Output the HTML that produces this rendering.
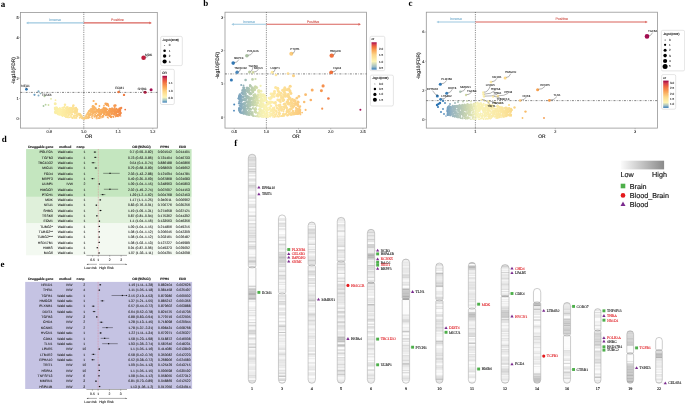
<!DOCTYPE html>
<html><head><meta charset="utf-8"><style>
html,body{margin:0;padding:0;background:#fff;width:685px;height:404px;overflow:hidden}
svg{display:block;font-family:"Liberation Sans",Arial,sans-serif;text-rendering:geometricPrecision}
</style></head><body>
<svg width="685" height="404" viewBox="0 0 685 404">
<rect width="685" height="404" fill="#fff"/>
<text x="0.8" y="7.2" font-size="9" font-weight="bold" font-family="Liberation Serif, serif">a</text>
<text x="203.3" y="5.9" font-size="9" font-weight="bold" font-family="Liberation Serif, serif">b</text>
<text x="408.4" y="6.1" font-size="9" font-weight="bold" font-family="Liberation Serif, serif">c</text>
<text x="1.7" y="141.9" font-size="9" font-weight="bold" font-family="Liberation Serif, serif">d</text>
<text x="0.5" y="267.1" font-size="9" font-weight="bold" font-family="Liberation Serif, serif">e</text>
<text x="234.3" y="146.1" font-size="9" font-weight="bold" font-family="Liberation Serif, serif">f</text>
<rect x="20.4" y="12.4" width="136.9" height="115.7" fill="#fff" stroke="#969696" stroke-width="0.8"/>
<line x1="19.1" y1="118.8" x2="20.4" y2="118.8" stroke="#969696" stroke-width="0.6"/>
<text x="18.6" y="120.2" font-size="3.9" stroke="#2a2a2a" stroke-width="0.1" text-anchor="end" fill="#2a2a2a">0</text>
<line x1="19.1" y1="98.5" x2="20.4" y2="98.5" stroke="#969696" stroke-width="0.6"/>
<text x="18.6" y="99.9" font-size="3.9" stroke="#2a2a2a" stroke-width="0.1" text-anchor="end" fill="#2a2a2a">1</text>
<line x1="19.1" y1="78.2" x2="20.4" y2="78.2" stroke="#969696" stroke-width="0.6"/>
<text x="18.6" y="79.6" font-size="3.9" stroke="#2a2a2a" stroke-width="0.1" text-anchor="end" fill="#2a2a2a">2</text>
<line x1="19.1" y1="57.9" x2="20.4" y2="57.9" stroke="#969696" stroke-width="0.6"/>
<text x="18.6" y="59.3" font-size="3.9" stroke="#2a2a2a" stroke-width="0.1" text-anchor="end" fill="#2a2a2a">3</text>
<line x1="19.1" y1="37.6" x2="20.4" y2="37.6" stroke="#969696" stroke-width="0.6"/>
<text x="18.6" y="39" font-size="3.9" stroke="#2a2a2a" stroke-width="0.1" text-anchor="end" fill="#2a2a2a">4</text>
<line x1="19.1" y1="17.3" x2="20.4" y2="17.3" stroke="#969696" stroke-width="0.6"/>
<text x="18.6" y="18.7" font-size="3.9" stroke="#2a2a2a" stroke-width="0.1" text-anchor="end" fill="#2a2a2a">5</text>
<line x1="49.3" y1="128.1" x2="49.3" y2="129.4" stroke="#969696" stroke-width="0.6"/>
<text x="49.3" y="132.6" font-size="3.9" stroke="#2a2a2a" stroke-width="0.1" text-anchor="middle" fill="#2a2a2a">0.9</text>
<line x1="83.8" y1="128.1" x2="83.8" y2="129.4" stroke="#969696" stroke-width="0.6"/>
<text x="83.8" y="132.6" font-size="3.9" stroke="#2a2a2a" stroke-width="0.1" text-anchor="middle" fill="#2a2a2a">1.0</text>
<line x1="118.3" y1="128.1" x2="118.3" y2="129.4" stroke="#969696" stroke-width="0.6"/>
<text x="118.3" y="132.6" font-size="3.9" stroke="#2a2a2a" stroke-width="0.1" text-anchor="middle" fill="#2a2a2a">1.1</text>
<line x1="152.8" y1="128.1" x2="152.8" y2="129.4" stroke="#969696" stroke-width="0.6"/>
<text x="152.8" y="132.6" font-size="3.9" stroke="#2a2a2a" stroke-width="0.1" text-anchor="middle" fill="#2a2a2a">1.2</text>
<text x="88.7" y="137.76" font-size="4.9" stroke="#2a2a2a" stroke-width="0.15" text-anchor="middle" fill="#2a2a2a">OR</text>
<text x="13.6" y="72.36" font-size="4.9" stroke="#2a2a2a" stroke-width="0.15" text-anchor="middle" fill="#2a2a2a" transform="rotate(-90 13.6 70.6)">-log10(FDR)</text>
<line x1="83.8" y1="12.4" x2="83.8" y2="128.1" stroke="#333" stroke-width="0.65" stroke-dasharray="0.8 1.0"/>
<circle cx="82.98" cy="118.81" r="0.55" fill="#fbd182"/>
<circle cx="82.27" cy="118.8" r="0.56" fill="#fbd384"/>
<circle cx="82.39" cy="118.75" r="0.56" fill="#fbd384"/>
<circle cx="76.72" cy="118.52" r="0.57" fill="#fbde91"/>
<circle cx="83.69" cy="118.52" r="0.57" fill="#fbcf80"/>
<circle cx="83.18" cy="118.47" r="0.57" fill="#fbd182"/>
<circle cx="79.81" cy="118.42" r="0.57" fill="#fbd98b"/>
<circle cx="72.46" cy="118.39" r="0.58" fill="#fce396"/>
<circle cx="81.72" cy="118.38" r="0.58" fill="#fbd486"/>
<circle cx="82.82" cy="118.33" r="0.58" fill="#fbd183"/>
<circle cx="75.26" cy="118.31" r="0.58" fill="#fbe093"/>
<circle cx="81.97" cy="118.22" r="0.58" fill="#fbd485"/>
<circle cx="82.91" cy="118.21" r="0.58" fill="#fbd182"/>
<circle cx="74.67" cy="118.21" r="0.58" fill="#fbe093"/>
<circle cx="82.28" cy="118.15" r="0.59" fill="#fbd384"/>
<circle cx="81.94" cy="118.11" r="0.59" fill="#fbd485"/>
<circle cx="73.4" cy="118.02" r="0.59" fill="#fce295"/>
<circle cx="71.73" cy="117.99" r="0.6" fill="#fce397"/>
<circle cx="81.71" cy="117.98" r="0.6" fill="#fbd486"/>
<circle cx="73.04" cy="117.86" r="0.6" fill="#fce296"/>
<circle cx="72.53" cy="117.85" r="0.6" fill="#fce296"/>
<circle cx="76.56" cy="117.82" r="0.6" fill="#fbde91"/>
<circle cx="82.86" cy="117.79" r="0.61" fill="#fbd183"/>
<circle cx="83.07" cy="117.78" r="0.61" fill="#fbd182"/>
<circle cx="74.85" cy="117.74" r="0.61" fill="#fbe093"/>
<circle cx="72.82" cy="117.7" r="0.61" fill="#fce296"/>
<circle cx="68.93" cy="117.63" r="0.61" fill="#fce69b"/>
<circle cx="75.59" cy="117.61" r="0.61" fill="#fbdf92"/>
<circle cx="67.62" cy="117.59" r="0.62" fill="#fce89d"/>
<circle cx="80.05" cy="117.54" r="0.62" fill="#fbd88a"/>
<circle cx="68.19" cy="117.53" r="0.62" fill="#fce79c"/>
<circle cx="72.45" cy="117.51" r="0.62" fill="#fce396"/>
<circle cx="76.71" cy="117.48" r="0.62" fill="#fbde91"/>
<circle cx="79.4" cy="117.48" r="0.62" fill="#fbda8c"/>
<circle cx="82.63" cy="117.47" r="0.62" fill="#fbd283"/>
<circle cx="65.97" cy="117.41" r="0.62" fill="#fce99f"/>
<circle cx="81.13" cy="117.41" r="0.62" fill="#fbd687"/>
<circle cx="74.29" cy="117.39" r="0.63" fill="#fbe194"/>
<circle cx="67.64" cy="117.39" r="0.63" fill="#fce89d"/>
<circle cx="71.76" cy="117.38" r="0.63" fill="#fce397"/>
<circle cx="80.45" cy="117.36" r="0.63" fill="#fbd789"/>
<circle cx="66.41" cy="117.35" r="0.63" fill="#fce99f"/>
<circle cx="71.64" cy="117.33" r="0.63" fill="#fce398"/>
<circle cx="69.35" cy="117.26" r="0.63" fill="#fce69b"/>
<circle cx="70.01" cy="117.25" r="0.63" fill="#fce59a"/>
<circle cx="69.78" cy="117.18" r="0.64" fill="#fce59a"/>
<circle cx="65.44" cy="117.01" r="0.64" fill="#fceaa0"/>
<circle cx="81.07" cy="116.99" r="0.65" fill="#fbd687"/>
<circle cx="66.58" cy="116.96" r="0.65" fill="#fce99f"/>
<circle cx="80.78" cy="116.87" r="0.65" fill="#fbd788"/>
<circle cx="80.65" cy="116.87" r="0.65" fill="#fbd789"/>
<circle cx="70.34" cy="116.82" r="0.65" fill="#fce599"/>
<circle cx="76.35" cy="116.76" r="0.66" fill="#fbde91"/>
<circle cx="74" cy="116.73" r="0.66" fill="#fbe194"/>
<circle cx="81.81" cy="116.57" r="0.67" fill="#fbd485"/>
<circle cx="82.12" cy="116.48" r="0.67" fill="#fbd385"/>
<circle cx="73.5" cy="116.48" r="0.67" fill="#fce195"/>
<circle cx="65.9" cy="116.47" r="0.67" fill="#fce99f"/>
<circle cx="64.3" cy="116.43" r="0.67" fill="#fdeba2"/>
<circle cx="67.31" cy="116.39" r="0.68" fill="#fce89e"/>
<circle cx="80.3" cy="116.38" r="0.68" fill="#fbd889"/>
<circle cx="64.92" cy="116.35" r="0.68" fill="#fceaa1"/>
<circle cx="71.25" cy="116.32" r="0.68" fill="#fce498"/>
<circle cx="73.97" cy="116.32" r="0.68" fill="#fbe194"/>
<circle cx="77.4" cy="116.3" r="0.68" fill="#fbdd90"/>
<circle cx="62.36" cy="116.27" r="0.68" fill="#fdeda4"/>
<circle cx="73.19" cy="116.27" r="0.68" fill="#fce295"/>
<circle cx="68.36" cy="116.26" r="0.68" fill="#fce79c"/>
<circle cx="65.46" cy="116.24" r="0.68" fill="#fceaa0"/>
<circle cx="75.67" cy="116.12" r="0.69" fill="#fbdf92"/>
<circle cx="62.76" cy="116.09" r="0.69" fill="#fdeda4"/>
<circle cx="77.78" cy="116.05" r="0.69" fill="#fbdd8f"/>
<circle cx="74.7" cy="116.05" r="0.69" fill="#fbe093"/>
<circle cx="66.91" cy="116.02" r="0.69" fill="#fce89e"/>
<circle cx="81.85" cy="115.97" r="0.7" fill="#fbd485"/>
<circle cx="73.82" cy="115.94" r="0.7" fill="#fce195"/>
<circle cx="77.29" cy="115.92" r="0.7" fill="#fbdd90"/>
<circle cx="73.72" cy="115.89" r="0.7" fill="#fce195"/>
<circle cx="71.14" cy="115.88" r="0.7" fill="#fce498"/>
<circle cx="64.54" cy="115.85" r="0.7" fill="#fceba1"/>
<circle cx="65.11" cy="115.84" r="0.7" fill="#fceaa1"/>
<circle cx="76.28" cy="115.83" r="0.7" fill="#fbde91"/>
<circle cx="80.55" cy="115.69" r="0.71" fill="#fbd789"/>
<circle cx="70.71" cy="115.67" r="0.71" fill="#fce499"/>
<circle cx="81.52" cy="115.6" r="0.71" fill="#fbd586"/>
<circle cx="65.72" cy="115.58" r="0.72" fill="#fceaa0"/>
<circle cx="80.99" cy="115.57" r="0.72" fill="#fbd688"/>
<circle cx="61.7" cy="115.55" r="0.72" fill="#fdeea5"/>
<circle cx="63.59" cy="115.48" r="0.72" fill="#fdeca3"/>
<circle cx="62.54" cy="115.47" r="0.72" fill="#fdeda4"/>
<circle cx="68.46" cy="115.43" r="0.72" fill="#fce79c"/>
<circle cx="62.95" cy="115.42" r="0.72" fill="#fdeda3"/>
<circle cx="79.49" cy="115.4" r="0.73" fill="#fbda8c"/>
<circle cx="62.61" cy="115.38" r="0.73" fill="#fdeda4"/>
<circle cx="61.5" cy="115.38" r="0.73" fill="#fdeea5"/>
<circle cx="76.42" cy="115.33" r="0.73" fill="#fbde91"/>
<circle cx="68.33" cy="115.31" r="0.73" fill="#fce79c"/>
<circle cx="75.57" cy="115.24" r="0.73" fill="#fbdf92"/>
<circle cx="80.55" cy="115.21" r="0.73" fill="#fbd789"/>
<circle cx="74.46" cy="115.21" r="0.73" fill="#fbe094"/>
<circle cx="80.35" cy="115.18" r="0.74" fill="#fbd889"/>
<circle cx="66.96" cy="115.15" r="0.74" fill="#fce89e"/>
<circle cx="68.57" cy="115.13" r="0.74" fill="#fce79c"/>
<circle cx="62.11" cy="115.11" r="0.74" fill="#fdeda5"/>
<circle cx="59.05" cy="115.08" r="0.74" fill="#fcf0a8"/>
<circle cx="64.38" cy="115.07" r="0.74" fill="#fdeba2"/>
<circle cx="66.06" cy="115.07" r="0.74" fill="#fce99f"/>
<circle cx="80.62" cy="115.05" r="0.74" fill="#fbd789"/>
<circle cx="80.27" cy="115.03" r="0.74" fill="#fbd88a"/>
<circle cx="80.03" cy="115.03" r="0.74" fill="#fbd88a"/>
<circle cx="79.11" cy="114.98" r="0.75" fill="#fbdb8d"/>
<circle cx="69.42" cy="114.91" r="0.75" fill="#fce69b"/>
<circle cx="63.99" cy="114.91" r="0.75" fill="#fdeba2"/>
<circle cx="65.28" cy="114.89" r="0.75" fill="#fceaa0"/>
<circle cx="60.02" cy="114.86" r="0.75" fill="#fdf0a7"/>
<circle cx="60.03" cy="114.81" r="0.75" fill="#fdf0a7"/>
<circle cx="61.86" cy="114.79" r="0.76" fill="#fdeea5"/>
<circle cx="66.63" cy="114.74" r="0.76" fill="#fce99e"/>
<circle cx="68.59" cy="114.73" r="0.76" fill="#fce79c"/>
<circle cx="60.12" cy="114.72" r="0.76" fill="#fdf0a7"/>
<circle cx="62.18" cy="114.7" r="0.76" fill="#fdeda5"/>
<circle cx="78.49" cy="114.68" r="0.76" fill="#fbdc8e"/>
<circle cx="77.07" cy="114.64" r="0.76" fill="#fbde90"/>
<circle cx="71.47" cy="114.63" r="0.76" fill="#fce498"/>
<circle cx="63.22" cy="114.6" r="0.76" fill="#fdeca3"/>
<circle cx="77.09" cy="114.6" r="0.77" fill="#fbde90"/>
<circle cx="80.83" cy="114.59" r="0.77" fill="#fbd688"/>
<circle cx="71.96" cy="114.59" r="0.77" fill="#fce397"/>
<circle cx="60.34" cy="114.58" r="0.77" fill="#fdefa7"/>
<circle cx="65.76" cy="114.58" r="0.77" fill="#fceaa0"/>
<circle cx="62.52" cy="114.57" r="0.77" fill="#fdeda4"/>
<circle cx="77.12" cy="114.54" r="0.77" fill="#fbde90"/>
<circle cx="71.69" cy="114.53" r="0.77" fill="#fce397"/>
<circle cx="63.36" cy="114.5" r="0.77" fill="#fdeca3"/>
<circle cx="64.23" cy="114.5" r="0.77" fill="#fdeba2"/>
<circle cx="58.87" cy="114.46" r="0.77" fill="#fcf0a8"/>
<circle cx="62.02" cy="114.45" r="0.77" fill="#fdeea5"/>
<circle cx="57.76" cy="114.44" r="0.77" fill="#fbefa8"/>
<circle cx="72.52" cy="114.42" r="0.77" fill="#fce296"/>
<circle cx="60.88" cy="114.36" r="0.78" fill="#fdefa6"/>
<circle cx="59.71" cy="114.34" r="0.78" fill="#fdf0a8"/>
<circle cx="61" cy="114.33" r="0.78" fill="#fdefa6"/>
<circle cx="64.03" cy="114.31" r="0.78" fill="#fdeba2"/>
<circle cx="69.46" cy="114.29" r="0.78" fill="#fce69b"/>
<circle cx="66.09" cy="114.27" r="0.78" fill="#fce99f"/>
<circle cx="63.67" cy="114.13" r="0.79" fill="#fdeca2"/>
<circle cx="57.36" cy="114.1" r="0.79" fill="#fbefa8"/>
<circle cx="64.59" cy="114.1" r="0.79" fill="#fceba1"/>
<circle cx="66.95" cy="114.09" r="0.79" fill="#fce89e"/>
<circle cx="70.48" cy="114.08" r="0.79" fill="#fce599"/>
<circle cx="68.77" cy="114.06" r="0.79" fill="#fce69c"/>
<circle cx="57.78" cy="114.06" r="0.79" fill="#fbefa8"/>
<circle cx="79.67" cy="114.05" r="0.79" fill="#fbd98b"/>
<circle cx="61.8" cy="114.03" r="0.79" fill="#fdeea5"/>
<circle cx="78.19" cy="113.99" r="0.8" fill="#fbdc8f"/>
<circle cx="58.12" cy="113.91" r="0.8" fill="#fcefa8"/>
<circle cx="78.81" cy="113.9" r="0.8" fill="#fbdc8d"/>
<circle cx="62.16" cy="113.87" r="0.8" fill="#fdeda5"/>
<circle cx="63.86" cy="113.84" r="0.8" fill="#fdeca2"/>
<circle cx="62.09" cy="113.8" r="0.8" fill="#fdeda5"/>
<circle cx="59.99" cy="113.77" r="0.81" fill="#fdf0a8"/>
<circle cx="58.05" cy="113.76" r="0.81" fill="#fbefa8"/>
<circle cx="67.12" cy="113.75" r="0.81" fill="#fce89e"/>
<circle cx="59.25" cy="113.75" r="0.81" fill="#fdf0a8"/>
<circle cx="68.49" cy="113.74" r="0.81" fill="#fce79c"/>
<circle cx="74.86" cy="113.73" r="0.81" fill="#fbe093"/>
<circle cx="80.16" cy="113.69" r="0.81" fill="#fbd88a"/>
<circle cx="79.19" cy="113.66" r="0.81" fill="#fbdb8c"/>
<circle cx="76.11" cy="113.64" r="0.81" fill="#fbdf91"/>
<circle cx="78.22" cy="113.62" r="0.81" fill="#fbdc8f"/>
<circle cx="62.17" cy="113.57" r="0.82" fill="#fdeda5"/>
<circle cx="55.84" cy="113.52" r="0.82" fill="#f9efa8"/>
<circle cx="78.32" cy="113.48" r="0.82" fill="#fbdc8e"/>
<circle cx="59.81" cy="113.45" r="0.82" fill="#fdf0a8"/>
<circle cx="64.98" cy="113.42" r="0.82" fill="#fceaa1"/>
<circle cx="64.63" cy="113.41" r="0.82" fill="#fceba1"/>
<circle cx="58.66" cy="113.37" r="0.83" fill="#fcf0a8"/>
<circle cx="57" cy="113.34" r="0.83" fill="#faefa8"/>
<circle cx="57.6" cy="113.28" r="0.83" fill="#fbefa8"/>
<circle cx="65.83" cy="113.27" r="0.83" fill="#fce9a0"/>
<circle cx="70.84" cy="113.26" r="0.83" fill="#fce499"/>
<circle cx="62.79" cy="113.14" r="0.84" fill="#fdeda4"/>
<circle cx="61.96" cy="113.11" r="0.84" fill="#fdeea5"/>
<circle cx="65.74" cy="113.08" r="0.84" fill="#fceaa0"/>
<circle cx="56.47" cy="113.08" r="0.84" fill="#faefa8"/>
<circle cx="72.04" cy="112.94" r="0.85" fill="#fce397"/>
<circle cx="69.36" cy="112.93" r="0.85" fill="#fce69b"/>
<circle cx="56.55" cy="112.93" r="0.85" fill="#faefa8"/>
<circle cx="67.19" cy="112.88" r="0.85" fill="#fce89e"/>
<circle cx="55.28" cy="112.87" r="0.85" fill="#f9eea8"/>
<circle cx="62.62" cy="112.87" r="0.85" fill="#fdeda4"/>
<circle cx="55.24" cy="112.83" r="0.85" fill="#f9eea8"/>
<circle cx="74.59" cy="112.82" r="0.85" fill="#fbe094"/>
<circle cx="61.58" cy="112.8" r="0.86" fill="#fdeea5"/>
<circle cx="63.28" cy="112.78" r="0.86" fill="#fdeca3"/>
<circle cx="56.06" cy="112.76" r="0.86" fill="#faefa8"/>
<circle cx="66.4" cy="112.73" r="0.86" fill="#fce99f"/>
<circle cx="66.35" cy="112.72" r="0.86" fill="#fce99f"/>
<circle cx="56.01" cy="112.71" r="0.86" fill="#f9efa8"/>
<circle cx="67.56" cy="112.71" r="0.86" fill="#fce89d"/>
<circle cx="56.72" cy="112.68" r="0.86" fill="#faefa8"/>
<circle cx="62.12" cy="112.64" r="0.86" fill="#fdeda5"/>
<circle cx="60.71" cy="112.63" r="0.86" fill="#fdefa7"/>
<circle cx="62.17" cy="112.61" r="0.86" fill="#fdeda5"/>
<circle cx="60.66" cy="112.6" r="0.86" fill="#fdefa7"/>
<circle cx="57.22" cy="112.6" r="0.86" fill="#fbefa8"/>
<circle cx="76.9" cy="112.6" r="0.87" fill="#fbde90"/>
<circle cx="57.07" cy="112.52" r="0.87" fill="#fbefa8"/>
<circle cx="60.65" cy="112.5" r="0.87" fill="#fdefa7"/>
<circle cx="57.42" cy="112.49" r="0.87" fill="#fbefa8"/>
<circle cx="55.04" cy="112.48" r="0.87" fill="#f9eea8"/>
<circle cx="75.98" cy="112.45" r="0.87" fill="#fbdf92"/>
<circle cx="64.92" cy="112.44" r="0.87" fill="#fceaa1"/>
<circle cx="67.28" cy="112.39" r="0.88" fill="#fce89e"/>
<circle cx="64.78" cy="112.38" r="0.88" fill="#fceba1"/>
<circle cx="60.37" cy="112.38" r="0.88" fill="#fdefa7"/>
<circle cx="74.85" cy="112.38" r="0.88" fill="#fbe093"/>
<circle cx="68.66" cy="112.37" r="0.88" fill="#fce79c"/>
<circle cx="60.01" cy="112.33" r="0.88" fill="#fdf0a8"/>
<circle cx="55.02" cy="112.32" r="0.88" fill="#f9eea8"/>
<circle cx="62.49" cy="112.32" r="0.88" fill="#fdeda4"/>
<circle cx="69.91" cy="112.31" r="0.88" fill="#fce59a"/>
<circle cx="61.09" cy="112.29" r="0.88" fill="#fdeea6"/>
<circle cx="71.47" cy="112.28" r="0.88" fill="#fce498"/>
<circle cx="56.62" cy="112.28" r="0.88" fill="#faefa8"/>
<circle cx="67.29" cy="112.27" r="0.88" fill="#fce89e"/>
<circle cx="64.18" cy="112.25" r="0.88" fill="#fdeba2"/>
<circle cx="55.55" cy="112.23" r="0.88" fill="#f9eea8"/>
<circle cx="64.35" cy="112.23" r="0.88" fill="#fdeba2"/>
<circle cx="63.44" cy="112.22" r="0.88" fill="#fdeca3"/>
<circle cx="75.32" cy="112.21" r="0.88" fill="#fbdf93"/>
<circle cx="68.54" cy="112.19" r="0.89" fill="#fce79c"/>
<circle cx="58.41" cy="112.18" r="0.89" fill="#fcf0a8"/>
<circle cx="70.82" cy="112.16" r="0.89" fill="#fce499"/>
<circle cx="72.77" cy="112.16" r="0.89" fill="#fce296"/>
<circle cx="57.21" cy="112.15" r="0.89" fill="#fbefa8"/>
<circle cx="63.91" cy="112.15" r="0.89" fill="#fdeca2"/>
<circle cx="58.85" cy="112.13" r="0.89" fill="#fcf0a8"/>
<circle cx="65.92" cy="112.07" r="0.89" fill="#fce99f"/>
<circle cx="64.24" cy="112.04" r="0.89" fill="#fdeba2"/>
<circle cx="71.65" cy="112.04" r="0.89" fill="#fce398"/>
<circle cx="56.76" cy="112.04" r="0.89" fill="#faefa8"/>
<circle cx="59.14" cy="111.99" r="0.9" fill="#fdf0a8"/>
<circle cx="59.78" cy="111.92" r="0.9" fill="#fdf0a8"/>
<circle cx="62.66" cy="111.89" r="0.9" fill="#fdeda4"/>
<circle cx="55.01" cy="111.89" r="0.9" fill="#f9eea8"/>
<circle cx="67.7" cy="111.88" r="0.9" fill="#fce89d"/>
<circle cx="68.23" cy="111.85" r="0.9" fill="#fce79c"/>
<circle cx="69.73" cy="111.84" r="0.9" fill="#fce59a"/>
<circle cx="61.04" cy="111.84" r="0.9" fill="#fdefa6"/>
<circle cx="55.04" cy="111.83" r="0.9" fill="#f9eea8"/>
<circle cx="73.7" cy="111.78" r="0.91" fill="#fce195"/>
<circle cx="61.41" cy="111.77" r="0.91" fill="#fdeea6"/>
<circle cx="56.17" cy="111.75" r="0.91" fill="#faefa8"/>
<circle cx="69.91" cy="111.73" r="0.91" fill="#fce59a"/>
<circle cx="64.24" cy="111.71" r="0.91" fill="#fdeba2"/>
<circle cx="67.5" cy="111.68" r="0.91" fill="#fce89d"/>
<circle cx="77.01" cy="111.63" r="0.91" fill="#fbde90"/>
<circle cx="57.41" cy="111.63" r="0.91" fill="#fbefa8"/>
<circle cx="59.89" cy="111.61" r="0.91" fill="#fdf0a8"/>
<circle cx="68.57" cy="111.58" r="0.92" fill="#fce79c"/>
<circle cx="65.95" cy="111.57" r="0.92" fill="#fce99f"/>
<circle cx="63.47" cy="111.56" r="0.92" fill="#fdeca3"/>
<circle cx="56.93" cy="111.49" r="0.92" fill="#faefa8"/>
<circle cx="75.01" cy="111.47" r="0.92" fill="#fbe093"/>
<circle cx="66.07" cy="111.45" r="0.92" fill="#fce99f"/>
<circle cx="57.14" cy="111.45" r="0.92" fill="#fbefa8"/>
<circle cx="63.66" cy="111.4" r="0.93" fill="#fdeca3"/>
<circle cx="66.98" cy="111.39" r="0.93" fill="#fce89e"/>
<circle cx="73.21" cy="111.38" r="0.93" fill="#fce295"/>
<circle cx="57.26" cy="111.38" r="0.93" fill="#fbefa8"/>
<circle cx="75.04" cy="111.37" r="0.93" fill="#fbe093"/>
<circle cx="63" cy="111.36" r="0.93" fill="#fdeca3"/>
<circle cx="57.31" cy="111.36" r="0.93" fill="#fbefa8"/>
<circle cx="55.56" cy="111.35" r="0.93" fill="#f9eea8"/>
<circle cx="66.77" cy="111.34" r="0.93" fill="#fce89e"/>
<circle cx="66.01" cy="111.33" r="0.93" fill="#fce99f"/>
<circle cx="76" cy="111.32" r="0.93" fill="#fbdf92"/>
<circle cx="56.1" cy="111.29" r="0.93" fill="#faefa8"/>
<circle cx="66.1" cy="111.27" r="0.93" fill="#fce99f"/>
<circle cx="64.71" cy="111.24" r="0.93" fill="#fceba1"/>
<circle cx="68.96" cy="111.23" r="0.93" fill="#fce69b"/>
<circle cx="70.79" cy="111" r="0.95" fill="#fce499"/>
<circle cx="67.88" cy="110.97" r="0.95" fill="#fce79d"/>
<circle cx="60.07" cy="110.93" r="0.95" fill="#fdf0a7"/>
<circle cx="64.97" cy="110.89" r="0.95" fill="#fceaa1"/>
<circle cx="72.63" cy="110.87" r="0.95" fill="#fce296"/>
<circle cx="69.81" cy="110.86" r="0.95" fill="#fce59a"/>
<circle cx="60.05" cy="110.85" r="0.95" fill="#fdf0a7"/>
<circle cx="59.89" cy="110.82" r="0.95" fill="#fdf0a8"/>
<circle cx="67.01" cy="110.82" r="0.95" fill="#fce89e"/>
<circle cx="76.9" cy="110.81" r="0.95" fill="#fbde90"/>
<circle cx="59.68" cy="110.81" r="0.95" fill="#fdf0a8"/>
<circle cx="72.27" cy="110.77" r="0.96" fill="#fce397"/>
<circle cx="58.52" cy="110.77" r="0.96" fill="#fcf0a8"/>
<circle cx="64.06" cy="110.76" r="0.96" fill="#fdeba2"/>
<circle cx="57.49" cy="110.76" r="0.96" fill="#fbefa8"/>
<circle cx="62.77" cy="110.71" r="0.96" fill="#fdeda4"/>
<circle cx="67.37" cy="110.7" r="0.96" fill="#fce89d"/>
<circle cx="55.84" cy="110.62" r="0.96" fill="#f9efa8"/>
<circle cx="55.81" cy="110.6" r="0.96" fill="#f9efa8"/>
<circle cx="76.46" cy="110.59" r="0.97" fill="#fbde91"/>
<circle cx="65.49" cy="110.58" r="0.97" fill="#fceaa0"/>
<circle cx="56.91" cy="110.5" r="0.97" fill="#faefa8"/>
<circle cx="62.27" cy="110.42" r="0.97" fill="#fdeda4"/>
<circle cx="67.88" cy="110.39" r="0.98" fill="#fce79d"/>
<circle cx="70.3" cy="110.37" r="0.98" fill="#fce599"/>
<circle cx="57.28" cy="110.36" r="0.98" fill="#fbefa8"/>
<circle cx="58.36" cy="110.22" r="0.98" fill="#fcf0a8"/>
<circle cx="76.08" cy="110.18" r="0.99" fill="#fbdf91"/>
<circle cx="75.32" cy="110.18" r="0.99" fill="#fbdf93"/>
<circle cx="64.72" cy="110.13" r="0.99" fill="#fceba1"/>
<circle cx="57.47" cy="110.12" r="0.99" fill="#fbefa8"/>
<circle cx="74.62" cy="110.12" r="0.99" fill="#fbe093"/>
<circle cx="68.7" cy="110.07" r="0.99" fill="#fce69c"/>
<circle cx="67.07" cy="110.04" r="0.99" fill="#fce89e"/>
<circle cx="59.34" cy="110.04" r="0.99" fill="#fdf0a8"/>
<circle cx="70.78" cy="110.01" r="0.99" fill="#fce499"/>
<circle cx="58.99" cy="110" r="0.99" fill="#fcf0a8"/>
<circle cx="62.66" cy="109.85" r="1" fill="#fdeda4"/>
<circle cx="75.4" cy="109.78" r="1.01" fill="#fbdf92"/>
<circle cx="63.96" cy="109.75" r="1.01" fill="#fdeba2"/>
<circle cx="68.73" cy="109.75" r="1.01" fill="#fce69c"/>
<circle cx="59.72" cy="109.73" r="1.01" fill="#fdf0a8"/>
<circle cx="77.05" cy="109.73" r="1.01" fill="#fbde90"/>
<circle cx="56.16" cy="109.73" r="1.01" fill="#faefa8"/>
<circle cx="55.13" cy="109.7" r="1.01" fill="#f9eea8"/>
<circle cx="61.72" cy="109.69" r="1.01" fill="#fdeea5"/>
<circle cx="63.98" cy="109.68" r="1.01" fill="#fdeba2"/>
<circle cx="63.91" cy="109.68" r="1.01" fill="#fdeca2"/>
<circle cx="76.52" cy="109.64" r="1.01" fill="#fbde91"/>
<circle cx="58.91" cy="109.63" r="1.01" fill="#fcf0a8"/>
<circle cx="77.31" cy="109.55" r="1.02" fill="#fbdd90"/>
<circle cx="57.51" cy="109.52" r="1.02" fill="#fbefa8"/>
<circle cx="61.42" cy="109.52" r="1.02" fill="#fdeea6"/>
<circle cx="67.03" cy="109.48" r="1.02" fill="#fce89e"/>
<circle cx="59.88" cy="109.47" r="1.02" fill="#fdf0a8"/>
<circle cx="57.37" cy="109.43" r="1.02" fill="#fbefa8"/>
<circle cx="71.15" cy="109.43" r="1.02" fill="#fce498"/>
<circle cx="72.1" cy="109.42" r="1.02" fill="#fce397"/>
<circle cx="76.01" cy="109.37" r="1.03" fill="#fbdf92"/>
<circle cx="72.86" cy="109.35" r="1.03" fill="#fce296"/>
<circle cx="67.26" cy="109.34" r="1.03" fill="#fce89e"/>
<circle cx="67.46" cy="109.33" r="1.03" fill="#fce89d"/>
<circle cx="55.36" cy="109.33" r="1.03" fill="#f9eea8"/>
<circle cx="76.74" cy="109.31" r="1.03" fill="#fbde91"/>
<circle cx="56.72" cy="109.25" r="1.03" fill="#faefa8"/>
<circle cx="71.27" cy="109.13" r="1.04" fill="#fce498"/>
<circle cx="67.59" cy="109.08" r="1.04" fill="#fce89d"/>
<circle cx="58.51" cy="109.05" r="1.04" fill="#fcf0a8"/>
<circle cx="55.63" cy="109.01" r="1.04" fill="#f9eea8"/>
<circle cx="68.58" cy="108.99" r="1.05" fill="#fce79c"/>
<circle cx="67.81" cy="108.98" r="1.05" fill="#fce79d"/>
<circle cx="59.14" cy="108.97" r="1.05" fill="#fdf0a8"/>
<circle cx="69.02" cy="108.97" r="1.05" fill="#fce69b"/>
<circle cx="54.92" cy="108.94" r="1.05" fill="#f8eea8"/>
<circle cx="68.99" cy="108.93" r="1.05" fill="#fce69b"/>
<circle cx="59.77" cy="108.86" r="1.05" fill="#fdf0a8"/>
<circle cx="70.65" cy="108.84" r="1.05" fill="#fce499"/>
<circle cx="67.79" cy="108.84" r="1.05" fill="#fce79d"/>
<circle cx="54.96" cy="108.82" r="1.05" fill="#f8eea8"/>
<circle cx="72.78" cy="108.81" r="1.05" fill="#fce296"/>
<circle cx="68.1" cy="108.7" r="1.06" fill="#fce79c"/>
<circle cx="72.15" cy="108.7" r="1.06" fill="#fce397"/>
<circle cx="66.46" cy="108.68" r="1.06" fill="#fce99f"/>
<circle cx="69.54" cy="108.52" r="1.07" fill="#fce69a"/>
<circle cx="59.66" cy="108.29" r="1.08" fill="#fdf0a8"/>
<circle cx="57.05" cy="108.25" r="1.08" fill="#faefa8"/>
<circle cx="74.56" cy="108.22" r="1.08" fill="#fbe094"/>
<circle cx="71.37" cy="108.05" r="1.09" fill="#fce498"/>
<circle cx="70.47" cy="107.99" r="1.1" fill="#fce599"/>
<circle cx="76" cy="107.9" r="1.1" fill="#fbdf92"/>
<circle cx="70.1" cy="107.89" r="1.1" fill="#fce59a"/>
<circle cx="55.3" cy="107.89" r="1.1" fill="#f9eea8"/>
<circle cx="54.86" cy="107.88" r="1.1" fill="#f8eea8"/>
<circle cx="63.56" cy="107.87" r="1.1" fill="#fdeca3"/>
<circle cx="62.35" cy="107.79" r="1.11" fill="#fdeda4"/>
<circle cx="56.82" cy="107.69" r="1.11" fill="#faefa8"/>
<circle cx="66.87" cy="107.42" r="1.12" fill="#fce89e"/>
<circle cx="67.75" cy="107.34" r="1.13" fill="#fce79d"/>
<circle cx="84" cy="118.9" r="0.55" fill="#fbce7f"/>
<circle cx="84.82" cy="118.89" r="0.55" fill="#fbcc7d"/>
<circle cx="84.35" cy="118.83" r="0.55" fill="#fbcd7e"/>
<circle cx="84.19" cy="118.8" r="0.56" fill="#fbce7f"/>
<circle cx="84.19" cy="118.78" r="0.56" fill="#fbce7f"/>
<circle cx="96.38" cy="118.75" r="0.56" fill="#f9b263"/>
<circle cx="84.4" cy="118.71" r="0.56" fill="#fbcd7e"/>
<circle cx="86.85" cy="118.7" r="0.56" fill="#fbc576"/>
<circle cx="97.14" cy="118.69" r="0.56" fill="#f9b162"/>
<circle cx="85.86" cy="118.58" r="0.57" fill="#fbc879"/>
<circle cx="85.6" cy="118.52" r="0.57" fill="#fbc97a"/>
<circle cx="88.27" cy="118.5" r="0.57" fill="#fac172"/>
<circle cx="99.46" cy="118.49" r="0.57" fill="#f9ae5f"/>
<circle cx="98.71" cy="118.42" r="0.57" fill="#f9af60"/>
<circle cx="84.07" cy="118.4" r="0.57" fill="#fbce7f"/>
<circle cx="86.91" cy="118.4" r="0.58" fill="#fbc576"/>
<circle cx="92.55" cy="118.39" r="0.58" fill="#fab768"/>
<circle cx="86.44" cy="118.37" r="0.58" fill="#fbc778"/>
<circle cx="84.38" cy="118.34" r="0.58" fill="#fbcd7e"/>
<circle cx="84.12" cy="118.3" r="0.58" fill="#fbce7f"/>
<circle cx="99.8" cy="118.25" r="0.58" fill="#f9ae5e"/>
<circle cx="96.15" cy="118.15" r="0.59" fill="#f9b263"/>
<circle cx="92.08" cy="118.11" r="0.59" fill="#fab768"/>
<circle cx="100.94" cy="118.1" r="0.59" fill="#f9ac5d"/>
<circle cx="97.79" cy="118.01" r="0.59" fill="#f9b061"/>
<circle cx="86.86" cy="118.01" r="0.59" fill="#fbc576"/>
<circle cx="97.94" cy="117.99" r="0.6" fill="#f9b061"/>
<circle cx="85.04" cy="117.97" r="0.6" fill="#fbcb7c"/>
<circle cx="85.41" cy="117.97" r="0.6" fill="#fbca7b"/>
<circle cx="87.66" cy="117.94" r="0.6" fill="#fac374"/>
<circle cx="108.42" cy="117.92" r="0.6" fill="#f7a254"/>
<circle cx="88.44" cy="117.91" r="0.6" fill="#fac071"/>
<circle cx="86.21" cy="117.86" r="0.6" fill="#fbc778"/>
<circle cx="84.88" cy="117.74" r="0.61" fill="#fbcc7d"/>
<circle cx="88.61" cy="117.7" r="0.61" fill="#fac071"/>
<circle cx="89.54" cy="117.7" r="0.61" fill="#fabd6e"/>
<circle cx="84.77" cy="117.65" r="0.61" fill="#fbcc7d"/>
<circle cx="98.86" cy="117.63" r="0.61" fill="#f9af5f"/>
<circle cx="111.45" cy="117.61" r="0.61" fill="#f69d51"/>
<circle cx="87.56" cy="117.59" r="0.62" fill="#fac374"/>
<circle cx="88.29" cy="117.59" r="0.62" fill="#fac172"/>
<circle cx="94.21" cy="117.58" r="0.62" fill="#f9b565"/>
<circle cx="102.1" cy="117.55" r="0.62" fill="#f8ab5b"/>
<circle cx="107.39" cy="117.54" r="0.62" fill="#f7a355"/>
<circle cx="110.64" cy="117.5" r="0.62" fill="#f79e52"/>
<circle cx="89.72" cy="117.4" r="0.62" fill="#fabc6d"/>
<circle cx="89.67" cy="117.37" r="0.63" fill="#fabc6d"/>
<circle cx="100.3" cy="117.33" r="0.63" fill="#f9ad5d"/>
<circle cx="107.52" cy="117.32" r="0.63" fill="#f7a355"/>
<circle cx="87.79" cy="117.31" r="0.63" fill="#fac273"/>
<circle cx="96.47" cy="117.31" r="0.63" fill="#f9b262"/>
<circle cx="113.52" cy="117.24" r="0.63" fill="#f69a4f"/>
<circle cx="86.94" cy="117.21" r="0.63" fill="#fbc576"/>
<circle cx="111.74" cy="117.19" r="0.64" fill="#f69c51"/>
<circle cx="87.46" cy="117.19" r="0.64" fill="#fac374"/>
<circle cx="91.88" cy="117.17" r="0.64" fill="#fab868"/>
<circle cx="96.06" cy="117.12" r="0.64" fill="#f9b263"/>
<circle cx="101.92" cy="117.11" r="0.64" fill="#f8ab5b"/>
<circle cx="96.86" cy="117.08" r="0.64" fill="#f9b162"/>
<circle cx="96.49" cy="117.06" r="0.64" fill="#f9b262"/>
<circle cx="88.27" cy="117.03" r="0.64" fill="#fac172"/>
<circle cx="102.79" cy="116.94" r="0.65" fill="#f8aa5a"/>
<circle cx="110.4" cy="116.91" r="0.65" fill="#f79f52"/>
<circle cx="85.04" cy="116.9" r="0.65" fill="#fbcb7c"/>
<circle cx="111.54" cy="116.88" r="0.65" fill="#f69d51"/>
<circle cx="99.28" cy="116.88" r="0.65" fill="#f9ae5f"/>
<circle cx="103.04" cy="116.87" r="0.65" fill="#f8aa5a"/>
<circle cx="89.56" cy="116.85" r="0.65" fill="#fabd6e"/>
<circle cx="103.78" cy="116.82" r="0.65" fill="#f8a959"/>
<circle cx="115.12" cy="116.8" r="0.65" fill="#f6974d"/>
<circle cx="110.65" cy="116.78" r="0.66" fill="#f79e52"/>
<circle cx="96.75" cy="116.77" r="0.66" fill="#f9b262"/>
<circle cx="86.39" cy="116.77" r="0.66" fill="#fbc778"/>
<circle cx="99.55" cy="116.77" r="0.66" fill="#f9ae5e"/>
<circle cx="88.12" cy="116.77" r="0.66" fill="#fac172"/>
<circle cx="91.75" cy="116.76" r="0.66" fill="#fab869"/>
<circle cx="113.35" cy="116.71" r="0.66" fill="#f69a4f"/>
<circle cx="86.66" cy="116.7" r="0.66" fill="#fbc677"/>
<circle cx="85.14" cy="116.66" r="0.66" fill="#fbcb7c"/>
<circle cx="102.22" cy="116.64" r="0.66" fill="#f8ab5b"/>
<circle cx="111.4" cy="116.63" r="0.66" fill="#f69d51"/>
<circle cx="110.05" cy="116.61" r="0.66" fill="#f79f52"/>
<circle cx="115.85" cy="116.54" r="0.67" fill="#f6964c"/>
<circle cx="86.09" cy="116.54" r="0.67" fill="#fbc879"/>
<circle cx="118.14" cy="116.53" r="0.67" fill="#f5924a"/>
<circle cx="117.68" cy="116.44" r="0.67" fill="#f5934b"/>
<circle cx="109.38" cy="116.42" r="0.67" fill="#f7a053"/>
<circle cx="94.68" cy="116.42" r="0.67" fill="#f9b465"/>
<circle cx="100.92" cy="116.42" r="0.67" fill="#f9ac5d"/>
<circle cx="94.66" cy="116.34" r="0.68" fill="#f9b465"/>
<circle cx="113.12" cy="116.34" r="0.68" fill="#f69a4f"/>
<circle cx="116.91" cy="116.33" r="0.68" fill="#f5944b"/>
<circle cx="96.7" cy="116.32" r="0.68" fill="#f9b262"/>
<circle cx="100.06" cy="116.28" r="0.68" fill="#f9ad5e"/>
<circle cx="94.94" cy="116.27" r="0.68" fill="#f9b464"/>
<circle cx="110.73" cy="116.27" r="0.68" fill="#f79e52"/>
<circle cx="88.5" cy="116.23" r="0.68" fill="#fac071"/>
<circle cx="113.12" cy="116.22" r="0.68" fill="#f69a4f"/>
<circle cx="88.35" cy="116.18" r="0.69" fill="#fac071"/>
<circle cx="116.07" cy="116.15" r="0.69" fill="#f5964c"/>
<circle cx="107.96" cy="116.12" r="0.69" fill="#f7a254"/>
<circle cx="86.6" cy="116.09" r="0.69" fill="#fbc677"/>
<circle cx="85.54" cy="116.04" r="0.69" fill="#fbc97a"/>
<circle cx="92.85" cy="116.04" r="0.69" fill="#fab667"/>
<circle cx="120.75" cy="116.02" r="0.69" fill="#f28948"/>
<circle cx="99.75" cy="116.01" r="0.69" fill="#f9ae5e"/>
<circle cx="88.81" cy="115.93" r="0.7" fill="#fabf70"/>
<circle cx="102.13" cy="115.93" r="0.7" fill="#f8ab5b"/>
<circle cx="102.63" cy="115.87" r="0.7" fill="#f8aa5a"/>
<circle cx="93.06" cy="115.84" r="0.7" fill="#fab667"/>
<circle cx="99.29" cy="115.83" r="0.7" fill="#f9ae5f"/>
<circle cx="92.84" cy="115.82" r="0.7" fill="#fab667"/>
<circle cx="117.77" cy="115.8" r="0.7" fill="#f5934b"/>
<circle cx="96.16" cy="115.8" r="0.7" fill="#f9b263"/>
<circle cx="97.12" cy="115.8" r="0.71" fill="#f9b162"/>
<circle cx="96.51" cy="115.78" r="0.71" fill="#f9b262"/>
<circle cx="119.48" cy="115.76" r="0.71" fill="#f48d49"/>
<circle cx="95.26" cy="115.75" r="0.71" fill="#f9b364"/>
<circle cx="89.62" cy="115.7" r="0.71" fill="#fabc6d"/>
<circle cx="102.95" cy="115.7" r="0.71" fill="#f8aa5a"/>
<circle cx="106.81" cy="115.65" r="0.71" fill="#f7a456"/>
<circle cx="97.04" cy="115.65" r="0.71" fill="#f9b162"/>
<circle cx="109.43" cy="115.64" r="0.71" fill="#f7a053"/>
<circle cx="103.46" cy="115.63" r="0.71" fill="#f8a959"/>
<circle cx="110.33" cy="115.58" r="0.72" fill="#f79f52"/>
<circle cx="97.65" cy="115.57" r="0.72" fill="#f9b061"/>
<circle cx="100.16" cy="115.54" r="0.72" fill="#f9ad5e"/>
<circle cx="105.75" cy="115.52" r="0.72" fill="#f8a657"/>
<circle cx="89.35" cy="115.48" r="0.72" fill="#fabd6e"/>
<circle cx="103.48" cy="115.41" r="0.72" fill="#f8a959"/>
<circle cx="117.14" cy="115.41" r="0.72" fill="#f5944b"/>
<circle cx="98.41" cy="115.4" r="0.73" fill="#f9af60"/>
<circle cx="108.79" cy="115.39" r="0.73" fill="#f7a154"/>
<circle cx="119.38" cy="115.38" r="0.73" fill="#f48e49"/>
<circle cx="117.3" cy="115.38" r="0.73" fill="#f5944b"/>
<circle cx="89.19" cy="115.37" r="0.73" fill="#fabe6f"/>
<circle cx="97.46" cy="115.36" r="0.73" fill="#f9b161"/>
<circle cx="89.27" cy="115.29" r="0.73" fill="#fabe6f"/>
<circle cx="90.99" cy="115.25" r="0.73" fill="#fab96a"/>
<circle cx="116.63" cy="115.24" r="0.73" fill="#f5954c"/>
<circle cx="116.05" cy="115.16" r="0.74" fill="#f5964c"/>
<circle cx="118.92" cy="115.14" r="0.74" fill="#f49049"/>
<circle cx="119.61" cy="115.09" r="0.74" fill="#f48d49"/>
<circle cx="86.34" cy="115.08" r="0.74" fill="#fbc778"/>
<circle cx="90.58" cy="115.08" r="0.74" fill="#fab96a"/>
<circle cx="99.55" cy="115.06" r="0.74" fill="#f9ae5e"/>
<circle cx="99.08" cy="115.03" r="0.74" fill="#f9af5f"/>
<circle cx="105.86" cy="115.02" r="0.74" fill="#f8a657"/>
<circle cx="115.13" cy="115.01" r="0.74" fill="#f6974d"/>
<circle cx="97.63" cy="115.01" r="0.74" fill="#f9b061"/>
<circle cx="108.26" cy="115" r="0.74" fill="#f7a254"/>
<circle cx="114.67" cy="114.98" r="0.75" fill="#f6984e"/>
<circle cx="116.56" cy="114.95" r="0.75" fill="#f5954c"/>
<circle cx="115.95" cy="114.93" r="0.75" fill="#f6964c"/>
<circle cx="94.83" cy="114.92" r="0.75" fill="#f9b465"/>
<circle cx="86.36" cy="114.91" r="0.75" fill="#fbc778"/>
<circle cx="108.8" cy="114.88" r="0.75" fill="#f7a154"/>
<circle cx="95.55" cy="114.85" r="0.75" fill="#f9b364"/>
<circle cx="90.51" cy="114.84" r="0.75" fill="#faba6b"/>
<circle cx="120.43" cy="114.84" r="0.75" fill="#f38a48"/>
<circle cx="111.65" cy="114.82" r="0.75" fill="#f69d51"/>
<circle cx="117.08" cy="114.81" r="0.75" fill="#f5944b"/>
<circle cx="89.11" cy="114.79" r="0.76" fill="#fabe6f"/>
<circle cx="90.99" cy="114.79" r="0.76" fill="#fab96a"/>
<circle cx="107.45" cy="114.79" r="0.76" fill="#f7a355"/>
<circle cx="87.58" cy="114.75" r="0.76" fill="#fac374"/>
<circle cx="103.64" cy="114.74" r="0.76" fill="#f8a959"/>
<circle cx="106.43" cy="114.7" r="0.76" fill="#f8a556"/>
<circle cx="88.04" cy="114.69" r="0.76" fill="#fac172"/>
<circle cx="107.16" cy="114.68" r="0.76" fill="#f7a455"/>
<circle cx="98.03" cy="114.63" r="0.76" fill="#f9b060"/>
<circle cx="114.01" cy="114.6" r="0.76" fill="#f6994e"/>
<circle cx="88.13" cy="114.57" r="0.77" fill="#fac172"/>
<circle cx="89.4" cy="114.57" r="0.77" fill="#fabd6e"/>
<circle cx="101.02" cy="114.55" r="0.77" fill="#f9ac5d"/>
<circle cx="100.61" cy="114.54" r="0.77" fill="#f9ad5d"/>
<circle cx="97.74" cy="114.52" r="0.77" fill="#f9b061"/>
<circle cx="99.05" cy="114.52" r="0.77" fill="#f9af5f"/>
<circle cx="107.9" cy="114.52" r="0.77" fill="#f7a355"/>
<circle cx="117.22" cy="114.51" r="0.77" fill="#f5944b"/>
<circle cx="108.24" cy="114.5" r="0.77" fill="#f7a254"/>
<circle cx="104.55" cy="114.49" r="0.77" fill="#f8a858"/>
<circle cx="118.46" cy="114.48" r="0.77" fill="#f5914a"/>
<circle cx="87.14" cy="114.46" r="0.77" fill="#fbc475"/>
<circle cx="109.23" cy="114.45" r="0.77" fill="#f7a053"/>
<circle cx="92.15" cy="114.43" r="0.77" fill="#fab768"/>
<circle cx="88.2" cy="114.36" r="0.78" fill="#fac172"/>
<circle cx="118.82" cy="114.36" r="0.78" fill="#f49049"/>
<circle cx="92.11" cy="114.35" r="0.78" fill="#fab768"/>
<circle cx="111.77" cy="114.34" r="0.78" fill="#f69c51"/>
<circle cx="106.47" cy="114.3" r="0.78" fill="#f8a556"/>
<circle cx="101.44" cy="114.29" r="0.78" fill="#f8ac5c"/>
<circle cx="113.51" cy="114.24" r="0.78" fill="#f69a4f"/>
<circle cx="110.1" cy="114.2" r="0.78" fill="#f79f52"/>
<circle cx="89.36" cy="114.2" r="0.79" fill="#fabd6e"/>
<circle cx="95.04" cy="114.19" r="0.79" fill="#f9b464"/>
<circle cx="87.15" cy="114.16" r="0.79" fill="#fbc475"/>
<circle cx="89.65" cy="114.03" r="0.79" fill="#fabc6d"/>
<circle cx="109.6" cy="114.02" r="0.79" fill="#f7a053"/>
<circle cx="87.42" cy="114" r="0.8" fill="#fac374"/>
<circle cx="114.29" cy="113.95" r="0.8" fill="#f6984e"/>
<circle cx="119.68" cy="113.91" r="0.8" fill="#f48d49"/>
<circle cx="105.07" cy="113.85" r="0.8" fill="#f8a757"/>
<circle cx="113.75" cy="113.84" r="0.8" fill="#f6994f"/>
<circle cx="107.32" cy="113.79" r="0.81" fill="#f7a455"/>
<circle cx="116.34" cy="113.78" r="0.81" fill="#f5954c"/>
<circle cx="98.87" cy="113.78" r="0.81" fill="#f9af5f"/>
<circle cx="93.97" cy="113.72" r="0.81" fill="#fab566"/>
<circle cx="111.97" cy="113.71" r="0.81" fill="#f69c50"/>
<circle cx="107.99" cy="113.7" r="0.81" fill="#f7a254"/>
<circle cx="93.08" cy="113.7" r="0.81" fill="#fab667"/>
<circle cx="107.35" cy="113.68" r="0.81" fill="#f7a355"/>
<circle cx="115.92" cy="113.62" r="0.81" fill="#f6964c"/>
<circle cx="112.36" cy="113.62" r="0.81" fill="#f69b50"/>
<circle cx="100.23" cy="113.57" r="0.82" fill="#f9ad5e"/>
<circle cx="90.65" cy="113.57" r="0.82" fill="#fab96a"/>
<circle cx="93.4" cy="113.56" r="0.82" fill="#fab666"/>
<circle cx="107.29" cy="113.55" r="0.82" fill="#f7a455"/>
<circle cx="120.41" cy="113.55" r="0.82" fill="#f38a48"/>
<circle cx="119.97" cy="113.53" r="0.82" fill="#f38c48"/>
<circle cx="104.27" cy="113.49" r="0.82" fill="#f8a858"/>
<circle cx="101.19" cy="113.48" r="0.82" fill="#f8ac5c"/>
<circle cx="112.01" cy="113.48" r="0.82" fill="#f69c50"/>
<circle cx="120.55" cy="113.45" r="0.82" fill="#f38948"/>
<circle cx="99.84" cy="113.44" r="0.82" fill="#f9ae5e"/>
<circle cx="115.97" cy="113.4" r="0.83" fill="#f6964c"/>
<circle cx="111.68" cy="113.39" r="0.83" fill="#f69d51"/>
<circle cx="116.51" cy="113.34" r="0.83" fill="#f5954c"/>
<circle cx="114.41" cy="113.34" r="0.83" fill="#f6984e"/>
<circle cx="88.92" cy="113.31" r="0.83" fill="#fabf70"/>
<circle cx="87.47" cy="113.28" r="0.83" fill="#fac374"/>
<circle cx="92.59" cy="113.24" r="0.83" fill="#fab768"/>
<circle cx="103.37" cy="113.23" r="0.83" fill="#f8a959"/>
<circle cx="87.59" cy="113.23" r="0.83" fill="#fac374"/>
<circle cx="109.88" cy="113.22" r="0.83" fill="#f79f53"/>
<circle cx="108.66" cy="113.21" r="0.83" fill="#f7a154"/>
<circle cx="96.37" cy="113.17" r="0.84" fill="#f9b263"/>
<circle cx="103.91" cy="113.16" r="0.84" fill="#f8a959"/>
<circle cx="112.1" cy="113.07" r="0.84" fill="#f69c50"/>
<circle cx="119.26" cy="113.03" r="0.84" fill="#f48e49"/>
<circle cx="108.43" cy="113" r="0.85" fill="#f7a254"/>
<circle cx="103.41" cy="112.99" r="0.85" fill="#f8a959"/>
<circle cx="119.46" cy="112.98" r="0.85" fill="#f48e49"/>
<circle cx="92.98" cy="112.97" r="0.85" fill="#fab667"/>
<circle cx="88.65" cy="112.97" r="0.85" fill="#fac071"/>
<circle cx="101.47" cy="112.87" r="0.85" fill="#f8ac5c"/>
<circle cx="90.78" cy="112.85" r="0.85" fill="#fab96a"/>
<circle cx="110.84" cy="112.84" r="0.85" fill="#f79e52"/>
<circle cx="100.9" cy="112.78" r="0.86" fill="#f9ac5d"/>
<circle cx="88.09" cy="112.67" r="0.86" fill="#fac172"/>
<circle cx="106.82" cy="112.66" r="0.86" fill="#f7a456"/>
<circle cx="120.74" cy="112.64" r="0.86" fill="#f28948"/>
<circle cx="95.47" cy="112.63" r="0.86" fill="#f9b364"/>
<circle cx="104.68" cy="112.62" r="0.86" fill="#f8a858"/>
<circle cx="116.09" cy="112.6" r="0.86" fill="#f5964c"/>
<circle cx="105.24" cy="112.52" r="0.87" fill="#f8a757"/>
<circle cx="99.54" cy="112.51" r="0.87" fill="#f9ae5e"/>
<circle cx="92.71" cy="112.47" r="0.87" fill="#fab767"/>
<circle cx="104.77" cy="112.46" r="0.87" fill="#f8a858"/>
<circle cx="101.99" cy="112.46" r="0.87" fill="#f8ab5b"/>
<circle cx="114.65" cy="112.46" r="0.87" fill="#f6984e"/>
<circle cx="106.55" cy="112.44" r="0.87" fill="#f8a556"/>
<circle cx="98.3" cy="112.41" r="0.87" fill="#f9b060"/>
<circle cx="102.29" cy="112.36" r="0.88" fill="#f8ab5b"/>
<circle cx="107.85" cy="112.35" r="0.88" fill="#f7a355"/>
<circle cx="99.19" cy="112.33" r="0.88" fill="#f9af5f"/>
<circle cx="117.99" cy="112.31" r="0.88" fill="#f5924a"/>
<circle cx="91.68" cy="112.25" r="0.88" fill="#fab869"/>
<circle cx="109.78" cy="112.25" r="0.88" fill="#f7a053"/>
<circle cx="116.93" cy="112.2" r="0.88" fill="#f5944b"/>
<circle cx="111.97" cy="112.17" r="0.89" fill="#f69c50"/>
<circle cx="94.41" cy="112.16" r="0.89" fill="#f9b465"/>
<circle cx="117.14" cy="112.12" r="0.89" fill="#f5944b"/>
<circle cx="95.05" cy="112.1" r="0.89" fill="#f9b464"/>
<circle cx="88.37" cy="112.04" r="0.89" fill="#fac071"/>
<circle cx="115.23" cy="112" r="0.9" fill="#f6974d"/>
<circle cx="118.03" cy="112" r="0.9" fill="#f5924a"/>
<circle cx="117.19" cy="111.96" r="0.9" fill="#f5944b"/>
<circle cx="101.69" cy="111.96" r="0.9" fill="#f8ab5c"/>
<circle cx="106.63" cy="111.96" r="0.9" fill="#f8a556"/>
<circle cx="117.62" cy="111.95" r="0.9" fill="#f5934b"/>
<circle cx="93.78" cy="111.95" r="0.9" fill="#fab566"/>
<circle cx="102.06" cy="111.92" r="0.9" fill="#f8ab5b"/>
<circle cx="111.11" cy="111.9" r="0.9" fill="#f79d51"/>
<circle cx="94.84" cy="111.9" r="0.9" fill="#f9b465"/>
<circle cx="103.87" cy="111.89" r="0.9" fill="#f8a959"/>
<circle cx="109.44" cy="111.89" r="0.9" fill="#f7a053"/>
<circle cx="113.33" cy="111.88" r="0.9" fill="#f69a4f"/>
<circle cx="99.12" cy="111.86" r="0.9" fill="#f9af5f"/>
<circle cx="107.39" cy="111.84" r="0.9" fill="#f7a355"/>
<circle cx="102.03" cy="111.81" r="0.9" fill="#f8ab5b"/>
<circle cx="112.96" cy="111.79" r="0.91" fill="#f69b4f"/>
<circle cx="117.08" cy="111.79" r="0.91" fill="#f5944b"/>
<circle cx="97.93" cy="111.73" r="0.91" fill="#f9b061"/>
<circle cx="94.93" cy="111.72" r="0.91" fill="#f9b464"/>
<circle cx="114.84" cy="111.69" r="0.91" fill="#f6984e"/>
<circle cx="117.29" cy="111.66" r="0.91" fill="#f5944b"/>
<circle cx="103.78" cy="111.6" r="0.92" fill="#f8a959"/>
<circle cx="90.2" cy="111.59" r="0.92" fill="#fabb6c"/>
<circle cx="93.9" cy="111.56" r="0.92" fill="#fab566"/>
<circle cx="95.5" cy="111.56" r="0.92" fill="#f9b364"/>
<circle cx="103.49" cy="111.55" r="0.92" fill="#f8a959"/>
<circle cx="101.37" cy="111.53" r="0.92" fill="#f8ac5c"/>
<circle cx="102.28" cy="111.48" r="0.92" fill="#f8ab5b"/>
<circle cx="117.49" cy="111.42" r="0.92" fill="#f5934b"/>
<circle cx="96.26" cy="111.39" r="0.93" fill="#f9b263"/>
<circle cx="100.43" cy="111.38" r="0.93" fill="#f9ad5d"/>
<circle cx="117.76" cy="111.37" r="0.93" fill="#f5934b"/>
<circle cx="109.35" cy="111.37" r="0.93" fill="#f7a053"/>
<circle cx="110.03" cy="111.36" r="0.93" fill="#f79f52"/>
<circle cx="105.64" cy="111.36" r="0.93" fill="#f8a657"/>
<circle cx="94.62" cy="111.33" r="0.93" fill="#f9b465"/>
<circle cx="118.11" cy="111.29" r="0.93" fill="#f5924a"/>
<circle cx="105.97" cy="111.26" r="0.93" fill="#f8a657"/>
<circle cx="120.28" cy="111.26" r="0.93" fill="#f38a48"/>
<circle cx="95.83" cy="111.26" r="0.93" fill="#f9b363"/>
<circle cx="115.07" cy="111.22" r="0.93" fill="#f6974d"/>
<circle cx="111.15" cy="111.21" r="0.93" fill="#f79d51"/>
<circle cx="92.9" cy="111.21" r="0.93" fill="#fab667"/>
<circle cx="118.83" cy="111.21" r="0.93" fill="#f49049"/>
<circle cx="89.83" cy="111.2" r="0.93" fill="#fabc6d"/>
<circle cx="88.87" cy="111.19" r="0.94" fill="#fabf70"/>
<circle cx="92.86" cy="111.19" r="0.94" fill="#fab667"/>
<circle cx="97.14" cy="111.19" r="0.94" fill="#f9b162"/>
<circle cx="104.1" cy="111.18" r="0.94" fill="#f8a859"/>
<circle cx="119.83" cy="111.18" r="0.94" fill="#f38c49"/>
<circle cx="89" cy="111.18" r="0.94" fill="#fabe6f"/>
<circle cx="102.64" cy="111.15" r="0.94" fill="#f8aa5a"/>
<circle cx="113.51" cy="111.12" r="0.94" fill="#f69a4f"/>
<circle cx="92.58" cy="111.12" r="0.94" fill="#fab768"/>
<circle cx="105.14" cy="111.1" r="0.94" fill="#f8a757"/>
<circle cx="117.36" cy="111.08" r="0.94" fill="#f5934b"/>
<circle cx="99.51" cy="111.07" r="0.94" fill="#f9ae5f"/>
<circle cx="118.63" cy="111.04" r="0.94" fill="#f5914a"/>
<circle cx="91.17" cy="111.02" r="0.94" fill="#fab869"/>
<circle cx="109.22" cy="111.02" r="0.94" fill="#f7a053"/>
<circle cx="89.75" cy="111" r="0.95" fill="#fabc6d"/>
<circle cx="100.96" cy="110.97" r="0.95" fill="#f9ac5d"/>
<circle cx="111.83" cy="110.81" r="0.95" fill="#f69c51"/>
<circle cx="109.05" cy="110.81" r="0.95" fill="#f7a153"/>
<circle cx="91.21" cy="110.76" r="0.96" fill="#fab869"/>
<circle cx="89.71" cy="110.76" r="0.96" fill="#fabc6d"/>
<circle cx="119.37" cy="110.72" r="0.96" fill="#f48e49"/>
<circle cx="89.86" cy="110.7" r="0.96" fill="#fabc6d"/>
<circle cx="90.9" cy="110.67" r="0.96" fill="#fab96a"/>
<circle cx="108.88" cy="110.65" r="0.96" fill="#f7a154"/>
<circle cx="119.77" cy="110.65" r="0.96" fill="#f38c49"/>
<circle cx="89.75" cy="110.64" r="0.96" fill="#fabc6d"/>
<circle cx="105" cy="110.64" r="0.96" fill="#f8a757"/>
<circle cx="98.08" cy="110.63" r="0.96" fill="#f9b060"/>
<circle cx="97.99" cy="110.63" r="0.96" fill="#f9b060"/>
<circle cx="112.5" cy="110.6" r="0.97" fill="#f69b50"/>
<circle cx="97.07" cy="110.57" r="0.97" fill="#f9b162"/>
<circle cx="120.24" cy="110.55" r="0.97" fill="#f38a48"/>
<circle cx="102.38" cy="110.51" r="0.97" fill="#f8ab5b"/>
<circle cx="98.93" cy="110.47" r="0.97" fill="#f9af5f"/>
<circle cx="117.44" cy="110.45" r="0.97" fill="#f5934b"/>
<circle cx="115.25" cy="110.44" r="0.97" fill="#f6974d"/>
<circle cx="91.82" cy="110.44" r="0.97" fill="#fab869"/>
<circle cx="118.25" cy="110.43" r="0.97" fill="#f5924a"/>
<circle cx="114.99" cy="110.43" r="0.97" fill="#f6974d"/>
<circle cx="103.01" cy="110.4" r="0.97" fill="#f8aa5a"/>
<circle cx="97.98" cy="110.39" r="0.98" fill="#f9b061"/>
<circle cx="92.12" cy="110.37" r="0.98" fill="#fab768"/>
<circle cx="112.01" cy="110.36" r="0.98" fill="#f69c50"/>
<circle cx="113.42" cy="110.33" r="0.98" fill="#f69a4f"/>
<circle cx="111.27" cy="110.32" r="0.98" fill="#f79d51"/>
<circle cx="114.92" cy="110.29" r="0.98" fill="#f6974d"/>
<circle cx="118.24" cy="110.22" r="0.98" fill="#f5924a"/>
<circle cx="110.7" cy="110.19" r="0.99" fill="#f79e52"/>
<circle cx="105.01" cy="110.18" r="0.99" fill="#f8a757"/>
<circle cx="105" cy="110.14" r="0.99" fill="#f8a757"/>
<circle cx="112.94" cy="110.13" r="0.99" fill="#f69b4f"/>
<circle cx="98.99" cy="110.13" r="0.99" fill="#f9af5f"/>
<circle cx="105.83" cy="110.13" r="0.99" fill="#f8a657"/>
<circle cx="92.36" cy="110.09" r="0.99" fill="#fab768"/>
<circle cx="117.17" cy="110.08" r="0.99" fill="#f5944b"/>
<circle cx="97.57" cy="110.08" r="0.99" fill="#f9b161"/>
<circle cx="90.4" cy="110.07" r="0.99" fill="#faba6b"/>
<circle cx="106.09" cy="110.02" r="0.99" fill="#f8a556"/>
<circle cx="98.08" cy="109.93" r="1" fill="#f9b060"/>
<circle cx="106.16" cy="109.93" r="1" fill="#f8a556"/>
<circle cx="115.4" cy="109.92" r="1" fill="#f6974d"/>
<circle cx="100.39" cy="109.91" r="1" fill="#f9ad5d"/>
<circle cx="92.01" cy="109.9" r="1" fill="#fab768"/>
<circle cx="96.43" cy="109.85" r="1" fill="#f9b263"/>
<circle cx="114.21" cy="109.81" r="1" fill="#f6994e"/>
<circle cx="110.53" cy="109.75" r="1.01" fill="#f79e52"/>
<circle cx="94.12" cy="109.74" r="1.01" fill="#fab566"/>
<circle cx="101.48" cy="109.65" r="1.01" fill="#f8ac5c"/>
<circle cx="119.14" cy="109.58" r="1.02" fill="#f48f49"/>
<circle cx="120.27" cy="109.54" r="1.02" fill="#f38a48"/>
<circle cx="107.45" cy="109.52" r="1.02" fill="#f7a355"/>
<circle cx="94.6" cy="109.52" r="1.02" fill="#f9b465"/>
<circle cx="113.37" cy="109.5" r="1.02" fill="#f69a4f"/>
<circle cx="111.26" cy="109.42" r="1.02" fill="#f79d51"/>
<circle cx="105.89" cy="109.4" r="1.03" fill="#f8a657"/>
<circle cx="110.82" cy="109.38" r="1.03" fill="#f79e52"/>
<circle cx="106.2" cy="109.35" r="1.03" fill="#f8a556"/>
<circle cx="105.13" cy="109.31" r="1.03" fill="#f8a757"/>
<circle cx="103.51" cy="109.31" r="1.03" fill="#f8a959"/>
<circle cx="93.38" cy="109.29" r="1.03" fill="#fab667"/>
<circle cx="119.35" cy="109.29" r="1.03" fill="#f48e49"/>
<circle cx="102.6" cy="109.26" r="1.03" fill="#f8aa5a"/>
<circle cx="91.41" cy="109.1" r="1.04" fill="#fab869"/>
<circle cx="110.39" cy="109.06" r="1.04" fill="#f79f52"/>
<circle cx="112.3" cy="109.03" r="1.04" fill="#f69c50"/>
<circle cx="104.36" cy="108.93" r="1.05" fill="#f8a858"/>
<circle cx="98.89" cy="108.9" r="1.05" fill="#f9af5f"/>
<circle cx="116.27" cy="108.89" r="1.05" fill="#f5954c"/>
<circle cx="109.64" cy="108.88" r="1.05" fill="#f7a053"/>
<circle cx="112.59" cy="108.74" r="1.06" fill="#f69b50"/>
<circle cx="103.96" cy="108.63" r="1.06" fill="#f8a959"/>
<circle cx="119.41" cy="108.58" r="1.07" fill="#f48e49"/>
<circle cx="120.38" cy="108.5" r="1.07" fill="#f38a48"/>
<circle cx="120.2" cy="108.49" r="1.07" fill="#f38b48"/>
<circle cx="95.61" cy="108.39" r="1.08" fill="#f9b364"/>
<circle cx="105.25" cy="108.23" r="1.08" fill="#f8a757"/>
<circle cx="93.72" cy="108.08" r="1.09" fill="#fab566"/>
<circle cx="114.68" cy="108.03" r="1.09" fill="#f6984e"/>
<circle cx="115.37" cy="105.46" r="1.22" fill="#f6974d"/>
<circle cx="72.03" cy="108.44" r="1.07" fill="#fce397"/>
<circle cx="93.48" cy="106.36" r="1.18" fill="#fab666"/>
<circle cx="64.41" cy="107.17" r="1.14" fill="#fceba1"/>
<circle cx="94.46" cy="107.28" r="1.13" fill="#f9b465"/>
<circle cx="65.79" cy="108.61" r="1.06" fill="#fceaa0"/>
<circle cx="90.71" cy="109.24" r="1.03" fill="#fab96a"/>
<circle cx="73.66" cy="108.38" r="1.08" fill="#fce195"/>
<circle cx="106.03" cy="108.51" r="1.07" fill="#f8a656"/>
<circle cx="73.41" cy="105.43" r="1.22" fill="#fce195"/>
<circle cx="92.59" cy="108.17" r="1.09" fill="#fab768"/>
<circle cx="64.98" cy="104.73" r="1.26" fill="#fceaa1"/>
<circle cx="95.93" cy="103.99" r="1.3" fill="#f9b363"/>
<circle cx="73" cy="106.86" r="1.15" fill="#fce296"/>
<circle cx="103.8" cy="107.73" r="1.11" fill="#f8a959"/>
<circle cx="75.97" cy="108.54" r="1.07" fill="#fbdf92"/>
<circle cx="121.23" cy="107.94" r="1.1" fill="#f28747"/>
<circle cx="59.96" cy="108.6" r="1.07" fill="#fdf0a8"/>
<circle cx="92.84" cy="106.27" r="1.18" fill="#fab667"/>
<circle cx="75.9" cy="108.19" r="1.09" fill="#fbdf92"/>
<circle cx="107.02" cy="104.14" r="1.29" fill="#f7a455"/>
<circle cx="67.13" cy="108.16" r="1.09" fill="#fce89e"/>
<circle cx="107.47" cy="104.23" r="1.28" fill="#f7a355"/>
<circle cx="55.32" cy="103.84" r="1.3" fill="#f9eea8"/>
<circle cx="116.78" cy="109.34" r="1.03" fill="#f5944c"/>
<circle cx="59.77" cy="109.18" r="1.04" fill="#fdf0a8"/>
<circle cx="106.79" cy="104.81" r="1.25" fill="#f8a456"/>
<circle cx="66.47" cy="107.93" r="1.1" fill="#fce99f"/>
<circle cx="114.39" cy="105.81" r="1.2" fill="#f6984e"/>
<circle cx="55.07" cy="103.71" r="1.31" fill="#f9eea8"/>
<circle cx="105.67" cy="103.74" r="1.31" fill="#f8a657"/>
<circle cx="69.21" cy="109.44" r="1.02" fill="#fce69b"/>
<circle cx="93.57" cy="109.41" r="1.02" fill="#fab566"/>
<circle cx="56.08" cy="107.63" r="1.11" fill="#faefa8"/>
<line x1="20.4" y1="92.41" x2="157.3" y2="92.41" stroke="#333" stroke-width="0.6" stroke-dasharray="2 1.3 0.6 1.3"/>
<line x1="83.8" y1="22.9" x2="27.5" y2="22.9" stroke="#9ec8df" stroke-width="1.1"/>
<path d="M26 22.9L28.4 21.55L28.4 24.25Z" fill="#9ec8df"/>
<line x1="83.8" y1="22.9" x2="150.3" y2="22.9" stroke="#d9625b" stroke-width="1.1"/>
<path d="M151.8 22.9L149.4 21.55L149.4 24.25Z" fill="#d9625b"/>
<text x="55.2" y="20.9" font-size="3.6" stroke="#78b0d0" stroke-width="0.08" text-anchor="middle" fill="#78b0d0">Inverse</text>
<text x="117.4" y="20.9" font-size="3.6" stroke="#d0544c" stroke-width="0.08" text-anchor="middle" fill="#d0544c">Positive</text>
<circle cx="51" cy="98.8" r="0.9" fill="#e0e7a4"/>
<circle cx="55.5" cy="100.2" r="0.9" fill="#f9eea8"/>
<circle cx="44.5" cy="96.3" r="1" fill="#acca9c"/>
<circle cx="43.5" cy="106" r="0.9" fill="#a5c5a1"/>
<circle cx="45.6" cy="104.7" r="0.9" fill="#b5d09e"/>
<circle cx="48.5" cy="105" r="0.9" fill="#cde0a1"/>
<circle cx="93.6" cy="101" r="1.1" fill="#fab566"/>
<circle cx="99.4" cy="106" r="0.9" fill="#f9ae5f"/>
<circle cx="108.5" cy="106" r="0.9" fill="#f7a254"/>
<circle cx="125.2" cy="109.6" r="0.9" fill="#ee7743"/>
<circle cx="104" cy="105.5" r="0.8" fill="#f8a959"/>
<circle cx="112" cy="108" r="0.8" fill="#f69c50"/>
<circle cx="121" cy="113" r="0.7" fill="#f28847"/>
<circle cx="115" cy="112" r="0.7" fill="#f6974d"/>
<circle cx="38.5" cy="91.4" r="1.1" fill="#83adc4"/>
<circle cx="34.5" cy="94.8" r="1.1" fill="#669bbf"/>
<circle cx="38.5" cy="95.5" r="1" fill="#83adc4"/>
<circle cx="40.5" cy="93.6" r="0.8" fill="#90b6b8"/>
<circle cx="124" cy="94.9" r="1.2" fill="#ef7c44"/>
<circle cx="26.4" cy="89.3" r="1.4" fill="#2f77b4"/>
<path d="M27.24 88.88 Q27 89.3 25.6 86.9" fill="none" stroke="#222" stroke-width="0.35"/>
<text x="25.6" y="86.75" font-size="3.2" stroke="#1a1a1a" stroke-width="0.07" text-anchor="middle" fill="#1a1a1a">NEU1</text>
<text x="46.5" y="96.15" font-size="3.2" stroke="#1a1a1a" stroke-width="0.04" text-anchor="middle" fill="#1a1a1a">TSSK6</text>
<circle cx="118.6" cy="92" r="1.3" fill="#f0763a"/>
<path d="M119.38 91.61 Q120.1 92 119.6 89.6" fill="none" stroke="#222" stroke-width="0.35"/>
<text x="119.6" y="89.45" font-size="3.2" stroke="#1a1a1a" stroke-width="0.07" text-anchor="middle" fill="#1a1a1a">ECM1</text>
<circle cx="145.1" cy="92.3" r="1.5" fill="#b51a40"/>
<path d="M146 91.85 Q144.55 92.3 142 90.5" fill="none" stroke="#222" stroke-width="0.35"/>
<text x="142" y="90.35" font-size="3.2" stroke="#1a1a1a" stroke-width="0.07" text-anchor="middle" fill="#1a1a1a">SHBG</text>
<circle cx="151.1" cy="89.7" r="1.5" fill="#a10d50"/>
<circle cx="143.6" cy="57.8" r="2.3" fill="#bf1d3e"/>
<path d="M144.98 57.11 Q147.1 57.8 148.6 55.8" fill="none" stroke="#222" stroke-width="0.35"/>
<text x="148.6" y="55.69" font-size="3.3" stroke="#1a1a1a" stroke-width="0.07" text-anchor="middle" fill="#1a1a1a">MDK</text>
<rect x="160.7" y="36.4" width="21.6" height="29.2" rx="1.5" fill="#fff" stroke="#d4d4d4" stroke-width="0.6"/>
<text x="162.3" y="40.88" font-size="3" stroke="#111" stroke-width="0.1" fill="#111">-log10(FDR)</text>
<circle cx="164.6" cy="45.4" r="0.45" fill="#000"/>
<text x="168.8" y="46.48" font-size="3" stroke="#222" stroke-width="0.08" fill="#222">0</text>
<circle cx="164.6" cy="50.8" r="1.3" fill="#000"/>
<text x="168.8" y="51.88" font-size="3" stroke="#222" stroke-width="0.08" fill="#222">1</text>
<circle cx="164.6" cy="56" r="1.7" fill="#000"/>
<text x="168.8" y="57.08" font-size="3" stroke="#222" stroke-width="0.08" fill="#222">2</text>
<circle cx="164.6" cy="61.5" r="2.1" fill="#000"/>
<text x="168.8" y="62.58" font-size="3" stroke="#222" stroke-width="0.08" fill="#222">3</text>
<rect x="160.4" y="69.3" width="13.9" height="35.2" rx="1.5" fill="#fff" stroke="#d4d4d4" stroke-width="0.6"/>
<text x="161.9" y="73.79" font-size="3.3" stroke="#111" stroke-width="0.1" fill="#111">OR</text>
<defs><linearGradient id="g916" x1="0" y1="1" x2="0" y2="0"><stop offset="0" stop-color="#3b80b9"/><stop offset="0.08" stop-color="#9cc3c8"/><stop offset="0.2" stop-color="#fdf5b5"/><stop offset="0.42" stop-color="#fdd584"/><stop offset="0.6" stop-color="#f9a255"/><stop offset="0.78" stop-color="#ef6840"/><stop offset="0.9" stop-color="#d43d4f"/><stop offset="1" stop-color="#9e0142"/></linearGradient></defs>
<rect x="162.4" y="75.8" width="4.6" height="26.8" fill="url(#g916)"/>
<line x1="166.2" y1="83.2" x2="167" y2="83.2" stroke="#fff" stroke-width="0.3"/>
<text x="168.6" y="84.28" font-size="3" stroke="#222" stroke-width="0.08" fill="#222">1.1</text>
<line x1="166.2" y1="90.7" x2="167" y2="90.7" stroke="#fff" stroke-width="0.3"/>
<text x="168.6" y="91.78" font-size="3" stroke="#222" stroke-width="0.08" fill="#222">1.0</text>
<line x1="166.2" y1="97.6" x2="167" y2="97.6" stroke="#fff" stroke-width="0.3"/>
<text x="168.6" y="98.68" font-size="3" stroke="#222" stroke-width="0.08" fill="#222">0.9</text>
<rect x="225" y="12.2" width="141.5" height="115.9" fill="#fff" stroke="#969696" stroke-width="0.8"/>
<line x1="223.7" y1="117.2" x2="225" y2="117.2" stroke="#969696" stroke-width="0.6"/>
<text x="223.2" y="118.6" font-size="3.9" stroke="#2a2a2a" stroke-width="0.1" text-anchor="end" fill="#2a2a2a">0</text>
<line x1="223.7" y1="83.9" x2="225" y2="83.9" stroke="#969696" stroke-width="0.6"/>
<text x="223.2" y="85.3" font-size="3.9" stroke="#2a2a2a" stroke-width="0.1" text-anchor="end" fill="#2a2a2a">1</text>
<line x1="223.7" y1="50.6" x2="225" y2="50.6" stroke="#969696" stroke-width="0.6"/>
<text x="223.2" y="52" font-size="3.9" stroke="#2a2a2a" stroke-width="0.1" text-anchor="end" fill="#2a2a2a">2</text>
<line x1="223.7" y1="17.3" x2="225" y2="17.3" stroke="#969696" stroke-width="0.6"/>
<text x="223.2" y="18.7" font-size="3.9" stroke="#2a2a2a" stroke-width="0.1" text-anchor="end" fill="#2a2a2a">3</text>
<line x1="234.2" y1="128.1" x2="234.2" y2="129.4" stroke="#969696" stroke-width="0.6"/>
<text x="234.2" y="132.6" font-size="3.9" stroke="#2a2a2a" stroke-width="0.1" text-anchor="middle" fill="#2a2a2a">0.5</text>
<line x1="266.38" y1="128.1" x2="266.38" y2="129.4" stroke="#969696" stroke-width="0.6"/>
<text x="266.38" y="132.6" font-size="3.9" stroke="#2a2a2a" stroke-width="0.1" text-anchor="middle" fill="#2a2a2a">1.0</text>
<line x1="298.55" y1="128.1" x2="298.55" y2="129.4" stroke="#969696" stroke-width="0.6"/>
<text x="298.55" y="132.6" font-size="3.9" stroke="#2a2a2a" stroke-width="0.1" text-anchor="middle" fill="#2a2a2a">1.5</text>
<line x1="330.72" y1="128.1" x2="330.72" y2="129.4" stroke="#969696" stroke-width="0.6"/>
<text x="330.72" y="132.6" font-size="3.9" stroke="#2a2a2a" stroke-width="0.1" text-anchor="middle" fill="#2a2a2a">2.0</text>
<line x1="362.9" y1="128.1" x2="362.9" y2="129.4" stroke="#969696" stroke-width="0.6"/>
<text x="362.9" y="132.6" font-size="3.9" stroke="#2a2a2a" stroke-width="0.1" text-anchor="middle" fill="#2a2a2a">2.5</text>
<text x="295.8" y="137.76" font-size="4.9" stroke="#2a2a2a" stroke-width="0.15" text-anchor="middle" fill="#2a2a2a">OR</text>
<text x="217.6" y="67.16" font-size="4.9" stroke="#2a2a2a" stroke-width="0.15" text-anchor="middle" fill="#2a2a2a" transform="rotate(-90 217.6 65.4)">-log10(FDR)</text>
<line x1="266.38" y1="12.2" x2="266.38" y2="128.1" stroke="#333" stroke-width="0.65" stroke-dasharray="0.8 1.0"/>
<circle cx="265.8" cy="117.2" r="0.56" fill="#fbf3b2"/>
<circle cx="263.77" cy="117.14" r="0.59" fill="#f7f1b2"/>
<circle cx="265.89" cy="117.09" r="0.61" fill="#fbf3b2"/>
<circle cx="263.18" cy="117.09" r="0.61" fill="#f6f1b2"/>
<circle cx="263.42" cy="117.04" r="0.62" fill="#f7f1b2"/>
<circle cx="264.91" cy="117.04" r="0.62" fill="#f9f2b2"/>
<circle cx="261.75" cy="117.01" r="0.63" fill="#f3f0b2"/>
<circle cx="261.75" cy="116.95" r="0.64" fill="#f3f0b2"/>
<circle cx="262.61" cy="116.94" r="0.64" fill="#f5f0b2"/>
<circle cx="259.99" cy="116.89" r="0.65" fill="#f0eeb2"/>
<circle cx="265.52" cy="116.83" r="0.66" fill="#fbf3b2"/>
<circle cx="262.27" cy="116.83" r="0.66" fill="#f4f0b2"/>
<circle cx="258.79" cy="116.81" r="0.66" fill="#e7e9b0"/>
<circle cx="258.95" cy="116.8" r="0.66" fill="#e8e9b0"/>
<circle cx="266.28" cy="116.71" r="0.68" fill="#fbf3b1"/>
<circle cx="263.99" cy="116.63" r="0.69" fill="#f8f1b2"/>
<circle cx="257.94" cy="116.63" r="0.69" fill="#e0e5ae"/>
<circle cx="264.63" cy="116.59" r="0.69" fill="#f9f2b2"/>
<circle cx="256.86" cy="116.58" r="0.69" fill="#d7e0ad"/>
<circle cx="257" cy="116.54" r="0.7" fill="#d8e0ad"/>
<circle cx="259.26" cy="116.39" r="0.71" fill="#ebebb1"/>
<circle cx="265.65" cy="116.37" r="0.72" fill="#fbf3b2"/>
<circle cx="259.38" cy="116.33" r="0.72" fill="#ecebb1"/>
<circle cx="255.33" cy="116.33" r="0.72" fill="#ccd9aa"/>
<circle cx="255.06" cy="116.27" r="0.73" fill="#cad8aa"/>
<circle cx="260.15" cy="116.27" r="0.73" fill="#f0eeb2"/>
<circle cx="260.67" cy="116.23" r="0.73" fill="#f1efb2"/>
<circle cx="260.45" cy="116.18" r="0.73" fill="#f1eeb2"/>
<circle cx="253.88" cy="116.1" r="0.74" fill="#c5d4ac"/>
<circle cx="258.4" cy="116.08" r="0.74" fill="#e4e7af"/>
<circle cx="253.24" cy="116.03" r="0.75" fill="#c2d2ad"/>
<circle cx="264.21" cy="116.01" r="0.75" fill="#f8f2b2"/>
<circle cx="260.87" cy="115.96" r="0.75" fill="#f2efb2"/>
<circle cx="260.13" cy="115.96" r="0.75" fill="#f0eeb2"/>
<circle cx="259.92" cy="115.91" r="0.76" fill="#f0eeb2"/>
<circle cx="253.36" cy="115.9" r="0.76" fill="#c2d3ad"/>
<circle cx="252.67" cy="115.7" r="0.77" fill="#bfd0ae"/>
<circle cx="263.81" cy="115.66" r="0.78" fill="#f7f1b2"/>
<circle cx="252.24" cy="115.57" r="0.78" fill="#bdcfae"/>
<circle cx="262.36" cy="115.56" r="0.78" fill="#f5f0b2"/>
<circle cx="256.95" cy="115.54" r="0.78" fill="#d8e0ad"/>
<circle cx="261.73" cy="115.5" r="0.79" fill="#f3f0b2"/>
<circle cx="253.62" cy="115.48" r="0.79" fill="#c4d3ac"/>
<circle cx="257.46" cy="115.45" r="0.79" fill="#dce2ae"/>
<circle cx="266.2" cy="115.37" r="0.8" fill="#fbf3b1"/>
<circle cx="264.99" cy="115.32" r="0.8" fill="#faf2b2"/>
<circle cx="266.13" cy="115.28" r="0.8" fill="#fbf3b1"/>
<circle cx="249.27" cy="115.24" r="0.81" fill="#afc6b2"/>
<circle cx="249.61" cy="115.19" r="0.81" fill="#b1c7b1"/>
<circle cx="263.69" cy="115.15" r="0.81" fill="#f7f1b2"/>
<circle cx="248.9" cy="115.07" r="0.82" fill="#aec5b2"/>
<circle cx="249" cy="115" r="0.82" fill="#aec5b2"/>
<circle cx="252.3" cy="114.94" r="0.82" fill="#bdcfae"/>
<circle cx="261.99" cy="114.86" r="0.83" fill="#f4f0b2"/>
<circle cx="247.53" cy="114.81" r="0.83" fill="#a7c1b4"/>
<circle cx="251.07" cy="114.67" r="0.84" fill="#b8cbb0"/>
<circle cx="246.85" cy="114.6" r="0.84" fill="#a4bfb5"/>
<circle cx="248.61" cy="114.53" r="0.85" fill="#acc4b3"/>
<circle cx="257.87" cy="114.48" r="0.85" fill="#dfe4ae"/>
<circle cx="265.96" cy="114.44" r="0.85" fill="#fbf3b2"/>
<circle cx="252.87" cy="114.43" r="0.85" fill="#c0d1ad"/>
<circle cx="246.36" cy="114.38" r="0.86" fill="#a2bdb6"/>
<circle cx="251.24" cy="114.36" r="0.86" fill="#b8ccaf"/>
<circle cx="264.73" cy="114.31" r="0.86" fill="#f9f2b2"/>
<circle cx="259.2" cy="114.28" r="0.86" fill="#eaebb1"/>
<circle cx="260.38" cy="114.27" r="0.86" fill="#f1eeb2"/>
<circle cx="261.41" cy="114.22" r="0.86" fill="#f3efb2"/>
<circle cx="248.52" cy="114.17" r="0.87" fill="#acc4b3"/>
<circle cx="245.96" cy="114.15" r="0.87" fill="#a0bcb6"/>
<circle cx="251.66" cy="114.12" r="0.87" fill="#bacdaf"/>
<circle cx="265.02" cy="113.88" r="0.88" fill="#faf2b2"/>
<circle cx="264.41" cy="113.87" r="0.88" fill="#f8f2b2"/>
<circle cx="244.03" cy="113.8" r="0.89" fill="#97b6b9"/>
<circle cx="261.81" cy="113.77" r="0.89" fill="#f4f0b2"/>
<circle cx="247.61" cy="113.71" r="0.89" fill="#a8c1b4"/>
<circle cx="243.62" cy="113.71" r="0.89" fill="#96b5ba"/>
<circle cx="248.17" cy="113.66" r="0.89" fill="#aac2b3"/>
<circle cx="259.88" cy="113.53" r="0.9" fill="#f0eeb2"/>
<circle cx="246.34" cy="113.51" r="0.9" fill="#a2bdb6"/>
<circle cx="243.96" cy="113.5" r="0.9" fill="#97b6b9"/>
<circle cx="249.16" cy="113.47" r="0.9" fill="#afc6b2"/>
<circle cx="245.16" cy="113.43" r="0.9" fill="#9db9b8"/>
<circle cx="247.7" cy="113.4" r="0.9" fill="#a8c1b4"/>
<circle cx="250.77" cy="113.37" r="0.91" fill="#b6cbb0"/>
<circle cx="259.42" cy="113.29" r="0.91" fill="#ececb1"/>
<circle cx="248.97" cy="113.27" r="0.91" fill="#aec5b2"/>
<circle cx="242.28" cy="113.24" r="0.91" fill="#8fb1bc"/>
<circle cx="247.15" cy="113.18" r="0.91" fill="#a6bfb5"/>
<circle cx="262.79" cy="113.18" r="0.92" fill="#f5f0b2"/>
<circle cx="252.78" cy="113.15" r="0.92" fill="#c0d1ad"/>
<circle cx="242.1" cy="113.14" r="0.92" fill="#8fb0bc"/>
<circle cx="241.9" cy="113.12" r="0.92" fill="#8eb0bc"/>
<circle cx="265.83" cy="113.08" r="0.92" fill="#fbf3b2"/>
<circle cx="251.2" cy="113.01" r="0.92" fill="#b8ccaf"/>
<circle cx="258.66" cy="112.99" r="0.92" fill="#e6e8b0"/>
<circle cx="259.42" cy="112.92" r="0.93" fill="#ececb1"/>
<circle cx="245.71" cy="112.88" r="0.93" fill="#9fbbb7"/>
<circle cx="241.76" cy="112.88" r="0.93" fill="#8dafbc"/>
<circle cx="258.27" cy="112.87" r="0.93" fill="#e3e6af"/>
<circle cx="257.11" cy="112.87" r="0.93" fill="#d9e1ad"/>
<circle cx="241.78" cy="112.84" r="0.93" fill="#8dafbc"/>
<circle cx="257.75" cy="112.82" r="0.93" fill="#dfe4ae"/>
<circle cx="241.86" cy="112.77" r="0.93" fill="#8eb0bc"/>
<circle cx="240.63" cy="112.75" r="0.93" fill="#88acbe"/>
<circle cx="255.85" cy="112.72" r="0.93" fill="#cfdbab"/>
<circle cx="261.25" cy="112.71" r="0.94" fill="#f2efb2"/>
<circle cx="249.44" cy="112.69" r="0.94" fill="#b0c6b2"/>
<circle cx="241.53" cy="112.68" r="0.94" fill="#8cafbd"/>
<circle cx="263.78" cy="112.67" r="0.94" fill="#f7f1b2"/>
<circle cx="251.96" cy="112.53" r="0.94" fill="#bcceae"/>
<circle cx="262.94" cy="112.5" r="0.94" fill="#f6f1b2"/>
<circle cx="243.36" cy="112.4" r="0.95" fill="#94b4ba"/>
<circle cx="244.37" cy="112.39" r="0.95" fill="#99b7b9"/>
<circle cx="244.64" cy="112.38" r="0.95" fill="#9ab8b8"/>
<circle cx="244.54" cy="112.36" r="0.95" fill="#9ab8b8"/>
<circle cx="255.77" cy="112.25" r="0.95" fill="#cfdbab"/>
<circle cx="259.08" cy="112.25" r="0.96" fill="#e9eab0"/>
<circle cx="240.01" cy="112.24" r="0.96" fill="#82a8be"/>
<circle cx="241.45" cy="112.15" r="0.96" fill="#8caebd"/>
<circle cx="243.41" cy="112.15" r="0.96" fill="#95b4ba"/>
<circle cx="248.89" cy="112.1" r="0.96" fill="#adc5b2"/>
<circle cx="259.2" cy="112.1" r="0.96" fill="#eaebb1"/>
<circle cx="254.2" cy="112.05" r="0.96" fill="#c6d5ac"/>
<circle cx="264.04" cy="112.03" r="0.96" fill="#f8f2b2"/>
<circle cx="247.36" cy="112.03" r="0.96" fill="#a6c0b4"/>
<circle cx="246.32" cy="112.02" r="0.96" fill="#a2bdb6"/>
<circle cx="240.37" cy="112.02" r="0.96" fill="#85aabe"/>
<circle cx="264.21" cy="111.99" r="0.97" fill="#f8f2b2"/>
<circle cx="252.05" cy="111.89" r="0.97" fill="#bcceae"/>
<circle cx="246.17" cy="111.87" r="0.97" fill="#a1bcb6"/>
<circle cx="260.04" cy="111.86" r="0.97" fill="#f0eeb2"/>
<circle cx="240.08" cy="111.85" r="0.97" fill="#82a9be"/>
<circle cx="261.86" cy="111.63" r="0.98" fill="#f4f0b2"/>
<circle cx="244.4" cy="111.6" r="0.98" fill="#99b7b9"/>
<circle cx="263.66" cy="111.44" r="0.99" fill="#f7f1b2"/>
<circle cx="244.99" cy="111.43" r="0.99" fill="#9cb9b8"/>
<circle cx="239.86" cy="111.42" r="0.99" fill="#80a7be"/>
<circle cx="256.09" cy="111.42" r="0.99" fill="#d1dcab"/>
<circle cx="260.4" cy="111.31" r="0.99" fill="#f1eeb2"/>
<circle cx="244.64" cy="111.3" r="0.99" fill="#9ab8b8"/>
<circle cx="239.46" cy="111.27" r="0.99" fill="#7ca5be"/>
<circle cx="243.1" cy="111.26" r="0.99" fill="#93b3ba"/>
<circle cx="250.31" cy="111.25" r="0.99" fill="#b4c9b1"/>
<circle cx="261.59" cy="111.22" r="0.99" fill="#f3efb2"/>
<circle cx="263.43" cy="111.02" r="1" fill="#f7f1b2"/>
<circle cx="259.87" cy="110.92" r="1.01" fill="#efeeb2"/>
<circle cx="246.12" cy="110.86" r="1.01" fill="#a1bcb6"/>
<circle cx="262.31" cy="110.83" r="1.01" fill="#f5f0b2"/>
<circle cx="255.11" cy="110.81" r="1.01" fill="#cad8aa"/>
<circle cx="248.89" cy="110.7" r="1.01" fill="#adc5b2"/>
<circle cx="266.13" cy="110.57" r="1.02" fill="#fbf3b1"/>
<circle cx="246.28" cy="110.55" r="1.02" fill="#a2bdb6"/>
<circle cx="244" cy="110.51" r="1.02" fill="#97b6b9"/>
<circle cx="265.63" cy="110.26" r="1.03" fill="#fbf3b2"/>
<circle cx="261.93" cy="110.23" r="1.03" fill="#f4f0b2"/>
<circle cx="240.11" cy="110.16" r="1.03" fill="#83a9be"/>
<circle cx="260.85" cy="110.06" r="1.04" fill="#f2efb2"/>
<circle cx="239.52" cy="110.05" r="1.04" fill="#7da5be"/>
<circle cx="238.96" cy="110.04" r="1.04" fill="#77a2be"/>
<circle cx="244.89" cy="109.89" r="1.04" fill="#9bb9b8"/>
<circle cx="241.39" cy="109.81" r="1.04" fill="#8baebd"/>
<circle cx="260.79" cy="109.8" r="1.05" fill="#f2efb2"/>
<circle cx="260.3" cy="109.75" r="1.05" fill="#f1eeb2"/>
<circle cx="259.44" cy="109.72" r="1.05" fill="#ececb1"/>
<circle cx="263.73" cy="109.72" r="1.05" fill="#f7f1b2"/>
<circle cx="239.89" cy="109.57" r="1.05" fill="#80a7be"/>
<circle cx="266.07" cy="109.56" r="1.05" fill="#fbf3b2"/>
<circle cx="254.37" cy="109.47" r="1.06" fill="#c7d6ab"/>
<circle cx="256.19" cy="109.4" r="1.06" fill="#d2ddab"/>
<circle cx="244.63" cy="109.39" r="1.06" fill="#9ab8b8"/>
<circle cx="251.19" cy="109.39" r="1.06" fill="#b8ccaf"/>
<circle cx="259.18" cy="109.3" r="1.06" fill="#eaeab1"/>
<circle cx="259.77" cy="109.29" r="1.06" fill="#efedb2"/>
<circle cx="249.7" cy="109.21" r="1.06" fill="#b1c7b1"/>
<circle cx="264.04" cy="109.21" r="1.06" fill="#f8f2b2"/>
<circle cx="243.98" cy="109.01" r="1.07" fill="#97b6b9"/>
<circle cx="245.61" cy="108.93" r="1.07" fill="#9fbbb7"/>
<circle cx="243.9" cy="108.86" r="1.08" fill="#97b6b9"/>
<circle cx="240.23" cy="108.8" r="1.08" fill="#84a9be"/>
<circle cx="243.45" cy="108.71" r="1.08" fill="#95b4ba"/>
<circle cx="247.38" cy="108.7" r="1.08" fill="#a7c0b4"/>
<circle cx="250.02" cy="108.64" r="1.08" fill="#b3c8b1"/>
<circle cx="247" cy="108.57" r="1.08" fill="#a5bfb5"/>
<circle cx="248.87" cy="108.57" r="1.08" fill="#adc5b2"/>
<circle cx="255.22" cy="108.54" r="1.09" fill="#cbd8aa"/>
<circle cx="239.07" cy="108.33" r="1.09" fill="#78a2be"/>
<circle cx="239.8" cy="108.33" r="1.09" fill="#7fa7be"/>
<circle cx="264.25" cy="108.31" r="1.09" fill="#f8f2b2"/>
<circle cx="260.29" cy="108.31" r="1.09" fill="#f1eeb2"/>
<circle cx="241.42" cy="108.31" r="1.09" fill="#8caebd"/>
<circle cx="239.33" cy="108.28" r="1.09" fill="#7ba4be"/>
<circle cx="255.62" cy="108.22" r="1.1" fill="#cddaaa"/>
<circle cx="252.91" cy="108.21" r="1.1" fill="#c0d1ad"/>
<circle cx="244.23" cy="108.16" r="1.1" fill="#98b7b9"/>
<circle cx="244.01" cy="108.05" r="1.1" fill="#97b6b9"/>
<circle cx="244.16" cy="107.91" r="1.1" fill="#98b6b9"/>
<circle cx="242.27" cy="107.8" r="1.11" fill="#8fb1bc"/>
<circle cx="243.04" cy="107.71" r="1.11" fill="#93b3bb"/>
<circle cx="248.35" cy="107.67" r="1.11" fill="#abc3b3"/>
<circle cx="241.37" cy="107.58" r="1.11" fill="#8baebd"/>
<circle cx="243.02" cy="107.55" r="1.12" fill="#93b3bb"/>
<circle cx="243.73" cy="107.53" r="1.12" fill="#96b5ba"/>
<circle cx="261.84" cy="107.28" r="1.12" fill="#f4f0b2"/>
<circle cx="263.89" cy="107.23" r="1.12" fill="#f8f1b2"/>
<circle cx="243.06" cy="107.12" r="1.13" fill="#93b3bb"/>
<circle cx="245.03" cy="106.9" r="1.13" fill="#9cb9b8"/>
<circle cx="244.6" cy="106.84" r="1.14" fill="#9ab8b8"/>
<circle cx="247.91" cy="106.78" r="1.14" fill="#a9c2b4"/>
<circle cx="265.3" cy="106.74" r="1.14" fill="#faf3b2"/>
<circle cx="261.25" cy="106.73" r="1.14" fill="#f2efb2"/>
<circle cx="244.29" cy="106.6" r="1.14" fill="#99b7b9"/>
<circle cx="244.99" cy="106.58" r="1.14" fill="#9cb9b8"/>
<circle cx="265.64" cy="106.35" r="1.15" fill="#fbf3b2"/>
<circle cx="261.87" cy="106.33" r="1.15" fill="#f4f0b2"/>
<circle cx="240.88" cy="106.31" r="1.15" fill="#89adbe"/>
<circle cx="259.48" cy="106.31" r="1.15" fill="#ececb1"/>
<circle cx="247.14" cy="106.22" r="1.15" fill="#a5bfb5"/>
<circle cx="259.77" cy="106.18" r="1.15" fill="#efedb2"/>
<circle cx="249.84" cy="106.16" r="1.15" fill="#b2c8b1"/>
<circle cx="259.21" cy="105.83" r="1.16" fill="#eaebb1"/>
<circle cx="241.17" cy="105.77" r="1.17" fill="#8aaebd"/>
<circle cx="263.19" cy="105.67" r="1.17" fill="#f6f1b2"/>
<circle cx="247.64" cy="105.63" r="1.17" fill="#a8c1b4"/>
<circle cx="246.59" cy="105.58" r="1.17" fill="#a3beb6"/>
<circle cx="239.91" cy="105.57" r="1.17" fill="#81a8be"/>
<circle cx="256.66" cy="105.55" r="1.17" fill="#d6dfac"/>
<circle cx="240.63" cy="105.53" r="1.17" fill="#88acbe"/>
<circle cx="250.59" cy="105.52" r="1.17" fill="#b5cab0"/>
<circle cx="262.5" cy="105.51" r="1.17" fill="#f5f0b2"/>
<circle cx="264.53" cy="105.47" r="1.17" fill="#f9f2b2"/>
<circle cx="253.53" cy="105.36" r="1.18" fill="#c3d3ac"/>
<circle cx="244.8" cy="105.26" r="1.18" fill="#9bb8b8"/>
<circle cx="256.69" cy="105.25" r="1.18" fill="#d6dfac"/>
<circle cx="253.15" cy="105.17" r="1.18" fill="#c1d2ad"/>
<circle cx="253.68" cy="105.05" r="1.18" fill="#c4d4ac"/>
<circle cx="259.58" cy="104.91" r="1.19" fill="#edecb1"/>
<circle cx="250.41" cy="104.88" r="1.19" fill="#b5c9b0"/>
<circle cx="263.06" cy="104.87" r="1.19" fill="#f6f1b2"/>
<circle cx="247.51" cy="104.81" r="1.19" fill="#a7c0b4"/>
<circle cx="255.55" cy="104.67" r="1.19" fill="#cddaaa"/>
<circle cx="249.29" cy="104.65" r="1.19" fill="#afc6b2"/>
<circle cx="260.79" cy="104.65" r="1.19" fill="#f2efb2"/>
<circle cx="242.57" cy="104.59" r="1.2" fill="#91b2bb"/>
<circle cx="241.89" cy="104.56" r="1.2" fill="#8eb0bc"/>
<circle cx="247.76" cy="104.55" r="1.2" fill="#a8c1b4"/>
<circle cx="249.63" cy="104.45" r="1.2" fill="#b1c7b1"/>
<circle cx="242.97" cy="104.2" r="1.21" fill="#93b3bb"/>
<circle cx="252.1" cy="104.14" r="1.21" fill="#bccfae"/>
<circle cx="242.49" cy="104.1" r="1.21" fill="#90b2bb"/>
<circle cx="260.68" cy="103.97" r="1.21" fill="#f1efb2"/>
<circle cx="244.39" cy="103.67" r="1.22" fill="#99b7b9"/>
<circle cx="241.12" cy="103.57" r="1.22" fill="#8aadbd"/>
<circle cx="263.2" cy="103.55" r="1.22" fill="#f6f1b2"/>
<circle cx="241.48" cy="103.44" r="1.22" fill="#8cafbd"/>
<circle cx="252.76" cy="103.42" r="1.23" fill="#c0d1ad"/>
<circle cx="257.15" cy="103.37" r="1.23" fill="#dae1ad"/>
<circle cx="243.88" cy="103.37" r="1.23" fill="#97b6b9"/>
<circle cx="239.2" cy="103.35" r="1.23" fill="#79a3be"/>
<circle cx="260.96" cy="103.3" r="1.23" fill="#f2efb2"/>
<circle cx="249.68" cy="103.15" r="1.23" fill="#b1c7b1"/>
<circle cx="248.36" cy="102.97" r="1.24" fill="#abc3b3"/>
<circle cx="249.53" cy="102.95" r="1.24" fill="#b0c7b2"/>
<circle cx="245.18" cy="102.91" r="1.24" fill="#9dbab8"/>
<circle cx="254.83" cy="102.72" r="1.24" fill="#c9d7ab"/>
<circle cx="258.24" cy="102.7" r="1.24" fill="#e2e6af"/>
<circle cx="256.9" cy="102.53" r="1.25" fill="#d8e0ad"/>
<circle cx="254.44" cy="102.47" r="1.25" fill="#c7d6ab"/>
<circle cx="251.56" cy="102.36" r="1.25" fill="#bacdaf"/>
<circle cx="261.25" cy="102.29" r="1.25" fill="#f2efb2"/>
<circle cx="250.01" cy="102.17" r="1.26" fill="#b3c8b1"/>
<circle cx="246.81" cy="101.9" r="1.26" fill="#a4beb5"/>
<circle cx="249.18" cy="101.87" r="1.26" fill="#afc6b2"/>
<circle cx="253.25" cy="101.82" r="1.26" fill="#c2d2ad"/>
<circle cx="247.7" cy="101.68" r="1.27" fill="#a8c1b4"/>
<circle cx="248.37" cy="101.58" r="1.27" fill="#abc3b3"/>
<circle cx="239.73" cy="101.23" r="1.28" fill="#7fa6be"/>
<circle cx="253.18" cy="101.21" r="1.28" fill="#c1d2ad"/>
<circle cx="255.01" cy="101.12" r="1.28" fill="#cad8ab"/>
<circle cx="241.26" cy="101" r="1.28" fill="#8baebd"/>
<circle cx="261.27" cy="100.94" r="1.28" fill="#f3efb2"/>
<circle cx="261.92" cy="100.94" r="1.28" fill="#f4f0b2"/>
<circle cx="263.01" cy="100.82" r="1.29" fill="#f6f1b2"/>
<circle cx="260.12" cy="100.81" r="1.29" fill="#f0eeb2"/>
<circle cx="264.05" cy="100.69" r="1.29" fill="#f8f2b2"/>
<circle cx="241.63" cy="100.51" r="1.29" fill="#8dafbd"/>
<circle cx="258.05" cy="100.5" r="1.29" fill="#e1e5af"/>
<circle cx="257.44" cy="100.44" r="1.29" fill="#dce2ae"/>
<circle cx="261.74" cy="100.22" r="1.3" fill="#f3f0b2"/>
<circle cx="245.4" cy="100.17" r="1.3" fill="#9ebab7"/>
<circle cx="261.2" cy="100.09" r="1.3" fill="#f2efb2"/>
<circle cx="255.42" cy="100.07" r="1.3" fill="#ccd9aa"/>
<circle cx="265.43" cy="99.96" r="1.31" fill="#faf3b2"/>
<circle cx="244.53" cy="99.95" r="1.31" fill="#9ab8b8"/>
<circle cx="242.05" cy="99.84" r="1.31" fill="#8eb0bc"/>
<circle cx="249.28" cy="99.82" r="1.31" fill="#afc6b2"/>
<circle cx="249.91" cy="99.81" r="1.31" fill="#b2c8b1"/>
<circle cx="243.87" cy="99.74" r="1.31" fill="#97b6b9"/>
<circle cx="256.41" cy="99.68" r="1.31" fill="#d4deac"/>
<circle cx="240.47" cy="99.4" r="1.32" fill="#86abbe"/>
<circle cx="262.2" cy="99.39" r="1.32" fill="#f4f0b2"/>
<circle cx="250.25" cy="99.27" r="1.32" fill="#b4c9b1"/>
<circle cx="251.12" cy="99.27" r="1.32" fill="#b8ccaf"/>
<circle cx="244.61" cy="99.17" r="1.32" fill="#9ab8b8"/>
<circle cx="245.88" cy="99.11" r="1.32" fill="#a0bcb7"/>
<circle cx="264.47" cy="98.87" r="1.33" fill="#f9f2b2"/>
<circle cx="250.28" cy="98.77" r="1.33" fill="#b4c9b1"/>
<circle cx="252.25" cy="98.65" r="1.33" fill="#bdcfae"/>
<circle cx="256.84" cy="98.64" r="1.33" fill="#d7e0ac"/>
<circle cx="253.2" cy="98.59" r="1.33" fill="#c2d2ad"/>
<circle cx="238.94" cy="98.38" r="1.34" fill="#77a1be"/>
<circle cx="248.28" cy="98.38" r="1.34" fill="#abc3b3"/>
<circle cx="253.39" cy="98.32" r="1.34" fill="#c2d3ad"/>
<circle cx="238.99" cy="98.24" r="1.34" fill="#77a2be"/>
<circle cx="265.43" cy="98.15" r="1.34" fill="#faf3b2"/>
<circle cx="251.2" cy="97.97" r="1.35" fill="#b8ccaf"/>
<circle cx="240.76" cy="97.96" r="1.35" fill="#89acbe"/>
<circle cx="239.94" cy="97.85" r="1.35" fill="#81a8be"/>
<circle cx="261.24" cy="97.84" r="1.35" fill="#f2efb2"/>
<circle cx="253.76" cy="97.8" r="1.35" fill="#c4d4ac"/>
<circle cx="256.24" cy="97.79" r="1.35" fill="#d2ddab"/>
<circle cx="258.67" cy="97.57" r="1.36" fill="#e6e8b0"/>
<circle cx="265.21" cy="97.49" r="1.36" fill="#faf3b2"/>
<circle cx="248.34" cy="97.27" r="1.36" fill="#abc3b3"/>
<circle cx="242.91" cy="97.13" r="1.37" fill="#92b3bb"/>
<circle cx="248.42" cy="97.04" r="1.37" fill="#abc3b3"/>
<circle cx="246.83" cy="96.93" r="1.37" fill="#a4beb5"/>
<circle cx="264.19" cy="96.67" r="1.37" fill="#f8f2b2"/>
<circle cx="260.85" cy="96.5" r="1.38" fill="#f2efb2"/>
<circle cx="256.98" cy="96.41" r="1.38" fill="#d8e0ad"/>
<circle cx="260.91" cy="96.41" r="1.38" fill="#f2efb2"/>
<circle cx="255.97" cy="96.37" r="1.38" fill="#d0dbab"/>
<circle cx="247.29" cy="96.3" r="1.38" fill="#a6c0b5"/>
<circle cx="255.42" cy="96.18" r="1.38" fill="#ccd9aa"/>
<circle cx="240.9" cy="96.17" r="1.38" fill="#89adbe"/>
<circle cx="239.38" cy="96.16" r="1.38" fill="#7ba4be"/>
<circle cx="245.43" cy="96.14" r="1.38" fill="#9ebab7"/>
<circle cx="262.54" cy="95.87" r="1.39" fill="#f5f0b2"/>
<circle cx="253.91" cy="95.74" r="1.39" fill="#c5d4ac"/>
<circle cx="264.62" cy="95.54" r="1.4" fill="#f9f2b2"/>
<circle cx="262.02" cy="95.37" r="1.4" fill="#f4f0b2"/>
<circle cx="254.09" cy="95.28" r="1.4" fill="#c6d5ac"/>
<circle cx="258.01" cy="94.93" r="1.41" fill="#e1e5af"/>
<circle cx="260.19" cy="94.77" r="1.41" fill="#f0eeb2"/>
<circle cx="255" cy="94.71" r="1.41" fill="#cad8ab"/>
<circle cx="240.02" cy="94.7" r="1.41" fill="#82a8be"/>
<circle cx="263.19" cy="94.6" r="1.41" fill="#f6f1b2"/>
<circle cx="260.68" cy="94.53" r="1.42" fill="#f1efb2"/>
<circle cx="243.32" cy="94.27" r="1.42" fill="#94b4ba"/>
<circle cx="250.05" cy="94.05" r="1.43" fill="#b3c8b1"/>
<circle cx="245.52" cy="94.02" r="1.43" fill="#9ebbb7"/>
<circle cx="243.18" cy="93.79" r="1.43" fill="#94b4ba"/>
<circle cx="251.14" cy="93.64" r="1.43" fill="#b8ccaf"/>
<circle cx="249.92" cy="93.14" r="1.44" fill="#b2c8b1"/>
<circle cx="242.13" cy="92.85" r="1.45" fill="#8fb0bc"/>
<circle cx="244.65" cy="92.22" r="1.46" fill="#9ab8b8"/>
<circle cx="252.85" cy="92.12" r="1.46" fill="#c0d1ad"/>
<circle cx="258.75" cy="91.97" r="1.46" fill="#e6e8b0"/>
<circle cx="248.29" cy="91.89" r="1.47" fill="#abc3b3"/>
<circle cx="247.58" cy="91.25" r="1.48" fill="#a7c1b4"/>
<circle cx="260.96" cy="91.2" r="1.48" fill="#f2efb2"/>
<circle cx="258.88" cy="90.97" r="1.48" fill="#e8e9b0"/>
<circle cx="248.92" cy="90.95" r="1.48" fill="#aec5b2"/>
<circle cx="252.69" cy="90.85" r="1.48" fill="#bfd0ad"/>
<circle cx="244.27" cy="90.82" r="1.48" fill="#98b7b9"/>
<circle cx="258.59" cy="90.65" r="1.49" fill="#e5e8b0"/>
<circle cx="242.75" cy="90.56" r="1.49" fill="#92b2bb"/>
<circle cx="244.87" cy="90.53" r="1.49" fill="#9bb9b8"/>
<circle cx="246.97" cy="90.45" r="1.49" fill="#a5bfb5"/>
<circle cx="244.03" cy="90.24" r="1.49" fill="#97b6b9"/>
<circle cx="251.54" cy="89.85" r="1.5" fill="#bacdaf"/>
<circle cx="254.64" cy="89.62" r="1.51" fill="#c8d7ab"/>
<circle cx="252.54" cy="89.12" r="1.51" fill="#bed0ae"/>
<circle cx="254.06" cy="88.94" r="1.52" fill="#c6d5ac"/>
<circle cx="248.56" cy="88.63" r="1.52" fill="#acc4b3"/>
<circle cx="247.08" cy="87.94" r="1.53" fill="#a5bfb5"/>
<circle cx="252.34" cy="87.77" r="1.54" fill="#becfae"/>
<circle cx="243.69" cy="87.7" r="1.54" fill="#96b5ba"/>
<circle cx="256.61" cy="87.53" r="1.54" fill="#d5deac"/>
<circle cx="255.32" cy="86.74" r="1.55" fill="#cbd9aa"/>
<circle cx="250.38" cy="85.96" r="1.57" fill="#b4c9b0"/>
<circle cx="267.39" cy="117.2" r="0.56" fill="#fbf2b0"/>
<circle cx="268.22" cy="117.17" r="0.58" fill="#fcf1af"/>
<circle cx="268.09" cy="117.11" r="0.61" fill="#fcf1af"/>
<circle cx="267.99" cy="117.06" r="0.62" fill="#fcf1af"/>
<circle cx="267.31" cy="117" r="0.63" fill="#fbf2b0"/>
<circle cx="273" cy="116.99" r="0.63" fill="#fdeaa6"/>
<circle cx="274.25" cy="116.97" r="0.64" fill="#fde8a3"/>
<circle cx="272.79" cy="116.94" r="0.64" fill="#fceba6"/>
<circle cx="274.52" cy="116.93" r="0.65" fill="#fde8a2"/>
<circle cx="270.39" cy="116.9" r="0.65" fill="#fcefac"/>
<circle cx="274.22" cy="116.89" r="0.65" fill="#fde8a3"/>
<circle cx="275.97" cy="116.84" r="0.66" fill="#fde59f"/>
<circle cx="274.37" cy="116.79" r="0.67" fill="#fde8a2"/>
<circle cx="277.98" cy="116.73" r="0.67" fill="#fde49d"/>
<circle cx="278.14" cy="116.68" r="0.68" fill="#fde49d"/>
<circle cx="267.17" cy="116.68" r="0.68" fill="#fbf2b0"/>
<circle cx="278.64" cy="116.67" r="0.68" fill="#fde39c"/>
<circle cx="278.93" cy="116.65" r="0.69" fill="#fde39c"/>
<circle cx="276.89" cy="116.57" r="0.69" fill="#fde59e"/>
<circle cx="279.82" cy="116.57" r="0.69" fill="#fde29b"/>
<circle cx="275.43" cy="116.57" r="0.69" fill="#fde6a0"/>
<circle cx="266.94" cy="116.54" r="0.7" fill="#fbf2b0"/>
<circle cx="269.73" cy="116.52" r="0.7" fill="#fcefad"/>
<circle cx="274.5" cy="116.51" r="0.7" fill="#fde8a2"/>
<circle cx="274.31" cy="116.51" r="0.7" fill="#fde8a3"/>
<circle cx="281.54" cy="116.37" r="0.72" fill="#fde199"/>
<circle cx="281.84" cy="116.36" r="0.72" fill="#fde098"/>
<circle cx="274.71" cy="116.34" r="0.72" fill="#fde7a2"/>
<circle cx="278.96" cy="116.31" r="0.72" fill="#fde39c"/>
<circle cx="281.98" cy="116.3" r="0.72" fill="#fde098"/>
<circle cx="282.09" cy="116.29" r="0.72" fill="#fde098"/>
<circle cx="269.69" cy="116.28" r="0.72" fill="#fcefad"/>
<circle cx="280.69" cy="116.25" r="0.73" fill="#fde19a"/>
<circle cx="277.55" cy="116.22" r="0.73" fill="#fde49d"/>
<circle cx="269.15" cy="116.19" r="0.73" fill="#fcf0ad"/>
<circle cx="282.57" cy="116.13" r="0.74" fill="#fde097"/>
<circle cx="270.54" cy="115.95" r="0.75" fill="#fceeab"/>
<circle cx="284.2" cy="115.91" r="0.76" fill="#fcde95"/>
<circle cx="283.48" cy="115.88" r="0.76" fill="#fcdf96"/>
<circle cx="277.54" cy="115.87" r="0.76" fill="#fde49d"/>
<circle cx="270.37" cy="115.86" r="0.76" fill="#fcefac"/>
<circle cx="281.6" cy="115.83" r="0.76" fill="#fde198"/>
<circle cx="271.47" cy="115.79" r="0.77" fill="#fceda9"/>
<circle cx="272.94" cy="115.78" r="0.77" fill="#fdeaa6"/>
<circle cx="282.64" cy="115.78" r="0.77" fill="#fde097"/>
<circle cx="283.86" cy="115.76" r="0.77" fill="#fcdf96"/>
<circle cx="270.39" cy="115.74" r="0.77" fill="#fcefac"/>
<circle cx="267.59" cy="115.72" r="0.77" fill="#fbf1b0"/>
<circle cx="275.32" cy="115.66" r="0.78" fill="#fde6a0"/>
<circle cx="287.25" cy="115.65" r="0.78" fill="#fcdc92"/>
<circle cx="275.61" cy="115.62" r="0.78" fill="#fde6a0"/>
<circle cx="287.02" cy="115.61" r="0.78" fill="#fcdc92"/>
<circle cx="282.25" cy="115.57" r="0.78" fill="#fde098"/>
<circle cx="288" cy="115.56" r="0.78" fill="#fcdb91"/>
<circle cx="287.92" cy="115.54" r="0.78" fill="#fcdb91"/>
<circle cx="279.73" cy="115.51" r="0.79" fill="#fde29b"/>
<circle cx="273.57" cy="115.45" r="0.79" fill="#fde9a4"/>
<circle cx="282.57" cy="115.36" r="0.8" fill="#fde097"/>
<circle cx="267.94" cy="115.35" r="0.8" fill="#fbf1af"/>
<circle cx="272.18" cy="115.22" r="0.81" fill="#fceca7"/>
<circle cx="284.35" cy="115.03" r="0.82" fill="#fcde95"/>
<circle cx="287.21" cy="114.98" r="0.82" fill="#fcdc92"/>
<circle cx="270.8" cy="114.95" r="0.82" fill="#fceeab"/>
<circle cx="287.95" cy="114.94" r="0.82" fill="#fcdb91"/>
<circle cx="287.88" cy="114.88" r="0.83" fill="#fcdb91"/>
<circle cx="290.65" cy="114.85" r="0.83" fill="#fcd88d"/>
<circle cx="279.04" cy="114.84" r="0.83" fill="#fde39c"/>
<circle cx="292.05" cy="114.82" r="0.83" fill="#fcd68b"/>
<circle cx="291.75" cy="114.8" r="0.83" fill="#fcd78b"/>
<circle cx="282.9" cy="114.8" r="0.83" fill="#fcdf97"/>
<circle cx="289.83" cy="114.78" r="0.83" fill="#fcd98e"/>
<circle cx="269.88" cy="114.77" r="0.83" fill="#fcefac"/>
<circle cx="267.8" cy="114.77" r="0.83" fill="#fbf1af"/>
<circle cx="267.49" cy="114.72" r="0.84" fill="#fbf1b0"/>
<circle cx="275.74" cy="114.62" r="0.84" fill="#fde6a0"/>
<circle cx="285.75" cy="114.58" r="0.84" fill="#fcdd93"/>
<circle cx="291.2" cy="114.57" r="0.85" fill="#fcd78c"/>
<circle cx="290.53" cy="114.56" r="0.85" fill="#fcd88d"/>
<circle cx="291.76" cy="114.49" r="0.85" fill="#fcd78b"/>
<circle cx="293.74" cy="114.46" r="0.85" fill="#fcd388"/>
<circle cx="284.39" cy="114.46" r="0.85" fill="#fcde95"/>
<circle cx="293.6" cy="114.46" r="0.85" fill="#fcd488"/>
<circle cx="276.52" cy="114.41" r="0.85" fill="#fde59f"/>
<circle cx="274.25" cy="114.32" r="0.86" fill="#fde8a3"/>
<circle cx="279.2" cy="114.31" r="0.86" fill="#fde39b"/>
<circle cx="294.69" cy="114.3" r="0.86" fill="#fcd287"/>
<circle cx="275.16" cy="114.3" r="0.86" fill="#fde6a1"/>
<circle cx="283.81" cy="114.28" r="0.86" fill="#fcdf96"/>
<circle cx="272.2" cy="114.13" r="0.87" fill="#fceca7"/>
<circle cx="285.29" cy="114.13" r="0.87" fill="#fcdd94"/>
<circle cx="278.41" cy="114.1" r="0.87" fill="#fde39c"/>
<circle cx="293.78" cy="114.08" r="0.87" fill="#fcd388"/>
<circle cx="279.44" cy="114.07" r="0.87" fill="#fde29b"/>
<circle cx="285.89" cy="113.98" r="0.88" fill="#fcdd93"/>
<circle cx="290.79" cy="113.93" r="0.88" fill="#fcd88d"/>
<circle cx="279.35" cy="113.91" r="0.88" fill="#fde39b"/>
<circle cx="295.83" cy="113.9" r="0.88" fill="#fbd085"/>
<circle cx="297.12" cy="113.89" r="0.88" fill="#fbce83"/>
<circle cx="267.42" cy="113.87" r="0.88" fill="#fbf1b0"/>
<circle cx="297.21" cy="113.86" r="0.88" fill="#fbce82"/>
<circle cx="282.98" cy="113.85" r="0.88" fill="#fcdf97"/>
<circle cx="296.25" cy="113.82" r="0.88" fill="#fbd084"/>
<circle cx="295.24" cy="113.82" r="0.88" fill="#fbd186"/>
<circle cx="271.83" cy="113.8" r="0.89" fill="#fceca8"/>
<circle cx="289.91" cy="113.79" r="0.89" fill="#fcd98e"/>
<circle cx="270.92" cy="113.79" r="0.89" fill="#fceeaa"/>
<circle cx="295.54" cy="113.77" r="0.89" fill="#fbd185"/>
<circle cx="288.55" cy="113.77" r="0.89" fill="#fcda90"/>
<circle cx="292.41" cy="113.73" r="0.89" fill="#fcd68a"/>
<circle cx="297.79" cy="113.72" r="0.89" fill="#fbcd81"/>
<circle cx="280.23" cy="113.66" r="0.89" fill="#fde29a"/>
<circle cx="286.1" cy="113.65" r="0.89" fill="#fcdd93"/>
<circle cx="290.2" cy="113.64" r="0.89" fill="#fcd98e"/>
<circle cx="290.74" cy="113.63" r="0.89" fill="#fcd88d"/>
<circle cx="298.37" cy="113.61" r="0.89" fill="#fbcc80"/>
<circle cx="270.39" cy="113.6" r="0.9" fill="#fcefac"/>
<circle cx="298.45" cy="113.6" r="0.9" fill="#fbcc80"/>
<circle cx="296.47" cy="113.59" r="0.9" fill="#fbcf84"/>
<circle cx="297.33" cy="113.57" r="0.9" fill="#fbce82"/>
<circle cx="293.46" cy="113.55" r="0.9" fill="#fcd489"/>
<circle cx="273.12" cy="113.53" r="0.9" fill="#fdeaa5"/>
<circle cx="298.96" cy="113.48" r="0.9" fill="#fbcb7f"/>
<circle cx="298.95" cy="113.48" r="0.9" fill="#fbcb7f"/>
<circle cx="295.91" cy="113.45" r="0.9" fill="#fbd085"/>
<circle cx="297.9" cy="113.42" r="0.9" fill="#fbcd81"/>
<circle cx="283.53" cy="113.39" r="0.91" fill="#fcdf96"/>
<circle cx="295.83" cy="113.29" r="0.91" fill="#fbd085"/>
<circle cx="297.4" cy="113.28" r="0.91" fill="#fbce82"/>
<circle cx="276.3" cy="113.28" r="0.91" fill="#fde59f"/>
<circle cx="299.71" cy="113.27" r="0.91" fill="#fbca7e"/>
<circle cx="293.39" cy="113.16" r="0.92" fill="#fcd489"/>
<circle cx="295.44" cy="113.16" r="0.92" fill="#fbd185"/>
<circle cx="299.88" cy="113.13" r="0.92" fill="#fbca7e"/>
<circle cx="300.33" cy="113.09" r="0.92" fill="#fbc97d"/>
<circle cx="297.75" cy="113.09" r="0.92" fill="#fbcd81"/>
<circle cx="293.37" cy="113.06" r="0.92" fill="#fcd489"/>
<circle cx="299.83" cy="113.04" r="0.92" fill="#fbca7e"/>
<circle cx="279.06" cy="113.04" r="0.92" fill="#fde39c"/>
<circle cx="299.29" cy="113.04" r="0.92" fill="#fbcb7f"/>
<circle cx="296.88" cy="112.96" r="0.92" fill="#fbcf83"/>
<circle cx="299.03" cy="112.93" r="0.93" fill="#fbcb7f"/>
<circle cx="266.4" cy="112.92" r="0.93" fill="#fbf2b1"/>
<circle cx="299.68" cy="112.91" r="0.93" fill="#fbca7e"/>
<circle cx="296.34" cy="112.82" r="0.93" fill="#fbcf84"/>
<circle cx="272.34" cy="112.81" r="0.93" fill="#fceba7"/>
<circle cx="278.43" cy="112.79" r="0.93" fill="#fde39c"/>
<circle cx="274.05" cy="112.78" r="0.93" fill="#fde8a3"/>
<circle cx="297.67" cy="112.77" r="0.93" fill="#fbcd82"/>
<circle cx="286.61" cy="112.76" r="0.93" fill="#fcdc92"/>
<circle cx="269.16" cy="112.75" r="0.93" fill="#fcf0ad"/>
<circle cx="295.26" cy="112.64" r="0.94" fill="#fbd186"/>
<circle cx="293.11" cy="112.63" r="0.94" fill="#fcd489"/>
<circle cx="294.74" cy="112.57" r="0.94" fill="#fcd286"/>
<circle cx="293.7" cy="112.53" r="0.94" fill="#fcd488"/>
<circle cx="291.1" cy="112.53" r="0.94" fill="#fcd88c"/>
<circle cx="266.67" cy="112.46" r="0.95" fill="#fbf2b1"/>
<circle cx="274.14" cy="112.42" r="0.95" fill="#fde8a3"/>
<circle cx="297.53" cy="112.39" r="0.95" fill="#fbce82"/>
<circle cx="278.47" cy="112.37" r="0.95" fill="#fde39c"/>
<circle cx="288.95" cy="112.24" r="0.96" fill="#fcda8f"/>
<circle cx="267.47" cy="112.09" r="0.96" fill="#fbf1b0"/>
<circle cx="297.95" cy="112.06" r="0.96" fill="#fbcd81"/>
<circle cx="297.19" cy="111.99" r="0.97" fill="#fbce82"/>
<circle cx="279.59" cy="111.91" r="0.97" fill="#fde29b"/>
<circle cx="288.01" cy="111.9" r="0.97" fill="#fcdb91"/>
<circle cx="296.01" cy="111.87" r="0.97" fill="#fbd084"/>
<circle cx="287.83" cy="111.81" r="0.97" fill="#fcdb91"/>
<circle cx="270.58" cy="111.77" r="0.97" fill="#fceeab"/>
<circle cx="292.78" cy="111.75" r="0.97" fill="#fcd58a"/>
<circle cx="276.75" cy="111.73" r="0.98" fill="#fde59e"/>
<circle cx="296.64" cy="111.73" r="0.98" fill="#fbcf83"/>
<circle cx="299.25" cy="111.73" r="0.98" fill="#fbcb7f"/>
<circle cx="299.22" cy="111.71" r="0.98" fill="#fbcb7f"/>
<circle cx="298.43" cy="111.66" r="0.98" fill="#fbcc80"/>
<circle cx="273.76" cy="111.66" r="0.98" fill="#fde9a4"/>
<circle cx="276.04" cy="111.63" r="0.98" fill="#fde59f"/>
<circle cx="297.95" cy="111.62" r="0.98" fill="#fbcd81"/>
<circle cx="286.45" cy="111.48" r="0.99" fill="#fcdc93"/>
<circle cx="300.13" cy="111.35" r="0.99" fill="#fbc97d"/>
<circle cx="289.76" cy="111.32" r="0.99" fill="#fcd98f"/>
<circle cx="300.08" cy="111.27" r="0.99" fill="#fbc97d"/>
<circle cx="295.91" cy="111.2" r="1" fill="#fbd085"/>
<circle cx="298.77" cy="111.2" r="1" fill="#fbcc80"/>
<circle cx="287.67" cy="111.2" r="1" fill="#fcdb91"/>
<circle cx="299.34" cy="111.16" r="1" fill="#fbcb7f"/>
<circle cx="283.42" cy="111.13" r="1" fill="#fcdf96"/>
<circle cx="292.84" cy="111.08" r="1" fill="#fcd58a"/>
<circle cx="295.48" cy="111.05" r="1" fill="#fbd185"/>
<circle cx="266.91" cy="111.04" r="1" fill="#fbf2b0"/>
<circle cx="293.11" cy="110.98" r="1" fill="#fcd489"/>
<circle cx="270.78" cy="110.96" r="1" fill="#fceeab"/>
<circle cx="272.32" cy="110.96" r="1" fill="#fceba7"/>
<circle cx="296.81" cy="110.88" r="1.01" fill="#fbcf83"/>
<circle cx="275.74" cy="110.84" r="1.01" fill="#fde6a0"/>
<circle cx="287.62" cy="110.8" r="1.01" fill="#fcdb91"/>
<circle cx="266.51" cy="110.79" r="1.01" fill="#fbf2b1"/>
<circle cx="296.78" cy="110.75" r="1.01" fill="#fbcf83"/>
<circle cx="271.74" cy="110.74" r="1.01" fill="#fceca8"/>
<circle cx="281.66" cy="110.69" r="1.01" fill="#fde098"/>
<circle cx="287.73" cy="110.69" r="1.01" fill="#fcdb91"/>
<circle cx="271.79" cy="110.68" r="1.01" fill="#fceca8"/>
<circle cx="296.25" cy="110.64" r="1.02" fill="#fbd084"/>
<circle cx="270.8" cy="110.63" r="1.02" fill="#fceeab"/>
<circle cx="276.3" cy="110.62" r="1.02" fill="#fde59f"/>
<circle cx="297.98" cy="110.35" r="1.03" fill="#fbcd81"/>
<circle cx="299.91" cy="110.26" r="1.03" fill="#fbca7e"/>
<circle cx="297.33" cy="110.2" r="1.03" fill="#fbce82"/>
<circle cx="295.77" cy="110.2" r="1.03" fill="#fbd085"/>
<circle cx="286.9" cy="110.09" r="1.04" fill="#fcdc92"/>
<circle cx="298.85" cy="110.09" r="1.04" fill="#fbcc80"/>
<circle cx="268.07" cy="110.06" r="1.04" fill="#fcf1af"/>
<circle cx="288.34" cy="110.05" r="1.04" fill="#fcdb90"/>
<circle cx="299.93" cy="110.01" r="1.04" fill="#fbca7e"/>
<circle cx="274.41" cy="110.01" r="1.04" fill="#fde8a2"/>
<circle cx="278.4" cy="110.01" r="1.04" fill="#fde39c"/>
<circle cx="274.58" cy="109.96" r="1.04" fill="#fde7a2"/>
<circle cx="300.31" cy="109.96" r="1.04" fill="#fbc97d"/>
<circle cx="280.97" cy="109.95" r="1.04" fill="#fde199"/>
<circle cx="271.76" cy="109.84" r="1.04" fill="#fceca8"/>
<circle cx="279.11" cy="109.81" r="1.04" fill="#fde39b"/>
<circle cx="272.67" cy="109.78" r="1.05" fill="#fceba6"/>
<circle cx="290.32" cy="109.77" r="1.05" fill="#fcd98e"/>
<circle cx="273.52" cy="109.75" r="1.05" fill="#fde9a4"/>
<circle cx="279.28" cy="109.57" r="1.05" fill="#fde39b"/>
<circle cx="282.8" cy="109.55" r="1.05" fill="#fcdf97"/>
<circle cx="269.18" cy="109.52" r="1.05" fill="#fcf0ad"/>
<circle cx="284.01" cy="109.42" r="1.06" fill="#fcde96"/>
<circle cx="281.58" cy="109.4" r="1.06" fill="#fde198"/>
<circle cx="279.21" cy="109.38" r="1.06" fill="#fde39b"/>
<circle cx="278.81" cy="109.37" r="1.06" fill="#fde39c"/>
<circle cx="290.99" cy="109.34" r="1.06" fill="#fcd88d"/>
<circle cx="289.38" cy="109.28" r="1.06" fill="#fcda8f"/>
<circle cx="273.05" cy="109.27" r="1.06" fill="#fdeaa5"/>
<circle cx="290.86" cy="109.27" r="1.06" fill="#fcd88d"/>
<circle cx="266.68" cy="109.21" r="1.06" fill="#fbf2b1"/>
<circle cx="269.58" cy="109.07" r="1.07" fill="#fcf0ad"/>
<circle cx="291.91" cy="108.99" r="1.07" fill="#fcd68b"/>
<circle cx="296.86" cy="108.89" r="1.07" fill="#fbcf83"/>
<circle cx="274.27" cy="108.87" r="1.08" fill="#fde8a3"/>
<circle cx="297.9" cy="108.8" r="1.08" fill="#fbcd81"/>
<circle cx="290.52" cy="108.73" r="1.08" fill="#fcd88d"/>
<circle cx="270.42" cy="108.7" r="1.08" fill="#fcefac"/>
<circle cx="266.84" cy="108.69" r="1.08" fill="#fbf2b1"/>
<circle cx="267.09" cy="108.62" r="1.08" fill="#fbf2b0"/>
<circle cx="290.94" cy="108.59" r="1.08" fill="#fcd88d"/>
<circle cx="281.89" cy="108.4" r="1.09" fill="#fde098"/>
<circle cx="270" cy="108.36" r="1.09" fill="#fcefac"/>
<circle cx="277.84" cy="108.24" r="1.09" fill="#fde49d"/>
<circle cx="272.84" cy="108.17" r="1.1" fill="#fdeaa6"/>
<circle cx="266.42" cy="108.14" r="1.1" fill="#fbf2b1"/>
<circle cx="280.54" cy="108.14" r="1.1" fill="#fde19a"/>
<circle cx="277.06" cy="108.06" r="1.1" fill="#fde59e"/>
<circle cx="286.84" cy="108.03" r="1.1" fill="#fcdc92"/>
<circle cx="276.81" cy="108.02" r="1.1" fill="#fde59e"/>
<circle cx="286.8" cy="107.97" r="1.1" fill="#fcdc92"/>
<circle cx="296.01" cy="107.94" r="1.1" fill="#fbd084"/>
<circle cx="299.56" cy="107.9" r="1.1" fill="#fbca7e"/>
<circle cx="284.92" cy="107.9" r="1.11" fill="#fcde94"/>
<circle cx="266.6" cy="107.65" r="1.11" fill="#fbf2b1"/>
<circle cx="274.3" cy="107.56" r="1.11" fill="#fde8a3"/>
<circle cx="293.04" cy="107.51" r="1.12" fill="#fcd589"/>
<circle cx="269.22" cy="107.5" r="1.12" fill="#fcf0ad"/>
<circle cx="284.16" cy="107.4" r="1.12" fill="#fcde95"/>
<circle cx="280.63" cy="107.4" r="1.12" fill="#fde19a"/>
<circle cx="292.38" cy="107.18" r="1.13" fill="#fcd68a"/>
<circle cx="292.79" cy="107.03" r="1.13" fill="#fcd58a"/>
<circle cx="281.7" cy="106.85" r="1.14" fill="#fde098"/>
<circle cx="292.27" cy="106.85" r="1.14" fill="#fcd68b"/>
<circle cx="284.39" cy="106.82" r="1.14" fill="#fcde95"/>
<circle cx="283.33" cy="106.77" r="1.14" fill="#fcdf96"/>
<circle cx="279.46" cy="106.64" r="1.14" fill="#fde29b"/>
<circle cx="286.18" cy="106.52" r="1.14" fill="#fcdd93"/>
<circle cx="279.32" cy="106.48" r="1.15" fill="#fde39b"/>
<circle cx="290.7" cy="106.4" r="1.15" fill="#fcd88d"/>
<circle cx="300.15" cy="106.37" r="1.15" fill="#fbc97d"/>
<circle cx="293.92" cy="106.35" r="1.15" fill="#fcd388"/>
<circle cx="271.21" cy="106.11" r="1.16" fill="#fcedaa"/>
<circle cx="292.93" cy="106.1" r="1.16" fill="#fcd589"/>
<circle cx="294.18" cy="106.06" r="1.16" fill="#fcd387"/>
<circle cx="270.69" cy="106.02" r="1.16" fill="#fceeab"/>
<circle cx="280.05" cy="105.86" r="1.16" fill="#fde29a"/>
<circle cx="276.54" cy="105.64" r="1.17" fill="#fde59f"/>
<circle cx="266.41" cy="105.56" r="1.17" fill="#fbf2b1"/>
<circle cx="297.69" cy="105.55" r="1.17" fill="#fbcd82"/>
<circle cx="276.37" cy="105.47" r="1.17" fill="#fde59f"/>
<circle cx="285.63" cy="105.3" r="1.18" fill="#fcdd94"/>
<circle cx="278.85" cy="105.3" r="1.18" fill="#fde39c"/>
<circle cx="292.77" cy="105.08" r="1.18" fill="#fcd58a"/>
<circle cx="291.37" cy="105.08" r="1.18" fill="#fcd78c"/>
<circle cx="280.11" cy="104.75" r="1.19" fill="#fde29a"/>
<circle cx="295.26" cy="104.66" r="1.19" fill="#fbd186"/>
<circle cx="285" cy="104.41" r="1.2" fill="#fcde94"/>
<circle cx="296.9" cy="104.39" r="1.2" fill="#fbcf83"/>
<circle cx="289.71" cy="104.36" r="1.2" fill="#fcd98f"/>
<circle cx="267.92" cy="104.36" r="1.2" fill="#fbf1af"/>
<circle cx="297.86" cy="104.29" r="1.2" fill="#fbcd81"/>
<circle cx="288.38" cy="104.27" r="1.2" fill="#fcdb90"/>
<circle cx="283.96" cy="104.18" r="1.21" fill="#fcde96"/>
<circle cx="266.67" cy="104.17" r="1.21" fill="#fbf2b1"/>
<circle cx="295.7" cy="103.96" r="1.21" fill="#fbd085"/>
<circle cx="267.63" cy="103.88" r="1.21" fill="#fbf1af"/>
<circle cx="288.71" cy="103.78" r="1.22" fill="#fcda90"/>
<circle cx="284.84" cy="103.6" r="1.22" fill="#fcde94"/>
<circle cx="268.22" cy="103.55" r="1.22" fill="#fcf1af"/>
<circle cx="294.15" cy="103.44" r="1.23" fill="#fcd387"/>
<circle cx="270.23" cy="103.43" r="1.23" fill="#fcefac"/>
<circle cx="275.38" cy="103.43" r="1.23" fill="#fde6a0"/>
<circle cx="287.68" cy="103.34" r="1.23" fill="#fcdb91"/>
<circle cx="289.5" cy="103.28" r="1.23" fill="#fcda8f"/>
<circle cx="270.17" cy="103.05" r="1.23" fill="#fcefac"/>
<circle cx="291.67" cy="103.04" r="1.23" fill="#fcd78c"/>
<circle cx="295.78" cy="102.95" r="1.24" fill="#fbd085"/>
<circle cx="291.92" cy="102.79" r="1.24" fill="#fcd68b"/>
<circle cx="273.97" cy="102.7" r="1.24" fill="#fde8a3"/>
<circle cx="268.04" cy="102.69" r="1.24" fill="#fcf1af"/>
<circle cx="269.81" cy="102.63" r="1.24" fill="#fcefad"/>
<circle cx="288.29" cy="102.58" r="1.25" fill="#fcdb90"/>
<circle cx="291.28" cy="102.34" r="1.25" fill="#fcd78c"/>
<circle cx="268.15" cy="102.31" r="1.25" fill="#fcf1af"/>
<circle cx="275.56" cy="102.28" r="1.25" fill="#fde6a0"/>
<circle cx="298.27" cy="102.27" r="1.25" fill="#fbcc81"/>
<circle cx="272.39" cy="102.19" r="1.26" fill="#fceba7"/>
<circle cx="286.81" cy="102.12" r="1.26" fill="#fcdc92"/>
<circle cx="271.4" cy="102.07" r="1.26" fill="#fceda9"/>
<circle cx="280.51" cy="102.07" r="1.26" fill="#fde19a"/>
<circle cx="291.32" cy="102.04" r="1.26" fill="#fcd78c"/>
<circle cx="297.95" cy="101.73" r="1.27" fill="#fbcd81"/>
<circle cx="270.23" cy="101.71" r="1.27" fill="#fcefac"/>
<circle cx="287.91" cy="101.5" r="1.27" fill="#fcdb91"/>
<circle cx="266.93" cy="101.36" r="1.27" fill="#fbf2b0"/>
<circle cx="294.69" cy="101.29" r="1.28" fill="#fcd287"/>
<circle cx="295.39" cy="100.91" r="1.28" fill="#fbd185"/>
<circle cx="293.9" cy="100.88" r="1.29" fill="#fcd388"/>
<circle cx="283.03" cy="100.67" r="1.29" fill="#fcdf97"/>
<circle cx="280.38" cy="100.62" r="1.29" fill="#fde29a"/>
<circle cx="279.05" cy="100.5" r="1.29" fill="#fde39c"/>
<circle cx="279.65" cy="100.43" r="1.3" fill="#fde29b"/>
<circle cx="283.33" cy="100.33" r="1.3" fill="#fcdf96"/>
<circle cx="291.09" cy="100.17" r="1.3" fill="#fcd88c"/>
<circle cx="294.47" cy="100.11" r="1.3" fill="#fcd287"/>
<circle cx="279.84" cy="100.11" r="1.3" fill="#fde29b"/>
<circle cx="287.86" cy="100.1" r="1.3" fill="#fcdb91"/>
<circle cx="279.11" cy="100" r="1.3" fill="#fde39b"/>
<circle cx="291.45" cy="99.99" r="1.3" fill="#fcd78c"/>
<circle cx="283.88" cy="99.88" r="1.31" fill="#fcdf96"/>
<circle cx="277.67" cy="99.88" r="1.31" fill="#fde49d"/>
<circle cx="292.48" cy="99.34" r="1.32" fill="#fcd58a"/>
<circle cx="289.66" cy="98.95" r="1.33" fill="#fcd98f"/>
<circle cx="270.18" cy="98.74" r="1.33" fill="#fcefac"/>
<circle cx="290.1" cy="98.71" r="1.33" fill="#fcd98e"/>
<circle cx="289.51" cy="98.64" r="1.33" fill="#fcda8f"/>
<circle cx="282.21" cy="98.57" r="1.34" fill="#fde098"/>
<circle cx="289.71" cy="98.4" r="1.34" fill="#fcd98f"/>
<circle cx="282.56" cy="98.31" r="1.34" fill="#fde097"/>
<circle cx="269.77" cy="98.18" r="1.34" fill="#fcefad"/>
<circle cx="282.12" cy="98.16" r="1.34" fill="#fde098"/>
<circle cx="269.06" cy="98.11" r="1.35" fill="#fcf0ae"/>
<circle cx="271.27" cy="98.08" r="1.35" fill="#fcedaa"/>
<circle cx="290.03" cy="98.06" r="1.35" fill="#fcd98e"/>
<circle cx="281.34" cy="97.64" r="1.35" fill="#fde199"/>
<circle cx="283.13" cy="97.48" r="1.36" fill="#fcdf97"/>
<circle cx="289.01" cy="97.37" r="1.36" fill="#fcda8f"/>
<circle cx="288.91" cy="97.22" r="1.36" fill="#fcda90"/>
<circle cx="271.42" cy="97.03" r="1.37" fill="#fceda9"/>
<circle cx="274.14" cy="96.52" r="1.38" fill="#fde8a3"/>
<circle cx="285.84" cy="96.31" r="1.38" fill="#fcdd93"/>
<circle cx="272.85" cy="96.22" r="1.38" fill="#fdeaa6"/>
<circle cx="278.01" cy="96.18" r="1.38" fill="#fde49d"/>
<circle cx="288.52" cy="96.15" r="1.38" fill="#fcda90"/>
<circle cx="285.12" cy="96.08" r="1.39" fill="#fcdd94"/>
<circle cx="281.33" cy="95.95" r="1.39" fill="#fde199"/>
<circle cx="272.34" cy="95.76" r="1.39" fill="#fceba7"/>
<circle cx="276.93" cy="95.61" r="1.4" fill="#fde59e"/>
<circle cx="287.86" cy="95.24" r="1.4" fill="#fcdb91"/>
<circle cx="280" cy="94.87" r="1.41" fill="#fde29a"/>
<circle cx="283.57" cy="94.67" r="1.41" fill="#fcdf96"/>
<circle cx="272.32" cy="94.53" r="1.42" fill="#fceba7"/>
<circle cx="277.74" cy="94.51" r="1.42" fill="#fde49d"/>
<circle cx="288.33" cy="94.51" r="1.42" fill="#fcdb90"/>
<circle cx="285.42" cy="94.04" r="1.43" fill="#fcdd94"/>
<circle cx="272.99" cy="93.97" r="1.43" fill="#fdeaa6"/>
<circle cx="271.01" cy="93.92" r="1.43" fill="#fceeaa"/>
<circle cx="290.98" cy="93.54" r="1.44" fill="#fcd88d"/>
<circle cx="274.48" cy="93.53" r="1.44" fill="#fde8a2"/>
<circle cx="281.07" cy="93.17" r="1.44" fill="#fde199"/>
<circle cx="279.12" cy="92.24" r="1.46" fill="#fde39b"/>
<circle cx="284.46" cy="92.21" r="1.46" fill="#fcde95"/>
<circle cx="290.06" cy="91.75" r="1.47" fill="#fcd98e"/>
<circle cx="274.51" cy="91.45" r="1.47" fill="#fde8a2"/>
<circle cx="278.08" cy="90.66" r="1.49" fill="#fde49d"/>
<circle cx="283.54" cy="90.65" r="1.49" fill="#fcdf96"/>
<circle cx="282.68" cy="90.24" r="1.49" fill="#fde097"/>
<circle cx="287.24" cy="89.83" r="1.5" fill="#fcdc92"/>
<circle cx="284.34" cy="89.46" r="1.51" fill="#fcde95"/>
<circle cx="285.47" cy="89.42" r="1.51" fill="#fcdd94"/>
<circle cx="288.76" cy="88.73" r="1.52" fill="#fcda90"/>
<circle cx="277.68" cy="88.62" r="1.52" fill="#fde49d"/>
<circle cx="277.63" cy="88.25" r="1.53" fill="#fde49d"/>
<circle cx="284.78" cy="87.89" r="1.54" fill="#fcde95"/>
<circle cx="275.64" cy="87.42" r="1.54" fill="#fde6a0"/>
<circle cx="290.2" cy="86.3" r="1.56" fill="#fcd98e"/>
<circle cx="289.8" cy="90.7" r="1.49" fill="#fcd98e"/>
<circle cx="296.8" cy="98.2" r="1.34" fill="#fbcf83"/>
<circle cx="298.9" cy="96.4" r="1.38" fill="#fbcb80"/>
<circle cx="305.6" cy="94.7" r="1.41" fill="#fabd71"/>
<circle cx="304.2" cy="102" r="1.26" fill="#fac074"/>
<circle cx="310.8" cy="100" r="1.3" fill="#f9b065"/>
<circle cx="312.2" cy="90.1" r="1.5" fill="#f9ad62"/>
<circle cx="321.4" cy="90.7" r="1.49" fill="#f6964f"/>
<circle cx="323.1" cy="85.9" r="1.57" fill="#f58f4d"/>
<circle cx="328.4" cy="98.5" r="1.34" fill="#f17944"/>
<circle cx="322.2" cy="108.7" r="1.08" fill="#f5924e"/>
<circle cx="305.6" cy="109.9" r="1.04" fill="#fabd71"/>
<circle cx="302.1" cy="112.6" r="0.94" fill="#fbc579"/>
<circle cx="298.6" cy="106.4" r="1.15" fill="#fbcc80"/>
<circle cx="300.5" cy="114.5" r="0.85" fill="#fbc87c"/>
<circle cx="296" cy="111" r="1" fill="#fbd084"/>
<line x1="225" y1="73.91" x2="366.5" y2="73.91" stroke="#333" stroke-width="0.6" stroke-dasharray="2 1.3 0.6 1.3"/>
<line x1="266.38" y1="24.3" x2="232.9" y2="24.3" stroke="#9ec8df" stroke-width="1.1"/>
<path d="M231.4 24.3L233.8 22.95L233.8 25.65Z" fill="#9ec8df"/>
<line x1="266.38" y1="24.3" x2="359.4" y2="24.3" stroke="#d9625b" stroke-width="1.1"/>
<path d="M360.9 24.3L358.5 22.95L358.5 25.65Z" fill="#d9625b"/>
<text x="249" y="22.6" font-size="3.6" stroke="#78b0d0" stroke-width="0.08" text-anchor="middle" fill="#78b0d0">Inverse</text>
<text x="313" y="22.6" font-size="3.6" stroke="#d0544c" stroke-width="0.08" text-anchor="middle" fill="#d0544c">Positive</text>
<circle cx="231.4" cy="80.1" r="1.5" fill="#3278b5"/>
<circle cx="234.2" cy="104.6" r="1" fill="#4986ba"/>
<circle cx="234" cy="110.7" r="0.9" fill="#4885b9"/>
<circle cx="245.6" cy="80" r="1.3" fill="#9fbbb7"/>
<circle cx="252.5" cy="79.4" r="1.3" fill="#bed0ae"/>
<circle cx="255.5" cy="79" r="1.1" fill="#cdd9aa"/>
<circle cx="241.2" cy="84.9" r="1" fill="#8baebd"/>
<circle cx="243.5" cy="85.5" r="1" fill="#95b5ba"/>
<circle cx="250" cy="85" r="1" fill="#b3c8b1"/>
<circle cx="260.6" cy="85.8" r="1.1" fill="#f1efb2"/>
<circle cx="276" cy="75" r="1.3" fill="#fde59f"/>
<circle cx="288" cy="73.5" r="1.3" fill="#fcdb91"/>
<circle cx="293.6" cy="75.9" r="1.4" fill="#fcd488"/>
<circle cx="293.3" cy="75.6" r="1.2" fill="#fcd489"/>
<circle cx="360.4" cy="109.8" r="1" fill="#a10d58"/>
<circle cx="246.9" cy="55.8" r="1.8" fill="#a8bfa0"/>
<path d="M247.98 55.26 Q250.95 55.8 253 52" fill="none" stroke="#222" stroke-width="0.35"/>
<text x="253" y="51.74" font-size="2.9" stroke="#1a1a1a" stroke-width="0.07" text-anchor="middle" fill="#1a1a1a">POLR2A</text>
<circle cx="233.2" cy="63.1" r="1.8" fill="#3178b5"/>
<path d="M234.28 62.56 Q237 63.1 238.8 59.6" fill="none" stroke="#222" stroke-width="0.35"/>
<text x="238.8" y="59.34" font-size="2.9" stroke="#1a1a1a" stroke-width="0.07" text-anchor="middle" fill="#1a1a1a">BRPF3</text>
<circle cx="237.1" cy="72.2" r="1.7" fill="#4a86ba"/>
<path d="M238.12 71.69 Q239.85 72.2 240.6 68.8" fill="none" stroke="#222" stroke-width="0.35"/>
<text x="240.6" y="68.54" font-size="2.9" stroke="#1a1a1a" stroke-width="0.07" text-anchor="middle" fill="#1a1a1a">TBC1D32</text>
<circle cx="249.5" cy="71.9" r="1.5" fill="#bfcda6"/>
<path d="M250.4 71.45 Q252.25 71.9 253 66.8" fill="none" stroke="#222" stroke-width="0.35"/>
<text x="253" y="66.54" font-size="2.9" stroke="#1a1a1a" stroke-width="0.07" text-anchor="middle" fill="#1a1a1a">TGFB3</text>
<circle cx="252.9" cy="72.4" r="1.3" fill="#d5dca6"/>
<path d="M253.68 72.01 Q256.65 72.4 258.4 69.2" fill="none" stroke="#222" stroke-width="0.35"/>
<text x="258.4" y="68.94" font-size="2.9" stroke="#1a1a1a" stroke-width="0.07" text-anchor="middle" fill="#1a1a1a">MICU1</text>
<circle cx="272.2" cy="72.2" r="1.5" fill="#fde9a0"/>
<path d="M273.1 71.75 Q274.7 72.2 275.2 68.8" fill="none" stroke="#222" stroke-width="0.35"/>
<text x="275.2" y="68.54" font-size="2.9" stroke="#1a1a1a" stroke-width="0.07" text-anchor="middle" fill="#1a1a1a">ULBP1</text>
<circle cx="291.3" cy="53.8" r="2" fill="#fbcb7c"/>
<path d="M292.5 53.2 Q294.15 53.8 295 49.9" fill="none" stroke="#222" stroke-width="0.35"/>
<text x="295" y="49.64" font-size="2.9" stroke="#1a1a1a" stroke-width="0.07" text-anchor="middle" fill="#1a1a1a">PTCH1</text>
<circle cx="331.7" cy="55.6" r="2.2" fill="#f0703c"/>
<path d="M333.02 54.94 Q334.6 55.6 335.5 51.9" fill="none" stroke="#222" stroke-width="0.35"/>
<text x="335.5" y="51.64" font-size="2.9" stroke="#1a1a1a" stroke-width="0.07" text-anchor="middle" fill="#1a1a1a">HMGCR</text>
<circle cx="331.2" cy="72.3" r="1.9" fill="#f0703c"/>
<path d="M332.34 71.73 Q335.2 72.3 337.2 68.8" fill="none" stroke="#222" stroke-width="0.35"/>
<text x="337.2" y="68.54" font-size="2.9" stroke="#1a1a1a" stroke-width="0.07" text-anchor="middle" fill="#1a1a1a">FGD4</text>
<rect x="370" y="36.3" width="14.8" height="34.4" rx="1.5" fill="#fff" stroke="#d4d4d4" stroke-width="0.6"/>
<text x="371.5" y="40.09" font-size="3.3" stroke="#111" stroke-width="0.1" fill="#111">or</text>
<defs><linearGradient id="g1794" x1="0" y1="1" x2="0" y2="0"><stop offset="0" stop-color="#2e76b4"/><stop offset="0.1" stop-color="#9cbcc4"/><stop offset="0.3" stop-color="#fdf5b5"/><stop offset="0.55" stop-color="#fcd386"/><stop offset="0.72" stop-color="#f8a050"/><stop offset="0.85" stop-color="#ee6a3c"/><stop offset="0.94" stop-color="#d03a50"/><stop offset="1" stop-color="#9e0142"/></linearGradient></defs>
<rect x="371.5" y="42.3" width="5.2" height="27.3" fill="url(#g1794)"/>
<line x1="375.9" y1="49.2" x2="376.7" y2="49.2" stroke="#fff" stroke-width="0.3"/>
<text x="378.9" y="50.28" font-size="3" stroke="#222" stroke-width="0.08" fill="#222">2.0</text>
<line x1="375.9" y1="55.3" x2="376.7" y2="55.3" stroke="#fff" stroke-width="0.3"/>
<text x="378.9" y="56.38" font-size="3" stroke="#222" stroke-width="0.08" fill="#222">1.5</text>
<line x1="375.9" y1="61.7" x2="376.7" y2="61.7" stroke="#fff" stroke-width="0.3"/>
<text x="378.9" y="62.78" font-size="3" stroke="#222" stroke-width="0.08" fill="#222">1.0</text>
<line x1="375.9" y1="68.1" x2="376.7" y2="68.1" stroke="#fff" stroke-width="0.3"/>
<text x="378.9" y="69.18" font-size="3" stroke="#222" stroke-width="0.08" fill="#222">0.5</text>
<rect x="370.4" y="75.1" width="23" height="30.9" rx="1.5" fill="#fff" stroke="#d4d4d4" stroke-width="0.6"/>
<text x="372" y="79.38" font-size="3" stroke="#111" stroke-width="0.1" fill="#111">-log10(FDR)</text>
<circle cx="374.9" cy="83.9" r="0.45" fill="#000"/>
<text x="378.9" y="84.98" font-size="3" stroke="#222" stroke-width="0.08" fill="#222">0.0</text>
<circle cx="374.9" cy="89" r="1.2" fill="#000"/>
<text x="378.9" y="90.08" font-size="3" stroke="#222" stroke-width="0.08" fill="#222">0.5</text>
<circle cx="374.9" cy="94.4" r="1.6" fill="#000"/>
<text x="378.9" y="95.48" font-size="3" stroke="#222" stroke-width="0.08" fill="#222">1.0</text>
<circle cx="374.9" cy="99.7" r="2" fill="#000"/>
<text x="378.9" y="100.78" font-size="3" stroke="#222" stroke-width="0.08" fill="#222">1.5</text>
<rect x="426.3" y="12.2" width="231.2" height="115.9" fill="#fff" stroke="#969696" stroke-width="0.8"/>
<line x1="425" y1="119.6" x2="426.3" y2="119.6" stroke="#969696" stroke-width="0.6"/>
<text x="424.4" y="121" font-size="3.9" stroke="#2a2a2a" stroke-width="0.1" text-anchor="end" fill="#2a2a2a">0</text>
<line x1="425" y1="90.4" x2="426.3" y2="90.4" stroke="#969696" stroke-width="0.6"/>
<text x="424.4" y="91.8" font-size="3.9" stroke="#2a2a2a" stroke-width="0.1" text-anchor="end" fill="#2a2a2a">2</text>
<line x1="425" y1="61.2" x2="426.3" y2="61.2" stroke="#969696" stroke-width="0.6"/>
<text x="424.4" y="62.6" font-size="3.9" stroke="#2a2a2a" stroke-width="0.1" text-anchor="end" fill="#2a2a2a">4</text>
<line x1="425" y1="32" x2="426.3" y2="32" stroke="#969696" stroke-width="0.6"/>
<text x="424.4" y="33.4" font-size="3.9" stroke="#2a2a2a" stroke-width="0.1" text-anchor="end" fill="#2a2a2a">6</text>
<line x1="475.4" y1="128.1" x2="475.4" y2="129.4" stroke="#969696" stroke-width="0.6"/>
<text x="475.4" y="132.6" font-size="3.9" stroke="#2a2a2a" stroke-width="0.1" text-anchor="middle" fill="#2a2a2a">1</text>
<line x1="555.25" y1="128.1" x2="555.25" y2="129.4" stroke="#969696" stroke-width="0.6"/>
<text x="555.25" y="132.6" font-size="3.9" stroke="#2a2a2a" stroke-width="0.1" text-anchor="middle" fill="#2a2a2a">2</text>
<line x1="635.1" y1="128.1" x2="635.1" y2="129.4" stroke="#969696" stroke-width="0.6"/>
<text x="635.1" y="132.6" font-size="3.9" stroke="#2a2a2a" stroke-width="0.1" text-anchor="middle" fill="#2a2a2a">3</text>
<text x="541.9" y="137.76" font-size="4.9" stroke="#2a2a2a" stroke-width="0.15" text-anchor="middle" fill="#2a2a2a">OR</text>
<text x="418.4" y="67.46" font-size="4.9" stroke="#2a2a2a" stroke-width="0.15" text-anchor="middle" fill="#2a2a2a" transform="rotate(-90 418.4 65.7)">-log10(FDR)</text>
<line x1="475.4" y1="12.2" x2="475.4" y2="128.1" stroke="#333" stroke-width="0.65" stroke-dasharray="0.8 1.0"/>
<circle cx="470.3" cy="119.3" r="0.61" fill="#d8deb1"/>
<circle cx="474.39" cy="119.25" r="0.62" fill="#eaeab5"/>
<circle cx="471.71" cy="119.25" r="0.62" fill="#dde2b2"/>
<circle cx="473.54" cy="119.16" r="0.63" fill="#e6e7b4"/>
<circle cx="465.55" cy="119.03" r="0.64" fill="#c6d2b0"/>
<circle cx="466.57" cy="118.8" r="0.66" fill="#cad5b0"/>
<circle cx="472.43" cy="118.73" r="0.66" fill="#e0e4b2"/>
<circle cx="467.58" cy="118.72" r="0.66" fill="#ced7b1"/>
<circle cx="462.85" cy="118.69" r="0.66" fill="#bdccb3"/>
<circle cx="467.38" cy="118.6" r="0.67" fill="#cdd7b1"/>
<circle cx="462.01" cy="118.51" r="0.67" fill="#bacbb4"/>
<circle cx="468.72" cy="118.5" r="0.67" fill="#d2dab1"/>
<circle cx="464.52" cy="118.41" r="0.68" fill="#c2d0b1"/>
<circle cx="467.88" cy="118.4" r="0.68" fill="#cfd8b1"/>
<circle cx="462.01" cy="118.38" r="0.68" fill="#bacbb4"/>
<circle cx="465.99" cy="118.37" r="0.68" fill="#c8d3b0"/>
<circle cx="460.8" cy="118.27" r="0.69" fill="#b6c8b6"/>
<circle cx="462.74" cy="118.16" r="0.69" fill="#bcccb3"/>
<circle cx="464.58" cy="118.12" r="0.69" fill="#c3d0b1"/>
<circle cx="460.56" cy="118.02" r="0.7" fill="#b5c8b6"/>
<circle cx="469.93" cy="118" r="0.7" fill="#d6ddb1"/>
<circle cx="462.31" cy="117.97" r="0.7" fill="#bbcbb4"/>
<circle cx="465.01" cy="117.95" r="0.7" fill="#c4d1b0"/>
<circle cx="469.83" cy="117.92" r="0.7" fill="#d6ddb1"/>
<circle cx="460.18" cy="117.88" r="0.7" fill="#b4c7b7"/>
<circle cx="472.29" cy="117.86" r="0.71" fill="#dfe3b2"/>
<circle cx="460.17" cy="117.85" r="0.71" fill="#b4c7b7"/>
<circle cx="473.92" cy="117.83" r="0.71" fill="#e8e9b5"/>
<circle cx="462.54" cy="117.77" r="0.71" fill="#bcccb3"/>
<circle cx="473.98" cy="117.76" r="0.71" fill="#e8e9b5"/>
<circle cx="466.36" cy="117.71" r="0.71" fill="#c9d4b0"/>
<circle cx="457.54" cy="117.63" r="0.72" fill="#abc1ba"/>
<circle cx="458.6" cy="117.62" r="0.72" fill="#afc4b9"/>
<circle cx="472.68" cy="117.58" r="0.72" fill="#e1e5b3"/>
<circle cx="458.41" cy="117.54" r="0.72" fill="#aec3b9"/>
<circle cx="468.75" cy="117.52" r="0.72" fill="#d2dab1"/>
<circle cx="473.17" cy="117.47" r="0.72" fill="#e4e6b3"/>
<circle cx="465.66" cy="117.45" r="0.72" fill="#c6d3b0"/>
<circle cx="467.89" cy="117.42" r="0.72" fill="#cfd8b1"/>
<circle cx="467.52" cy="117.34" r="0.73" fill="#cdd7b1"/>
<circle cx="458.84" cy="117.32" r="0.73" fill="#afc4b9"/>
<circle cx="456.64" cy="117.26" r="0.73" fill="#a8c0bb"/>
<circle cx="459.16" cy="117.16" r="0.73" fill="#b0c5b8"/>
<circle cx="459.29" cy="117.15" r="0.73" fill="#b1c5b8"/>
<circle cx="467.07" cy="117.07" r="0.74" fill="#ccd6b1"/>
<circle cx="458.03" cy="116.97" r="0.74" fill="#adc2ba"/>
<circle cx="458.14" cy="116.97" r="0.74" fill="#adc3ba"/>
<circle cx="454.64" cy="116.86" r="0.74" fill="#a2bcbe"/>
<circle cx="459.08" cy="116.84" r="0.75" fill="#b0c5b8"/>
<circle cx="463.02" cy="116.83" r="0.75" fill="#bdcdb3"/>
<circle cx="454.17" cy="116.81" r="0.75" fill="#a1bbbf"/>
<circle cx="460.41" cy="116.8" r="0.75" fill="#b5c7b6"/>
<circle cx="455.31" cy="116.79" r="0.75" fill="#a4bdbd"/>
<circle cx="464.73" cy="116.76" r="0.75" fill="#c3d0b0"/>
<circle cx="463.81" cy="116.72" r="0.75" fill="#c0ceb2"/>
<circle cx="473.51" cy="116.71" r="0.75" fill="#e6e7b4"/>
<circle cx="472.74" cy="116.71" r="0.75" fill="#e2e5b3"/>
<circle cx="464.34" cy="116.61" r="0.75" fill="#c2d0b1"/>
<circle cx="454.95" cy="116.58" r="0.75" fill="#a3bcbe"/>
<circle cx="452.48" cy="116.56" r="0.76" fill="#9bb7c1"/>
<circle cx="455.22" cy="116.36" r="0.76" fill="#a4bdbd"/>
<circle cx="455.51" cy="116.31" r="0.76" fill="#a5bdbd"/>
<circle cx="453.96" cy="116.28" r="0.76" fill="#a0babf"/>
<circle cx="453.7" cy="116.25" r="0.77" fill="#9fbabf"/>
<circle cx="457.3" cy="116.2" r="0.77" fill="#aac1bb"/>
<circle cx="473.66" cy="116.19" r="0.77" fill="#e7e8b4"/>
<circle cx="454.64" cy="116.16" r="0.77" fill="#a2bcbe"/>
<circle cx="456.32" cy="116.16" r="0.77" fill="#a7bfbc"/>
<circle cx="464.72" cy="116.12" r="0.77" fill="#c3d0b0"/>
<circle cx="465.88" cy="116.1" r="0.77" fill="#c7d3b0"/>
<circle cx="454.58" cy="116.06" r="0.77" fill="#a2bbbe"/>
<circle cx="460.43" cy="116.05" r="0.77" fill="#b5c7b6"/>
<circle cx="471.05" cy="116.01" r="0.77" fill="#dbe0b2"/>
<circle cx="454.64" cy="115.92" r="0.78" fill="#a2bcbe"/>
<circle cx="456.75" cy="115.91" r="0.78" fill="#a9c0bb"/>
<circle cx="456.9" cy="115.91" r="0.78" fill="#a9c0bb"/>
<circle cx="468.64" cy="115.91" r="0.78" fill="#d2dab1"/>
<circle cx="457.95" cy="115.86" r="0.78" fill="#acc2ba"/>
<circle cx="462.79" cy="115.81" r="0.78" fill="#bdccb3"/>
<circle cx="465.8" cy="115.81" r="0.78" fill="#c7d3b0"/>
<circle cx="454.03" cy="115.77" r="0.78" fill="#a0babf"/>
<circle cx="460.2" cy="115.74" r="0.78" fill="#b4c7b7"/>
<circle cx="450.25" cy="115.73" r="0.78" fill="#8eafc2"/>
<circle cx="464.91" cy="115.7" r="0.78" fill="#c4d1b0"/>
<circle cx="453.86" cy="115.67" r="0.78" fill="#a0babf"/>
<circle cx="458.39" cy="115.67" r="0.78" fill="#aec3b9"/>
<circle cx="453.47" cy="115.66" r="0.78" fill="#9eb9bf"/>
<circle cx="455.87" cy="115.59" r="0.79" fill="#a6bebc"/>
<circle cx="456.59" cy="115.55" r="0.79" fill="#a8bfbc"/>
<circle cx="466.44" cy="115.47" r="0.79" fill="#c9d5b0"/>
<circle cx="465.84" cy="115.42" r="0.79" fill="#c7d3b0"/>
<circle cx="455.4" cy="115.37" r="0.79" fill="#a4bdbd"/>
<circle cx="466.34" cy="115.37" r="0.79" fill="#c9d4b0"/>
<circle cx="452.05" cy="115.3" r="0.79" fill="#9ab6c1"/>
<circle cx="469.02" cy="115.27" r="0.8" fill="#d3dbb1"/>
<circle cx="447.78" cy="115.26" r="0.8" fill="#7aa3c1"/>
<circle cx="470.79" cy="115.25" r="0.8" fill="#dadfb2"/>
<circle cx="470.61" cy="115.23" r="0.8" fill="#d9dfb2"/>
<circle cx="450.04" cy="115.19" r="0.8" fill="#8daec2"/>
<circle cx="463.78" cy="115.18" r="0.8" fill="#c0ceb2"/>
<circle cx="454.27" cy="115.17" r="0.8" fill="#a1bbbe"/>
<circle cx="471.85" cy="115.15" r="0.8" fill="#dee2b2"/>
<circle cx="472.76" cy="115.15" r="0.8" fill="#e2e5b3"/>
<circle cx="450.67" cy="115.15" r="0.8" fill="#92b1c2"/>
<circle cx="447.49" cy="115.12" r="0.8" fill="#78a2c1"/>
<circle cx="458.1" cy="115.11" r="0.8" fill="#adc3ba"/>
<circle cx="457.3" cy="115.09" r="0.8" fill="#aac1bb"/>
<circle cx="460.45" cy="115.06" r="0.8" fill="#b5c7b6"/>
<circle cx="459.55" cy="115.04" r="0.8" fill="#b2c6b8"/>
<circle cx="462.87" cy="115.04" r="0.8" fill="#bdcdb3"/>
<circle cx="448.65" cy="115.02" r="0.8" fill="#81a7c1"/>
<circle cx="449.39" cy="114.97" r="0.8" fill="#87abc1"/>
<circle cx="457.33" cy="114.94" r="0.8" fill="#aac1bb"/>
<circle cx="447.82" cy="114.92" r="0.8" fill="#7ba3c1"/>
<circle cx="450.09" cy="114.92" r="0.8" fill="#8daec2"/>
<circle cx="452.58" cy="114.9" r="0.81" fill="#9cb7c1"/>
<circle cx="469.16" cy="114.85" r="0.81" fill="#d4dbb1"/>
<circle cx="457.51" cy="114.84" r="0.81" fill="#abc1ba"/>
<circle cx="471.27" cy="114.8" r="0.81" fill="#dbe1b2"/>
<circle cx="448.69" cy="114.76" r="0.81" fill="#82a8c1"/>
<circle cx="465.11" cy="114.67" r="0.81" fill="#c4d1b0"/>
<circle cx="469.72" cy="114.67" r="0.81" fill="#d6ddb1"/>
<circle cx="473.63" cy="114.61" r="0.81" fill="#e6e8b4"/>
<circle cx="465.83" cy="114.6" r="0.81" fill="#c7d3b0"/>
<circle cx="459.87" cy="114.6" r="0.81" fill="#b3c6b7"/>
<circle cx="450.72" cy="114.59" r="0.81" fill="#92b1c2"/>
<circle cx="453.34" cy="114.56" r="0.81" fill="#9eb9c0"/>
<circle cx="468.87" cy="114.55" r="0.81" fill="#d2dbb1"/>
<circle cx="462.56" cy="114.55" r="0.81" fill="#bcccb3"/>
<circle cx="472.96" cy="114.53" r="0.82" fill="#e3e6b3"/>
<circle cx="462.8" cy="114.53" r="0.82" fill="#bdccb3"/>
<circle cx="461.37" cy="114.51" r="0.82" fill="#b8c9b5"/>
<circle cx="466.72" cy="114.5" r="0.82" fill="#cad5b0"/>
<circle cx="447.7" cy="114.46" r="0.82" fill="#7aa3c1"/>
<circle cx="463.65" cy="114.44" r="0.82" fill="#bfceb2"/>
<circle cx="462.7" cy="114.44" r="0.82" fill="#bcccb3"/>
<circle cx="455.9" cy="114.41" r="0.82" fill="#a6bebc"/>
<circle cx="470.84" cy="114.4" r="0.82" fill="#dae0b2"/>
<circle cx="447.47" cy="114.4" r="0.82" fill="#78a2c1"/>
<circle cx="450.74" cy="114.37" r="0.82" fill="#92b2c2"/>
<circle cx="475.14" cy="114.34" r="0.82" fill="#eeedb6"/>
<circle cx="450.74" cy="114.29" r="0.82" fill="#92b2c2"/>
<circle cx="462.25" cy="114.28" r="0.82" fill="#bbcbb4"/>
<circle cx="468.76" cy="114.27" r="0.82" fill="#d2dab1"/>
<circle cx="470" cy="114.25" r="0.82" fill="#d7ddb1"/>
<circle cx="463.55" cy="114.16" r="0.82" fill="#bfceb2"/>
<circle cx="451.16" cy="114.13" r="0.83" fill="#96b4c2"/>
<circle cx="448.92" cy="114.09" r="0.83" fill="#83a9c1"/>
<circle cx="474.87" cy="114.04" r="0.83" fill="#edecb6"/>
<circle cx="447.5" cy="114.03" r="0.83" fill="#78a2c1"/>
<circle cx="462.45" cy="114.02" r="0.83" fill="#bbccb4"/>
<circle cx="474.95" cy="114" r="0.83" fill="#edecb6"/>
<circle cx="459.27" cy="113.98" r="0.83" fill="#b1c5b8"/>
<circle cx="451.06" cy="113.96" r="0.83" fill="#95b3c2"/>
<circle cx="452.04" cy="113.93" r="0.83" fill="#9ab6c1"/>
<circle cx="466.02" cy="113.93" r="0.83" fill="#c8d4b0"/>
<circle cx="450.41" cy="113.89" r="0.83" fill="#90b0c2"/>
<circle cx="462.42" cy="113.89" r="0.83" fill="#bbccb4"/>
<circle cx="449.94" cy="113.84" r="0.83" fill="#8caec2"/>
<circle cx="457.62" cy="113.84" r="0.83" fill="#abc2ba"/>
<circle cx="462.44" cy="113.82" r="0.83" fill="#bbccb4"/>
<circle cx="463.09" cy="113.8" r="0.83" fill="#becdb3"/>
<circle cx="450.38" cy="113.79" r="0.83" fill="#8fb0c2"/>
<circle cx="449.7" cy="113.79" r="0.83" fill="#8aadc1"/>
<circle cx="456.14" cy="113.78" r="0.83" fill="#a7bfbc"/>
<circle cx="449.99" cy="113.75" r="0.83" fill="#8caec2"/>
<circle cx="460.55" cy="113.72" r="0.84" fill="#b5c8b6"/>
<circle cx="453.23" cy="113.7" r="0.84" fill="#9eb9c0"/>
<circle cx="464.91" cy="113.7" r="0.84" fill="#c4d1b0"/>
<circle cx="451.19" cy="113.65" r="0.84" fill="#96b4c2"/>
<circle cx="458.41" cy="113.64" r="0.84" fill="#aec3b9"/>
<circle cx="453.94" cy="113.48" r="0.84" fill="#a0babf"/>
<circle cx="450.3" cy="113.44" r="0.84" fill="#8fafc2"/>
<circle cx="467.7" cy="113.42" r="0.84" fill="#ced8b1"/>
<circle cx="465.24" cy="113.42" r="0.84" fill="#c5d2b0"/>
<circle cx="448.07" cy="113.4" r="0.84" fill="#7da5c1"/>
<circle cx="465.3" cy="113.39" r="0.84" fill="#c5d2b0"/>
<circle cx="459.74" cy="113.37" r="0.84" fill="#b2c6b7"/>
<circle cx="447.79" cy="113.36" r="0.84" fill="#7aa3c1"/>
<circle cx="451.8" cy="113.27" r="0.85" fill="#99b6c2"/>
<circle cx="460.61" cy="113.25" r="0.85" fill="#b5c8b6"/>
<circle cx="466.9" cy="113.21" r="0.85" fill="#cbd6b1"/>
<circle cx="459.44" cy="113.2" r="0.85" fill="#b1c5b8"/>
<circle cx="454.73" cy="113.2" r="0.85" fill="#a2bcbe"/>
<circle cx="454.85" cy="113.19" r="0.85" fill="#a3bcbe"/>
<circle cx="457.97" cy="113.17" r="0.85" fill="#acc2ba"/>
<circle cx="461.15" cy="113.17" r="0.85" fill="#b7c9b5"/>
<circle cx="454.91" cy="113.15" r="0.85" fill="#a3bcbe"/>
<circle cx="447.52" cy="113.11" r="0.85" fill="#78a2c1"/>
<circle cx="456.32" cy="113.09" r="0.85" fill="#a7bfbc"/>
<circle cx="469.1" cy="113.05" r="0.85" fill="#d3dbb1"/>
<circle cx="455.21" cy="113.02" r="0.85" fill="#a4bdbd"/>
<circle cx="448.42" cy="112.96" r="0.85" fill="#7fa6c1"/>
<circle cx="472.57" cy="112.96" r="0.85" fill="#e1e4b3"/>
<circle cx="470.69" cy="112.93" r="0.85" fill="#d9dfb2"/>
<circle cx="454.62" cy="112.9" r="0.85" fill="#a2bbbe"/>
<circle cx="448.55" cy="112.89" r="0.86" fill="#80a7c1"/>
<circle cx="463.76" cy="112.88" r="0.86" fill="#c0ceb2"/>
<circle cx="449.1" cy="112.84" r="0.86" fill="#85aac1"/>
<circle cx="473.9" cy="112.8" r="0.86" fill="#e8e9b4"/>
<circle cx="461.66" cy="112.67" r="0.86" fill="#b9cab5"/>
<circle cx="456.64" cy="112.66" r="0.86" fill="#a8c0bb"/>
<circle cx="451.47" cy="112.62" r="0.86" fill="#98b5c2"/>
<circle cx="450.58" cy="112.59" r="0.86" fill="#91b1c2"/>
<circle cx="464.43" cy="112.58" r="0.86" fill="#c2d0b1"/>
<circle cx="459.75" cy="112.57" r="0.86" fill="#b2c6b7"/>
<circle cx="454.67" cy="112.57" r="0.86" fill="#a2bcbe"/>
<circle cx="450.63" cy="112.56" r="0.86" fill="#91b1c2"/>
<circle cx="448.32" cy="112.55" r="0.86" fill="#7fa6c1"/>
<circle cx="447.64" cy="112.49" r="0.86" fill="#79a3c1"/>
<circle cx="469.14" cy="112.48" r="0.86" fill="#d3dbb1"/>
<circle cx="449.66" cy="112.47" r="0.86" fill="#89acc1"/>
<circle cx="448.66" cy="112.46" r="0.86" fill="#81a8c1"/>
<circle cx="460.87" cy="112.45" r="0.86" fill="#b6c8b6"/>
<circle cx="452.09" cy="112.41" r="0.87" fill="#9ab6c1"/>
<circle cx="468.75" cy="112.41" r="0.87" fill="#d2dab1"/>
<circle cx="467.03" cy="112.32" r="0.87" fill="#ccd6b1"/>
<circle cx="462.7" cy="112.27" r="0.87" fill="#bcccb3"/>
<circle cx="472.87" cy="112.24" r="0.87" fill="#e2e5b3"/>
<circle cx="469.35" cy="112.08" r="0.87" fill="#d4dcb1"/>
<circle cx="454.74" cy="112.07" r="0.87" fill="#a2bcbe"/>
<circle cx="449.94" cy="112.02" r="0.87" fill="#8caec2"/>
<circle cx="455.34" cy="112.02" r="0.87" fill="#a4bdbd"/>
<circle cx="460.26" cy="111.93" r="0.88" fill="#b4c7b7"/>
<circle cx="448.07" cy="111.87" r="0.88" fill="#7da5c1"/>
<circle cx="459.93" cy="111.86" r="0.88" fill="#b3c6b7"/>
<circle cx="452.42" cy="111.83" r="0.88" fill="#9bb7c1"/>
<circle cx="452.83" cy="111.83" r="0.88" fill="#9cb8c0"/>
<circle cx="449.57" cy="111.77" r="0.88" fill="#89acc1"/>
<circle cx="459.27" cy="111.76" r="0.88" fill="#b1c5b8"/>
<circle cx="449.94" cy="111.74" r="0.88" fill="#8caec2"/>
<circle cx="450.35" cy="111.73" r="0.88" fill="#8fb0c2"/>
<circle cx="453.06" cy="111.68" r="0.88" fill="#9db8c0"/>
<circle cx="448.55" cy="111.57" r="0.88" fill="#80a7c1"/>
<circle cx="455.43" cy="111.56" r="0.88" fill="#a4bdbd"/>
<circle cx="462.2" cy="111.55" r="0.88" fill="#bbcbb4"/>
<circle cx="450.96" cy="111.53" r="0.88" fill="#94b3c2"/>
<circle cx="450.91" cy="111.51" r="0.89" fill="#94b2c2"/>
<circle cx="447.94" cy="111.49" r="0.89" fill="#7ba4c1"/>
<circle cx="448.48" cy="111.42" r="0.89" fill="#80a7c1"/>
<circle cx="450.2" cy="111.4" r="0.89" fill="#8eafc2"/>
<circle cx="469.71" cy="111.37" r="0.89" fill="#d6ddb1"/>
<circle cx="473.69" cy="111.36" r="0.89" fill="#e7e8b4"/>
<circle cx="463.47" cy="111.35" r="0.89" fill="#bfceb2"/>
<circle cx="470.22" cy="111.34" r="0.89" fill="#d8deb1"/>
<circle cx="448.8" cy="111.34" r="0.89" fill="#83a8c1"/>
<circle cx="461.9" cy="111.23" r="0.89" fill="#bacab4"/>
<circle cx="468.21" cy="111.19" r="0.89" fill="#d0d9b1"/>
<circle cx="453.35" cy="111.17" r="0.89" fill="#9eb9c0"/>
<circle cx="454.66" cy="111.17" r="0.89" fill="#a2bcbe"/>
<circle cx="452.83" cy="111.17" r="0.89" fill="#9cb8c0"/>
<circle cx="469.03" cy="111.15" r="0.89" fill="#d3dbb1"/>
<circle cx="468.48" cy="111.15" r="0.89" fill="#d1dab1"/>
<circle cx="456.97" cy="111.11" r="0.89" fill="#a9c0bb"/>
<circle cx="453.1" cy="111.1" r="0.89" fill="#9db8c0"/>
<circle cx="475.38" cy="111.06" r="0.89" fill="#f0eeb7"/>
<circle cx="458.36" cy="111.05" r="0.89" fill="#aec3b9"/>
<circle cx="466.43" cy="110.9" r="0.9" fill="#c9d5b0"/>
<circle cx="448.17" cy="110.89" r="0.9" fill="#7da5c1"/>
<circle cx="461.65" cy="110.89" r="0.9" fill="#b9cab5"/>
<circle cx="463.01" cy="110.88" r="0.9" fill="#bdcdb3"/>
<circle cx="459.23" cy="110.84" r="0.9" fill="#b1c5b8"/>
<circle cx="450.27" cy="110.82" r="0.9" fill="#8eafc2"/>
<circle cx="468.52" cy="110.79" r="0.9" fill="#d1dab1"/>
<circle cx="450.73" cy="110.78" r="0.9" fill="#92b2c2"/>
<circle cx="459.04" cy="110.67" r="0.9" fill="#b0c5b8"/>
<circle cx="461.68" cy="110.64" r="0.9" fill="#b9cab5"/>
<circle cx="469.18" cy="110.54" r="0.9" fill="#d4dbb1"/>
<circle cx="471.25" cy="110.51" r="0.91" fill="#dbe1b2"/>
<circle cx="448.85" cy="110.51" r="0.91" fill="#83a8c1"/>
<circle cx="469.04" cy="110.51" r="0.91" fill="#d3dbb1"/>
<circle cx="461.74" cy="110.5" r="0.91" fill="#b9cab5"/>
<circle cx="450.34" cy="110.48" r="0.91" fill="#8fb0c2"/>
<circle cx="471" cy="110.42" r="0.91" fill="#dae0b2"/>
<circle cx="451.75" cy="110.41" r="0.91" fill="#99b6c2"/>
<circle cx="448.75" cy="110.4" r="0.91" fill="#82a8c1"/>
<circle cx="449.45" cy="110.32" r="0.91" fill="#88abc1"/>
<circle cx="454.15" cy="110.3" r="0.91" fill="#a0bbbf"/>
<circle cx="465.75" cy="110.26" r="0.91" fill="#c7d3b0"/>
<circle cx="448.44" cy="110.25" r="0.91" fill="#80a6c1"/>
<circle cx="465.87" cy="110.23" r="0.91" fill="#c7d3b0"/>
<circle cx="470.85" cy="110.21" r="0.91" fill="#dae0b2"/>
<circle cx="465.43" cy="110.19" r="0.91" fill="#c6d2b0"/>
<circle cx="465.7" cy="110.17" r="0.91" fill="#c7d3b0"/>
<circle cx="451.35" cy="110.16" r="0.91" fill="#97b5c2"/>
<circle cx="466.35" cy="110.13" r="0.91" fill="#c9d4b0"/>
<circle cx="472.98" cy="110.12" r="0.91" fill="#e3e6b3"/>
<circle cx="463.89" cy="110.12" r="0.91" fill="#c0cfb2"/>
<circle cx="451.26" cy="110.02" r="0.91" fill="#97b4c2"/>
<circle cx="453.85" cy="109.86" r="0.92" fill="#a0babf"/>
<circle cx="455.72" cy="109.81" r="0.92" fill="#a5bebd"/>
<circle cx="464.04" cy="109.78" r="0.92" fill="#c1cfb1"/>
<circle cx="472.72" cy="109.78" r="0.92" fill="#e2e5b3"/>
<circle cx="458.19" cy="109.77" r="0.92" fill="#adc3ba"/>
<circle cx="464.7" cy="109.71" r="0.92" fill="#c3d0b0"/>
<circle cx="463.43" cy="109.7" r="0.92" fill="#bfceb2"/>
<circle cx="459.28" cy="109.68" r="0.92" fill="#b1c5b8"/>
<circle cx="464.91" cy="109.67" r="0.92" fill="#c4d1b0"/>
<circle cx="459.25" cy="109.66" r="0.92" fill="#b1c5b8"/>
<circle cx="470.17" cy="109.59" r="0.92" fill="#d7deb1"/>
<circle cx="457.26" cy="109.59" r="0.92" fill="#aac1bb"/>
<circle cx="467.85" cy="109.58" r="0.92" fill="#cfd8b1"/>
<circle cx="457.87" cy="109.57" r="0.92" fill="#acc2ba"/>
<circle cx="449.19" cy="109.55" r="0.92" fill="#86aac1"/>
<circle cx="451.54" cy="109.54" r="0.92" fill="#98b5c2"/>
<circle cx="461.37" cy="109.53" r="0.92" fill="#b8c9b5"/>
<circle cx="466.71" cy="109.5" r="0.92" fill="#cad5b0"/>
<circle cx="463.56" cy="109.46" r="0.92" fill="#bfceb2"/>
<circle cx="455.42" cy="109.45" r="0.93" fill="#a4bdbd"/>
<circle cx="450.26" cy="109.44" r="0.93" fill="#8eafc2"/>
<circle cx="458.57" cy="109.42" r="0.93" fill="#aec4b9"/>
<circle cx="451.54" cy="109.41" r="0.93" fill="#98b5c2"/>
<circle cx="467.73" cy="109.4" r="0.93" fill="#ced8b1"/>
<circle cx="451.85" cy="109.39" r="0.93" fill="#99b6c1"/>
<circle cx="454.52" cy="109.34" r="0.93" fill="#a2bbbe"/>
<circle cx="447.47" cy="109.29" r="0.93" fill="#78a2c1"/>
<circle cx="448.04" cy="109.26" r="0.93" fill="#7ca5c1"/>
<circle cx="453.93" cy="109.2" r="0.93" fill="#a0babf"/>
<circle cx="450.78" cy="109.14" r="0.93" fill="#93b2c2"/>
<circle cx="462.47" cy="109.14" r="0.93" fill="#bbccb4"/>
<circle cx="462.91" cy="109.11" r="0.93" fill="#bdcdb3"/>
<circle cx="468.5" cy="109.07" r="0.93" fill="#d1dab1"/>
<circle cx="451.82" cy="109" r="0.93" fill="#99b6c2"/>
<circle cx="465.71" cy="108.99" r="0.93" fill="#c7d3b0"/>
<circle cx="472.86" cy="108.98" r="0.93" fill="#e2e5b3"/>
<circle cx="447.68" cy="108.97" r="0.93" fill="#79a3c1"/>
<circle cx="469.3" cy="108.96" r="0.93" fill="#d4dcb1"/>
<circle cx="465.72" cy="108.89" r="0.94" fill="#c7d3b0"/>
<circle cx="447.85" cy="108.88" r="0.94" fill="#7ba4c1"/>
<circle cx="464.26" cy="108.86" r="0.94" fill="#c1cfb1"/>
<circle cx="463.06" cy="108.85" r="0.94" fill="#bdcdb3"/>
<circle cx="451.07" cy="108.82" r="0.94" fill="#95b3c2"/>
<circle cx="447.9" cy="108.81" r="0.94" fill="#7ba4c1"/>
<circle cx="448.69" cy="108.8" r="0.94" fill="#82a8c1"/>
<circle cx="474.47" cy="108.72" r="0.94" fill="#ebebb5"/>
<circle cx="467.47" cy="108.69" r="0.94" fill="#cdd7b1"/>
<circle cx="463.08" cy="108.64" r="0.94" fill="#becdb3"/>
<circle cx="461.12" cy="108.63" r="0.94" fill="#b7c9b5"/>
<circle cx="454.97" cy="108.62" r="0.94" fill="#a3bcbe"/>
<circle cx="453.33" cy="108.58" r="0.94" fill="#9eb9c0"/>
<circle cx="465.94" cy="108.53" r="0.94" fill="#c7d3b0"/>
<circle cx="455.14" cy="108.46" r="0.94" fill="#a4bdbd"/>
<circle cx="447.99" cy="108.45" r="0.94" fill="#7ca4c1"/>
<circle cx="453.68" cy="108.33" r="0.95" fill="#9fbabf"/>
<circle cx="471.94" cy="108.32" r="0.95" fill="#dee2b2"/>
<circle cx="460.34" cy="108.29" r="0.95" fill="#b4c7b7"/>
<circle cx="449.97" cy="108.28" r="0.95" fill="#8caec2"/>
<circle cx="458.27" cy="108.26" r="0.95" fill="#adc3b9"/>
<circle cx="471.41" cy="108.24" r="0.95" fill="#dce1b2"/>
<circle cx="469.96" cy="108.21" r="0.95" fill="#d7ddb1"/>
<circle cx="459.28" cy="108.19" r="0.95" fill="#b1c5b8"/>
<circle cx="461.28" cy="108.17" r="0.95" fill="#b8c9b5"/>
<circle cx="448.07" cy="108.04" r="0.95" fill="#7da5c1"/>
<circle cx="467.48" cy="108.03" r="0.95" fill="#cdd7b1"/>
<circle cx="471.14" cy="108.01" r="0.95" fill="#dbe0b2"/>
<circle cx="462.35" cy="107.94" r="0.95" fill="#bbcbb4"/>
<circle cx="448.8" cy="107.93" r="0.95" fill="#82a8c1"/>
<circle cx="451.58" cy="107.91" r="0.95" fill="#98b5c2"/>
<circle cx="455.14" cy="107.9" r="0.95" fill="#a4bdbd"/>
<circle cx="447.65" cy="107.86" r="0.95" fill="#79a3c1"/>
<circle cx="468.64" cy="107.83" r="0.95" fill="#d2dab1"/>
<circle cx="471.44" cy="107.8" r="0.95" fill="#dce1b2"/>
<circle cx="453.62" cy="107.77" r="0.96" fill="#9fb9bf"/>
<circle cx="447.78" cy="107.71" r="0.96" fill="#7aa3c1"/>
<circle cx="455.61" cy="107.7" r="0.96" fill="#a5bdbd"/>
<circle cx="461.4" cy="107.7" r="0.96" fill="#b8c9b5"/>
<circle cx="460.27" cy="107.66" r="0.96" fill="#b4c7b7"/>
<circle cx="465.83" cy="107.63" r="0.96" fill="#c7d3b0"/>
<circle cx="459.33" cy="107.63" r="0.96" fill="#b1c5b8"/>
<circle cx="450.47" cy="107.63" r="0.96" fill="#90b0c2"/>
<circle cx="453.4" cy="107.58" r="0.96" fill="#9eb9c0"/>
<circle cx="454.27" cy="107.49" r="0.96" fill="#a1bbbe"/>
<circle cx="458.53" cy="107.48" r="0.96" fill="#aec3b9"/>
<circle cx="472.57" cy="107.48" r="0.96" fill="#e1e4b3"/>
<circle cx="454.9" cy="107.46" r="0.96" fill="#a3bcbe"/>
<circle cx="449.69" cy="107.45" r="0.96" fill="#8aacc1"/>
<circle cx="467.24" cy="107.44" r="0.96" fill="#ccd7b1"/>
<circle cx="469.22" cy="107.36" r="0.96" fill="#d4dcb1"/>
<circle cx="459.12" cy="107.35" r="0.96" fill="#b0c5b8"/>
<circle cx="457.69" cy="107.34" r="0.96" fill="#acc2ba"/>
<circle cx="464.52" cy="107.32" r="0.96" fill="#c2d0b1"/>
<circle cx="463.42" cy="107.28" r="0.96" fill="#bfceb2"/>
<circle cx="451.52" cy="107.26" r="0.96" fill="#98b5c2"/>
<circle cx="468.91" cy="107.24" r="0.96" fill="#d3dbb1"/>
<circle cx="468.13" cy="107.19" r="0.96" fill="#d0d9b1"/>
<circle cx="455.69" cy="107.18" r="0.97" fill="#a5bebd"/>
<circle cx="457.94" cy="107.17" r="0.97" fill="#acc2ba"/>
<circle cx="464.62" cy="107.15" r="0.97" fill="#c3d0b1"/>
<circle cx="449.67" cy="107.14" r="0.97" fill="#8aacc1"/>
<circle cx="468.73" cy="107.14" r="0.97" fill="#d2dab1"/>
<circle cx="470.38" cy="107.11" r="0.97" fill="#d8deb1"/>
<circle cx="452.84" cy="107.04" r="0.97" fill="#9cb8c0"/>
<circle cx="456.36" cy="107.03" r="0.97" fill="#a7bfbc"/>
<circle cx="464.36" cy="107.01" r="0.97" fill="#c2d0b1"/>
<circle cx="449.6" cy="107.01" r="0.97" fill="#89acc1"/>
<circle cx="452.42" cy="107" r="0.97" fill="#9bb7c1"/>
<circle cx="468.19" cy="106.92" r="0.97" fill="#d0d9b1"/>
<circle cx="450.7" cy="106.91" r="0.97" fill="#92b1c2"/>
<circle cx="465.14" cy="106.87" r="0.97" fill="#c4d1b0"/>
<circle cx="448.61" cy="106.86" r="0.97" fill="#81a7c1"/>
<circle cx="462.19" cy="106.85" r="0.97" fill="#bbcbb4"/>
<circle cx="459.03" cy="106.84" r="0.97" fill="#b0c4b8"/>
<circle cx="454.77" cy="106.81" r="0.97" fill="#a2bcbe"/>
<circle cx="453.59" cy="106.79" r="0.97" fill="#9fb9bf"/>
<circle cx="474.23" cy="106.79" r="0.97" fill="#eaeab5"/>
<circle cx="471.18" cy="106.77" r="0.97" fill="#dbe0b2"/>
<circle cx="467.66" cy="106.75" r="0.97" fill="#ced8b1"/>
<circle cx="449.41" cy="106.73" r="0.97" fill="#87abc1"/>
<circle cx="448.29" cy="106.65" r="0.97" fill="#7ea6c1"/>
<circle cx="455.29" cy="106.63" r="0.97" fill="#a4bdbd"/>
<circle cx="467.85" cy="106.56" r="0.98" fill="#cfd8b1"/>
<circle cx="456.4" cy="106.53" r="0.98" fill="#a8bfbc"/>
<circle cx="457.69" cy="106.52" r="0.98" fill="#acc2ba"/>
<circle cx="448.94" cy="106.51" r="0.98" fill="#84a9c1"/>
<circle cx="448.7" cy="106.49" r="0.98" fill="#82a8c1"/>
<circle cx="469.75" cy="106.48" r="0.98" fill="#d6ddb1"/>
<circle cx="463.35" cy="106.43" r="0.98" fill="#beceb2"/>
<circle cx="458.72" cy="106.41" r="0.98" fill="#afc4b9"/>
<circle cx="469.18" cy="106.4" r="0.98" fill="#d4dbb1"/>
<circle cx="453.3" cy="106.37" r="0.98" fill="#9eb9c0"/>
<circle cx="473.68" cy="106.33" r="0.98" fill="#e7e8b4"/>
<circle cx="460.99" cy="106.31" r="0.98" fill="#b7c9b6"/>
<circle cx="449.68" cy="106.28" r="0.98" fill="#8aacc1"/>
<circle cx="455.41" cy="106.24" r="0.98" fill="#a4bdbd"/>
<circle cx="458.19" cy="106.21" r="0.98" fill="#adc3ba"/>
<circle cx="471.94" cy="106.17" r="0.98" fill="#dee2b2"/>
<circle cx="455.54" cy="106.13" r="0.98" fill="#a5bdbd"/>
<circle cx="456.76" cy="106.12" r="0.98" fill="#a9c0bb"/>
<circle cx="470.17" cy="106.11" r="0.98" fill="#d7deb1"/>
<circle cx="464.99" cy="106.06" r="0.98" fill="#c4d1b0"/>
<circle cx="466.48" cy="106.02" r="0.98" fill="#c9d5b0"/>
<circle cx="464.92" cy="105.98" r="0.98" fill="#c4d1b0"/>
<circle cx="454.43" cy="105.96" r="0.99" fill="#a1bbbe"/>
<circle cx="459.19" cy="105.93" r="0.99" fill="#b1c5b8"/>
<circle cx="467.21" cy="105.93" r="0.99" fill="#ccd6b1"/>
<circle cx="456.48" cy="105.89" r="0.99" fill="#a8bfbc"/>
<circle cx="461.66" cy="105.87" r="0.99" fill="#b9cab5"/>
<circle cx="452.62" cy="105.84" r="0.99" fill="#9cb7c1"/>
<circle cx="468.2" cy="105.81" r="0.99" fill="#d0d9b1"/>
<circle cx="466.31" cy="105.81" r="0.99" fill="#c9d4b0"/>
<circle cx="460.51" cy="105.81" r="0.99" fill="#b5c8b6"/>
<circle cx="460.95" cy="105.8" r="0.99" fill="#b6c9b6"/>
<circle cx="458.88" cy="105.74" r="0.99" fill="#b0c4b9"/>
<circle cx="461.29" cy="105.69" r="0.99" fill="#b8c9b5"/>
<circle cx="457.06" cy="105.65" r="0.99" fill="#aac0bb"/>
<circle cx="466.81" cy="105.55" r="0.99" fill="#cbd5b0"/>
<circle cx="462.29" cy="105.55" r="0.99" fill="#bbcbb4"/>
<circle cx="467.34" cy="105.5" r="0.99" fill="#cdd7b1"/>
<circle cx="468.68" cy="105.45" r="0.99" fill="#d2dab1"/>
<circle cx="471.03" cy="105.39" r="0.99" fill="#dbe0b2"/>
<circle cx="466.66" cy="105.26" r="1" fill="#cad5b0"/>
<circle cx="463.35" cy="105.22" r="1" fill="#beceb2"/>
<circle cx="465.07" cy="105.06" r="1" fill="#c4d1b0"/>
<circle cx="459.51" cy="105.06" r="1" fill="#b2c6b8"/>
<circle cx="473.28" cy="104.96" r="1" fill="#e5e7b4"/>
<circle cx="474.66" cy="104.84" r="1" fill="#ecebb6"/>
<circle cx="468.54" cy="104.8" r="1" fill="#d1dab1"/>
<circle cx="474.93" cy="104.74" r="1" fill="#edecb6"/>
<circle cx="462.28" cy="104.74" r="1" fill="#bbcbb4"/>
<circle cx="469.06" cy="104.74" r="1" fill="#d3dbb1"/>
<circle cx="470.94" cy="104.7" r="1" fill="#dae0b2"/>
<circle cx="467.57" cy="104.55" r="1.01" fill="#ced7b1"/>
<circle cx="474.81" cy="104.55" r="1.01" fill="#edecb6"/>
<circle cx="474.45" cy="104.51" r="1.01" fill="#ebebb5"/>
<circle cx="464.52" cy="104.49" r="1.01" fill="#c2d0b1"/>
<circle cx="471.31" cy="104.39" r="1.01" fill="#dce1b2"/>
<circle cx="470.66" cy="104.39" r="1.01" fill="#d9dfb2"/>
<circle cx="467.41" cy="104.09" r="1.01" fill="#cdd7b1"/>
<circle cx="474.76" cy="104.06" r="1.01" fill="#ececb6"/>
<circle cx="473.6" cy="103.8" r="1.02" fill="#e6e8b4"/>
<circle cx="479.81" cy="119.43" r="0.6" fill="#f8f2b6"/>
<circle cx="483.25" cy="119.38" r="0.61" fill="#f9f0b3"/>
<circle cx="483.54" cy="119.38" r="0.61" fill="#f9f0b3"/>
<circle cx="478.56" cy="119.37" r="0.61" fill="#f8f2b8"/>
<circle cx="479.59" cy="119.31" r="0.61" fill="#f8f2b7"/>
<circle cx="475.68" cy="119.23" r="0.62" fill="#f1efb7"/>
<circle cx="485.46" cy="119.18" r="0.63" fill="#f9efb1"/>
<circle cx="475.89" cy="119.15" r="0.63" fill="#f2efb7"/>
<circle cx="487.23" cy="119.09" r="0.63" fill="#f9eeaf"/>
<circle cx="475.76" cy="119.01" r="0.64" fill="#f2efb7"/>
<circle cx="486.8" cy="118.95" r="0.64" fill="#f9efb0"/>
<circle cx="485.06" cy="118.92" r="0.65" fill="#f9efb1"/>
<circle cx="490.38" cy="118.9" r="0.65" fill="#faedac"/>
<circle cx="481.24" cy="118.87" r="0.65" fill="#f9f1b5"/>
<circle cx="475.52" cy="118.78" r="0.66" fill="#f0eeb7"/>
<circle cx="488.35" cy="118.78" r="0.66" fill="#faeeae"/>
<circle cx="487.98" cy="118.75" r="0.66" fill="#f9eeaf"/>
<circle cx="486.49" cy="118.55" r="0.67" fill="#f9efb0"/>
<circle cx="489.49" cy="118.48" r="0.67" fill="#faedad"/>
<circle cx="480.4" cy="118.46" r="0.68" fill="#f8f1b6"/>
<circle cx="483.69" cy="118.4" r="0.68" fill="#f9f0b3"/>
<circle cx="491.21" cy="118.39" r="0.68" fill="#faedac"/>
<circle cx="481.74" cy="118.36" r="0.68" fill="#f9f1b5"/>
<circle cx="486.1" cy="118.19" r="0.69" fill="#f9efb0"/>
<circle cx="497.12" cy="118.15" r="0.69" fill="#fbeaa6"/>
<circle cx="486.71" cy="118.14" r="0.69" fill="#f9efb0"/>
<circle cx="481.98" cy="118.13" r="0.69" fill="#f9f1b4"/>
<circle cx="496.7" cy="118.1" r="0.69" fill="#fbeaa6"/>
<circle cx="482.16" cy="118.04" r="0.7" fill="#f9f1b4"/>
<circle cx="496.97" cy="118.02" r="0.7" fill="#fbeaa6"/>
<circle cx="490.56" cy="117.98" r="0.7" fill="#faedac"/>
<circle cx="489.59" cy="117.98" r="0.7" fill="#faedad"/>
<circle cx="495.49" cy="117.92" r="0.7" fill="#faeba8"/>
<circle cx="481.59" cy="117.89" r="0.7" fill="#f9f1b5"/>
<circle cx="482.29" cy="117.87" r="0.71" fill="#f9f1b4"/>
<circle cx="488.48" cy="117.85" r="0.71" fill="#faeeae"/>
<circle cx="477.98" cy="117.84" r="0.71" fill="#f8f3b8"/>
<circle cx="476.69" cy="117.83" r="0.71" fill="#f6f2b9"/>
<circle cx="497.78" cy="117.82" r="0.71" fill="#fbeaa5"/>
<circle cx="478.51" cy="117.74" r="0.71" fill="#f8f2b8"/>
<circle cx="498.13" cy="117.73" r="0.71" fill="#fbeaa5"/>
<circle cx="498.94" cy="117.69" r="0.71" fill="#fbe9a4"/>
<circle cx="499.97" cy="117.61" r="0.72" fill="#fbe8a3"/>
<circle cx="479.37" cy="117.57" r="0.72" fill="#f8f2b7"/>
<circle cx="501.89" cy="117.56" r="0.72" fill="#fbe69f"/>
<circle cx="496.94" cy="117.52" r="0.72" fill="#fbeaa6"/>
<circle cx="491.24" cy="117.47" r="0.72" fill="#faedac"/>
<circle cx="488.93" cy="117.37" r="0.73" fill="#faeeae"/>
<circle cx="484.3" cy="117.33" r="0.73" fill="#f9f0b2"/>
<circle cx="499.8" cy="117.32" r="0.73" fill="#fbe8a3"/>
<circle cx="503.87" cy="117.25" r="0.73" fill="#fbe49c"/>
<circle cx="479.72" cy="117.22" r="0.73" fill="#f8f2b6"/>
<circle cx="494.34" cy="117.09" r="0.74" fill="#faeba9"/>
<circle cx="499.94" cy="117.06" r="0.74" fill="#fbe8a3"/>
<circle cx="499.03" cy="117.05" r="0.74" fill="#fbe9a4"/>
<circle cx="476.29" cy="116.93" r="0.74" fill="#f4f1b8"/>
<circle cx="489.14" cy="116.92" r="0.74" fill="#faeeae"/>
<circle cx="497.08" cy="116.9" r="0.74" fill="#fbeaa6"/>
<circle cx="492.13" cy="116.9" r="0.74" fill="#faecab"/>
<circle cx="477.9" cy="116.84" r="0.75" fill="#f8f3b8"/>
<circle cx="489.03" cy="116.83" r="0.75" fill="#faeeae"/>
<circle cx="497.74" cy="116.81" r="0.75" fill="#fbeaa6"/>
<circle cx="485.16" cy="116.79" r="0.75" fill="#f9efb1"/>
<circle cx="496.2" cy="116.75" r="0.75" fill="#fbeaa7"/>
<circle cx="503.54" cy="116.73" r="0.75" fill="#fbe49c"/>
<circle cx="488.21" cy="116.72" r="0.75" fill="#faeeae"/>
<circle cx="499.88" cy="116.72" r="0.75" fill="#fbe8a3"/>
<circle cx="489.17" cy="116.7" r="0.75" fill="#faeeae"/>
<circle cx="492.58" cy="116.69" r="0.75" fill="#faecaa"/>
<circle cx="505" cy="116.65" r="0.75" fill="#fbe29a"/>
<circle cx="482.45" cy="116.63" r="0.75" fill="#f9f1b4"/>
<circle cx="475.44" cy="116.62" r="0.75" fill="#f0eeb7"/>
<circle cx="489.72" cy="116.61" r="0.75" fill="#faedad"/>
<circle cx="495.26" cy="116.6" r="0.75" fill="#faeba8"/>
<circle cx="481.46" cy="116.55" r="0.76" fill="#f9f1b5"/>
<circle cx="497.14" cy="116.54" r="0.76" fill="#fbeaa6"/>
<circle cx="479" cy="116.48" r="0.76" fill="#f8f2b7"/>
<circle cx="498.96" cy="116.46" r="0.76" fill="#fbe9a4"/>
<circle cx="492.03" cy="116.43" r="0.76" fill="#faecab"/>
<circle cx="506.72" cy="116.4" r="0.76" fill="#fae096"/>
<circle cx="491.06" cy="116.38" r="0.76" fill="#faedac"/>
<circle cx="489.79" cy="116.38" r="0.76" fill="#faedad"/>
<circle cx="487.96" cy="116.36" r="0.76" fill="#f9eeaf"/>
<circle cx="488.52" cy="116.34" r="0.76" fill="#faeeae"/>
<circle cx="485.51" cy="116.33" r="0.76" fill="#f9efb1"/>
<circle cx="503.67" cy="116.28" r="0.76" fill="#fbe49c"/>
<circle cx="484.98" cy="116.24" r="0.77" fill="#f9efb1"/>
<circle cx="505.34" cy="116.21" r="0.77" fill="#fbe299"/>
<circle cx="495.25" cy="116.19" r="0.77" fill="#faeba8"/>
<circle cx="482.88" cy="116.19" r="0.77" fill="#f9f0b3"/>
<circle cx="489.93" cy="116.18" r="0.77" fill="#faedad"/>
<circle cx="478.66" cy="116.17" r="0.77" fill="#f8f2b7"/>
<circle cx="497.48" cy="116.17" r="0.77" fill="#fbeaa6"/>
<circle cx="496.37" cy="116.13" r="0.77" fill="#fbeaa7"/>
<circle cx="502.24" cy="116.06" r="0.77" fill="#fbe69f"/>
<circle cx="488.72" cy="116.02" r="0.77" fill="#faeeae"/>
<circle cx="484.68" cy="116.02" r="0.77" fill="#f9f0b2"/>
<circle cx="499.65" cy="116.02" r="0.77" fill="#fbe9a3"/>
<circle cx="493.24" cy="116.02" r="0.77" fill="#faecaa"/>
<circle cx="501.71" cy="116" r="0.77" fill="#fbe6a0"/>
<circle cx="492.41" cy="115.99" r="0.77" fill="#faecab"/>
<circle cx="510.1" cy="115.99" r="0.77" fill="#fadc90"/>
<circle cx="481.01" cy="115.98" r="0.77" fill="#f9f1b5"/>
<circle cx="477.71" cy="115.96" r="0.77" fill="#f8f3b8"/>
<circle cx="503.78" cy="115.94" r="0.78" fill="#fbe49c"/>
<circle cx="475.93" cy="115.93" r="0.78" fill="#f2efb7"/>
<circle cx="493.69" cy="115.92" r="0.78" fill="#faeca9"/>
<circle cx="502.36" cy="115.91" r="0.78" fill="#fbe59e"/>
<circle cx="475.43" cy="115.9" r="0.78" fill="#f0eeb7"/>
<circle cx="486.06" cy="115.89" r="0.78" fill="#f9efb0"/>
<circle cx="477.71" cy="115.89" r="0.78" fill="#f8f3b8"/>
<circle cx="482.67" cy="115.88" r="0.78" fill="#f9f0b4"/>
<circle cx="511.21" cy="115.87" r="0.78" fill="#fadb8e"/>
<circle cx="486.18" cy="115.85" r="0.78" fill="#f9efb0"/>
<circle cx="505.63" cy="115.85" r="0.78" fill="#fae298"/>
<circle cx="509.71" cy="115.83" r="0.78" fill="#fadd91"/>
<circle cx="505.21" cy="115.79" r="0.78" fill="#fbe299"/>
<circle cx="505.45" cy="115.77" r="0.78" fill="#fae299"/>
<circle cx="500.22" cy="115.74" r="0.78" fill="#fbe8a2"/>
<circle cx="503.79" cy="115.73" r="0.78" fill="#fbe49c"/>
<circle cx="481.19" cy="115.63" r="0.78" fill="#f9f1b5"/>
<circle cx="508.88" cy="115.62" r="0.78" fill="#fade92"/>
<circle cx="498.92" cy="115.61" r="0.79" fill="#fbe9a4"/>
<circle cx="484.78" cy="115.58" r="0.79" fill="#f9f0b2"/>
<circle cx="500.65" cy="115.54" r="0.79" fill="#fbe7a2"/>
<circle cx="510.9" cy="115.53" r="0.79" fill="#fadc8f"/>
<circle cx="511.09" cy="115.52" r="0.79" fill="#fadb8e"/>
<circle cx="497.67" cy="115.52" r="0.79" fill="#fbeaa6"/>
<circle cx="507.8" cy="115.49" r="0.79" fill="#fadf94"/>
<circle cx="491.74" cy="115.47" r="0.79" fill="#faecab"/>
<circle cx="493.16" cy="115.45" r="0.79" fill="#faecaa"/>
<circle cx="507.41" cy="115.44" r="0.79" fill="#fae095"/>
<circle cx="492.93" cy="115.42" r="0.79" fill="#faecaa"/>
<circle cx="475.76" cy="115.38" r="0.79" fill="#f2efb7"/>
<circle cx="502.41" cy="115.35" r="0.79" fill="#fbe59e"/>
<circle cx="511.24" cy="115.34" r="0.79" fill="#fadb8e"/>
<circle cx="505.51" cy="115.34" r="0.79" fill="#fae299"/>
<circle cx="506.6" cy="115.33" r="0.79" fill="#fae197"/>
<circle cx="493.46" cy="115.31" r="0.79" fill="#faecaa"/>
<circle cx="508.08" cy="115.31" r="0.79" fill="#fadf94"/>
<circle cx="496.39" cy="115.29" r="0.79" fill="#fbeaa7"/>
<circle cx="498.06" cy="115.25" r="0.8" fill="#fbeaa5"/>
<circle cx="483.42" cy="115.23" r="0.8" fill="#f9f0b3"/>
<circle cx="486.52" cy="115.23" r="0.8" fill="#f9efb0"/>
<circle cx="507.37" cy="115.22" r="0.8" fill="#fae095"/>
<circle cx="504.73" cy="115.12" r="0.8" fill="#fbe39a"/>
<circle cx="476.42" cy="115.12" r="0.8" fill="#f5f1b8"/>
<circle cx="495.55" cy="115.1" r="0.8" fill="#faeba8"/>
<circle cx="477.56" cy="115.07" r="0.8" fill="#f8f3b8"/>
<circle cx="505.95" cy="115.07" r="0.8" fill="#fae198"/>
<circle cx="498.63" cy="115.07" r="0.8" fill="#fbe9a5"/>
<circle cx="477.62" cy="115.06" r="0.8" fill="#f8f3b8"/>
<circle cx="489.34" cy="115.04" r="0.8" fill="#faedad"/>
<circle cx="480.17" cy="115.04" r="0.8" fill="#f8f2b6"/>
<circle cx="486.85" cy="115.04" r="0.8" fill="#f9efb0"/>
<circle cx="493.23" cy="115.03" r="0.8" fill="#faecaa"/>
<circle cx="508.97" cy="115.02" r="0.8" fill="#fade92"/>
<circle cx="477.46" cy="115" r="0.8" fill="#f8f3b9"/>
<circle cx="497.29" cy="115" r="0.8" fill="#fbeaa6"/>
<circle cx="506.83" cy="114.99" r="0.8" fill="#fae096"/>
<circle cx="479.76" cy="114.99" r="0.8" fill="#f8f2b6"/>
<circle cx="475.61" cy="114.99" r="0.8" fill="#f1eeb7"/>
<circle cx="493.93" cy="114.98" r="0.8" fill="#faeba9"/>
<circle cx="510.52" cy="114.97" r="0.8" fill="#fadc8f"/>
<circle cx="505.6" cy="114.96" r="0.8" fill="#fae299"/>
<circle cx="479.7" cy="114.96" r="0.8" fill="#f8f2b6"/>
<circle cx="505.84" cy="114.95" r="0.8" fill="#fae198"/>
<circle cx="490.59" cy="114.88" r="0.81" fill="#faedac"/>
<circle cx="489.5" cy="114.88" r="0.81" fill="#faedad"/>
<circle cx="500.62" cy="114.86" r="0.81" fill="#fbe8a2"/>
<circle cx="498.26" cy="114.84" r="0.81" fill="#fbe9a5"/>
<circle cx="489.09" cy="114.84" r="0.81" fill="#faeeae"/>
<circle cx="505.66" cy="114.84" r="0.81" fill="#fae298"/>
<circle cx="502.62" cy="114.82" r="0.81" fill="#fbe59e"/>
<circle cx="496.76" cy="114.81" r="0.81" fill="#fbeaa6"/>
<circle cx="500.08" cy="114.79" r="0.81" fill="#fbe8a3"/>
<circle cx="511.31" cy="114.79" r="0.81" fill="#fadb8e"/>
<circle cx="505.07" cy="114.79" r="0.81" fill="#fbe29a"/>
<circle cx="509.24" cy="114.78" r="0.81" fill="#fadd92"/>
<circle cx="503.89" cy="114.73" r="0.81" fill="#fbe49c"/>
<circle cx="497.98" cy="114.72" r="0.81" fill="#fbeaa5"/>
<circle cx="489.56" cy="114.67" r="0.81" fill="#faedad"/>
<circle cx="509.92" cy="114.62" r="0.81" fill="#fadd91"/>
<circle cx="508.69" cy="114.61" r="0.81" fill="#fade93"/>
<circle cx="507.98" cy="114.59" r="0.81" fill="#fadf94"/>
<circle cx="487.85" cy="114.58" r="0.81" fill="#f9eeaf"/>
<circle cx="498.84" cy="114.58" r="0.81" fill="#fbe9a4"/>
<circle cx="502.15" cy="114.55" r="0.81" fill="#fbe69f"/>
<circle cx="476.55" cy="114.53" r="0.82" fill="#f6f2b8"/>
<circle cx="511.1" cy="114.51" r="0.82" fill="#fadb8e"/>
<circle cx="489.04" cy="114.45" r="0.82" fill="#faeeae"/>
<circle cx="498.64" cy="114.44" r="0.82" fill="#fbe9a5"/>
<circle cx="485.02" cy="114.42" r="0.82" fill="#f9efb1"/>
<circle cx="487.78" cy="114.41" r="0.82" fill="#f9eeaf"/>
<circle cx="494.55" cy="114.4" r="0.82" fill="#faeba9"/>
<circle cx="490.22" cy="114.39" r="0.82" fill="#faedad"/>
<circle cx="499.61" cy="114.35" r="0.82" fill="#fbe9a4"/>
<circle cx="507.4" cy="114.35" r="0.82" fill="#fae095"/>
<circle cx="500.12" cy="114.31" r="0.82" fill="#fbe8a3"/>
<circle cx="494.24" cy="114.28" r="0.82" fill="#faeba9"/>
<circle cx="477.62" cy="114.22" r="0.82" fill="#f8f3b8"/>
<circle cx="500.44" cy="114.19" r="0.82" fill="#fbe8a2"/>
<circle cx="482.52" cy="114.18" r="0.82" fill="#f9f1b4"/>
<circle cx="499.71" cy="114.15" r="0.82" fill="#fbe9a3"/>
<circle cx="499.02" cy="114.15" r="0.82" fill="#fbe9a4"/>
<circle cx="484.6" cy="114.15" r="0.82" fill="#f9f0b2"/>
<circle cx="494.71" cy="114.1" r="0.83" fill="#faeba8"/>
<circle cx="499.83" cy="114.09" r="0.83" fill="#fbe8a3"/>
<circle cx="492.52" cy="114.06" r="0.83" fill="#faecaa"/>
<circle cx="495.36" cy="114.06" r="0.83" fill="#faeba8"/>
<circle cx="482.66" cy="114.05" r="0.83" fill="#f9f0b4"/>
<circle cx="492.76" cy="114.01" r="0.83" fill="#faecaa"/>
<circle cx="506.79" cy="113.98" r="0.83" fill="#fae096"/>
<circle cx="503.07" cy="113.96" r="0.83" fill="#fbe59d"/>
<circle cx="490.22" cy="113.95" r="0.83" fill="#faedad"/>
<circle cx="498.76" cy="113.93" r="0.83" fill="#fbe9a5"/>
<circle cx="480.26" cy="113.91" r="0.83" fill="#f8f2b6"/>
<circle cx="480.82" cy="113.9" r="0.83" fill="#f9f1b5"/>
<circle cx="496.39" cy="113.88" r="0.83" fill="#fbeaa7"/>
<circle cx="478.43" cy="113.88" r="0.83" fill="#f8f2b8"/>
<circle cx="507.01" cy="113.87" r="0.83" fill="#fae096"/>
<circle cx="484.77" cy="113.85" r="0.83" fill="#f9f0b2"/>
<circle cx="497.82" cy="113.73" r="0.84" fill="#fbeaa5"/>
<circle cx="486.01" cy="113.65" r="0.84" fill="#f9efb1"/>
<circle cx="496.76" cy="113.65" r="0.84" fill="#fbeaa6"/>
<circle cx="480.55" cy="113.61" r="0.84" fill="#f8f1b6"/>
<circle cx="494.35" cy="113.57" r="0.84" fill="#faeba9"/>
<circle cx="480.69" cy="113.55" r="0.84" fill="#f8f1b6"/>
<circle cx="506.26" cy="113.5" r="0.84" fill="#fae197"/>
<circle cx="475.45" cy="113.44" r="0.84" fill="#f0eeb7"/>
<circle cx="488.73" cy="113.42" r="0.84" fill="#faeeae"/>
<circle cx="486.96" cy="113.39" r="0.84" fill="#f9efb0"/>
<circle cx="478.3" cy="113.37" r="0.84" fill="#f8f2b8"/>
<circle cx="505.56" cy="113.37" r="0.84" fill="#fae299"/>
<circle cx="509.9" cy="113.34" r="0.84" fill="#fadd91"/>
<circle cx="486.84" cy="113.33" r="0.84" fill="#f9efb0"/>
<circle cx="476.17" cy="113.27" r="0.85" fill="#f4f0b8"/>
<circle cx="480.51" cy="113.26" r="0.85" fill="#f8f1b6"/>
<circle cx="494.11" cy="113.2" r="0.85" fill="#faeba9"/>
<circle cx="502.7" cy="113.13" r="0.85" fill="#fbe59e"/>
<circle cx="493.35" cy="113.12" r="0.85" fill="#faecaa"/>
<circle cx="491.34" cy="113.09" r="0.85" fill="#faedac"/>
<circle cx="506.71" cy="113.06" r="0.85" fill="#fae096"/>
<circle cx="504.75" cy="113.06" r="0.85" fill="#fbe39a"/>
<circle cx="484.3" cy="112.92" r="0.85" fill="#f9f0b2"/>
<circle cx="507.46" cy="112.87" r="0.86" fill="#fae095"/>
<circle cx="505.25" cy="112.86" r="0.86" fill="#fbe299"/>
<circle cx="504.69" cy="112.84" r="0.86" fill="#fbe39a"/>
<circle cx="498.24" cy="112.81" r="0.86" fill="#fbe9a5"/>
<circle cx="510.67" cy="112.77" r="0.86" fill="#fadc8f"/>
<circle cx="503.74" cy="112.77" r="0.86" fill="#fbe49c"/>
<circle cx="493.08" cy="112.74" r="0.86" fill="#faecaa"/>
<circle cx="504.17" cy="112.7" r="0.86" fill="#fbe39b"/>
<circle cx="502.79" cy="112.64" r="0.86" fill="#fbe59e"/>
<circle cx="500.96" cy="112.62" r="0.86" fill="#fbe7a1"/>
<circle cx="504.12" cy="112.58" r="0.86" fill="#fbe39b"/>
<circle cx="508.69" cy="112.57" r="0.86" fill="#fade93"/>
<circle cx="475.61" cy="112.56" r="0.86" fill="#f1eeb7"/>
<circle cx="501.96" cy="112.53" r="0.86" fill="#fbe69f"/>
<circle cx="500.29" cy="112.47" r="0.86" fill="#fbe8a2"/>
<circle cx="496.87" cy="112.37" r="0.87" fill="#fbeaa6"/>
<circle cx="488.71" cy="112.34" r="0.87" fill="#faeeae"/>
<circle cx="485.85" cy="112.3" r="0.87" fill="#f9efb1"/>
<circle cx="477.41" cy="112.29" r="0.87" fill="#f8f3b9"/>
<circle cx="500.47" cy="112.28" r="0.87" fill="#fbe8a2"/>
<circle cx="506.5" cy="112.26" r="0.87" fill="#fae197"/>
<circle cx="491.1" cy="112.21" r="0.87" fill="#faedac"/>
<circle cx="506" cy="112.17" r="0.87" fill="#fae198"/>
<circle cx="494.48" cy="112.15" r="0.87" fill="#faeba9"/>
<circle cx="483.7" cy="112.09" r="0.87" fill="#f9f0b3"/>
<circle cx="498.66" cy="112.05" r="0.87" fill="#fbe9a5"/>
<circle cx="487.15" cy="112.03" r="0.87" fill="#f9eeaf"/>
<circle cx="503.42" cy="112.02" r="0.87" fill="#fbe49d"/>
<circle cx="495.23" cy="111.99" r="0.87" fill="#faeba8"/>
<circle cx="502.26" cy="111.96" r="0.88" fill="#fbe69f"/>
<circle cx="492.7" cy="111.93" r="0.88" fill="#faecaa"/>
<circle cx="504.7" cy="111.92" r="0.88" fill="#fbe39a"/>
<circle cx="506.96" cy="111.91" r="0.88" fill="#fae096"/>
<circle cx="487.3" cy="111.9" r="0.88" fill="#f9eeaf"/>
<circle cx="483.17" cy="111.9" r="0.88" fill="#f9f0b3"/>
<circle cx="507.66" cy="111.85" r="0.88" fill="#fadf95"/>
<circle cx="506.08" cy="111.82" r="0.88" fill="#fae198"/>
<circle cx="495.33" cy="111.74" r="0.88" fill="#faeba8"/>
<circle cx="510.81" cy="111.73" r="0.88" fill="#fadc8f"/>
<circle cx="503.54" cy="111.72" r="0.88" fill="#fbe49c"/>
<circle cx="485.09" cy="111.61" r="0.88" fill="#f9efb1"/>
<circle cx="475.84" cy="111.6" r="0.88" fill="#f2efb7"/>
<circle cx="497.91" cy="111.6" r="0.88" fill="#fbeaa5"/>
<circle cx="505.04" cy="111.59" r="0.88" fill="#fbe29a"/>
<circle cx="501.19" cy="111.58" r="0.88" fill="#fbe7a1"/>
<circle cx="509.16" cy="111.55" r="0.88" fill="#fade92"/>
<circle cx="493.31" cy="111.54" r="0.88" fill="#faecaa"/>
<circle cx="510.01" cy="111.53" r="0.88" fill="#fadd90"/>
<circle cx="478.29" cy="111.51" r="0.89" fill="#f8f2b8"/>
<circle cx="507.08" cy="111.48" r="0.89" fill="#fae096"/>
<circle cx="507.93" cy="111.47" r="0.89" fill="#fadf94"/>
<circle cx="501.73" cy="111.43" r="0.89" fill="#fbe6a0"/>
<circle cx="510.93" cy="111.43" r="0.89" fill="#fadb8f"/>
<circle cx="495.96" cy="111.42" r="0.89" fill="#fbeba7"/>
<circle cx="494.02" cy="111.29" r="0.89" fill="#faeba9"/>
<circle cx="508.73" cy="111.22" r="0.89" fill="#fade93"/>
<circle cx="511" cy="111.2" r="0.89" fill="#fadb8f"/>
<circle cx="490.81" cy="111.19" r="0.89" fill="#faedac"/>
<circle cx="496.61" cy="111.11" r="0.89" fill="#fbeaa7"/>
<circle cx="502.49" cy="111.08" r="0.89" fill="#fbe59e"/>
<circle cx="498.83" cy="111.06" r="0.89" fill="#fbe9a4"/>
<circle cx="493.1" cy="111.03" r="0.89" fill="#faecaa"/>
<circle cx="493.55" cy="111.03" r="0.89" fill="#faeca9"/>
<circle cx="495.79" cy="111.02" r="0.89" fill="#fbeba7"/>
<circle cx="503.06" cy="111.02" r="0.89" fill="#fbe59d"/>
<circle cx="506.75" cy="111.02" r="0.89" fill="#fae096"/>
<circle cx="499.35" cy="111.02" r="0.9" fill="#fbe9a4"/>
<circle cx="476.98" cy="110.97" r="0.9" fill="#f8f3b9"/>
<circle cx="504.19" cy="110.91" r="0.9" fill="#fbe39b"/>
<circle cx="479.2" cy="110.91" r="0.9" fill="#f8f2b7"/>
<circle cx="479.7" cy="110.91" r="0.9" fill="#f8f2b6"/>
<circle cx="501.35" cy="110.82" r="0.9" fill="#fbe7a0"/>
<circle cx="483.9" cy="110.82" r="0.9" fill="#f9f0b3"/>
<circle cx="497.03" cy="110.8" r="0.9" fill="#fbeaa6"/>
<circle cx="488.84" cy="110.77" r="0.9" fill="#faeeae"/>
<circle cx="501.23" cy="110.77" r="0.9" fill="#fbe7a1"/>
<circle cx="506.49" cy="110.77" r="0.9" fill="#fae197"/>
<circle cx="489.39" cy="110.76" r="0.9" fill="#faedad"/>
<circle cx="497.56" cy="110.75" r="0.9" fill="#fbeaa6"/>
<circle cx="476.59" cy="110.69" r="0.9" fill="#f6f2b8"/>
<circle cx="493.01" cy="110.63" r="0.9" fill="#faecaa"/>
<circle cx="488.46" cy="110.62" r="0.9" fill="#faeeae"/>
<circle cx="501.46" cy="110.62" r="0.9" fill="#fbe7a0"/>
<circle cx="503.83" cy="110.6" r="0.9" fill="#fbe49c"/>
<circle cx="483.16" cy="110.54" r="0.9" fill="#f9f0b3"/>
<circle cx="500.68" cy="110.53" r="0.9" fill="#fbe7a2"/>
<circle cx="489.51" cy="110.48" r="0.91" fill="#faedad"/>
<circle cx="509.68" cy="110.44" r="0.91" fill="#fadd91"/>
<circle cx="484.94" cy="110.42" r="0.91" fill="#f9efb2"/>
<circle cx="488.3" cy="110.39" r="0.91" fill="#faeeae"/>
<circle cx="494.74" cy="110.38" r="0.91" fill="#faeba8"/>
<circle cx="495.4" cy="110.34" r="0.91" fill="#faeba8"/>
<circle cx="507.47" cy="110.3" r="0.91" fill="#fae095"/>
<circle cx="505.65" cy="110.29" r="0.91" fill="#fae298"/>
<circle cx="511.21" cy="110.29" r="0.91" fill="#fadb8e"/>
<circle cx="484.79" cy="110.25" r="0.91" fill="#f9f0b2"/>
<circle cx="487.65" cy="110.22" r="0.91" fill="#f9eeaf"/>
<circle cx="482.64" cy="110.22" r="0.91" fill="#f9f0b4"/>
<circle cx="483.49" cy="110.19" r="0.91" fill="#f9f0b3"/>
<circle cx="505.83" cy="110.14" r="0.91" fill="#fae198"/>
<circle cx="510.87" cy="110.12" r="0.91" fill="#fadc8f"/>
<circle cx="486.06" cy="110.1" r="0.91" fill="#f9efb0"/>
<circle cx="477.16" cy="110.09" r="0.91" fill="#f8f3b9"/>
<circle cx="489.52" cy="110.06" r="0.91" fill="#faedad"/>
<circle cx="487.71" cy="110.06" r="0.91" fill="#f9eeaf"/>
<circle cx="499.01" cy="110.02" r="0.91" fill="#fbe9a4"/>
<circle cx="487.05" cy="110.02" r="0.91" fill="#f9efb0"/>
<circle cx="501.06" cy="110" r="0.91" fill="#fbe7a1"/>
<circle cx="484.37" cy="109.97" r="0.92" fill="#f9f0b2"/>
<circle cx="479.76" cy="109.96" r="0.92" fill="#f8f2b6"/>
<circle cx="477.72" cy="109.96" r="0.92" fill="#f8f3b8"/>
<circle cx="505.89" cy="109.94" r="0.92" fill="#fae198"/>
<circle cx="497.77" cy="109.88" r="0.92" fill="#fbeaa5"/>
<circle cx="478.41" cy="109.87" r="0.92" fill="#f8f2b8"/>
<circle cx="475.47" cy="109.83" r="0.92" fill="#f0eeb7"/>
<circle cx="501.28" cy="109.82" r="0.92" fill="#fbe7a0"/>
<circle cx="510.96" cy="109.77" r="0.92" fill="#fadb8f"/>
<circle cx="484.44" cy="109.72" r="0.92" fill="#f9f0b2"/>
<circle cx="477.55" cy="109.68" r="0.92" fill="#f8f3b8"/>
<circle cx="502.06" cy="109.56" r="0.92" fill="#fbe69f"/>
<circle cx="491.96" cy="109.51" r="0.92" fill="#faecab"/>
<circle cx="488.37" cy="109.51" r="0.92" fill="#faeeae"/>
<circle cx="508.59" cy="109.49" r="0.92" fill="#fade93"/>
<circle cx="501.53" cy="109.48" r="0.92" fill="#fbe6a0"/>
<circle cx="508.69" cy="109.47" r="0.92" fill="#fade93"/>
<circle cx="502.24" cy="109.47" r="0.92" fill="#fbe69f"/>
<circle cx="477.69" cy="109.45" r="0.93" fill="#f8f3b8"/>
<circle cx="502.89" cy="109.41" r="0.93" fill="#fbe59e"/>
<circle cx="501.58" cy="109.4" r="0.93" fill="#fbe6a0"/>
<circle cx="502.23" cy="109.37" r="0.93" fill="#fbe69f"/>
<circle cx="482.11" cy="109.36" r="0.93" fill="#f9f1b4"/>
<circle cx="507.75" cy="109.35" r="0.93" fill="#fadf95"/>
<circle cx="479.6" cy="109.33" r="0.93" fill="#f8f2b7"/>
<circle cx="488.11" cy="109.31" r="0.93" fill="#f9eeaf"/>
<circle cx="496.25" cy="109.29" r="0.93" fill="#fbeaa7"/>
<circle cx="497.61" cy="109.16" r="0.93" fill="#fbeaa6"/>
<circle cx="501.6" cy="109.13" r="0.93" fill="#fbe6a0"/>
<circle cx="485.01" cy="109.12" r="0.93" fill="#f9efb1"/>
<circle cx="485.82" cy="109.05" r="0.93" fill="#f9efb1"/>
<circle cx="502.5" cy="109.03" r="0.93" fill="#fbe59e"/>
<circle cx="483.51" cy="109.01" r="0.93" fill="#f9f0b3"/>
<circle cx="511.23" cy="108.99" r="0.93" fill="#fadb8e"/>
<circle cx="506.41" cy="108.96" r="0.93" fill="#fae197"/>
<circle cx="507.69" cy="108.91" r="0.93" fill="#fadf95"/>
<circle cx="478.99" cy="108.91" r="0.94" fill="#f8f2b7"/>
<circle cx="507.4" cy="108.91" r="0.94" fill="#fae095"/>
<circle cx="495.6" cy="108.9" r="0.94" fill="#faeba8"/>
<circle cx="510.52" cy="108.9" r="0.94" fill="#fadc8f"/>
<circle cx="505.01" cy="108.9" r="0.94" fill="#fbe29a"/>
<circle cx="475.69" cy="108.88" r="0.94" fill="#f1efb7"/>
<circle cx="478.09" cy="108.84" r="0.94" fill="#f8f3b8"/>
<circle cx="493.87" cy="108.83" r="0.94" fill="#faeba9"/>
<circle cx="480.41" cy="108.82" r="0.94" fill="#f8f1b6"/>
<circle cx="497.36" cy="108.78" r="0.94" fill="#fbeaa6"/>
<circle cx="500.13" cy="108.77" r="0.94" fill="#fbe8a3"/>
<circle cx="475.73" cy="108.74" r="0.94" fill="#f1efb7"/>
<circle cx="491.1" cy="108.69" r="0.94" fill="#faedac"/>
<circle cx="495.66" cy="108.61" r="0.94" fill="#fbeba7"/>
<circle cx="499.52" cy="108.6" r="0.94" fill="#fbe9a4"/>
<circle cx="511.27" cy="108.57" r="0.94" fill="#fadb8e"/>
<circle cx="488.78" cy="108.48" r="0.94" fill="#faeeae"/>
<circle cx="480.63" cy="108.47" r="0.94" fill="#f8f1b6"/>
<circle cx="478.75" cy="108.44" r="0.94" fill="#f8f2b7"/>
<circle cx="483.72" cy="108.4" r="0.94" fill="#f9f0b3"/>
<circle cx="499.82" cy="108.37" r="0.94" fill="#fbe8a3"/>
<circle cx="483.13" cy="108.36" r="0.94" fill="#f9f0b3"/>
<circle cx="502.06" cy="108.35" r="0.94" fill="#fbe69f"/>
<circle cx="499.37" cy="108.34" r="0.95" fill="#fbe9a4"/>
<circle cx="494.48" cy="108.34" r="0.95" fill="#faeba9"/>
<circle cx="509.5" cy="108.31" r="0.95" fill="#fadd91"/>
<circle cx="509.23" cy="108.3" r="0.95" fill="#fadd92"/>
<circle cx="508.57" cy="108.29" r="0.95" fill="#fade93"/>
<circle cx="500.59" cy="108.25" r="0.95" fill="#fbe8a2"/>
<circle cx="502.68" cy="108.24" r="0.95" fill="#fbe59e"/>
<circle cx="478.62" cy="108.22" r="0.95" fill="#f8f2b7"/>
<circle cx="491.03" cy="108.2" r="0.95" fill="#faedac"/>
<circle cx="487.49" cy="108.15" r="0.95" fill="#f9eeaf"/>
<circle cx="480.83" cy="108.11" r="0.95" fill="#f9f1b5"/>
<circle cx="484.57" cy="108.09" r="0.95" fill="#f9f0b2"/>
<circle cx="506.18" cy="108.08" r="0.95" fill="#fae197"/>
<circle cx="504.09" cy="108.07" r="0.95" fill="#fbe39b"/>
<circle cx="479.1" cy="108.06" r="0.95" fill="#f8f2b7"/>
<circle cx="475.46" cy="108.04" r="0.95" fill="#f0eeb7"/>
<circle cx="475.55" cy="108.01" r="0.95" fill="#f0eeb7"/>
<circle cx="475.89" cy="107.99" r="0.95" fill="#f2efb7"/>
<circle cx="490.26" cy="107.96" r="0.95" fill="#faedad"/>
<circle cx="481.09" cy="107.93" r="0.95" fill="#f9f1b5"/>
<circle cx="481.54" cy="107.91" r="0.95" fill="#f9f1b5"/>
<circle cx="483.85" cy="107.89" r="0.95" fill="#f9f0b3"/>
<circle cx="501.62" cy="107.86" r="0.95" fill="#fbe6a0"/>
<circle cx="501.64" cy="107.83" r="0.95" fill="#fbe6a0"/>
<circle cx="486.79" cy="107.8" r="0.95" fill="#f9efb0"/>
<circle cx="506.88" cy="107.8" r="0.95" fill="#fae096"/>
<circle cx="499.81" cy="107.75" r="0.96" fill="#fbe8a3"/>
<circle cx="492.56" cy="107.68" r="0.96" fill="#faecaa"/>
<circle cx="505.23" cy="107.67" r="0.96" fill="#fbe299"/>
<circle cx="492.25" cy="107.64" r="0.96" fill="#faecab"/>
<circle cx="489.98" cy="107.61" r="0.96" fill="#faedad"/>
<circle cx="478.84" cy="107.6" r="0.96" fill="#f8f2b7"/>
<circle cx="499.35" cy="107.58" r="0.96" fill="#fbe9a4"/>
<circle cx="481.12" cy="107.48" r="0.96" fill="#f9f1b5"/>
<circle cx="505.97" cy="107.47" r="0.96" fill="#fae198"/>
<circle cx="501.29" cy="107.46" r="0.96" fill="#fbe7a0"/>
<circle cx="499.76" cy="107.46" r="0.96" fill="#fbe9a3"/>
<circle cx="475.48" cy="107.39" r="0.96" fill="#f0eeb7"/>
<circle cx="491.37" cy="107.37" r="0.96" fill="#faedab"/>
<circle cx="500.01" cy="107.37" r="0.96" fill="#fbe8a3"/>
<circle cx="481.31" cy="107.35" r="0.96" fill="#f9f1b5"/>
<circle cx="485.76" cy="107.24" r="0.96" fill="#f9efb1"/>
<circle cx="482.04" cy="107.2" r="0.96" fill="#f9f1b4"/>
<circle cx="502.04" cy="107.12" r="0.97" fill="#fbe69f"/>
<circle cx="497.49" cy="107.06" r="0.97" fill="#fbeaa6"/>
<circle cx="485.75" cy="107.03" r="0.97" fill="#f9efb1"/>
<circle cx="492.3" cy="107.01" r="0.97" fill="#faecab"/>
<circle cx="480.21" cy="107.01" r="0.97" fill="#f8f2b6"/>
<circle cx="499.87" cy="106.91" r="0.97" fill="#fbe8a3"/>
<circle cx="493.04" cy="106.86" r="0.97" fill="#faecaa"/>
<circle cx="498.29" cy="106.79" r="0.97" fill="#fbe9a5"/>
<circle cx="477.57" cy="106.78" r="0.97" fill="#f8f3b8"/>
<circle cx="488.22" cy="106.75" r="0.97" fill="#faeeae"/>
<circle cx="491.91" cy="106.71" r="0.97" fill="#faecab"/>
<circle cx="481.53" cy="106.7" r="0.97" fill="#f9f1b5"/>
<circle cx="490.03" cy="106.67" r="0.97" fill="#faedad"/>
<circle cx="477.29" cy="106.61" r="0.97" fill="#f8f3b9"/>
<circle cx="488.3" cy="106.56" r="0.98" fill="#faeeae"/>
<circle cx="479.77" cy="106.5" r="0.98" fill="#f8f2b6"/>
<circle cx="498.17" cy="106.35" r="0.98" fill="#fbeaa5"/>
<circle cx="496.8" cy="106.25" r="0.98" fill="#fbeaa6"/>
<circle cx="477.69" cy="106.25" r="0.98" fill="#f8f3b8"/>
<circle cx="492.37" cy="106.24" r="0.98" fill="#faecab"/>
<circle cx="475.95" cy="106.23" r="0.98" fill="#f3efb7"/>
<circle cx="493.39" cy="106.18" r="0.98" fill="#faecaa"/>
<circle cx="479.05" cy="106.12" r="0.98" fill="#f8f2b7"/>
<circle cx="486.43" cy="106.11" r="0.98" fill="#f9efb0"/>
<circle cx="482.75" cy="106.02" r="0.98" fill="#f9f0b4"/>
<circle cx="497.9" cy="106.01" r="0.98" fill="#fbeaa5"/>
<circle cx="497.63" cy="105.91" r="0.99" fill="#fbeaa6"/>
<circle cx="487.16" cy="105.89" r="0.99" fill="#f9eeaf"/>
<circle cx="485.55" cy="105.76" r="0.99" fill="#f9efb1"/>
<circle cx="479.15" cy="105.75" r="0.99" fill="#f8f2b7"/>
<circle cx="491.12" cy="105.7" r="0.99" fill="#faedac"/>
<circle cx="481.78" cy="105.7" r="0.99" fill="#f9f1b5"/>
<circle cx="487.59" cy="105.69" r="0.99" fill="#f9eeaf"/>
<circle cx="490" cy="105.57" r="0.99" fill="#faedad"/>
<circle cx="490.01" cy="105.5" r="0.99" fill="#faedad"/>
<circle cx="478.27" cy="105.5" r="0.99" fill="#f8f2b8"/>
<circle cx="479.4" cy="105.45" r="0.99" fill="#f8f2b7"/>
<circle cx="477.4" cy="105.42" r="0.99" fill="#f8f3b9"/>
<circle cx="482.93" cy="105.34" r="0.99" fill="#f9f0b3"/>
<circle cx="487.98" cy="105.27" r="1" fill="#f9eeaf"/>
<circle cx="479.19" cy="105.24" r="1" fill="#f8f2b7"/>
<circle cx="492.48" cy="105.24" r="1" fill="#faecaa"/>
<circle cx="489.3" cy="105.23" r="1" fill="#faedad"/>
<circle cx="475.43" cy="105.2" r="1" fill="#f0eeb7"/>
<circle cx="491.53" cy="105.17" r="1" fill="#faedab"/>
<circle cx="485.53" cy="105.14" r="1" fill="#f9efb1"/>
<circle cx="486.32" cy="105" r="1" fill="#f9efb0"/>
<circle cx="488.84" cy="104.87" r="1" fill="#faeeae"/>
<circle cx="481.94" cy="104.82" r="1" fill="#f9f1b4"/>
<circle cx="485.43" cy="104.7" r="1" fill="#f9efb1"/>
<circle cx="480.11" cy="104.61" r="1.01" fill="#f8f2b6"/>
<circle cx="487.57" cy="104.52" r="1.01" fill="#f9eeaf"/>
<circle cx="479.8" cy="104.43" r="1.01" fill="#f8f2b6"/>
<circle cx="478.75" cy="104.36" r="1.01" fill="#f8f2b7"/>
<circle cx="475.42" cy="104.15" r="1.01" fill="#f0eeb7"/>
<circle cx="477.86" cy="104.01" r="1.02" fill="#f8f3b8"/>
<circle cx="483.63" cy="103.84" r="1.02" fill="#f9f0b3"/>
<circle cx="481.17" cy="103.73" r="1.02" fill="#f9f1b5"/>
<circle cx="481.13" cy="103.56" r="1.02" fill="#f9f1b5"/>
<circle cx="478.72" cy="103.52" r="1.02" fill="#f8f2b7"/>
<circle cx="481.02" cy="103.47" r="1.02" fill="#f9f1b5"/>
<circle cx="480.27" cy="103.36" r="1.02" fill="#f8f2b6"/>
<circle cx="475.54" cy="103.3" r="1.03" fill="#f0eeb7"/>
<circle cx="477.15" cy="103.23" r="1.03" fill="#f8f3b9"/>
<circle cx="477.47" cy="102.6" r="1.04" fill="#f8f3b9"/>
<line x1="426.3" y1="100.62" x2="657.5" y2="100.62" stroke="#333" stroke-width="0.6" stroke-dasharray="2 1.3 0.6 1.3"/>
<line x1="475.4" y1="22" x2="437.9" y2="22" stroke="#9ec8df" stroke-width="1.1"/>
<path d="M436.4 22L438.8 20.65L438.8 23.35Z" fill="#9ec8df"/>
<line x1="475.4" y1="22" x2="646.2" y2="22" stroke="#d9625b" stroke-width="1.1"/>
<path d="M647.7 22L645.3 20.65L645.3 23.35Z" fill="#d9625b"/>
<text x="456" y="20" font-size="3.6" stroke="#78b0d0" stroke-width="0.08" text-anchor="middle" fill="#78b0d0">Inverse</text>
<text x="561.7" y="20" font-size="3.6" stroke="#d0544c" stroke-width="0.08" text-anchor="middle" fill="#d0544c">Positive</text>
<circle cx="437" cy="105" r="1.2" fill="#2c74b3"/>
<circle cx="438.5" cy="104" r="1.2" fill="#2c74b3"/>
<circle cx="440" cy="103" r="1.2" fill="#3177b4"/>
<circle cx="445" cy="103" r="1.1" fill="#6396c0"/>
<circle cx="438" cy="107" r="1" fill="#2c74b3"/>
<circle cx="443" cy="109" r="0.9" fill="#4f89bb"/>
<circle cx="441" cy="112" r="0.9" fill="#3b7db7"/>
<circle cx="447" cy="111" r="0.9" fill="#749fc1"/>
<circle cx="444" cy="114" r="0.9" fill="#5990be"/>
<circle cx="446" cy="116" r="0.8" fill="#6c9bc0"/>
<circle cx="449" cy="113" r="0.9" fill="#84a9c1"/>
<circle cx="450" cy="104" r="1" fill="#8caec2"/>
<circle cx="455" cy="103" r="1" fill="#a3bcbe"/>
<circle cx="458" cy="102" r="1" fill="#adc2ba"/>
<circle cx="463" cy="101.5" r="1" fill="#bdcdb3"/>
<circle cx="467" cy="101" r="0.9" fill="#cbd6b1"/>
<circle cx="471" cy="101.5" r="0.9" fill="#dae0b2"/>
<circle cx="509" cy="105" r="1.1" fill="#fade92"/>
<circle cx="514.5" cy="107.5" r="1.2" fill="#f9d485"/>
<circle cx="512" cy="110" r="1" fill="#fad98c"/>
<circle cx="525.5" cy="111.6" r="1.2" fill="#f8bc67"/>
<circle cx="522.5" cy="118" r="0.9" fill="#f8c26d"/>
<circle cx="544" cy="118" r="0.9" fill="#f59a4b"/>
<circle cx="485" cy="101" r="1" fill="#f9efb1"/>
<circle cx="489" cy="102" r="1" fill="#faeeae"/>
<circle cx="495" cy="102.5" r="1" fill="#faeba8"/>
<circle cx="500" cy="103" r="0.9" fill="#fbe8a3"/>
<circle cx="440.3" cy="84.2" r="1.5" fill="#2f77b4"/>
<path d="M441.2 83.75 Q444.5 84.2 446.7 80.4" fill="none" stroke="#222" stroke-width="0.35"/>
<text x="446.7" y="80.14" font-size="2.9" stroke="#1a1a1a" stroke-width="0.07" text-anchor="middle" fill="#1a1a1a">PLXNB1</text>
<circle cx="437.3" cy="96" r="1.5" fill="#2f77b4"/>
<path d="M438.2 95.55 Q435.95 96 432.6 90.7" fill="none" stroke="#222" stroke-width="0.35"/>
<text x="432.6" y="90.44" font-size="2.9" stroke="#1a1a1a" stroke-width="0.07" text-anchor="middle" fill="#1a1a1a">EPHA10</text>
<circle cx="446.7" cy="93.2" r="1.5" fill="#3b7fb8"/>
<path d="M447.6 92.75 Q450.5 93.2 452.3 89.3" fill="none" stroke="#222" stroke-width="0.35"/>
<text x="452.3" y="89.04" font-size="2.9" stroke="#1a1a1a" stroke-width="0.07" text-anchor="middle" fill="#1a1a1a">DDIT4</text>
<circle cx="440.6" cy="99.3" r="1.4" fill="#3b7fb8"/>
<path d="M441.44 98.88 Q444.55 99.3 446.5 96.8" fill="none" stroke="#222" stroke-width="0.35"/>
<text x="446.5" y="96.54" font-size="2.9" stroke="#1a1a1a" stroke-width="0.07" text-anchor="middle" fill="#1a1a1a">LTB4R2</text>
<circle cx="443" cy="100.7" r="1.3" fill="#4a86ba"/>
<circle cx="460.3" cy="91.8" r="1.2" fill="#a9c2b2"/>
<path d="M461.02 91.44 Q463.9 91.8 465.5 88.2" fill="none" stroke="#222" stroke-width="0.35"/>
<text x="465.5" y="87.94" font-size="2.9" stroke="#1a1a1a" stroke-width="0.07" text-anchor="middle" fill="#1a1a1a">MMRN1</text>
<circle cx="466" cy="95" r="1.2" fill="#d3dca8"/>
<path d="M466.72 94.64 Q469.8 95 471.6 91.9" fill="none" stroke="#222" stroke-width="0.35"/>
<text x="471.6" y="91.64" font-size="2.9" stroke="#1a1a1a" stroke-width="0.07" text-anchor="middle" fill="#1a1a1a">TGFB3</text>
<circle cx="505.1" cy="77.9" r="1.5" fill="#fcd98a"/>
<path d="M506 77.45 Q508.95 77.9 510.8 73.7" fill="none" stroke="#222" stroke-width="0.35"/>
<text x="510.8" y="73.44" font-size="2.9" stroke="#1a1a1a" stroke-width="0.07" text-anchor="middle" fill="#1a1a1a">HMGCR</text>
<circle cx="491" cy="82.1" r="1.4" fill="#fbe9a4"/>
<path d="M491.84 81.68 Q495 82.1 497 78.2" fill="none" stroke="#222" stroke-width="0.35"/>
<text x="497" y="77.94" font-size="2.9" stroke="#1a1a1a" stroke-width="0.07" text-anchor="middle" fill="#1a1a1a">NR1D1</text>
<circle cx="483.2" cy="92.5" r="1.2" fill="#fbeeaa"/>
<path d="M483.92 92.14 Q487.75 92.5 490.3 86" fill="none" stroke="#222" stroke-width="0.35"/>
<text x="490.3" y="85.74" font-size="2.9" stroke="#1a1a1a" stroke-width="0.07" text-anchor="middle" fill="#1a1a1a">LPAR5</text>
<circle cx="483.5" cy="94.5" r="1.2" fill="#fbeeaa"/>
<path d="M484.22 94.14 Q490.6 94.5 495.7 90.1" fill="none" stroke="#222" stroke-width="0.35"/>
<text x="495.7" y="89.84" font-size="2.9" stroke="#1a1a1a" stroke-width="0.07" text-anchor="middle" fill="#1a1a1a">HSPA4</text>
<circle cx="484" cy="96.5" r="1.2" fill="#fbeeaa"/>
<path d="M484.72 96.14 Q491.65 96.5 497.3 94.3" fill="none" stroke="#222" stroke-width="0.35"/>
<text x="497.3" y="94.04" font-size="2.9" stroke="#1a1a1a" stroke-width="0.07" text-anchor="middle" fill="#1a1a1a">THRA</text>
<circle cx="497.8" cy="96.1" r="1.3" fill="#fbe6a0"/>
<path d="M498.58 95.71 Q504 96.1 508.2 93.3" fill="none" stroke="#222" stroke-width="0.35"/>
<text x="508.2" y="93.04" font-size="2.9" stroke="#1a1a1a" stroke-width="0.07" text-anchor="middle" fill="#1a1a1a">CHD4</text>
<circle cx="493.1" cy="96.6" r="1.2" fill="#fbe9a4"/>
<path d="M493.82 96.24 Q499.05 96.6 503 100.2" fill="none" stroke="#222" stroke-width="0.35"/>
<text x="503" y="99.94" font-size="2.9" stroke="#1a1a1a" stroke-width="0.07" text-anchor="middle" fill="#1a1a1a">TNFSF13</text>
<circle cx="488.4" cy="101.3" r="1.1" fill="#fbeeaa"/>
<path d="M489.06 100.97 Q494.1 101.3 497.8 104.2" fill="none" stroke="#222" stroke-width="0.35"/>
<text x="497.8" y="103.94" font-size="2.9" stroke="#1a1a1a" stroke-width="0.07" text-anchor="middle" fill="#1a1a1a">HSPA1B</text>
<circle cx="481.6" cy="99.8" r="1.1" fill="#fbeeaa"/>
<path d="M482.26 99.47 Q487.55 99.8 491.5 107.3" fill="none" stroke="#222" stroke-width="0.35"/>
<text x="491.5" y="107.04" font-size="2.9" stroke="#1a1a1a" stroke-width="0.07" text-anchor="middle" fill="#1a1a1a">TRIT1</text>
<circle cx="520.2" cy="100.5" r="1.3" fill="#f9c070"/>
<path d="M520.98 100.11 Q524.3 100.5 526.4 96.9" fill="none" stroke="#222" stroke-width="0.35"/>
<text x="526.4" y="96.64" font-size="2.9" stroke="#1a1a1a" stroke-width="0.07" text-anchor="middle" fill="#1a1a1a">CDK4</text>
<circle cx="537.6" cy="89.7" r="1.5" fill="#f7a04e"/>
<path d="M538.5 89.25 Q542.3 89.7 545 86.3" fill="none" stroke="#222" stroke-width="0.35"/>
<text x="545" y="86.04" font-size="2.9" stroke="#1a1a1a" stroke-width="0.07" text-anchor="middle" fill="#1a1a1a">KCNK5</text>
<circle cx="549.4" cy="100.4" r="1.4" fill="#f59a4a"/>
<path d="M550.24 99.98 Q554.2 100.4 557 96.5" fill="none" stroke="#222" stroke-width="0.35"/>
<text x="557" y="96.24" font-size="2.9" stroke="#1a1a1a" stroke-width="0.07" text-anchor="middle" fill="#1a1a1a">TLN1</text>
<circle cx="647" cy="36.4" r="2.3" fill="#a30d50"/>
<path d="M648.38 35.71 Q650.8 36.4 652.6 32.6" fill="none" stroke="#222" stroke-width="0.35"/>
<text x="652.6" y="32.34" font-size="2.9" stroke="#1a1a1a" stroke-width="0.07" text-anchor="middle" fill="#1a1a1a">TGFB1</text>
<rect x="661.3" y="30.3" width="23.3" height="40.6" rx="1.5" fill="#fff" stroke="#d4d4d4" stroke-width="0.6"/>
<text x="662.9" y="35.08" font-size="3" stroke="#111" stroke-width="0.1" fill="#111">-log10(FDR)</text>
<circle cx="665.1" cy="40.1" r="0.5" fill="#000"/>
<text x="669" y="41.18" font-size="3" stroke="#222" stroke-width="0.08" fill="#222">0</text>
<circle cx="665.1" cy="44.8" r="1.1" fill="#000"/>
<text x="669" y="45.88" font-size="3" stroke="#222" stroke-width="0.08" fill="#222">1</text>
<circle cx="665.1" cy="50.2" r="1.5" fill="#000"/>
<text x="669" y="51.28" font-size="3" stroke="#222" stroke-width="0.08" fill="#222">2</text>
<circle cx="665.1" cy="55.6" r="1.8" fill="#000"/>
<text x="669" y="56.68" font-size="3" stroke="#222" stroke-width="0.08" fill="#222">3</text>
<circle cx="665.1" cy="61" r="2.1" fill="#000"/>
<text x="669" y="62.08" font-size="3" stroke="#222" stroke-width="0.08" fill="#222">4</text>
<circle cx="665.1" cy="66.4" r="2.5" fill="#000"/>
<text x="669" y="67.48" font-size="3" stroke="#222" stroke-width="0.08" fill="#222">5</text>
<rect x="661.6" y="74.6" width="14.1" height="34.6" rx="1.5" fill="#fff" stroke="#d4d4d4" stroke-width="0.6"/>
<text x="663.1" y="78.99" font-size="3.3" stroke="#111" stroke-width="0.1" fill="#111">or</text>
<defs><linearGradient id="g2930" x1="0" y1="1" x2="0" y2="0"><stop offset="0" stop-color="#2e76b4"/><stop offset="0.08" stop-color="#9cbcc4"/><stop offset="0.2" stop-color="#fdf5b5"/><stop offset="0.4" stop-color="#fdd98a"/><stop offset="0.6" stop-color="#f9a255"/><stop offset="0.78" stop-color="#ef6840"/><stop offset="0.9" stop-color="#d43d4f"/><stop offset="1" stop-color="#9e0142"/></linearGradient></defs>
<rect x="663.2" y="80.6" width="5.4" height="27.3" fill="url(#g2930)"/>
<line x1="667.8" y1="82.8" x2="668.6" y2="82.8" stroke="#fff" stroke-width="0.3"/>
<text x="670" y="83.88" font-size="3" stroke="#222" stroke-width="0.08" fill="#222">3.0</text>
<line x1="667.8" y1="88.1" x2="668.6" y2="88.1" stroke="#fff" stroke-width="0.3"/>
<text x="670" y="89.18" font-size="3" stroke="#222" stroke-width="0.08" fill="#222">2.5</text>
<line x1="667.8" y1="93.5" x2="668.6" y2="93.5" stroke="#fff" stroke-width="0.3"/>
<text x="670" y="94.58" font-size="3" stroke="#222" stroke-width="0.08" fill="#222">2.0</text>
<line x1="667.8" y1="98.9" x2="668.6" y2="98.9" stroke="#fff" stroke-width="0.3"/>
<text x="670" y="99.98" font-size="3" stroke="#222" stroke-width="0.08" fill="#222">1.5</text>
<line x1="667.8" y1="103.7" x2="668.6" y2="103.7" stroke="#fff" stroke-width="0.3"/>
<text x="670" y="104.78" font-size="3" stroke="#222" stroke-width="0.08" fill="#222">1.0</text>
<rect x="26.1" y="149.1" width="165.5" height="47.79" fill="#c4e6bf"/>
<rect x="26.1" y="196.89" width="165.5" height="26.55" fill="#dff0da"/>
<rect x="26.1" y="223.44" width="165.5" height="31.86" fill="#f3f9f1"/>
<g font-weight="bold">
<text x="40.8" y="147.61" font-size="3.35" stroke="#111" stroke-width="0.1" text-anchor="middle" fill="#111">Druggable gene</text>
<text x="65.2" y="147.61" font-size="3.35" stroke="#111" stroke-width="0.1" text-anchor="middle" fill="#111">method</text>
<text x="80.6" y="147.61" font-size="3.35" stroke="#111" stroke-width="0.1" text-anchor="middle" fill="#111">nsnp</text>
<text x="141.4" y="147.61" font-size="3.35" stroke="#111" stroke-width="0.1" text-anchor="middle" fill="#111">OR (95%CI)</text>
<text x="164.6" y="147.61" font-size="3.35" stroke="#111" stroke-width="0.1" text-anchor="middle" fill="#111">PPH4</text>
<text x="182.4" y="147.61" font-size="3.35" stroke="#111" stroke-width="0.1" text-anchor="middle" fill="#111">FDR</text>
</g>
<line x1="98.3" y1="149.1" x2="98.3" y2="255.4" stroke="#e0788a" stroke-width="0.5" stroke-dasharray="0.9 0.7"/>
<g fill="#222">
<text x="52.8" y="153.33" font-size="3.4" stroke="#222" stroke-width="0.07" text-anchor="end" fill="#222">POLR2A</text>
<text x="72.9" y="153.33" font-size="3.4" stroke="#222" stroke-width="0.07" text-anchor="end" fill="#222">Wald ratio</text>
<text x="84.5" y="153.33" font-size="3.4" stroke="#222" stroke-width="0.07" text-anchor="middle" fill="#222">1</text>
<text x="152.8" y="153.33" font-size="3.4" stroke="#222" stroke-width="0.07" text-anchor="end" fill="#222">0.7 (0.59&#8211;0.82)</text>
<text x="164.8" y="153.33" font-size="3.4" stroke="#222" stroke-width="0.07" text-anchor="middle" fill="#222">0.901542</text>
<text x="182.8" y="153.33" font-size="3.4" stroke="#222" stroke-width="0.07" text-anchor="middle" fill="#222">0.014401</text>
<text x="52.8" y="158.64" font-size="3.4" stroke="#222" stroke-width="0.07" text-anchor="end" fill="#222">TGFB3</text>
<text x="72.9" y="158.64" font-size="3.4" stroke="#222" stroke-width="0.07" text-anchor="end" fill="#222">Wald ratio</text>
<text x="84.5" y="158.64" font-size="3.4" stroke="#222" stroke-width="0.07" text-anchor="middle" fill="#222">1</text>
<text x="152.8" y="158.64" font-size="3.4" stroke="#222" stroke-width="0.07" text-anchor="end" fill="#222">0.73 (0.63&#8211;0.86)</text>
<text x="164.8" y="158.64" font-size="3.4" stroke="#222" stroke-width="0.07" text-anchor="middle" fill="#222">0.731404</text>
<text x="182.8" y="158.64" font-size="3.4" stroke="#222" stroke-width="0.07" text-anchor="middle" fill="#222">0.040733</text>
<text x="52.8" y="163.95" font-size="3.4" stroke="#222" stroke-width="0.07" text-anchor="end" fill="#222">TBC1D32</text>
<text x="72.9" y="163.95" font-size="3.4" stroke="#222" stroke-width="0.07" text-anchor="end" fill="#222">Wald ratio</text>
<text x="84.5" y="163.95" font-size="3.4" stroke="#222" stroke-width="0.07" text-anchor="middle" fill="#222">1</text>
<text x="152.8" y="163.95" font-size="3.4" stroke="#222" stroke-width="0.07" text-anchor="end" fill="#222">0.54 (0.4&#8211;0.74)</text>
<text x="164.8" y="163.95" font-size="3.4" stroke="#222" stroke-width="0.07" text-anchor="middle" fill="#222">0.886188</text>
<text x="182.8" y="163.95" font-size="3.4" stroke="#222" stroke-width="0.07" text-anchor="middle" fill="#222">0.040866</text>
<text x="52.8" y="169.26" font-size="3.4" stroke="#222" stroke-width="0.07" text-anchor="end" fill="#222">MICU1</text>
<text x="72.9" y="169.26" font-size="3.4" stroke="#222" stroke-width="0.07" text-anchor="end" fill="#222">Wald ratio</text>
<text x="84.5" y="169.26" font-size="3.4" stroke="#222" stroke-width="0.07" text-anchor="middle" fill="#222">1</text>
<text x="152.8" y="169.26" font-size="3.4" stroke="#222" stroke-width="0.07" text-anchor="end" fill="#222">0.79 (0.68&#8211;0.89)</text>
<text x="164.8" y="169.26" font-size="3.4" stroke="#222" stroke-width="0.07" text-anchor="middle" fill="#222">0.968059</text>
<text x="182.8" y="169.26" font-size="3.4" stroke="#222" stroke-width="0.07" text-anchor="middle" fill="#222">0.049652</text>
<text x="52.8" y="174.57" font-size="3.4" stroke="#222" stroke-width="0.07" text-anchor="end" fill="#222">FGD4</text>
<text x="72.9" y="174.57" font-size="3.4" stroke="#222" stroke-width="0.07" text-anchor="end" fill="#222">Wald ratio</text>
<text x="84.5" y="174.57" font-size="3.4" stroke="#222" stroke-width="0.07" text-anchor="middle" fill="#222">1</text>
<text x="152.8" y="174.57" font-size="3.4" stroke="#222" stroke-width="0.07" text-anchor="end" fill="#222">2.03 (1.43&#8211;2.88)</text>
<text x="164.8" y="174.57" font-size="3.4" stroke="#222" stroke-width="0.07" text-anchor="middle" fill="#222">0.121094</text>
<text x="182.8" y="174.57" font-size="3.4" stroke="#222" stroke-width="0.07" text-anchor="middle" fill="#222">0.044781</text>
<text x="52.8" y="179.88" font-size="3.4" stroke="#222" stroke-width="0.07" text-anchor="end" fill="#222">BRPF3</text>
<text x="72.9" y="179.88" font-size="3.4" stroke="#222" stroke-width="0.07" text-anchor="end" fill="#222">Wald ratio</text>
<text x="84.5" y="179.88" font-size="3.4" stroke="#222" stroke-width="0.07" text-anchor="middle" fill="#222">1</text>
<text x="152.8" y="179.88" font-size="3.4" stroke="#222" stroke-width="0.07" text-anchor="end" fill="#222">0.49 (0.35&#8211;0.69)</text>
<text x="164.8" y="179.88" font-size="3.4" stroke="#222" stroke-width="0.07" text-anchor="middle" fill="#222">0.067868</text>
<text x="182.8" y="179.88" font-size="3.4" stroke="#222" stroke-width="0.07" text-anchor="middle" fill="#222">0.024083</text>
<text x="52.8" y="185.19" font-size="3.4" stroke="#222" stroke-width="0.07" text-anchor="end" fill="#222">ULBP1</text>
<text x="72.9" y="185.19" font-size="3.4" stroke="#222" stroke-width="0.07" text-anchor="end" fill="#222">IVW</text>
<text x="84.5" y="185.19" font-size="3.4" stroke="#222" stroke-width="0.07" text-anchor="middle" fill="#222">2</text>
<text x="152.8" y="185.19" font-size="3.4" stroke="#222" stroke-width="0.07" text-anchor="end" fill="#222">1.09 (1.04&#8211;1.15)</text>
<text x="164.8" y="185.19" font-size="3.4" stroke="#222" stroke-width="0.07" text-anchor="middle" fill="#222">0.348963</text>
<text x="182.8" y="185.19" font-size="3.4" stroke="#222" stroke-width="0.07" text-anchor="middle" fill="#222">0.045803</text>
<text x="52.8" y="190.5" font-size="3.4" stroke="#222" stroke-width="0.07" text-anchor="end" fill="#222">HMGCR</text>
<text x="72.9" y="190.5" font-size="3.4" stroke="#222" stroke-width="0.07" text-anchor="end" fill="#222">Wald ratio</text>
<text x="84.5" y="190.5" font-size="3.4" stroke="#222" stroke-width="0.07" text-anchor="middle" fill="#222">1</text>
<text x="152.8" y="190.5" font-size="3.4" stroke="#222" stroke-width="0.07" text-anchor="end" fill="#222">2.02 (1.49&#8211;2.74)</text>
<text x="164.8" y="190.5" font-size="3.4" stroke="#222" stroke-width="0.07" text-anchor="middle" fill="#222">0.007007</text>
<text x="182.8" y="190.5" font-size="3.4" stroke="#222" stroke-width="0.07" text-anchor="middle" fill="#222">0.014153</text>
<text x="52.8" y="195.81" font-size="3.4" stroke="#222" stroke-width="0.07" text-anchor="end" fill="#222">PTCH1</text>
<text x="72.9" y="195.81" font-size="3.4" stroke="#222" stroke-width="0.07" text-anchor="end" fill="#222">Wald ratio</text>
<text x="84.5" y="195.81" font-size="3.4" stroke="#222" stroke-width="0.07" text-anchor="middle" fill="#222">1</text>
<text x="152.8" y="195.81" font-size="3.4" stroke="#222" stroke-width="0.07" text-anchor="end" fill="#222">1.39 (1.2&#8211;1.62)</text>
<text x="164.8" y="195.81" font-size="3.4" stroke="#222" stroke-width="0.07" text-anchor="middle" fill="#222">0.004768</text>
<text x="182.8" y="195.81" font-size="3.4" stroke="#222" stroke-width="0.07" text-anchor="middle" fill="#222">0.012453</text>
<text x="52.8" y="201.12" font-size="3.4" stroke="#222" stroke-width="0.07" text-anchor="end" fill="#222">MDK</text>
<text x="72.9" y="201.12" font-size="3.4" stroke="#222" stroke-width="0.07" text-anchor="end" fill="#222">Wald ratio</text>
<text x="84.5" y="201.12" font-size="3.4" stroke="#222" stroke-width="0.07" text-anchor="middle" fill="#222">1</text>
<text x="152.8" y="201.12" font-size="3.4" stroke="#222" stroke-width="0.07" text-anchor="end" fill="#222">1.17 (1.1&#8211;1.25)</text>
<text x="164.8" y="201.12" font-size="3.4" stroke="#222" stroke-width="0.07" text-anchor="middle" fill="#222">0.940511</text>
<text x="182.8" y="201.12" font-size="3.4" stroke="#222" stroke-width="0.07" text-anchor="middle" fill="#222">0.000962</text>
<text x="52.8" y="206.43" font-size="3.4" stroke="#222" stroke-width="0.07" text-anchor="end" fill="#222">NEU1</text>
<text x="72.9" y="206.43" font-size="3.4" stroke="#222" stroke-width="0.07" text-anchor="end" fill="#222">Wald ratio</text>
<text x="84.5" y="206.43" font-size="3.4" stroke="#222" stroke-width="0.07" text-anchor="middle" fill="#222">1</text>
<text x="152.8" y="206.43" font-size="3.4" stroke="#222" stroke-width="0.07" text-anchor="end" fill="#222">0.83 (0.76&#8211;0.91)</text>
<text x="164.8" y="206.43" font-size="3.4" stroke="#222" stroke-width="0.07" text-anchor="middle" fill="#222">0.700776</text>
<text x="182.8" y="206.43" font-size="3.4" stroke="#222" stroke-width="0.07" text-anchor="middle" fill="#222">0.035256</text>
<text x="52.8" y="211.74" font-size="3.4" stroke="#222" stroke-width="0.07" text-anchor="end" fill="#222">SHBG</text>
<text x="72.9" y="211.74" font-size="3.4" stroke="#222" stroke-width="0.07" text-anchor="end" fill="#222">Wald ratio</text>
<text x="84.5" y="211.74" font-size="3.4" stroke="#222" stroke-width="0.07" text-anchor="middle" fill="#222">1</text>
<text x="152.8" y="211.74" font-size="3.4" stroke="#222" stroke-width="0.07" text-anchor="end" fill="#222">1.19 (1.09&#8211;1.31)</text>
<text x="164.8" y="211.74" font-size="3.4" stroke="#222" stroke-width="0.07" text-anchor="middle" fill="#222">0.274658</text>
<text x="182.8" y="211.74" font-size="3.4" stroke="#222" stroke-width="0.07" text-anchor="middle" fill="#222">0.037121</text>
<text x="52.8" y="217.05" font-size="3.4" stroke="#222" stroke-width="0.07" text-anchor="end" fill="#222">TSSK6</text>
<text x="72.9" y="217.05" font-size="3.4" stroke="#222" stroke-width="0.07" text-anchor="end" fill="#222">Wald ratio</text>
<text x="84.5" y="217.05" font-size="3.4" stroke="#222" stroke-width="0.07" text-anchor="middle" fill="#222">1</text>
<text x="152.8" y="217.05" font-size="3.4" stroke="#222" stroke-width="0.07" text-anchor="end" fill="#222">0.87 (0.81&#8211;0.94)</text>
<text x="164.8" y="217.05" font-size="3.4" stroke="#222" stroke-width="0.07" text-anchor="middle" fill="#222">0.175362</text>
<text x="182.8" y="217.05" font-size="3.4" stroke="#222" stroke-width="0.07" text-anchor="middle" fill="#222">0.044392</text>
<text x="52.8" y="222.36" font-size="3.4" stroke="#222" stroke-width="0.07" text-anchor="end" fill="#222">ECM1</text>
<text x="72.9" y="222.36" font-size="3.4" stroke="#222" stroke-width="0.07" text-anchor="end" fill="#222">Wald ratio</text>
<text x="84.5" y="222.36" font-size="3.4" stroke="#222" stroke-width="0.07" text-anchor="middle" fill="#222">1</text>
<text x="152.8" y="222.36" font-size="3.4" stroke="#222" stroke-width="0.07" text-anchor="end" fill="#222">1.1 (1.04&#8211;1.16)</text>
<text x="164.8" y="222.36" font-size="3.4" stroke="#222" stroke-width="0.07" text-anchor="middle" fill="#222">0.133563</text>
<text x="182.8" y="222.36" font-size="3.4" stroke="#222" stroke-width="0.07" text-anchor="middle" fill="#222">0.046356</text>
<text x="52.8" y="227.67" font-size="3.4" stroke="#222" stroke-width="0.07" text-anchor="end" fill="#222">TUBG2*</text>
<text x="72.9" y="227.67" font-size="3.4" stroke="#222" stroke-width="0.07" text-anchor="end" fill="#222">Wald ratio</text>
<text x="84.5" y="227.67" font-size="3.4" stroke="#222" stroke-width="0.07" text-anchor="middle" fill="#222">1</text>
<text x="152.8" y="227.67" font-size="3.4" stroke="#222" stroke-width="0.07" text-anchor="end" fill="#222">1.09 (1.04&#8211;1.15)</text>
<text x="164.8" y="227.67" font-size="3.4" stroke="#222" stroke-width="0.07" text-anchor="middle" fill="#222">0.214806</text>
<text x="182.8" y="227.67" font-size="3.4" stroke="#222" stroke-width="0.07" text-anchor="middle" fill="#222">0.049215</text>
<text x="52.8" y="232.98" font-size="3.4" stroke="#222" stroke-width="0.07" text-anchor="end" fill="#222">TUBG2**</text>
<text x="72.9" y="232.98" font-size="3.4" stroke="#222" stroke-width="0.07" text-anchor="end" fill="#222">Wald ratio</text>
<text x="84.5" y="232.98" font-size="3.4" stroke="#222" stroke-width="0.07" text-anchor="middle" fill="#222">1</text>
<text x="152.8" y="232.98" font-size="3.4" stroke="#222" stroke-width="0.07" text-anchor="end" fill="#222">1.08 (1.04&#8211;1.12)</text>
<text x="164.8" y="232.98" font-size="3.4" stroke="#222" stroke-width="0.07" text-anchor="middle" fill="#222">0.206045</text>
<text x="182.8" y="232.98" font-size="3.4" stroke="#222" stroke-width="0.07" text-anchor="middle" fill="#222">0.042309</text>
<text x="52.8" y="238.29" font-size="3.4" stroke="#222" stroke-width="0.07" text-anchor="end" fill="#222">TUBG2***</text>
<text x="72.9" y="238.29" font-size="3.4" stroke="#222" stroke-width="0.07" text-anchor="end" fill="#222">Wald ratio</text>
<text x="84.5" y="238.29" font-size="3.4" stroke="#222" stroke-width="0.07" text-anchor="middle" fill="#222">1</text>
<text x="152.8" y="238.29" font-size="3.4" stroke="#222" stroke-width="0.07" text-anchor="end" fill="#222">1.08 (1.04&#8211;1.12)</text>
<text x="164.8" y="238.29" font-size="3.4" stroke="#222" stroke-width="0.07" text-anchor="middle" fill="#222">0.203161</text>
<text x="182.8" y="238.29" font-size="3.4" stroke="#222" stroke-width="0.07" text-anchor="middle" fill="#222">0.026487</text>
<text x="52.8" y="243.6" font-size="3.4" stroke="#222" stroke-width="0.07" text-anchor="end" fill="#222">HSD17B1</text>
<text x="72.9" y="243.6" font-size="3.4" stroke="#222" stroke-width="0.07" text-anchor="end" fill="#222">Wald ratio</text>
<text x="84.5" y="243.6" font-size="3.4" stroke="#222" stroke-width="0.07" text-anchor="middle" fill="#222">1</text>
<text x="152.8" y="243.6" font-size="3.4" stroke="#222" stroke-width="0.07" text-anchor="end" fill="#222">1.08 (1.03&#8211;1.13)</text>
<text x="164.8" y="243.6" font-size="3.4" stroke="#222" stroke-width="0.07" text-anchor="middle" fill="#222">0.127227</text>
<text x="182.8" y="243.6" font-size="3.4" stroke="#222" stroke-width="0.07" text-anchor="middle" fill="#222">0.049989</text>
<text x="52.8" y="248.91" font-size="3.4" stroke="#222" stroke-width="0.07" text-anchor="end" fill="#222">HMBS</text>
<text x="72.9" y="248.91" font-size="3.4" stroke="#222" stroke-width="0.07" text-anchor="end" fill="#222">Wald ratio</text>
<text x="84.5" y="248.91" font-size="3.4" stroke="#222" stroke-width="0.07" text-anchor="middle" fill="#222">1</text>
<text x="152.8" y="248.91" font-size="3.4" stroke="#222" stroke-width="0.07" text-anchor="end" fill="#222">0.91 (0.87&#8211;0.96)</text>
<text x="164.8" y="248.91" font-size="3.4" stroke="#222" stroke-width="0.07" text-anchor="middle" fill="#222">0.049373</text>
<text x="182.8" y="248.91" font-size="3.4" stroke="#222" stroke-width="0.07" text-anchor="middle" fill="#222">0.029092</text>
<text x="52.8" y="254.22" font-size="3.4" stroke="#222" stroke-width="0.07" text-anchor="end" fill="#222">BAG6</text>
<text x="72.9" y="254.22" font-size="3.4" stroke="#222" stroke-width="0.07" text-anchor="end" fill="#222">Wald ratio</text>
<text x="84.5" y="254.22" font-size="3.4" stroke="#222" stroke-width="0.07" text-anchor="middle" fill="#222">1</text>
<text x="152.8" y="254.22" font-size="3.4" stroke="#222" stroke-width="0.07" text-anchor="end" fill="#222">1.07 (1.03&#8211;1.11)</text>
<text x="164.8" y="254.22" font-size="3.4" stroke="#222" stroke-width="0.07" text-anchor="middle" fill="#222">0.004291</text>
<text x="182.8" y="254.22" font-size="3.4" stroke="#222" stroke-width="0.07" text-anchor="middle" fill="#222">0.043098</text>
</g>
<line x1="93.63" y1="152.1" x2="96.25" y2="152.1" stroke="#111" stroke-width="0.4"/>
<rect x="94.28" y="151.5" width="1.2" height="1.2" fill="#111"/>
<line x1="94.08" y1="157.41" x2="96.7" y2="157.41" stroke="#111" stroke-width="0.4"/>
<rect x="94.62" y="156.81" width="1.2" height="1.2" fill="#111"/>
<line x1="91.46" y1="162.72" x2="95.34" y2="162.72" stroke="#111" stroke-width="0.4"/>
<rect x="92.46" y="162.12" width="1.2" height="1.2" fill="#111"/>
<line x1="94.65" y1="168.03" x2="97.05" y2="168.03" stroke="#111" stroke-width="0.4"/>
<rect x="95.31" y="167.44" width="1.2" height="1.2" fill="#111"/>
<line x1="103.2" y1="173.34" x2="119.73" y2="173.34" stroke="#111" stroke-width="0.4"/>
<rect x="109.44" y="172.75" width="1.2" height="1.2" fill="#111"/>
<line x1="90.89" y1="178.65" x2="94.77" y2="178.65" stroke="#111" stroke-width="0.4"/>
<rect x="91.89" y="178.05" width="1.2" height="1.2" fill="#111"/>
<line x1="98.76" y1="183.96" x2="100.01" y2="183.96" stroke="#111" stroke-width="0.4"/>
<rect x="98.73" y="183.36" width="1.2" height="1.2" fill="#111"/>
<line x1="103.89" y1="189.27" x2="118.14" y2="189.27" stroke="#111" stroke-width="0.4"/>
<rect x="109.33" y="188.67" width="1.2" height="1.2" fill="#111"/>
<line x1="100.58" y1="194.58" x2="105.37" y2="194.58" stroke="#111" stroke-width="0.4"/>
<rect x="102.15" y="193.98" width="1.2" height="1.2" fill="#111"/>
<line x1="99.44" y1="199.89" x2="101.15" y2="199.89" stroke="#111" stroke-width="0.4"/>
<rect x="99.64" y="199.29" width="1.2" height="1.2" fill="#111"/>
<line x1="95.56" y1="205.2" x2="97.27" y2="205.2" stroke="#111" stroke-width="0.4"/>
<rect x="95.76" y="204.6" width="1.2" height="1.2" fill="#111"/>
<line x1="99.33" y1="210.51" x2="101.83" y2="210.51" stroke="#111" stroke-width="0.4"/>
<rect x="99.87" y="209.91" width="1.2" height="1.2" fill="#111"/>
<line x1="96.13" y1="215.82" x2="97.62" y2="215.82" stroke="#111" stroke-width="0.4"/>
<rect x="96.22" y="215.22" width="1.2" height="1.2" fill="#111"/>
<line x1="98.76" y1="221.13" x2="100.12" y2="221.13" stroke="#111" stroke-width="0.4"/>
<rect x="98.84" y="220.53" width="1.2" height="1.2" fill="#111"/>
<line x1="98.76" y1="226.44" x2="100.01" y2="226.44" stroke="#111" stroke-width="0.4"/>
<rect x="98.73" y="225.84" width="1.2" height="1.2" fill="#111"/>
<line x1="98.76" y1="231.75" x2="99.67" y2="231.75" stroke="#111" stroke-width="0.4"/>
<rect x="98.61" y="231.16" width="1.2" height="1.2" fill="#111"/>
<line x1="98.76" y1="237.06" x2="99.67" y2="237.06" stroke="#111" stroke-width="0.4"/>
<rect x="98.61" y="236.47" width="1.2" height="1.2" fill="#111"/>
<line x1="98.64" y1="242.38" x2="99.78" y2="242.38" stroke="#111" stroke-width="0.4"/>
<rect x="98.61" y="241.78" width="1.2" height="1.2" fill="#111"/>
<line x1="96.82" y1="247.69" x2="97.84" y2="247.69" stroke="#111" stroke-width="0.4"/>
<rect x="96.67" y="247.09" width="1.2" height="1.2" fill="#111"/>
<line x1="98.64" y1="252.99" x2="99.55" y2="252.99" stroke="#111" stroke-width="0.4"/>
<rect x="98.5" y="252.39" width="1.2" height="1.2" fill="#111"/>
<line x1="86.4" y1="255.4" x2="127" y2="255.4" stroke="#333" stroke-width="0.4"/>
<line x1="92.6" y1="255.4" x2="92.6" y2="256.5" stroke="#333" stroke-width="0.4"/>
<text x="92.6" y="260.62" font-size="3.4" stroke="#222" stroke-width="0.08" text-anchor="middle" fill="#222">0.5</text>
<line x1="98.3" y1="255.4" x2="98.3" y2="256.5" stroke="#333" stroke-width="0.4"/>
<text x="98.3" y="260.62" font-size="3.4" stroke="#222" stroke-width="0.08" text-anchor="middle" fill="#222">1</text>
<line x1="109.7" y1="255.4" x2="109.7" y2="256.5" stroke="#333" stroke-width="0.4"/>
<text x="109.7" y="260.62" font-size="3.4" stroke="#222" stroke-width="0.08" text-anchor="middle" fill="#222">2</text>
<line x1="121.1" y1="255.4" x2="121.1" y2="256.5" stroke="#333" stroke-width="0.4"/>
<text x="121.1" y="260.62" font-size="3.4" stroke="#222" stroke-width="0.08" text-anchor="middle" fill="#222">3</text>
<line x1="87.6" y1="264.3" x2="96.9" y2="264.3" stroke="#333" stroke-width="0.4"/>
<path d="M86.6 264.3L88.2 263.7L88.2 264.9Z" fill="#333"/>
<line x1="99.1" y1="264.3" x2="126" y2="264.3" stroke="#333" stroke-width="0.4"/>
<path d="M127.2 264.3L125.6 263.7L125.6 264.9Z" fill="#333"/>
<text x="90.5" y="268.92" font-size="3.4" stroke="#222" stroke-width="0.08" text-anchor="middle" fill="#222">Low risk</text>
<text x="106.4" y="268.92" font-size="3.4" stroke="#222" stroke-width="0.08" text-anchor="middle" fill="#222">High Risk</text>
<rect x="25.2" y="281.9" width="166.9" height="107.1" fill="#c5c3e3"/>
<g font-weight="bold">
<text x="40.8" y="280.31" font-size="3.35" stroke="#111" stroke-width="0.1" text-anchor="middle" fill="#111">Druggable gene</text>
<text x="65.2" y="280.31" font-size="3.35" stroke="#111" stroke-width="0.1" text-anchor="middle" fill="#111">method</text>
<text x="80.6" y="280.31" font-size="3.35" stroke="#111" stroke-width="0.1" text-anchor="middle" fill="#111">nsnp</text>
<text x="141.4" y="280.31" font-size="3.35" stroke="#111" stroke-width="0.1" text-anchor="middle" fill="#111">OR (95%CI)</text>
<text x="164.6" y="280.31" font-size="3.35" stroke="#111" stroke-width="0.1" text-anchor="middle" fill="#111">PPH4</text>
<text x="182.4" y="280.31" font-size="3.35" stroke="#111" stroke-width="0.1" text-anchor="middle" fill="#111">FDR</text>
</g>
<line x1="98.1" y1="281.9" x2="98.1" y2="389.5" stroke="#e0788a" stroke-width="0.5" stroke-dasharray="0.9 0.7"/>
<g fill="#222">
<text x="52.3" y="286" font-size="3.4" stroke="#222" stroke-width="0.07" text-anchor="end" fill="#222">NR1D1</text>
<text x="72.5" y="286" font-size="3.4" stroke="#222" stroke-width="0.07" text-anchor="end" fill="#222">IVW</text>
<text x="84.2" y="286" font-size="3.4" stroke="#222" stroke-width="0.07" text-anchor="middle" fill="#222">2</text>
<text x="153.2" y="286" font-size="3.4" stroke="#222" stroke-width="0.07" text-anchor="end" fill="#222">1.19 (1.11&#8211;1.28)</text>
<text x="165.2" y="286" font-size="3.4" stroke="#222" stroke-width="0.07" text-anchor="middle" fill="#222">0.882404</text>
<text x="183.5" y="286" font-size="3.4" stroke="#222" stroke-width="0.07" text-anchor="middle" fill="#222">0.002626</text>
<text x="52.3" y="291.36" font-size="3.4" stroke="#222" stroke-width="0.07" text-anchor="end" fill="#222">THRA</text>
<text x="72.5" y="291.36" font-size="3.4" stroke="#222" stroke-width="0.07" text-anchor="end" fill="#222">IVW</text>
<text x="84.2" y="291.36" font-size="3.4" stroke="#222" stroke-width="0.07" text-anchor="middle" fill="#222">4</text>
<text x="153.2" y="291.36" font-size="3.4" stroke="#222" stroke-width="0.07" text-anchor="end" fill="#222">1.11 (1.05&#8211;1.18)</text>
<text x="165.2" y="291.36" font-size="3.4" stroke="#222" stroke-width="0.07" text-anchor="middle" fill="#222">0.981458</text>
<text x="183.5" y="291.36" font-size="3.4" stroke="#222" stroke-width="0.07" text-anchor="middle" fill="#222">0.025497</text>
<text x="52.3" y="296.71" font-size="3.4" stroke="#222" stroke-width="0.07" text-anchor="end" fill="#222">TGFB1</text>
<text x="72.5" y="296.71" font-size="3.4" stroke="#222" stroke-width="0.07" text-anchor="end" fill="#222">Wald ratio</text>
<text x="84.2" y="296.71" font-size="3.4" stroke="#222" stroke-width="0.07" text-anchor="middle" fill="#222">1</text>
<text x="153.2" y="296.71" font-size="3.4" stroke="#222" stroke-width="0.07" text-anchor="end" fill="#222">3.15 (2.19&#8211;4.53)</text>
<text x="165.2" y="296.71" font-size="3.4" stroke="#222" stroke-width="0.07" text-anchor="middle" fill="#222">0.873980</text>
<text x="183.5" y="296.71" font-size="3.4" stroke="#222" stroke-width="0.07" text-anchor="middle" fill="#222">0.000002</text>
<text x="52.3" y="302.07" font-size="3.4" stroke="#222" stroke-width="0.07" text-anchor="end" fill="#222">HMGCR</text>
<text x="72.5" y="302.07" font-size="3.4" stroke="#222" stroke-width="0.07" text-anchor="end" fill="#222">Wald ratio</text>
<text x="84.2" y="302.07" font-size="3.4" stroke="#222" stroke-width="0.07" text-anchor="middle" fill="#222">1</text>
<text x="153.2" y="302.07" font-size="3.4" stroke="#222" stroke-width="0.07" text-anchor="end" fill="#222">1.37 (1.21&#8211;1.55)</text>
<text x="165.2" y="302.07" font-size="3.4" stroke="#222" stroke-width="0.07" text-anchor="middle" fill="#222">0.885212</text>
<text x="183.5" y="302.07" font-size="3.4" stroke="#222" stroke-width="0.07" text-anchor="middle" fill="#222">0.001356</text>
<text x="52.3" y="307.42" font-size="3.4" stroke="#222" stroke-width="0.07" text-anchor="end" fill="#222">PLXNB1</text>
<text x="72.5" y="307.42" font-size="3.4" stroke="#222" stroke-width="0.07" text-anchor="end" fill="#222">Wald ratio</text>
<text x="84.2" y="307.42" font-size="3.4" stroke="#222" stroke-width="0.07" text-anchor="middle" fill="#222">1</text>
<text x="153.2" y="307.42" font-size="3.4" stroke="#222" stroke-width="0.07" text-anchor="end" fill="#222">0.57 (0.44&#8211;0.72)</text>
<text x="165.2" y="307.42" font-size="3.4" stroke="#222" stroke-width="0.07" text-anchor="middle" fill="#222">0.879602</text>
<text x="183.5" y="307.42" font-size="3.4" stroke="#222" stroke-width="0.07" text-anchor="middle" fill="#222">0.003888</text>
<text x="52.3" y="312.78" font-size="3.4" stroke="#222" stroke-width="0.07" text-anchor="end" fill="#222">DDIT4</text>
<text x="72.5" y="312.78" font-size="3.4" stroke="#222" stroke-width="0.07" text-anchor="end" fill="#222">Wald ratio</text>
<text x="84.2" y="312.78" font-size="3.4" stroke="#222" stroke-width="0.07" text-anchor="middle" fill="#222">1</text>
<text x="153.2" y="312.78" font-size="3.4" stroke="#222" stroke-width="0.07" text-anchor="end" fill="#222">0.64 (0.52&#8211;0.78)</text>
<text x="165.2" y="312.78" font-size="3.4" stroke="#222" stroke-width="0.07" text-anchor="middle" fill="#222">0.821575</text>
<text x="183.5" y="312.78" font-size="3.4" stroke="#222" stroke-width="0.07" text-anchor="middle" fill="#222">0.010736</text>
<text x="52.3" y="318.13" font-size="3.4" stroke="#222" stroke-width="0.07" text-anchor="end" fill="#222">TGFB3</text>
<text x="72.5" y="318.13" font-size="3.4" stroke="#222" stroke-width="0.07" text-anchor="end" fill="#222">IVW</text>
<text x="84.2" y="318.13" font-size="3.4" stroke="#222" stroke-width="0.07" text-anchor="middle" fill="#222">3</text>
<text x="153.2" y="318.13" font-size="3.4" stroke="#222" stroke-width="0.07" text-anchor="end" fill="#222">0.88 (0.83&#8211;0.94)</text>
<text x="165.2" y="318.13" font-size="3.4" stroke="#222" stroke-width="0.07" text-anchor="middle" fill="#222">0.779719</text>
<text x="183.5" y="318.13" font-size="3.4" stroke="#222" stroke-width="0.07" text-anchor="middle" fill="#222">0.022005</text>
<text x="52.3" y="323.49" font-size="3.4" stroke="#222" stroke-width="0.07" text-anchor="end" fill="#222">CHD4</text>
<text x="72.5" y="323.49" font-size="3.4" stroke="#222" stroke-width="0.07" text-anchor="end" fill="#222">IVW</text>
<text x="84.2" y="323.49" font-size="3.4" stroke="#222" stroke-width="0.07" text-anchor="middle" fill="#222">2</text>
<text x="153.2" y="323.49" font-size="3.4" stroke="#222" stroke-width="0.07" text-anchor="end" fill="#222">1.28 (1.13&#8211;1.45)</text>
<text x="165.2" y="323.49" font-size="3.4" stroke="#222" stroke-width="0.07" text-anchor="middle" fill="#222">0.718098</text>
<text x="183.5" y="323.49" font-size="3.4" stroke="#222" stroke-width="0.07" text-anchor="middle" fill="#222">0.020944</text>
<text x="52.3" y="328.84" font-size="3.4" stroke="#222" stroke-width="0.07" text-anchor="end" fill="#222">KCNK5</text>
<text x="72.5" y="328.84" font-size="3.4" stroke="#222" stroke-width="0.07" text-anchor="end" fill="#222">IVW</text>
<text x="84.2" y="328.84" font-size="3.4" stroke="#222" stroke-width="0.07" text-anchor="middle" fill="#222">2</text>
<text x="153.2" y="328.84" font-size="3.4" stroke="#222" stroke-width="0.07" text-anchor="end" fill="#222">1.78 (1.37&#8211;2.31)</text>
<text x="165.2" y="328.84" font-size="3.4" stroke="#222" stroke-width="0.07" text-anchor="middle" fill="#222">0.698431</text>
<text x="183.5" y="328.84" font-size="3.4" stroke="#222" stroke-width="0.07" text-anchor="middle" fill="#222">0.008768</text>
<text x="52.3" y="334.2" font-size="3.4" stroke="#222" stroke-width="0.07" text-anchor="end" fill="#222">HVCN1</text>
<text x="72.5" y="334.2" font-size="3.4" stroke="#222" stroke-width="0.07" text-anchor="end" fill="#222">Wald ratio</text>
<text x="84.2" y="334.2" font-size="3.4" stroke="#222" stroke-width="0.07" text-anchor="middle" fill="#222">1</text>
<text x="153.2" y="334.2" font-size="3.4" stroke="#222" stroke-width="0.07" text-anchor="end" fill="#222">1.22 (1.11&#8211;1.34)</text>
<text x="165.2" y="334.2" font-size="3.4" stroke="#222" stroke-width="0.07" text-anchor="middle" fill="#222">0.672971</text>
<text x="183.5" y="334.2" font-size="3.4" stroke="#222" stroke-width="0.07" text-anchor="middle" fill="#222">0.026327</text>
<text x="52.3" y="339.55" font-size="3.4" stroke="#222" stroke-width="0.07" text-anchor="end" fill="#222">CDK4</text>
<text x="72.5" y="339.55" font-size="3.4" stroke="#222" stroke-width="0.07" text-anchor="end" fill="#222">Wald ratio</text>
<text x="84.2" y="339.55" font-size="3.4" stroke="#222" stroke-width="0.07" text-anchor="middle" fill="#222">1</text>
<text x="153.2" y="339.55" font-size="3.4" stroke="#222" stroke-width="0.07" text-anchor="end" fill="#222">1.58 (1.23&#8211;1.98)</text>
<text x="165.2" y="339.55" font-size="3.4" stroke="#222" stroke-width="0.07" text-anchor="middle" fill="#222">0.518872</text>
<text x="183.5" y="339.55" font-size="3.4" stroke="#222" stroke-width="0.07" text-anchor="middle" fill="#222">0.046008</text>
<text x="52.3" y="344.91" font-size="3.4" stroke="#222" stroke-width="0.07" text-anchor="end" fill="#222">TLN1</text>
<text x="72.5" y="344.91" font-size="3.4" stroke="#222" stroke-width="0.07" text-anchor="end" fill="#222">Wald ratio</text>
<text x="84.2" y="344.91" font-size="3.4" stroke="#222" stroke-width="0.07" text-anchor="middle" fill="#222">1</text>
<text x="153.2" y="344.91" font-size="3.4" stroke="#222" stroke-width="0.07" text-anchor="end" fill="#222">1.93 (1.36&#8211;2.74)</text>
<text x="165.2" y="344.91" font-size="3.4" stroke="#222" stroke-width="0.07" text-anchor="middle" fill="#222">0.587640</text>
<text x="183.5" y="344.91" font-size="3.4" stroke="#222" stroke-width="0.07" text-anchor="middle" fill="#222">0.048231</text>
<text x="52.3" y="350.26" font-size="3.4" stroke="#222" stroke-width="0.07" text-anchor="end" fill="#222">LPAR5</text>
<text x="72.5" y="350.26" font-size="3.4" stroke="#222" stroke-width="0.07" text-anchor="end" fill="#222">IVW</text>
<text x="84.2" y="350.26" font-size="3.4" stroke="#222" stroke-width="0.07" text-anchor="middle" fill="#222">10</text>
<text x="153.2" y="350.26" font-size="3.4" stroke="#222" stroke-width="0.07" text-anchor="end" fill="#222">1.1 (1.05&#8211;1.16)</text>
<text x="165.2" y="350.26" font-size="3.4" stroke="#222" stroke-width="0.07" text-anchor="middle" fill="#222">0.414085</text>
<text x="183.5" y="350.26" font-size="3.4" stroke="#222" stroke-width="0.07" text-anchor="middle" fill="#222">0.013849</text>
<text x="52.3" y="355.62" font-size="3.4" stroke="#222" stroke-width="0.07" text-anchor="end" fill="#222">LTB4R2</text>
<text x="72.5" y="355.62" font-size="3.4" stroke="#222" stroke-width="0.07" text-anchor="end" fill="#222">Wald ratio</text>
<text x="84.2" y="355.62" font-size="3.4" stroke="#222" stroke-width="0.07" text-anchor="middle" fill="#222">1</text>
<text x="153.2" y="355.62" font-size="3.4" stroke="#222" stroke-width="0.07" text-anchor="end" fill="#222">0.58 (0.42&#8211;0.76)</text>
<text x="165.2" y="355.62" font-size="3.4" stroke="#222" stroke-width="0.07" text-anchor="middle" fill="#222">0.350082</text>
<text x="183.5" y="355.62" font-size="3.4" stroke="#222" stroke-width="0.07" text-anchor="middle" fill="#222">0.042223</text>
<text x="52.3" y="360.97" font-size="3.4" stroke="#222" stroke-width="0.07" text-anchor="end" fill="#222">EPHA10</text>
<text x="72.5" y="360.97" font-size="3.4" stroke="#222" stroke-width="0.07" text-anchor="end" fill="#222">Wald ratio</text>
<text x="84.2" y="360.97" font-size="3.4" stroke="#222" stroke-width="0.07" text-anchor="middle" fill="#222">1</text>
<text x="153.2" y="360.97" font-size="3.4" stroke="#222" stroke-width="0.07" text-anchor="end" fill="#222">0.52 (0.38&#8211;0.72)</text>
<text x="165.2" y="360.97" font-size="3.4" stroke="#222" stroke-width="0.07" text-anchor="middle" fill="#222">0.268906</text>
<text x="183.5" y="360.97" font-size="3.4" stroke="#222" stroke-width="0.07" text-anchor="middle" fill="#222">0.024080</text>
<text x="52.3" y="366.33" font-size="3.4" stroke="#222" stroke-width="0.07" text-anchor="end" fill="#222">TRIT1</text>
<text x="72.5" y="366.33" font-size="3.4" stroke="#222" stroke-width="0.07" text-anchor="end" fill="#222">IVW</text>
<text x="84.2" y="366.33" font-size="3.4" stroke="#222" stroke-width="0.07" text-anchor="middle" fill="#222">10</text>
<text x="153.2" y="366.33" font-size="3.4" stroke="#222" stroke-width="0.07" text-anchor="end" fill="#222">1.09 (1.04&#8211;1.13)</text>
<text x="165.2" y="366.33" font-size="3.4" stroke="#222" stroke-width="0.07" text-anchor="middle" fill="#222">0.125429</text>
<text x="183.5" y="366.33" font-size="3.4" stroke="#222" stroke-width="0.07" text-anchor="middle" fill="#222">0.043715</text>
<text x="52.3" y="371.68" font-size="3.4" stroke="#222" stroke-width="0.07" text-anchor="end" fill="#222">HSPA4</text>
<text x="72.5" y="371.68" font-size="3.4" stroke="#222" stroke-width="0.07" text-anchor="end" fill="#222">IVW</text>
<text x="84.2" y="371.68" font-size="3.4" stroke="#222" stroke-width="0.07" text-anchor="middle" fill="#222">10</text>
<text x="153.2" y="371.68" font-size="3.4" stroke="#222" stroke-width="0.07" text-anchor="end" fill="#222">1.1 (1.05&#8211;1.15)</text>
<text x="165.2" y="371.68" font-size="3.4" stroke="#222" stroke-width="0.07" text-anchor="middle" fill="#222">0.090598</text>
<text x="183.5" y="371.68" font-size="3.4" stroke="#222" stroke-width="0.07" text-anchor="middle" fill="#222">0.030192</text>
<text x="52.3" y="377.04" font-size="3.4" stroke="#222" stroke-width="0.07" text-anchor="end" fill="#222">TNFSF13</text>
<text x="72.5" y="377.04" font-size="3.4" stroke="#222" stroke-width="0.07" text-anchor="end" fill="#222">IVW</text>
<text x="84.2" y="377.04" font-size="3.4" stroke="#222" stroke-width="0.07" text-anchor="middle" fill="#222">6</text>
<text x="153.2" y="377.04" font-size="3.4" stroke="#222" stroke-width="0.07" text-anchor="end" fill="#222">1.08 (1.04&#8211;1.12)</text>
<text x="165.2" y="377.04" font-size="3.4" stroke="#222" stroke-width="0.07" text-anchor="middle" fill="#222">0.058055</text>
<text x="183.5" y="377.04" font-size="3.4" stroke="#222" stroke-width="0.07" text-anchor="middle" fill="#222">0.027312</text>
<text x="52.3" y="382.39" font-size="3.4" stroke="#222" stroke-width="0.07" text-anchor="end" fill="#222">MMRN1</text>
<text x="72.5" y="382.39" font-size="3.4" stroke="#222" stroke-width="0.07" text-anchor="end" fill="#222">IVW</text>
<text x="84.2" y="382.39" font-size="3.4" stroke="#222" stroke-width="0.07" text-anchor="middle" fill="#222">3</text>
<text x="153.2" y="382.39" font-size="3.4" stroke="#222" stroke-width="0.07" text-anchor="end" fill="#222">0.81 (0.73&#8211;0.89)</text>
<text x="165.2" y="382.39" font-size="3.4" stroke="#222" stroke-width="0.07" text-anchor="middle" fill="#222">0.048869</text>
<text x="183.5" y="382.39" font-size="3.4" stroke="#222" stroke-width="0.07" text-anchor="middle" fill="#222">0.012522</text>
<text x="52.3" y="387.75" font-size="3.4" stroke="#222" stroke-width="0.07" text-anchor="end" fill="#222">HSPA1B</text>
<text x="72.5" y="387.75" font-size="3.4" stroke="#222" stroke-width="0.07" text-anchor="end" fill="#222">IVW</text>
<text x="84.2" y="387.75" font-size="3.4" stroke="#222" stroke-width="0.07" text-anchor="middle" fill="#222">3</text>
<text x="153.2" y="387.75" font-size="3.4" stroke="#222" stroke-width="0.07" text-anchor="end" fill="#222">1.13 (1.06&#8211;1.2)</text>
<text x="165.2" y="387.75" font-size="3.4" stroke="#222" stroke-width="0.07" text-anchor="middle" fill="#222">0.017050</text>
<text x="183.5" y="387.75" font-size="3.4" stroke="#222" stroke-width="0.07" text-anchor="middle" fill="#222">0.034914</text>
</g>
<line x1="99.34" y1="284.78" x2="101.26" y2="284.78" stroke="#111" stroke-width="0.4"/>
<rect x="99.65" y="284.18" width="1.2" height="1.2" fill="#111"/>
<line x1="98.66" y1="290.13" x2="100.13" y2="290.13" stroke="#111" stroke-width="0.4"/>
<rect x="98.74" y="289.53" width="1.2" height="1.2" fill="#111"/>
<line x1="111.55" y1="295.49" x2="126.6" y2="295.49" stroke="#111" stroke-width="0.4"/>
<path d="M127.4 295.49L126 294.79L126 296.19Z" fill="#111"/>
<rect x="121.8" y="294.89" width="1.2" height="1.2" fill="#111"/>
<line x1="100.47" y1="300.84" x2="104.31" y2="300.84" stroke="#111" stroke-width="0.4"/>
<rect x="101.68" y="300.24" width="1.2" height="1.2" fill="#111"/>
<line x1="91.77" y1="306.2" x2="94.94" y2="306.2" stroke="#111" stroke-width="0.4"/>
<rect x="92.64" y="305.6" width="1.2" height="1.2" fill="#111"/>
<line x1="92.68" y1="311.55" x2="95.61" y2="311.55" stroke="#111" stroke-width="0.4"/>
<rect x="93.43" y="310.95" width="1.2" height="1.2" fill="#111"/>
<line x1="96.18" y1="316.91" x2="97.42" y2="316.91" stroke="#111" stroke-width="0.4"/>
<rect x="96.14" y="316.31" width="1.2" height="1.2" fill="#111"/>
<line x1="99.57" y1="322.26" x2="103.18" y2="322.26" stroke="#111" stroke-width="0.4"/>
<rect x="100.66" y="321.66" width="1.2" height="1.2" fill="#111"/>
<line x1="102.28" y1="327.62" x2="112.9" y2="327.62" stroke="#111" stroke-width="0.4"/>
<rect x="106.31" y="327.02" width="1.2" height="1.2" fill="#111"/>
<line x1="99.34" y1="332.97" x2="101.94" y2="332.97" stroke="#111" stroke-width="0.4"/>
<rect x="99.99" y="332.37" width="1.2" height="1.2" fill="#111"/>
<line x1="100.7" y1="338.33" x2="109.17" y2="338.33" stroke="#111" stroke-width="0.4"/>
<rect x="104.05" y="337.73" width="1.2" height="1.2" fill="#111"/>
<line x1="102.17" y1="343.68" x2="117.76" y2="343.68" stroke="#111" stroke-width="0.4"/>
<rect x="108.01" y="343.08" width="1.2" height="1.2" fill="#111"/>
<line x1="98.66" y1="349.04" x2="99.91" y2="349.04" stroke="#111" stroke-width="0.4"/>
<rect x="98.63" y="348.44" width="1.2" height="1.2" fill="#111"/>
<line x1="91.55" y1="354.39" x2="95.39" y2="354.39" stroke="#111" stroke-width="0.4"/>
<rect x="92.75" y="353.79" width="1.2" height="1.2" fill="#111"/>
<line x1="91.09" y1="359.75" x2="94.94" y2="359.75" stroke="#111" stroke-width="0.4"/>
<rect x="92.08" y="359.15" width="1.2" height="1.2" fill="#111"/>
<line x1="98.55" y1="365.1" x2="99.57" y2="365.1" stroke="#111" stroke-width="0.4"/>
<rect x="98.52" y="364.5" width="1.2" height="1.2" fill="#111"/>
<line x1="98.66" y1="370.46" x2="99.79" y2="370.46" stroke="#111" stroke-width="0.4"/>
<rect x="98.63" y="369.86" width="1.2" height="1.2" fill="#111"/>
<line x1="98.55" y1="375.81" x2="99.46" y2="375.81" stroke="#111" stroke-width="0.4"/>
<rect x="98.4" y="375.21" width="1.2" height="1.2" fill="#111"/>
<line x1="95.05" y1="381.17" x2="96.86" y2="381.17" stroke="#111" stroke-width="0.4"/>
<rect x="95.35" y="380.57" width="1.2" height="1.2" fill="#111"/>
<line x1="98.78" y1="386.52" x2="100.36" y2="386.52" stroke="#111" stroke-width="0.4"/>
<rect x="98.97" y="385.92" width="1.2" height="1.2" fill="#111"/>
<line x1="86.4" y1="389.5" x2="127" y2="389.5" stroke="#333" stroke-width="0.4"/>
<line x1="92.45" y1="389.5" x2="92.45" y2="390.6" stroke="#333" stroke-width="0.4"/>
<text x="92.45" y="394.72" font-size="3.4" stroke="#222" stroke-width="0.08" text-anchor="middle" fill="#222">0.5</text>
<line x1="98.1" y1="389.5" x2="98.1" y2="390.6" stroke="#333" stroke-width="0.4"/>
<text x="98.1" y="394.72" font-size="3.4" stroke="#222" stroke-width="0.08" text-anchor="middle" fill="#222">1</text>
<line x1="109.4" y1="389.5" x2="109.4" y2="390.6" stroke="#333" stroke-width="0.4"/>
<text x="109.4" y="394.72" font-size="3.4" stroke="#222" stroke-width="0.08" text-anchor="middle" fill="#222">2</text>
<line x1="120.7" y1="389.5" x2="120.7" y2="390.6" stroke="#333" stroke-width="0.4"/>
<text x="120.7" y="394.72" font-size="3.4" stroke="#222" stroke-width="0.08" text-anchor="middle" fill="#222">3</text>
<line x1="87.6" y1="398.4" x2="96.9" y2="398.4" stroke="#333" stroke-width="0.4"/>
<path d="M86.6 398.4L88.2 397.8L88.2 399Z" fill="#333"/>
<line x1="99.1" y1="398.4" x2="126" y2="398.4" stroke="#333" stroke-width="0.4"/>
<path d="M127.2 398.4L125.6 397.8L125.6 399Z" fill="#333"/>
<text x="90.5" y="403.02" font-size="3.4" stroke="#222" stroke-width="0.08" text-anchor="middle" fill="#222">Low risk</text>
<text x="106.4" y="403.02" font-size="3.4" stroke="#222" stroke-width="0.08" text-anchor="middle" fill="#222">High Risk</text>
<clipPath id="cp0"><path d="M248.3 158 A3.8 3.8 0 0 1 255.9 158 L255.9 266.1 A3.8 1.8 0 0 1 248.3 266.1 Z M248.3 268.5 A3.8 1.8 0 0 1 255.9 268.5 L255.9 379.5 A3.8 3.8 0 0 1 248.3 379.5 Z"/></clipPath>
<g clip-path="url(#cp0)">
<rect x="248.3" y="154.2" width="7.6" height="229.1" fill="#fff"/>
<rect x="248.3" y="154.2" width="7.6" height="1.64" fill="#e1e1e1"/>
<rect x="248.3" y="155.79" width="7.6" height="1.04" fill="#e8e8e8"/>
<rect x="248.3" y="156.78" width="7.6" height="1.92" fill="#d6d6d6"/>
<rect x="248.3" y="158.65" width="7.6" height="1.23" fill="#d2d2d2"/>
<rect x="248.3" y="159.84" width="7.6" height="1.19" fill="#d9d9d9"/>
<rect x="248.3" y="160.98" width="7.6" height="1.2" fill="#e3e3e3"/>
<rect x="248.3" y="162.12" width="7.6" height="0.58" fill="#e1e1e1"/>
<rect x="248.3" y="162.66" width="7.6" height="1.87" fill="#dedede"/>
<rect x="248.3" y="164.48" width="7.6" height="0.7" fill="#d4d4d4"/>
<rect x="248.3" y="165.13" width="7.6" height="0.57" fill="#e0e0e0"/>
<rect x="248.3" y="165.66" width="7.6" height="1.32" fill="#d4d4d4"/>
<rect x="248.3" y="166.92" width="7.6" height="1.47" fill="#fafafa"/>
<rect x="248.3" y="168.35" width="7.6" height="1.8" fill="#d6d6d6"/>
<rect x="248.3" y="170.1" width="7.6" height="1.19" fill="#e4e4e4"/>
<rect x="248.3" y="171.24" width="7.6" height="1.01" fill="#c0c0c0"/>
<rect x="248.3" y="172.2" width="7.6" height="0.75" fill="#e1e1e1"/>
<rect x="248.3" y="172.9" width="7.6" height="0.96" fill="#dedede"/>
<rect x="248.3" y="173.81" width="7.6" height="1.07" fill="#fdfdfd"/>
<rect x="248.3" y="174.83" width="7.6" height="1.44" fill="#e5e5e5"/>
<rect x="248.3" y="176.21" width="7.6" height="1.04" fill="#ececec"/>
<rect x="248.3" y="177.2" width="7.6" height="1.22" fill="#fdfdfd"/>
<rect x="248.3" y="178.37" width="7.6" height="1.61" fill="#dfdfdf"/>
<rect x="248.3" y="179.93" width="7.6" height="0.89" fill="#dcdcdc"/>
<rect x="248.3" y="180.77" width="7.6" height="1.13" fill="#e8e8e8"/>
<rect x="248.3" y="181.85" width="7.6" height="1.38" fill="#f9f9f9"/>
<rect x="248.3" y="183.17" width="7.6" height="1.88" fill="#e6e6e6"/>
<rect x="248.3" y="185" width="7.6" height="1.84" fill="#cfcfcf"/>
<rect x="248.3" y="186.79" width="7.6" height="0.62" fill="#d4d4d4"/>
<rect x="248.3" y="187.36" width="7.6" height="1.03" fill="#d3d3d3"/>
<rect x="248.3" y="188.34" width="7.6" height="0.74" fill="#e3e3e3"/>
<rect x="248.3" y="189.02" width="7.6" height="1.03" fill="#eaeaea"/>
<rect x="248.3" y="190" width="7.6" height="0.77" fill="#dedede"/>
<rect x="248.3" y="190.72" width="7.6" height="1.38" fill="#f9f9f9"/>
<rect x="248.3" y="192.05" width="7.6" height="1.56" fill="#fafafa"/>
<rect x="248.3" y="193.56" width="7.6" height="1.42" fill="#f5f5f5"/>
<rect x="248.3" y="194.92" width="7.6" height="1.63" fill="#e7e7e7"/>
<rect x="248.3" y="196.5" width="7.6" height="1.22" fill="#dddddd"/>
<rect x="248.3" y="197.67" width="7.6" height="1.12" fill="#d2d2d2"/>
<rect x="248.3" y="198.74" width="7.6" height="1.78" fill="#fefefe"/>
<rect x="248.3" y="200.47" width="7.6" height="1.94" fill="#eeeeee"/>
<rect x="248.3" y="202.36" width="7.6" height="1.5" fill="#fbfbfb"/>
<rect x="248.3" y="203.81" width="7.6" height="1.95" fill="#e3e3e3"/>
<rect x="248.3" y="205.71" width="7.6" height="1.14" fill="#dddddd"/>
<rect x="248.3" y="206.8" width="7.6" height="0.85" fill="#d6d6d6"/>
<rect x="248.3" y="207.6" width="7.6" height="0.56" fill="#dadada"/>
<rect x="248.3" y="208.11" width="7.6" height="1.59" fill="#f9f9f9"/>
<rect x="248.3" y="209.65" width="7.6" height="1.84" fill="#fefefe"/>
<rect x="248.3" y="211.44" width="7.6" height="1.42" fill="#ebebeb"/>
<rect x="248.3" y="212.81" width="7.6" height="1.62" fill="#fafafa"/>
<rect x="248.3" y="214.38" width="7.6" height="0.88" fill="#f7f7f7"/>
<rect x="248.3" y="215.21" width="7.6" height="1.82" fill="#d8d8d8"/>
<rect x="248.3" y="216.99" width="7.6" height="1.41" fill="#f7f7f7"/>
<rect x="248.3" y="218.35" width="7.6" height="1.45" fill="#ececec"/>
<rect x="248.3" y="219.75" width="7.6" height="1.7" fill="#e6e6e6"/>
<rect x="248.3" y="221.41" width="7.6" height="0.79" fill="#fdfdfd"/>
<rect x="248.3" y="222.15" width="7.6" height="0.91" fill="#fcfcfc"/>
<rect x="248.3" y="223.01" width="7.6" height="1.68" fill="#dcdcdc"/>
<rect x="248.3" y="224.64" width="7.6" height="0.75" fill="#e7e7e7"/>
<rect x="248.3" y="225.34" width="7.6" height="1.26" fill="#ebebeb"/>
<rect x="248.3" y="226.55" width="7.6" height="1.54" fill="#dddddd"/>
<rect x="248.3" y="228.04" width="7.6" height="1.63" fill="#ededed"/>
<rect x="248.3" y="229.62" width="7.6" height="1.9" fill="#e1e1e1"/>
<rect x="248.3" y="231.48" width="7.6" height="1.48" fill="#e3e3e3"/>
<rect x="248.3" y="232.9" width="7.6" height="1.07" fill="#dbdbdb"/>
<rect x="248.3" y="233.93" width="7.6" height="1.12" fill="#ebebeb"/>
<rect x="248.3" y="235" width="7.6" height="1.18" fill="#d8d8d8"/>
<rect x="248.3" y="236.13" width="7.6" height="0.81" fill="#dcdcdc"/>
<rect x="248.3" y="236.89" width="7.6" height="1.55" fill="#dddddd"/>
<rect x="248.3" y="238.39" width="7.6" height="0.63" fill="#ececec"/>
<rect x="248.3" y="238.97" width="7.6" height="0.59" fill="#d5d5d5"/>
<rect x="248.3" y="239.51" width="7.6" height="1.92" fill="#efefef"/>
<rect x="248.3" y="241.38" width="7.6" height="0.96" fill="#c4c4c4"/>
<rect x="248.3" y="242.29" width="7.6" height="0.66" fill="#e6e6e6"/>
<rect x="248.3" y="242.9" width="7.6" height="1.05" fill="#fdfdfd"/>
<rect x="248.3" y="243.9" width="7.6" height="0.84" fill="#e6e6e6"/>
<rect x="248.3" y="244.7" width="7.6" height="0.61" fill="#e3e3e3"/>
<rect x="248.3" y="245.26" width="7.6" height="1.04" fill="#e6e6e6"/>
<rect x="248.3" y="246.25" width="7.6" height="1.26" fill="#c7c7c7"/>
<rect x="248.3" y="247.46" width="7.6" height="1.89" fill="#dadada"/>
<rect x="248.3" y="249.3" width="7.6" height="0.71" fill="#eaeaea"/>
<rect x="248.3" y="249.96" width="7.6" height="1.51" fill="#f8f8f8"/>
<rect x="248.3" y="251.42" width="7.6" height="1.23" fill="#f9f9f9"/>
<rect x="248.3" y="252.6" width="7.6" height="1.83" fill="#f8f8f8"/>
<rect x="248.3" y="254.37" width="7.6" height="0.86" fill="#ebebeb"/>
<rect x="248.3" y="255.18" width="7.6" height="1.49" fill="#fbfbfb"/>
<rect x="248.3" y="256.62" width="7.6" height="1.45" fill="#dadada"/>
<rect x="248.3" y="258.02" width="7.6" height="0.68" fill="#e5e5e5"/>
<rect x="248.3" y="258.65" width="7.6" height="0.61" fill="#d9d9d9"/>
<rect x="248.3" y="259.21" width="7.6" height="1.16" fill="#e7e7e7"/>
<rect x="248.3" y="260.32" width="7.6" height="1.64" fill="#c5c5c5"/>
<rect x="248.3" y="261.91" width="7.6" height="1.57" fill="#d7d7d7"/>
<rect x="248.3" y="263.43" width="7.6" height="1.82" fill="#e5e5e5"/>
<rect x="248.3" y="265.19" width="7.6" height="0.76" fill="#f7f7f7"/>
<rect x="248.3" y="265.91" width="7.6" height="1.05" fill="#e9e9e9"/>
<rect x="248.3" y="266.91" width="7.6" height="1.45" fill="#eaeaea"/>
<rect x="248.3" y="268.31" width="7.6" height="1.93" fill="#fcfcfc"/>
<rect x="248.3" y="270.19" width="7.6" height="0.8" fill="#fcfcfc"/>
<rect x="248.3" y="270.95" width="7.6" height="0.94" fill="#fcfcfc"/>
<rect x="248.3" y="271.84" width="7.6" height="1.69" fill="#fcfcfc"/>
<rect x="248.3" y="273.48" width="7.6" height="1.4" fill="#fcfcfc"/>
<rect x="248.3" y="274.83" width="7.6" height="1.38" fill="#fcfcfc"/>
<rect x="248.3" y="276.16" width="7.6" height="1.54" fill="#fcfcfc"/>
<rect x="248.3" y="277.65" width="7.6" height="1.07" fill="#fcfcfc"/>
<rect x="248.3" y="278.67" width="7.6" height="1.07" fill="#fcfcfc"/>
<rect x="248.3" y="279.69" width="7.6" height="1.62" fill="#fcfcfc"/>
<rect x="248.3" y="281.25" width="7.6" height="0.98" fill="#fcfcfc"/>
<rect x="248.3" y="282.18" width="7.6" height="1.81" fill="#fcfcfc"/>
<rect x="248.3" y="283.95" width="7.6" height="1.73" fill="#fcfcfc"/>
<rect x="248.3" y="285.62" width="7.6" height="1.81" fill="#d3d3d3"/>
<rect x="248.3" y="287.38" width="7.6" height="1.02" fill="#f7f7f7"/>
<rect x="248.3" y="288.36" width="7.6" height="0.87" fill="#c0c0c0"/>
<rect x="248.3" y="289.18" width="7.6" height="0.82" fill="#bebebe"/>
<rect x="248.3" y="289.95" width="7.6" height="0.8" fill="#c5c5c5"/>
<rect x="248.3" y="290.7" width="7.6" height="1.69" fill="#c5c5c5"/>
<rect x="248.3" y="292.34" width="7.6" height="1.7" fill="#b4b4b4"/>
<rect x="248.3" y="293.99" width="7.6" height="1.11" fill="#b2b2b2"/>
<rect x="248.3" y="295.05" width="7.6" height="1.81" fill="#cacaca"/>
<rect x="248.3" y="296.81" width="7.6" height="0.61" fill="#c4c4c4"/>
<rect x="248.3" y="297.37" width="7.6" height="0.7" fill="#bababa"/>
<rect x="248.3" y="298.03" width="7.6" height="1.82" fill="#b3b3b3"/>
<rect x="248.3" y="299.79" width="7.6" height="1.2" fill="#f7f7f7"/>
<rect x="248.3" y="300.94" width="7.6" height="0.96" fill="#e7e7e7"/>
<rect x="248.3" y="301.86" width="7.6" height="1.52" fill="#f9f9f9"/>
<rect x="248.3" y="303.32" width="7.6" height="0.85" fill="#fbfbfb"/>
<rect x="248.3" y="304.12" width="7.6" height="1.24" fill="#fbfbfb"/>
<rect x="248.3" y="305.3" width="7.6" height="1.14" fill="#fdfdfd"/>
<rect x="248.3" y="306.39" width="7.6" height="1.11" fill="#ebebeb"/>
<rect x="248.3" y="307.46" width="7.6" height="1.86" fill="#ebebeb"/>
<rect x="248.3" y="309.26" width="7.6" height="0.65" fill="#f9f9f9"/>
<rect x="248.3" y="309.86" width="7.6" height="1.51" fill="#e3e3e3"/>
<rect x="248.3" y="311.32" width="7.6" height="0.93" fill="#f9f9f9"/>
<rect x="248.3" y="312.19" width="7.6" height="1.47" fill="#e5e5e5"/>
<rect x="248.3" y="313.61" width="7.6" height="1.17" fill="#f7f7f7"/>
<rect x="248.3" y="314.73" width="7.6" height="1.2" fill="#dcdcdc"/>
<rect x="248.3" y="315.88" width="7.6" height="1.83" fill="#f4f4f4"/>
<rect x="248.3" y="317.66" width="7.6" height="1.62" fill="#fefefe"/>
<rect x="248.3" y="319.23" width="7.6" height="0.68" fill="#e3e3e3"/>
<rect x="248.3" y="319.86" width="7.6" height="1.2" fill="#f4f4f4"/>
<rect x="248.3" y="321.01" width="7.6" height="1.04" fill="#fdfdfd"/>
<rect x="248.3" y="322" width="7.6" height="1.15" fill="#d9d9d9"/>
<rect x="248.3" y="323.1" width="7.6" height="1.76" fill="#f4f4f4"/>
<rect x="248.3" y="324.81" width="7.6" height="1.5" fill="#d6d6d6"/>
<rect x="248.3" y="326.26" width="7.6" height="1.03" fill="#e8e8e8"/>
<rect x="248.3" y="327.24" width="7.6" height="1.6" fill="#f5f5f5"/>
<rect x="248.3" y="328.79" width="7.6" height="0.95" fill="#f8f8f8"/>
<rect x="248.3" y="329.7" width="7.6" height="1.29" fill="#d5d5d5"/>
<rect x="248.3" y="330.93" width="7.6" height="1.88" fill="#d6d6d6"/>
<rect x="248.3" y="332.77" width="7.6" height="1.87" fill="#d3d3d3"/>
<rect x="248.3" y="334.59" width="7.6" height="1.19" fill="#eeeeee"/>
<rect x="248.3" y="335.73" width="7.6" height="1.73" fill="#fefefe"/>
<rect x="248.3" y="337.41" width="7.6" height="1.82" fill="#dbdbdb"/>
<rect x="248.3" y="339.18" width="7.6" height="1.22" fill="#e5e5e5"/>
<rect x="248.3" y="340.36" width="7.6" height="1.63" fill="#f4f4f4"/>
<rect x="248.3" y="341.94" width="7.6" height="1.26" fill="#f8f8f8"/>
<rect x="248.3" y="343.15" width="7.6" height="1.27" fill="#dedede"/>
<rect x="248.3" y="344.37" width="7.6" height="1.17" fill="#d2d2d2"/>
<rect x="248.3" y="345.49" width="7.6" height="1.02" fill="#f9f9f9"/>
<rect x="248.3" y="346.46" width="7.6" height="1.79" fill="#cdcdcd"/>
<rect x="248.3" y="348.2" width="7.6" height="1.34" fill="#f9f9f9"/>
<rect x="248.3" y="349.48" width="7.6" height="1.56" fill="#e8e8e8"/>
<rect x="248.3" y="350.99" width="7.6" height="1.66" fill="#e4e4e4"/>
<rect x="248.3" y="352.6" width="7.6" height="1.18" fill="#e0e0e0"/>
<rect x="248.3" y="353.73" width="7.6" height="1.25" fill="#ededed"/>
<rect x="248.3" y="354.92" width="7.6" height="0.7" fill="#eeeeee"/>
<rect x="248.3" y="355.58" width="7.6" height="0.8" fill="#f9f9f9"/>
<rect x="248.3" y="356.32" width="7.6" height="1.01" fill="#e9e9e9"/>
<rect x="248.3" y="357.29" width="7.6" height="1.72" fill="#dcdcdc"/>
<rect x="248.3" y="358.95" width="7.6" height="1.43" fill="#dedede"/>
<rect x="248.3" y="360.33" width="7.6" height="1.57" fill="#e5e5e5"/>
<rect x="248.3" y="361.85" width="7.6" height="0.8" fill="#eaeaea"/>
<rect x="248.3" y="362.6" width="7.6" height="0.57" fill="#e6e6e6"/>
<rect x="248.3" y="363.11" width="7.6" height="1.21" fill="#eaeaea"/>
<rect x="248.3" y="364.27" width="7.6" height="1.34" fill="#f7f7f7"/>
<rect x="248.3" y="365.56" width="7.6" height="1.57" fill="#ececec"/>
<rect x="248.3" y="367.08" width="7.6" height="1.83" fill="#e8e8e8"/>
<rect x="248.3" y="368.86" width="7.6" height="1.06" fill="#e3e3e3"/>
<rect x="248.3" y="369.87" width="7.6" height="0.73" fill="#fefefe"/>
<rect x="248.3" y="370.55" width="7.6" height="0.8" fill="#ececec"/>
<rect x="248.3" y="371.3" width="7.6" height="1.95" fill="#ededed"/>
<rect x="248.3" y="373.19" width="7.6" height="0.94" fill="#e8e8e8"/>
<rect x="248.3" y="374.08" width="7.6" height="0.57" fill="#ececec"/>
<rect x="248.3" y="374.6" width="7.6" height="1.07" fill="#e4e4e4"/>
<rect x="248.3" y="375.62" width="7.6" height="0.88" fill="#c3c3c3"/>
<rect x="248.3" y="376.45" width="7.6" height="1.32" fill="#ebebeb"/>
<rect x="248.3" y="377.72" width="7.6" height="0.6" fill="#c6c6c6"/>
<rect x="248.3" y="378.26" width="7.6" height="1.76" fill="#f7f7f7"/>
<rect x="248.3" y="379.98" width="7.6" height="1.71" fill="#d9d9d9"/>
<rect x="248.3" y="381.64" width="7.6" height="0.78" fill="#d9d9d9"/>
<rect x="248.3" y="382.37" width="7.6" height="0.85" fill="#e0e0e0"/>
<rect x="248.3" y="383.17" width="7.6" height="0.18" fill="#ebebeb"/>
</g>
<path d="M248.3 158 A3.8 3.8 0 0 1 255.9 158 L255.9 266.1 A3.8 1.8 0 0 1 248.3 266.1 Z M248.3 268.5 A3.8 1.8 0 0 1 255.9 268.5 L255.9 379.5 A3.8 3.8 0 0 1 248.3 379.5 Z" fill="none" stroke="#9a9a9a" stroke-width="0.5"/>
<text x="252.1" y="390" font-size="4.1" text-anchor="middle" font-family="Liberation Serif, serif" fill="#222" stroke="#222" stroke-width="0.15">1</text>
<line x1="255.9" y1="187.4" x2="257.9" y2="187.4" stroke="#bbb" stroke-width="0.3"/>
<path d="M258.9 185.8L260.5 188.6L257.3 188.6Z" fill="#7a2a8e"/>
<text x="261.9" y="188.7" font-size="3.7" font-family="Liberation Serif, serif" fill="#222" stroke="#222" stroke-width="0.1">EPHA10</text>
<line x1="255.9" y1="194" x2="257.9" y2="194" stroke="#bbb" stroke-width="0.3"/>
<path d="M258.9 192.4L260.5 195.2L257.3 195.2Z" fill="#7a2a8e"/>
<text x="261.9" y="195.3" font-size="3.7" font-family="Liberation Serif, serif" fill="#222" stroke="#222" stroke-width="0.1">TRIT1</text>
<line x1="255.9" y1="292.4" x2="257.9" y2="292.4" stroke="#bbb" stroke-width="0.3"/>
<rect x="257.45" y="290.95" width="2.9" height="2.9" fill="#4daf4a"/>
<text x="261.9" y="293.7" font-size="3.7" font-family="Liberation Serif, serif" fill="#222" stroke="#222" stroke-width="0.1">ECM1</text>
<clipPath id="cp1"><path d="M278.45 218.55 A3.65 3.65 0 0 1 285.75 218.55 L285.75 292.2 A3.65 1.8 0 0 1 278.45 292.2 Z M278.45 294.6 A3.65 1.8 0 0 1 285.75 294.6 L285.75 379.65 A3.65 3.65 0 0 1 278.45 379.65 Z"/></clipPath>
<g clip-path="url(#cp1)">
<rect x="278.45" y="214.9" width="7.3" height="168.4" fill="#fff"/>
<rect x="278.45" y="214.9" width="7.3" height="1.67" fill="#fcfcfc"/>
<rect x="278.45" y="216.52" width="7.3" height="1.76" fill="#fdfdfd"/>
<rect x="278.45" y="218.22" width="7.3" height="1.65" fill="#e5e5e5"/>
<rect x="278.45" y="219.82" width="7.3" height="1.46" fill="#e9e9e9"/>
<rect x="278.45" y="221.23" width="7.3" height="1.4" fill="#fcfcfc"/>
<rect x="278.45" y="222.58" width="7.3" height="1.54" fill="#dcdcdc"/>
<rect x="278.45" y="224.07" width="7.3" height="1.47" fill="#e3e3e3"/>
<rect x="278.45" y="225.49" width="7.3" height="1.25" fill="#dedede"/>
<rect x="278.45" y="226.7" width="7.3" height="0.58" fill="#dadada"/>
<rect x="278.45" y="227.22" width="7.3" height="1.12" fill="#fdfdfd"/>
<rect x="278.45" y="228.29" width="7.3" height="0.91" fill="#e1e1e1"/>
<rect x="278.45" y="229.15" width="7.3" height="1.33" fill="#e4e4e4"/>
<rect x="278.45" y="230.43" width="7.3" height="0.78" fill="#fdfdfd"/>
<rect x="278.45" y="231.16" width="7.3" height="1.4" fill="#fafafa"/>
<rect x="278.45" y="232.51" width="7.3" height="1.62" fill="#fefefe"/>
<rect x="278.45" y="234.08" width="7.3" height="1.73" fill="#efefef"/>
<rect x="278.45" y="235.76" width="7.3" height="0.86" fill="#f8f8f8"/>
<rect x="278.45" y="236.57" width="7.3" height="0.81" fill="#d3d3d3"/>
<rect x="278.45" y="237.32" width="7.3" height="1.04" fill="#d2d2d2"/>
<rect x="278.45" y="238.32" width="7.3" height="0.67" fill="#e5e5e5"/>
<rect x="278.45" y="238.94" width="7.3" height="0.58" fill="#ededed"/>
<rect x="278.45" y="239.47" width="7.3" height="0.63" fill="#f5f5f5"/>
<rect x="278.45" y="240.05" width="7.3" height="1.21" fill="#e4e4e4"/>
<rect x="278.45" y="241.21" width="7.3" height="1.71" fill="#fdfdfd"/>
<rect x="278.45" y="242.87" width="7.3" height="0.86" fill="#f6f6f6"/>
<rect x="278.45" y="243.69" width="7.3" height="1.33" fill="#d3d3d3"/>
<rect x="278.45" y="244.97" width="7.3" height="1.41" fill="#e7e7e7"/>
<rect x="278.45" y="246.32" width="7.3" height="1.65" fill="#eeeeee"/>
<rect x="278.45" y="247.92" width="7.3" height="1.01" fill="#e8e8e8"/>
<rect x="278.45" y="248.88" width="7.3" height="1.31" fill="#ededed"/>
<rect x="278.45" y="250.14" width="7.3" height="1.82" fill="#f6f6f6"/>
<rect x="278.45" y="251.91" width="7.3" height="1.63" fill="#d5d5d5"/>
<rect x="278.45" y="253.49" width="7.3" height="1.79" fill="#d2d2d2"/>
<rect x="278.45" y="255.22" width="7.3" height="0.71" fill="#d3d3d3"/>
<rect x="278.45" y="255.89" width="7.3" height="0.9" fill="#c9c9c9"/>
<rect x="278.45" y="256.73" width="7.3" height="1.29" fill="#bfbfbf"/>
<rect x="278.45" y="257.97" width="7.3" height="1.8" fill="#cecece"/>
<rect x="278.45" y="259.72" width="7.3" height="1.67" fill="#cfcfcf"/>
<rect x="278.45" y="261.34" width="7.3" height="1.46" fill="#bfbfbf"/>
<rect x="278.45" y="262.74" width="7.3" height="0.94" fill="#e7e7e7"/>
<rect x="278.45" y="263.64" width="7.3" height="1.44" fill="#d8d8d8"/>
<rect x="278.45" y="265.02" width="7.3" height="0.91" fill="#dfdfdf"/>
<rect x="278.45" y="265.88" width="7.3" height="1.2" fill="#d8d8d8"/>
<rect x="278.45" y="267.03" width="7.3" height="0.73" fill="#eeeeee"/>
<rect x="278.45" y="267.71" width="7.3" height="1.51" fill="#f5f5f5"/>
<rect x="278.45" y="269.18" width="7.3" height="1.9" fill="#e9e9e9"/>
<rect x="278.45" y="271.02" width="7.3" height="1.56" fill="#dcdcdc"/>
<rect x="278.45" y="272.53" width="7.3" height="1.23" fill="#f5f5f5"/>
<rect x="278.45" y="273.71" width="7.3" height="1.31" fill="#eeeeee"/>
<rect x="278.45" y="274.97" width="7.3" height="1.1" fill="#d2d2d2"/>
<rect x="278.45" y="276.01" width="7.3" height="0.72" fill="#d9d9d9"/>
<rect x="278.45" y="276.68" width="7.3" height="0.97" fill="#e5e5e5"/>
<rect x="278.45" y="277.6" width="7.3" height="1.34" fill="#d9d9d9"/>
<rect x="278.45" y="278.89" width="7.3" height="1.54" fill="#e6e6e6"/>
<rect x="278.45" y="280.38" width="7.3" height="1.38" fill="#f9f9f9"/>
<rect x="278.45" y="281.72" width="7.3" height="1.8" fill="#e5e5e5"/>
<rect x="278.45" y="283.46" width="7.3" height="0.72" fill="#f8f8f8"/>
<rect x="278.45" y="284.14" width="7.3" height="0.83" fill="#e3e3e3"/>
<rect x="278.45" y="284.92" width="7.3" height="1.6" fill="#fbfbfb"/>
<rect x="278.45" y="286.47" width="7.3" height="1.12" fill="#efefef"/>
<rect x="278.45" y="287.53" width="7.3" height="1.17" fill="#f8f8f8"/>
<rect x="278.45" y="288.66" width="7.3" height="1.8" fill="#e9e9e9"/>
<rect x="278.45" y="290.4" width="7.3" height="0.61" fill="#f4f4f4"/>
<rect x="278.45" y="290.97" width="7.3" height="1.56" fill="#eeeeee"/>
<rect x="278.45" y="292.48" width="7.3" height="1.41" fill="#fefefe"/>
<rect x="278.45" y="293.85" width="7.3" height="1.38" fill="#f5f5f5"/>
<rect x="278.45" y="295.18" width="7.3" height="1.7" fill="#dcdcdc"/>
<rect x="278.45" y="296.83" width="7.3" height="0.79" fill="#e9e9e9"/>
<rect x="278.45" y="297.56" width="7.3" height="1.8" fill="#e8e8e8"/>
<rect x="278.45" y="299.31" width="7.3" height="0.96" fill="#e6e6e6"/>
<rect x="278.45" y="300.22" width="7.3" height="0.92" fill="#f4f4f4"/>
<rect x="278.45" y="301.09" width="7.3" height="1.21" fill="#d3d3d3"/>
<rect x="278.45" y="302.26" width="7.3" height="1.94" fill="#dcdcdc"/>
<rect x="278.45" y="304.15" width="7.3" height="1" fill="#dadada"/>
<rect x="278.45" y="305.1" width="7.3" height="1.24" fill="#f4f4f4"/>
<rect x="278.45" y="306.29" width="7.3" height="1.46" fill="#fdfdfd"/>
<rect x="278.45" y="307.7" width="7.3" height="0.67" fill="#dadada"/>
<rect x="278.45" y="308.32" width="7.3" height="1.42" fill="#e0e0e0"/>
<rect x="278.45" y="309.68" width="7.3" height="1.42" fill="#ededed"/>
<rect x="278.45" y="311.05" width="7.3" height="1.13" fill="#fafafa"/>
<rect x="278.45" y="312.13" width="7.3" height="1.47" fill="#dfdfdf"/>
<rect x="278.45" y="313.55" width="7.3" height="1.79" fill="#e1e1e1"/>
<rect x="278.45" y="315.29" width="7.3" height="0.94" fill="#e8e8e8"/>
<rect x="278.45" y="316.18" width="7.3" height="0.93" fill="#fcfcfc"/>
<rect x="278.45" y="317.06" width="7.3" height="1.3" fill="#eaeaea"/>
<rect x="278.45" y="318.32" width="7.3" height="1.04" fill="#ededed"/>
<rect x="278.45" y="319.31" width="7.3" height="1.47" fill="#fefefe"/>
<rect x="278.45" y="320.73" width="7.3" height="1.87" fill="#e1e1e1"/>
<rect x="278.45" y="322.55" width="7.3" height="1.53" fill="#fcfcfc"/>
<rect x="278.45" y="324.03" width="7.3" height="1.35" fill="#ececec"/>
<rect x="278.45" y="325.33" width="7.3" height="1.87" fill="#cbcbcb"/>
<rect x="278.45" y="327.15" width="7.3" height="1.58" fill="#e9e9e9"/>
<rect x="278.45" y="328.67" width="7.3" height="1.48" fill="#e7e7e7"/>
<rect x="278.45" y="330.1" width="7.3" height="0.87" fill="#ececec"/>
<rect x="278.45" y="330.92" width="7.3" height="1.13" fill="#fafafa"/>
<rect x="278.45" y="332" width="7.3" height="1.15" fill="#c6c6c6"/>
<rect x="278.45" y="333.1" width="7.3" height="1.24" fill="#fdfdfd"/>
<rect x="278.45" y="334.29" width="7.3" height="0.61" fill="#dedede"/>
<rect x="278.45" y="334.85" width="7.3" height="1.18" fill="#e4e4e4"/>
<rect x="278.45" y="335.97" width="7.3" height="0.6" fill="#e3e3e3"/>
<rect x="278.45" y="336.53" width="7.3" height="1.52" fill="#f6f6f6"/>
<rect x="278.45" y="337.99" width="7.3" height="1.16" fill="#ececec"/>
<rect x="278.45" y="339.11" width="7.3" height="1.21" fill="#efefef"/>
<rect x="278.45" y="340.27" width="7.3" height="1.82" fill="#e8e8e8"/>
<rect x="278.45" y="342.04" width="7.3" height="0.63" fill="#fefefe"/>
<rect x="278.45" y="342.62" width="7.3" height="0.7" fill="#e2e2e2"/>
<rect x="278.45" y="343.27" width="7.3" height="0.59" fill="#ececec"/>
<rect x="278.45" y="343.81" width="7.3" height="1.92" fill="#f6f6f6"/>
<rect x="278.45" y="345.68" width="7.3" height="0.58" fill="#e0e0e0"/>
<rect x="278.45" y="346.21" width="7.3" height="0.79" fill="#eeeeee"/>
<rect x="278.45" y="346.95" width="7.3" height="0.76" fill="#e7e7e7"/>
<rect x="278.45" y="347.66" width="7.3" height="1.37" fill="#e3e3e3"/>
<rect x="278.45" y="348.98" width="7.3" height="0.89" fill="#d7d7d7"/>
<rect x="278.45" y="349.83" width="7.3" height="0.69" fill="#f7f7f7"/>
<rect x="278.45" y="350.46" width="7.3" height="1.51" fill="#f5f5f5"/>
<rect x="278.45" y="351.93" width="7.3" height="1.4" fill="#ebebeb"/>
<rect x="278.45" y="353.28" width="7.3" height="1.72" fill="#d9d9d9"/>
<rect x="278.45" y="354.95" width="7.3" height="1.58" fill="#eaeaea"/>
<rect x="278.45" y="356.48" width="7.3" height="0.58" fill="#e8e8e8"/>
<rect x="278.45" y="357.01" width="7.3" height="1.72" fill="#f5f5f5"/>
<rect x="278.45" y="358.68" width="7.3" height="1.21" fill="#e8e8e8"/>
<rect x="278.45" y="359.83" width="7.3" height="1.13" fill="#e1e1e1"/>
<rect x="278.45" y="360.92" width="7.3" height="1.68" fill="#e8e8e8"/>
<rect x="278.45" y="362.54" width="7.3" height="0.7" fill="#dbdbdb"/>
<rect x="278.45" y="363.19" width="7.3" height="1.54" fill="#e8e8e8"/>
<rect x="278.45" y="364.68" width="7.3" height="1.91" fill="#e5e5e5"/>
<rect x="278.45" y="366.54" width="7.3" height="1.74" fill="#eaeaea"/>
<rect x="278.45" y="368.23" width="7.3" height="1.54" fill="#f6f6f6"/>
<rect x="278.45" y="369.72" width="7.3" height="1.73" fill="#e3e3e3"/>
<rect x="278.45" y="371.4" width="7.3" height="0.99" fill="#ebebeb"/>
<rect x="278.45" y="372.35" width="7.3" height="1.74" fill="#dbdbdb"/>
<rect x="278.45" y="374.04" width="7.3" height="0.58" fill="#fdfdfd"/>
<rect x="278.45" y="374.57" width="7.3" height="1.17" fill="#e7e7e7"/>
<rect x="278.45" y="375.69" width="7.3" height="1.3" fill="#c1c1c1"/>
<rect x="278.45" y="376.93" width="7.3" height="1.41" fill="#fafafa"/>
<rect x="278.45" y="378.3" width="7.3" height="1.72" fill="#dadada"/>
<rect x="278.45" y="379.96" width="7.3" height="1.03" fill="#d3d3d3"/>
<rect x="278.45" y="380.94" width="7.3" height="1.67" fill="#fdfdfd"/>
<rect x="278.45" y="382.56" width="7.3" height="0.79" fill="#d4d4d4"/>
</g>
<path d="M278.45 218.55 A3.65 3.65 0 0 1 285.75 218.55 L285.75 292.2 A3.65 1.8 0 0 1 278.45 292.2 Z M278.45 294.6 A3.65 1.8 0 0 1 285.75 294.6 L285.75 379.65 A3.65 3.65 0 0 1 278.45 379.65 Z" fill="none" stroke="#9a9a9a" stroke-width="0.5"/>
<text x="282.1" y="390" font-size="4.1" text-anchor="middle" font-family="Liberation Serif, serif" fill="#222" stroke="#222" stroke-width="0.15">3</text>
<line x1="285.75" y1="249.5" x2="287.75" y2="249.5" stroke="#bbb" stroke-width="0.3"/>
<rect x="287.3" y="248.05" width="2.9" height="2.9" fill="#4daf4a"/>
<text x="291.75" y="250.8" font-size="3.7" font-family="Liberation Serif, serif" fill="#e0242a" stroke="#e0242a" stroke-width="0.1">PLXNB1</text>
<line x1="285.75" y1="253.9" x2="287.75" y2="253.9" stroke="#bbb" stroke-width="0.3"/>
<path d="M288.75 252.3L290.35 255.1L287.15 255.1Z" fill="#7a2a8e"/>
<text x="291.75" y="255.2" font-size="3.7" font-family="Liberation Serif, serif" fill="#e0242a" stroke="#e0242a" stroke-width="0.1">CELSR3</text>
<line x1="285.75" y1="257.4" x2="287.75" y2="257.4" stroke="#bbb" stroke-width="0.3"/>
<path d="M288.75 255.8L290.35 258.6L287.15 258.6Z" fill="#7a2a8e"/>
<text x="291.75" y="258.7" font-size="3.7" font-family="Liberation Serif, serif" fill="#e0242a" stroke="#e0242a" stroke-width="0.1">IMPDH2</text>
<line x1="285.75" y1="261.4" x2="287.75" y2="261.4" stroke="#bbb" stroke-width="0.3"/>
<path d="M288.75 259.8L290.35 262.6L287.15 262.6Z" fill="#7a2a8e"/>
<text x="291.75" y="262.7" font-size="3.7" font-family="Liberation Serif, serif" fill="#e0242a" stroke="#e0242a" stroke-width="0.1">SNRK</text>
<clipPath id="cp2"><path d="M308.1 225.7 A3.7 3.7 0 0 1 315.5 225.7 L315.5 264.1 A3.7 1.8 0 0 1 308.1 264.1 Z M308.1 266.5 A3.7 1.8 0 0 1 315.5 266.5 L315.5 379.6 A3.7 3.7 0 0 1 308.1 379.6 Z"/></clipPath>
<g clip-path="url(#cp2)">
<rect x="308.1" y="222" width="7.4" height="161.3" fill="#fff"/>
<rect x="308.1" y="222" width="7.4" height="1.28" fill="#e3e3e3"/>
<rect x="308.1" y="223.23" width="7.4" height="0.73" fill="#eaeaea"/>
<rect x="308.1" y="223.91" width="7.4" height="1.42" fill="#e6e6e6"/>
<rect x="308.1" y="225.28" width="7.4" height="0.62" fill="#fcfcfc"/>
<rect x="308.1" y="225.85" width="7.4" height="1.14" fill="#eaeaea"/>
<rect x="308.1" y="226.94" width="7.4" height="1.61" fill="#f9f9f9"/>
<rect x="308.1" y="228.5" width="7.4" height="1.46" fill="#d5d5d5"/>
<rect x="308.1" y="229.91" width="7.4" height="1.81" fill="#d9d9d9"/>
<rect x="308.1" y="231.67" width="7.4" height="1.36" fill="#d8d8d8"/>
<rect x="308.1" y="232.98" width="7.4" height="0.96" fill="#d3d3d3"/>
<rect x="308.1" y="233.89" width="7.4" height="1.56" fill="#e6e6e6"/>
<rect x="308.1" y="235.39" width="7.4" height="1.87" fill="#e2e2e2"/>
<rect x="308.1" y="237.21" width="7.4" height="1.13" fill="#d3d3d3"/>
<rect x="308.1" y="238.29" width="7.4" height="1.68" fill="#ececec"/>
<rect x="308.1" y="239.93" width="7.4" height="1.84" fill="#f8f8f8"/>
<rect x="308.1" y="241.72" width="7.4" height="1.23" fill="#ededed"/>
<rect x="308.1" y="242.89" width="7.4" height="0.64" fill="#fcfcfc"/>
<rect x="308.1" y="243.48" width="7.4" height="1.7" fill="#d3d3d3"/>
<rect x="308.1" y="245.13" width="7.4" height="1.71" fill="#fcfcfc"/>
<rect x="308.1" y="246.79" width="7.4" height="0.87" fill="#dadada"/>
<rect x="308.1" y="247.61" width="7.4" height="1.21" fill="#fdfdfd"/>
<rect x="308.1" y="248.77" width="7.4" height="1.1" fill="#d2d2d2"/>
<rect x="308.1" y="249.82" width="7.4" height="1.15" fill="#f7f7f7"/>
<rect x="308.1" y="250.92" width="7.4" height="1.89" fill="#e0e0e0"/>
<rect x="308.1" y="252.76" width="7.4" height="1.08" fill="#ebebeb"/>
<rect x="308.1" y="253.79" width="7.4" height="1.7" fill="#f9f9f9"/>
<rect x="308.1" y="255.43" width="7.4" height="1.14" fill="#e9e9e9"/>
<rect x="308.1" y="256.53" width="7.4" height="0.69" fill="#dddddd"/>
<rect x="308.1" y="257.17" width="7.4" height="1.37" fill="#e0e0e0"/>
<rect x="308.1" y="258.49" width="7.4" height="1.36" fill="#dfdfdf"/>
<rect x="308.1" y="259.8" width="7.4" height="1.73" fill="#cbcbcb"/>
<rect x="308.1" y="261.47" width="7.4" height="0.97" fill="#dcdcdc"/>
<rect x="308.1" y="262.4" width="7.4" height="1.49" fill="#dddddd"/>
<rect x="308.1" y="263.83" width="7.4" height="1.84" fill="#eeeeee"/>
<rect x="308.1" y="265.63" width="7.4" height="0.67" fill="#eaeaea"/>
<rect x="308.1" y="266.24" width="7.4" height="0.99" fill="#e6e6e6"/>
<rect x="308.1" y="267.18" width="7.4" height="1.63" fill="#eaeaea"/>
<rect x="308.1" y="268.76" width="7.4" height="1.7" fill="#f4f4f4"/>
<rect x="308.1" y="270.41" width="7.4" height="1.8" fill="#d5d5d5"/>
<rect x="308.1" y="272.16" width="7.4" height="0.79" fill="#d4d4d4"/>
<rect x="308.1" y="272.9" width="7.4" height="1.11" fill="#e2e2e2"/>
<rect x="308.1" y="273.95" width="7.4" height="1.39" fill="#d8d8d8"/>
<rect x="308.1" y="275.29" width="7.4" height="1.49" fill="#e3e3e3"/>
<rect x="308.1" y="276.73" width="7.4" height="1.28" fill="#fefefe"/>
<rect x="308.1" y="277.96" width="7.4" height="0.88" fill="#d7d7d7"/>
<rect x="308.1" y="278.8" width="7.4" height="1.34" fill="#e3e3e3"/>
<rect x="308.1" y="280.09" width="7.4" height="1.16" fill="#e0e0e0"/>
<rect x="308.1" y="281.2" width="7.4" height="1.5" fill="#eaeaea"/>
<rect x="308.1" y="282.65" width="7.4" height="1.64" fill="#d8d8d8"/>
<rect x="308.1" y="284.24" width="7.4" height="1.02" fill="#fafafa"/>
<rect x="308.1" y="285.21" width="7.4" height="1.15" fill="#e6e6e6"/>
<rect x="308.1" y="286.31" width="7.4" height="0.79" fill="#e2e2e2"/>
<rect x="308.1" y="287.05" width="7.4" height="1.92" fill="#f7f7f7"/>
<rect x="308.1" y="288.92" width="7.4" height="0.98" fill="#fafafa"/>
<rect x="308.1" y="289.85" width="7.4" height="0.86" fill="#f5f5f5"/>
<rect x="308.1" y="290.66" width="7.4" height="1.18" fill="#e0e0e0"/>
<rect x="308.1" y="291.79" width="7.4" height="0.83" fill="#fdfdfd"/>
<rect x="308.1" y="292.57" width="7.4" height="1.06" fill="#dcdcdc"/>
<rect x="308.1" y="293.59" width="7.4" height="0.94" fill="#e8e8e8"/>
<rect x="308.1" y="294.47" width="7.4" height="1.45" fill="#d6d6d6"/>
<rect x="308.1" y="295.87" width="7.4" height="1.46" fill="#e4e4e4"/>
<rect x="308.1" y="297.28" width="7.4" height="1.09" fill="#dfdfdf"/>
<rect x="308.1" y="298.32" width="7.4" height="1.48" fill="#d5d5d5"/>
<rect x="308.1" y="299.75" width="7.4" height="1.26" fill="#c3c3c3"/>
<rect x="308.1" y="300.96" width="7.4" height="1.39" fill="#e3e3e3"/>
<rect x="308.1" y="302.3" width="7.4" height="0.7" fill="#fafafa"/>
<rect x="308.1" y="302.95" width="7.4" height="0.66" fill="#d5d5d5"/>
<rect x="308.1" y="303.56" width="7.4" height="1.62" fill="#efefef"/>
<rect x="308.1" y="305.13" width="7.4" height="0.81" fill="#dcdcdc"/>
<rect x="308.1" y="305.89" width="7.4" height="1.79" fill="#e4e4e4"/>
<rect x="308.1" y="307.63" width="7.4" height="1.15" fill="#f4f4f4"/>
<rect x="308.1" y="308.72" width="7.4" height="1.54" fill="#f8f8f8"/>
<rect x="308.1" y="310.21" width="7.4" height="0.63" fill="#ebebeb"/>
<rect x="308.1" y="310.78" width="7.4" height="0.83" fill="#f4f4f4"/>
<rect x="308.1" y="311.57" width="7.4" height="1.21" fill="#f5f5f5"/>
<rect x="308.1" y="312.73" width="7.4" height="1.01" fill="#dbdbdb"/>
<rect x="308.1" y="313.68" width="7.4" height="1.74" fill="#d3d3d3"/>
<rect x="308.1" y="315.38" width="7.4" height="1.25" fill="#d2d2d2"/>
<rect x="308.1" y="316.58" width="7.4" height="1.65" fill="#eaeaea"/>
<rect x="308.1" y="318.18" width="7.4" height="1.56" fill="#ededed"/>
<rect x="308.1" y="319.69" width="7.4" height="1.39" fill="#d8d8d8"/>
<rect x="308.1" y="321.03" width="7.4" height="1.3" fill="#e4e4e4"/>
<rect x="308.1" y="322.29" width="7.4" height="1.49" fill="#e8e8e8"/>
<rect x="308.1" y="323.72" width="7.4" height="1.09" fill="#dadada"/>
<rect x="308.1" y="324.76" width="7.4" height="1.71" fill="#efefef"/>
<rect x="308.1" y="326.42" width="7.4" height="1.92" fill="#f5f5f5"/>
<rect x="308.1" y="328.29" width="7.4" height="1.73" fill="#e8e8e8"/>
<rect x="308.1" y="329.98" width="7.4" height="1.46" fill="#ececec"/>
<rect x="308.1" y="331.39" width="7.4" height="0.76" fill="#efefef"/>
<rect x="308.1" y="332.1" width="7.4" height="0.67" fill="#fbfbfb"/>
<rect x="308.1" y="332.72" width="7.4" height="1.79" fill="#e9e9e9"/>
<rect x="308.1" y="334.46" width="7.4" height="1.49" fill="#ececec"/>
<rect x="308.1" y="335.9" width="7.4" height="1.87" fill="#e0e0e0"/>
<rect x="308.1" y="337.72" width="7.4" height="1.79" fill="#e8e8e8"/>
<rect x="308.1" y="339.46" width="7.4" height="1.04" fill="#f4f4f4"/>
<rect x="308.1" y="340.45" width="7.4" height="1.06" fill="#e1e1e1"/>
<rect x="308.1" y="341.46" width="7.4" height="1.87" fill="#eeeeee"/>
<rect x="308.1" y="343.28" width="7.4" height="1.12" fill="#e9e9e9"/>
<rect x="308.1" y="344.35" width="7.4" height="1.04" fill="#e5e5e5"/>
<rect x="308.1" y="345.34" width="7.4" height="1.93" fill="#f9f9f9"/>
<rect x="308.1" y="347.22" width="7.4" height="0.94" fill="#e3e3e3"/>
<rect x="308.1" y="348.11" width="7.4" height="1.47" fill="#e9e9e9"/>
<rect x="308.1" y="349.53" width="7.4" height="1.93" fill="#e6e6e6"/>
<rect x="308.1" y="351.41" width="7.4" height="0.6" fill="#e3e3e3"/>
<rect x="308.1" y="351.96" width="7.4" height="1.32" fill="#fbfbfb"/>
<rect x="308.1" y="353.22" width="7.4" height="0.64" fill="#d8d8d8"/>
<rect x="308.1" y="353.82" width="7.4" height="1.42" fill="#dbdbdb"/>
<rect x="308.1" y="355.19" width="7.4" height="1.8" fill="#ebebeb"/>
<rect x="308.1" y="356.93" width="7.4" height="1.2" fill="#fafafa"/>
<rect x="308.1" y="358.08" width="7.4" height="1.46" fill="#ededed"/>
<rect x="308.1" y="359.49" width="7.4" height="1.54" fill="#fbfbfb"/>
<rect x="308.1" y="360.98" width="7.4" height="1.13" fill="#fafafa"/>
<rect x="308.1" y="362.06" width="7.4" height="1.27" fill="#e8e8e8"/>
<rect x="308.1" y="363.27" width="7.4" height="0.62" fill="#e2e2e2"/>
<rect x="308.1" y="363.84" width="7.4" height="1.57" fill="#f8f8f8"/>
<rect x="308.1" y="365.36" width="7.4" height="1.72" fill="#ececec"/>
<rect x="308.1" y="367.03" width="7.4" height="1.68" fill="#e8e8e8"/>
<rect x="308.1" y="368.66" width="7.4" height="1.81" fill="#e5e5e5"/>
<rect x="308.1" y="370.43" width="7.4" height="0.92" fill="#efefef"/>
<rect x="308.1" y="371.29" width="7.4" height="0.96" fill="#fefefe"/>
<rect x="308.1" y="372.2" width="7.4" height="1.39" fill="#e8e8e8"/>
<rect x="308.1" y="373.54" width="7.4" height="1.23" fill="#e2e2e2"/>
<rect x="308.1" y="374.71" width="7.4" height="1.18" fill="#ebebeb"/>
<rect x="308.1" y="375.84" width="7.4" height="0.59" fill="#f7f7f7"/>
<rect x="308.1" y="376.38" width="7.4" height="1.81" fill="#fbfbfb"/>
<rect x="308.1" y="378.15" width="7.4" height="1.63" fill="#ececec"/>
<rect x="308.1" y="379.72" width="7.4" height="1.84" fill="#f4f4f4"/>
<rect x="308.1" y="381.51" width="7.4" height="1.27" fill="#e8e8e8"/>
<rect x="308.1" y="382.74" width="7.4" height="0.61" fill="#eaeaea"/>
</g>
<path d="M308.1 225.7 A3.7 3.7 0 0 1 315.5 225.7 L315.5 264.1 A3.7 1.8 0 0 1 308.1 264.1 Z M308.1 266.5 A3.7 1.8 0 0 1 315.5 266.5 L315.5 379.6 A3.7 3.7 0 0 1 308.1 379.6 Z" fill="none" stroke="#9a9a9a" stroke-width="0.5"/>
<text x="311.8" y="390" font-size="4.1" text-anchor="middle" font-family="Liberation Serif, serif" fill="#222" stroke="#222" stroke-width="0.15">4</text>
<line x1="315.5" y1="299.3" x2="317.5" y2="299.3" stroke="#bbb" stroke-width="0.3"/>
<path d="M318.5 297.7L320.1 300.5L316.9 300.5Z" fill="#7a2a8e"/>
<text x="321.5" y="300.6" font-size="3.7" font-family="Liberation Serif, serif" fill="#222" stroke="#222" stroke-width="0.1">MMRN1</text>
<clipPath id="cp3"><path d="M337.25 221.15 A3.85 3.85 0 0 1 344.95 221.15 L344.95 260.6 A3.85 1.8 0 0 1 337.25 260.6 Z M337.25 263 A3.85 1.8 0 0 1 344.95 263 L344.95 379.45 A3.85 3.85 0 0 1 337.25 379.45 Z"/></clipPath>
<g clip-path="url(#cp3)">
<rect x="337.25" y="217.3" width="7.7" height="166" fill="#fff"/>
<rect x="337.25" y="217.3" width="7.7" height="1.25" fill="#ebebeb"/>
<rect x="337.25" y="218.5" width="7.7" height="1.18" fill="#e0e0e0"/>
<rect x="337.25" y="219.62" width="7.7" height="1.02" fill="#e7e7e7"/>
<rect x="337.25" y="220.59" width="7.7" height="0.67" fill="#e5e5e5"/>
<rect x="337.25" y="221.21" width="7.7" height="1.81" fill="#eeeeee"/>
<rect x="337.25" y="222.98" width="7.7" height="0.6" fill="#f9f9f9"/>
<rect x="337.25" y="223.52" width="7.7" height="0.64" fill="#fafafa"/>
<rect x="337.25" y="224.11" width="7.7" height="0.55" fill="#e0e0e0"/>
<rect x="337.25" y="224.61" width="7.7" height="0.89" fill="#d7d7d7"/>
<rect x="337.25" y="225.45" width="7.7" height="0.92" fill="#dddddd"/>
<rect x="337.25" y="226.32" width="7.7" height="0.91" fill="#e3e3e3"/>
<rect x="337.25" y="227.18" width="7.7" height="1.62" fill="#ececec"/>
<rect x="337.25" y="228.75" width="7.7" height="1.61" fill="#f5f5f5"/>
<rect x="337.25" y="230.3" width="7.7" height="1.59" fill="#d4d4d4"/>
<rect x="337.25" y="231.84" width="7.7" height="1.75" fill="#f7f7f7"/>
<rect x="337.25" y="233.55" width="7.7" height="1.44" fill="#f9f9f9"/>
<rect x="337.25" y="234.94" width="7.7" height="1.16" fill="#f4f4f4"/>
<rect x="337.25" y="236.05" width="7.7" height="1.15" fill="#e8e8e8"/>
<rect x="337.25" y="237.15" width="7.7" height="0.64" fill="#efefef"/>
<rect x="337.25" y="237.74" width="7.7" height="1.54" fill="#ebebeb"/>
<rect x="337.25" y="239.23" width="7.7" height="1.1" fill="#e2e2e2"/>
<rect x="337.25" y="240.29" width="7.7" height="0.55" fill="#e7e7e7"/>
<rect x="337.25" y="240.79" width="7.7" height="0.62" fill="#cacaca"/>
<rect x="337.25" y="241.36" width="7.7" height="0.88" fill="#ececec"/>
<rect x="337.25" y="242.19" width="7.7" height="1.22" fill="#e0e0e0"/>
<rect x="337.25" y="243.36" width="7.7" height="1.67" fill="#e5e5e5"/>
<rect x="337.25" y="244.98" width="7.7" height="1.13" fill="#dfdfdf"/>
<rect x="337.25" y="246.05" width="7.7" height="0.97" fill="#d6d6d6"/>
<rect x="337.25" y="246.98" width="7.7" height="1.3" fill="#f8f8f8"/>
<rect x="337.25" y="248.23" width="7.7" height="1.24" fill="#fdfdfd"/>
<rect x="337.25" y="249.41" width="7.7" height="1.61" fill="#d9d9d9"/>
<rect x="337.25" y="250.98" width="7.7" height="0.81" fill="#e1e1e1"/>
<rect x="337.25" y="251.74" width="7.7" height="1.26" fill="#e4e4e4"/>
<rect x="337.25" y="252.95" width="7.7" height="1.64" fill="#efefef"/>
<rect x="337.25" y="254.54" width="7.7" height="1.12" fill="#e2e2e2"/>
<rect x="337.25" y="255.6" width="7.7" height="1.09" fill="#e4e4e4"/>
<rect x="337.25" y="256.65" width="7.7" height="1.65" fill="#e2e2e2"/>
<rect x="337.25" y="258.25" width="7.7" height="0.69" fill="#fafafa"/>
<rect x="337.25" y="258.89" width="7.7" height="0.91" fill="#eeeeee"/>
<rect x="337.25" y="259.75" width="7.7" height="0.6" fill="#eaeaea"/>
<rect x="337.25" y="260.3" width="7.7" height="0.86" fill="#cecece"/>
<rect x="337.25" y="261.11" width="7.7" height="1.45" fill="#f7f7f7"/>
<rect x="337.25" y="262.51" width="7.7" height="0.9" fill="#f4f4f4"/>
<rect x="337.25" y="263.36" width="7.7" height="1.75" fill="#d2d2d2"/>
<rect x="337.25" y="265.06" width="7.7" height="1.88" fill="#eeeeee"/>
<rect x="337.25" y="266.89" width="7.7" height="0.99" fill="#d3d3d3"/>
<rect x="337.25" y="267.83" width="7.7" height="0.79" fill="#ebebeb"/>
<rect x="337.25" y="268.56" width="7.7" height="1.1" fill="#d6d6d6"/>
<rect x="337.25" y="269.62" width="7.7" height="1.86" fill="#ededed"/>
<rect x="337.25" y="271.43" width="7.7" height="1.56" fill="#f4f4f4"/>
<rect x="337.25" y="272.94" width="7.7" height="1.11" fill="#d8d8d8"/>
<rect x="337.25" y="274.01" width="7.7" height="1.51" fill="#fefefe"/>
<rect x="337.25" y="275.47" width="7.7" height="1.05" fill="#f4f4f4"/>
<rect x="337.25" y="276.47" width="7.7" height="0.84" fill="#f5f5f5"/>
<rect x="337.25" y="277.26" width="7.7" height="0.55" fill="#ededed"/>
<rect x="337.25" y="277.76" width="7.7" height="1.03" fill="#cfcfcf"/>
<rect x="337.25" y="278.74" width="7.7" height="1.46" fill="#efefef"/>
<rect x="337.25" y="280.15" width="7.7" height="0.91" fill="#ededed"/>
<rect x="337.25" y="281.01" width="7.7" height="1.21" fill="#d7d7d7"/>
<rect x="337.25" y="282.17" width="7.7" height="1.53" fill="#f8f8f8"/>
<rect x="337.25" y="283.65" width="7.7" height="1.87" fill="#dadada"/>
<rect x="337.25" y="285.46" width="7.7" height="1.3" fill="#cecece"/>
<rect x="337.25" y="286.71" width="7.7" height="1.06" fill="#e6e6e6"/>
<rect x="337.25" y="287.72" width="7.7" height="1.15" fill="#d8d8d8"/>
<rect x="337.25" y="288.83" width="7.7" height="1.65" fill="#d7d7d7"/>
<rect x="337.25" y="290.43" width="7.7" height="1.11" fill="#eeeeee"/>
<rect x="337.25" y="291.49" width="7.7" height="1.86" fill="#dadada"/>
<rect x="337.25" y="293.3" width="7.7" height="1.29" fill="#c6c6c6"/>
<rect x="337.25" y="294.54" width="7.7" height="1.4" fill="#ebebeb"/>
<rect x="337.25" y="295.89" width="7.7" height="1.22" fill="#dedede"/>
<rect x="337.25" y="297.06" width="7.7" height="1.62" fill="#e5e5e5"/>
<rect x="337.25" y="298.63" width="7.7" height="1.11" fill="#dcdcdc"/>
<rect x="337.25" y="299.69" width="7.7" height="1.79" fill="#e6e6e6"/>
<rect x="337.25" y="301.43" width="7.7" height="0.65" fill="#e2e2e2"/>
<rect x="337.25" y="302.04" width="7.7" height="1.04" fill="#e2e2e2"/>
<rect x="337.25" y="303.02" width="7.7" height="1.31" fill="#ebebeb"/>
<rect x="337.25" y="304.28" width="7.7" height="1.25" fill="#e6e6e6"/>
<rect x="337.25" y="305.48" width="7.7" height="0.98" fill="#fcfcfc"/>
<rect x="337.25" y="306.41" width="7.7" height="1.68" fill="#e5e5e5"/>
<rect x="337.25" y="308.04" width="7.7" height="1.04" fill="#dadada"/>
<rect x="337.25" y="309.03" width="7.7" height="0.6" fill="#efefef"/>
<rect x="337.25" y="309.58" width="7.7" height="1.43" fill="#f7f7f7"/>
<rect x="337.25" y="310.96" width="7.7" height="0.95" fill="#cfcfcf"/>
<rect x="337.25" y="311.86" width="7.7" height="1.91" fill="#d5d5d5"/>
<rect x="337.25" y="313.71" width="7.7" height="1.79" fill="#f6f6f6"/>
<rect x="337.25" y="315.46" width="7.7" height="0.74" fill="#cccccc"/>
<rect x="337.25" y="316.15" width="7.7" height="0.82" fill="#d3d3d3"/>
<rect x="337.25" y="316.91" width="7.7" height="1.78" fill="#dfdfdf"/>
<rect x="337.25" y="318.64" width="7.7" height="1.25" fill="#ececec"/>
<rect x="337.25" y="319.84" width="7.7" height="1.08" fill="#f8f8f8"/>
<rect x="337.25" y="320.87" width="7.7" height="1.41" fill="#d9d9d9"/>
<rect x="337.25" y="322.24" width="7.7" height="1.27" fill="#c7c7c7"/>
<rect x="337.25" y="323.45" width="7.7" height="1.45" fill="#f5f5f5"/>
<rect x="337.25" y="324.86" width="7.7" height="0.85" fill="#d4d4d4"/>
<rect x="337.25" y="325.66" width="7.7" height="1.79" fill="#dddddd"/>
<rect x="337.25" y="327.39" width="7.7" height="1.24" fill="#d9d9d9"/>
<rect x="337.25" y="328.58" width="7.7" height="1.12" fill="#e2e2e2"/>
<rect x="337.25" y="329.65" width="7.7" height="0.84" fill="#ededed"/>
<rect x="337.25" y="330.44" width="7.7" height="0.96" fill="#f9f9f9"/>
<rect x="337.25" y="331.35" width="7.7" height="0.81" fill="#e1e1e1"/>
<rect x="337.25" y="332.11" width="7.7" height="0.99" fill="#e7e7e7"/>
<rect x="337.25" y="333.05" width="7.7" height="1.07" fill="#e7e7e7"/>
<rect x="337.25" y="334.07" width="7.7" height="1.15" fill="#e8e8e8"/>
<rect x="337.25" y="335.17" width="7.7" height="1.42" fill="#ededed"/>
<rect x="337.25" y="336.54" width="7.7" height="1.89" fill="#bbbbbb"/>
<rect x="337.25" y="338.38" width="7.7" height="0.86" fill="#b4b4b4"/>
<rect x="337.25" y="339.18" width="7.7" height="1.1" fill="#b8b8b8"/>
<rect x="337.25" y="340.23" width="7.7" height="1.87" fill="#c0c0c0"/>
<rect x="337.25" y="342.06" width="7.7" height="1.42" fill="#e7e7e7"/>
<rect x="337.25" y="343.43" width="7.7" height="0.86" fill="#fdfdfd"/>
<rect x="337.25" y="344.24" width="7.7" height="1.78" fill="#c0c0c0"/>
<rect x="337.25" y="345.98" width="7.7" height="1" fill="#d3d3d3"/>
<rect x="337.25" y="346.93" width="7.7" height="0.57" fill="#e5e5e5"/>
<rect x="337.25" y="347.45" width="7.7" height="1.59" fill="#fdfdfd"/>
<rect x="337.25" y="349" width="7.7" height="0.6" fill="#dfdfdf"/>
<rect x="337.25" y="349.55" width="7.7" height="1.55" fill="#e0e0e0"/>
<rect x="337.25" y="351.05" width="7.7" height="0.78" fill="#fdfdfd"/>
<rect x="337.25" y="351.78" width="7.7" height="1.26" fill="#e4e4e4"/>
<rect x="337.25" y="352.99" width="7.7" height="1.03" fill="#d5d5d5"/>
<rect x="337.25" y="353.97" width="7.7" height="0.74" fill="#e4e4e4"/>
<rect x="337.25" y="354.67" width="7.7" height="1.28" fill="#efefef"/>
<rect x="337.25" y="355.89" width="7.7" height="1.12" fill="#fefefe"/>
<rect x="337.25" y="356.96" width="7.7" height="1.48" fill="#dcdcdc"/>
<rect x="337.25" y="358.39" width="7.7" height="1.01" fill="#e7e7e7"/>
<rect x="337.25" y="359.35" width="7.7" height="1.42" fill="#e1e1e1"/>
<rect x="337.25" y="360.72" width="7.7" height="0.65" fill="#e6e6e6"/>
<rect x="337.25" y="361.32" width="7.7" height="0.86" fill="#eeeeee"/>
<rect x="337.25" y="362.13" width="7.7" height="1.86" fill="#ebebeb"/>
<rect x="337.25" y="363.94" width="7.7" height="1.12" fill="#d9d9d9"/>
<rect x="337.25" y="365.01" width="7.7" height="0.73" fill="#e7e7e7"/>
<rect x="337.25" y="365.7" width="7.7" height="0.8" fill="#ececec"/>
<rect x="337.25" y="366.45" width="7.7" height="1.86" fill="#e5e5e5"/>
<rect x="337.25" y="368.26" width="7.7" height="0.61" fill="#f5f5f5"/>
<rect x="337.25" y="368.81" width="7.7" height="1.16" fill="#eeeeee"/>
<rect x="337.25" y="369.92" width="7.7" height="1.65" fill="#cbcbcb"/>
<rect x="337.25" y="371.52" width="7.7" height="0.94" fill="#d6d6d6"/>
<rect x="337.25" y="372.42" width="7.7" height="1.64" fill="#e3e3e3"/>
<rect x="337.25" y="374" width="7.7" height="1.07" fill="#cbcbcb"/>
<rect x="337.25" y="375.03" width="7.7" height="0.68" fill="#dbdbdb"/>
<rect x="337.25" y="375.65" width="7.7" height="1.85" fill="#ececec"/>
<rect x="337.25" y="377.45" width="7.7" height="1.07" fill="#fafafa"/>
<rect x="337.25" y="378.48" width="7.7" height="1.1" fill="#eeeeee"/>
<rect x="337.25" y="379.53" width="7.7" height="1.53" fill="#ebebeb"/>
<rect x="337.25" y="381.01" width="7.7" height="1.47" fill="#e8e8e8"/>
<rect x="337.25" y="382.43" width="7.7" height="0.92" fill="#d4d4d4"/>
</g>
<path d="M337.25 221.15 A3.85 3.85 0 0 1 344.95 221.15 L344.95 260.6 A3.85 1.8 0 0 1 337.25 260.6 Z M337.25 263 A3.85 1.8 0 0 1 344.95 263 L344.95 379.45 A3.85 3.85 0 0 1 337.25 379.45 Z" fill="none" stroke="#9a9a9a" stroke-width="0.5"/>
<text x="341.1" y="390" font-size="4.1" text-anchor="middle" font-family="Liberation Serif, serif" fill="#222" stroke="#222" stroke-width="0.15">5</text>
<line x1="344.95" y1="285.4" x2="346.95" y2="285.4" stroke="#bbb" stroke-width="0.3"/>
<circle cx="347.95" cy="285.4" r="1.55" fill="#e41a1c"/>
<text x="350.95" y="286.7" font-size="3.7" font-family="Liberation Serif, serif" fill="#e0242a" stroke="#e0242a" stroke-width="0.1">HMGCR</text>
<line x1="344.95" y1="338.7" x2="346.95" y2="338.7" stroke="#bbb" stroke-width="0.3"/>
<path d="M347.95 337.1L349.55 339.9L346.35 339.9Z" fill="#7a2a8e"/>
<text x="350.95" y="340" font-size="3.7" font-family="Liberation Serif, serif" fill="#222" stroke="#222" stroke-width="0.1">HSPA4</text>
<clipPath id="cp4"><path d="M367.35 232.95 A3.65 3.65 0 0 1 374.65 232.95 L374.65 281.4 A3.65 1.8 0 0 1 367.35 281.4 Z M367.35 283.8 A3.65 1.8 0 0 1 374.65 283.8 L374.65 379.65 A3.65 3.65 0 0 1 367.35 379.65 Z"/></clipPath>
<g clip-path="url(#cp4)">
<rect x="367.35" y="229.3" width="7.3" height="154" fill="#fff"/>
<rect x="367.35" y="229.3" width="7.3" height="1.14" fill="#c9c9c9"/>
<rect x="367.35" y="230.39" width="7.3" height="1.52" fill="#e3e3e3"/>
<rect x="367.35" y="231.86" width="7.3" height="1.71" fill="#d4d4d4"/>
<rect x="367.35" y="233.52" width="7.3" height="1.46" fill="#ebebeb"/>
<rect x="367.35" y="234.93" width="7.3" height="1.68" fill="#d7d7d7"/>
<rect x="367.35" y="236.57" width="7.3" height="1.26" fill="#e2e2e2"/>
<rect x="367.35" y="237.77" width="7.3" height="0.59" fill="#fdfdfd"/>
<rect x="367.35" y="238.31" width="7.3" height="1" fill="#e1e1e1"/>
<rect x="367.35" y="239.27" width="7.3" height="0.72" fill="#c0c0c0"/>
<rect x="367.35" y="239.93" width="7.3" height="1.93" fill="#e3e3e3"/>
<rect x="367.35" y="241.81" width="7.3" height="0.57" fill="#d7d7d7"/>
<rect x="367.35" y="242.33" width="7.3" height="1.88" fill="#fcfcfc"/>
<rect x="367.35" y="244.16" width="7.3" height="1.48" fill="#cacaca"/>
<rect x="367.35" y="245.59" width="7.3" height="1.17" fill="#c4c4c4"/>
<rect x="367.35" y="246.7" width="7.3" height="1.58" fill="#cfcfcf"/>
<rect x="367.35" y="248.23" width="7.3" height="1.3" fill="#e9e9e9"/>
<rect x="367.35" y="249.48" width="7.3" height="0.76" fill="#e6e6e6"/>
<rect x="367.35" y="250.19" width="7.3" height="1.56" fill="#eaeaea"/>
<rect x="367.35" y="251.7" width="7.3" height="1.84" fill="#ececec"/>
<rect x="367.35" y="253.48" width="7.3" height="1.34" fill="#b0b0b0"/>
<rect x="367.35" y="254.77" width="7.3" height="1.88" fill="#b2b2b2"/>
<rect x="367.35" y="256.6" width="7.3" height="1.24" fill="#acacac"/>
<rect x="367.35" y="257.79" width="7.3" height="0.7" fill="#bebebe"/>
<rect x="367.35" y="258.45" width="7.3" height="1.25" fill="#bdbdbd"/>
<rect x="367.35" y="259.64" width="7.3" height="1.16" fill="#efefef"/>
<rect x="367.35" y="260.75" width="7.3" height="0.57" fill="#e9e9e9"/>
<rect x="367.35" y="261.27" width="7.3" height="0.94" fill="#e3e3e3"/>
<rect x="367.35" y="262.16" width="7.3" height="1.52" fill="#eaeaea"/>
<rect x="367.35" y="263.63" width="7.3" height="1.4" fill="#f4f4f4"/>
<rect x="367.35" y="264.98" width="7.3" height="1.6" fill="#cacaca"/>
<rect x="367.35" y="266.53" width="7.3" height="1.9" fill="#d8d8d8"/>
<rect x="367.35" y="268.38" width="7.3" height="1.37" fill="#d2d2d2"/>
<rect x="367.35" y="269.69" width="7.3" height="0.85" fill="#dfdfdf"/>
<rect x="367.35" y="270.49" width="7.3" height="0.7" fill="#efefef"/>
<rect x="367.35" y="271.14" width="7.3" height="1.57" fill="#d5d5d5"/>
<rect x="367.35" y="272.66" width="7.3" height="1.09" fill="#e3e3e3"/>
<rect x="367.35" y="273.7" width="7.3" height="1.02" fill="#dedede"/>
<rect x="367.35" y="274.67" width="7.3" height="1.3" fill="#eeeeee"/>
<rect x="367.35" y="275.92" width="7.3" height="0.57" fill="#f7f7f7"/>
<rect x="367.35" y="276.44" width="7.3" height="1.72" fill="#d9d9d9"/>
<rect x="367.35" y="278.11" width="7.3" height="1.69" fill="#f9f9f9"/>
<rect x="367.35" y="279.75" width="7.3" height="1.18" fill="#e1e1e1"/>
<rect x="367.35" y="280.88" width="7.3" height="0.86" fill="#e9e9e9"/>
<rect x="367.35" y="281.69" width="7.3" height="0.88" fill="#e9e9e9"/>
<rect x="367.35" y="282.53" width="7.3" height="1.41" fill="#c4c4c4"/>
<rect x="367.35" y="283.89" width="7.3" height="0.59" fill="#dadada"/>
<rect x="367.35" y="284.43" width="7.3" height="1.74" fill="#e9e9e9"/>
<rect x="367.35" y="286.12" width="7.3" height="0.89" fill="#dbdbdb"/>
<rect x="367.35" y="286.96" width="7.3" height="1.2" fill="#e8e8e8"/>
<rect x="367.35" y="288.11" width="7.3" height="0.7" fill="#e5e5e5"/>
<rect x="367.35" y="288.76" width="7.3" height="1.79" fill="#e1e1e1"/>
<rect x="367.35" y="290.49" width="7.3" height="0.98" fill="#f5f5f5"/>
<rect x="367.35" y="291.43" width="7.3" height="1.43" fill="#e9e9e9"/>
<rect x="367.35" y="292.81" width="7.3" height="0.74" fill="#efefef"/>
<rect x="367.35" y="293.5" width="7.3" height="1.8" fill="#efefef"/>
<rect x="367.35" y="295.25" width="7.3" height="0.81" fill="#ebebeb"/>
<rect x="367.35" y="296.01" width="7.3" height="1.87" fill="#fcfcfc"/>
<rect x="367.35" y="297.83" width="7.3" height="1.58" fill="#e3e3e3"/>
<rect x="367.35" y="299.35" width="7.3" height="1.51" fill="#dfdfdf"/>
<rect x="367.35" y="300.81" width="7.3" height="0.98" fill="#e8e8e8"/>
<rect x="367.35" y="301.74" width="7.3" height="1.72" fill="#e4e4e4"/>
<rect x="367.35" y="303.41" width="7.3" height="0.59" fill="#fcfcfc"/>
<rect x="367.35" y="303.95" width="7.3" height="1.75" fill="#c0c0c0"/>
<rect x="367.35" y="305.65" width="7.3" height="0.96" fill="#e1e1e1"/>
<rect x="367.35" y="306.56" width="7.3" height="1.35" fill="#e9e9e9"/>
<rect x="367.35" y="307.87" width="7.3" height="1.26" fill="#e8e8e8"/>
<rect x="367.35" y="309.08" width="7.3" height="1.86" fill="#e7e7e7"/>
<rect x="367.35" y="310.89" width="7.3" height="1.7" fill="#e0e0e0"/>
<rect x="367.35" y="312.54" width="7.3" height="0.57" fill="#fdfdfd"/>
<rect x="367.35" y="313.06" width="7.3" height="1.78" fill="#e6e6e6"/>
<rect x="367.35" y="314.79" width="7.3" height="1.94" fill="#e2e2e2"/>
<rect x="367.35" y="316.69" width="7.3" height="0.83" fill="#f7f7f7"/>
<rect x="367.35" y="317.47" width="7.3" height="1.23" fill="#ececec"/>
<rect x="367.35" y="318.65" width="7.3" height="0.73" fill="#d4d4d4"/>
<rect x="367.35" y="319.33" width="7.3" height="1.33" fill="#c6c6c6"/>
<rect x="367.35" y="320.62" width="7.3" height="1.62" fill="#e3e3e3"/>
<rect x="367.35" y="322.19" width="7.3" height="1.34" fill="#fdfdfd"/>
<rect x="367.35" y="323.48" width="7.3" height="1.81" fill="#dfdfdf"/>
<rect x="367.35" y="325.25" width="7.3" height="1.19" fill="#fafafa"/>
<rect x="367.35" y="326.39" width="7.3" height="1.3" fill="#cdcdcd"/>
<rect x="367.35" y="327.64" width="7.3" height="1.29" fill="#e7e7e7"/>
<rect x="367.35" y="328.89" width="7.3" height="0.59" fill="#e5e5e5"/>
<rect x="367.35" y="329.42" width="7.3" height="1.66" fill="#f8f8f8"/>
<rect x="367.35" y="331.03" width="7.3" height="0.66" fill="#c6c6c6"/>
<rect x="367.35" y="331.64" width="7.3" height="0.81" fill="#e3e3e3"/>
<rect x="367.35" y="332.4" width="7.3" height="0.67" fill="#dfdfdf"/>
<rect x="367.35" y="333.02" width="7.3" height="0.56" fill="#f6f6f6"/>
<rect x="367.35" y="333.53" width="7.3" height="0.89" fill="#e0e0e0"/>
<rect x="367.35" y="334.37" width="7.3" height="1.76" fill="#fdfdfd"/>
<rect x="367.35" y="336.08" width="7.3" height="0.74" fill="#d8d8d8"/>
<rect x="367.35" y="336.77" width="7.3" height="1.62" fill="#e8e8e8"/>
<rect x="367.35" y="338.34" width="7.3" height="1.21" fill="#dddddd"/>
<rect x="367.35" y="339.5" width="7.3" height="0.74" fill="#d6d6d6"/>
<rect x="367.35" y="340.19" width="7.3" height="1.2" fill="#ededed"/>
<rect x="367.35" y="341.33" width="7.3" height="0.84" fill="#ededed"/>
<rect x="367.35" y="342.13" width="7.3" height="1.13" fill="#e7e7e7"/>
<rect x="367.35" y="343.21" width="7.3" height="1.83" fill="#dcdcdc"/>
<rect x="367.35" y="344.99" width="7.3" height="1.52" fill="#e6e6e6"/>
<rect x="367.35" y="346.45" width="7.3" height="1.7" fill="#eeeeee"/>
<rect x="367.35" y="348.11" width="7.3" height="1.6" fill="#d8d8d8"/>
<rect x="367.35" y="349.66" width="7.3" height="1.04" fill="#ebebeb"/>
<rect x="367.35" y="350.65" width="7.3" height="1.18" fill="#efefef"/>
<rect x="367.35" y="351.78" width="7.3" height="1.79" fill="#f5f5f5"/>
<rect x="367.35" y="353.52" width="7.3" height="0.6" fill="#d4d4d4"/>
<rect x="367.35" y="354.07" width="7.3" height="1.22" fill="#e6e6e6"/>
<rect x="367.35" y="355.23" width="7.3" height="0.8" fill="#f8f8f8"/>
<rect x="367.35" y="355.98" width="7.3" height="0.76" fill="#e8e8e8"/>
<rect x="367.35" y="356.7" width="7.3" height="0.85" fill="#dbdbdb"/>
<rect x="367.35" y="357.5" width="7.3" height="1.53" fill="#fafafa"/>
<rect x="367.35" y="358.98" width="7.3" height="1.41" fill="#fafafa"/>
<rect x="367.35" y="360.34" width="7.3" height="0.9" fill="#e8e8e8"/>
<rect x="367.35" y="361.19" width="7.3" height="1.02" fill="#fdfdfd"/>
<rect x="367.35" y="362.16" width="7.3" height="0.99" fill="#e4e4e4"/>
<rect x="367.35" y="363.1" width="7.3" height="1.84" fill="#e2e2e2"/>
<rect x="367.35" y="364.9" width="7.3" height="1.17" fill="#dedede"/>
<rect x="367.35" y="366.01" width="7.3" height="1.27" fill="#ececec"/>
<rect x="367.35" y="367.23" width="7.3" height="1.16" fill="#fcfcfc"/>
<rect x="367.35" y="368.34" width="7.3" height="1.05" fill="#fdfdfd"/>
<rect x="367.35" y="369.34" width="7.3" height="0.7" fill="#d7d7d7"/>
<rect x="367.35" y="369.99" width="7.3" height="1.15" fill="#dedede"/>
<rect x="367.35" y="371.1" width="7.3" height="1.39" fill="#f5f5f5"/>
<rect x="367.35" y="372.44" width="7.3" height="1.29" fill="#efefef"/>
<rect x="367.35" y="373.68" width="7.3" height="0.86" fill="#e4e4e4"/>
<rect x="367.35" y="374.49" width="7.3" height="0.86" fill="#dbdbdb"/>
<rect x="367.35" y="375.3" width="7.3" height="1.28" fill="#d6d6d6"/>
<rect x="367.35" y="376.53" width="7.3" height="1.55" fill="#ededed"/>
<rect x="367.35" y="378.03" width="7.3" height="1.42" fill="#dcdcdc"/>
<rect x="367.35" y="379.4" width="7.3" height="1.45" fill="#ebebeb"/>
<rect x="367.35" y="380.8" width="7.3" height="1.59" fill="#eaeaea"/>
<rect x="367.35" y="382.34" width="7.3" height="1.01" fill="#f4f4f4"/>
</g>
<path d="M367.35 232.95 A3.65 3.65 0 0 1 374.65 232.95 L374.65 281.4 A3.65 1.8 0 0 1 367.35 281.4 Z M367.35 283.8 A3.65 1.8 0 0 1 374.65 283.8 L374.65 379.65 A3.65 3.65 0 0 1 367.35 379.65 Z" fill="none" stroke="#9a9a9a" stroke-width="0.5"/>
<text x="371" y="390" font-size="4.1" text-anchor="middle" font-family="Liberation Serif, serif" fill="#222" stroke="#222" stroke-width="0.15">6</text>
<line x1="374.65" y1="250.4" x2="376.65" y2="250.4" stroke="#bbb" stroke-width="0.3"/>
<path d="M377.65 248.8L379.25 251.6L376.05 251.6Z" fill="#7a2a8e"/>
<text x="380.65" y="251.7" font-size="3.7" font-family="Liberation Serif, serif" fill="#222" stroke="#222" stroke-width="0.1">NCR3</text>
<line x1="374.65" y1="253.9" x2="376.65" y2="253.9" stroke="#bbb" stroke-width="0.3"/>
<rect x="376.2" y="252.45" width="2.9" height="2.9" fill="#4daf4a"/>
<text x="380.65" y="255.2" font-size="3.7" font-family="Liberation Serif, serif" fill="#222" stroke="#222" stroke-width="0.1">HSPA1B</text>
<line x1="374.65" y1="259" x2="376.65" y2="259" stroke="#bbb" stroke-width="0.3"/>
<path d="M377.65 257.4L379.25 260.2L376.05 260.2Z" fill="#7a2a8e"/>
<text x="380.65" y="260.3" font-size="3.7" font-family="Liberation Serif, serif" fill="#e0242a" stroke="#e0242a" stroke-width="0.1">KCNK5</text>
<line x1="374.65" y1="262.3" x2="376.65" y2="262.3" stroke="#bbb" stroke-width="0.3"/>
<rect x="376.2" y="260.85" width="2.9" height="2.9" fill="#4daf4a"/>
<text x="380.65" y="263.6" font-size="3.7" font-family="Liberation Serif, serif" fill="#222" stroke="#222" stroke-width="0.1">BAG6</text>
<line x1="374.65" y1="265.1" x2="376.65" y2="265.1" stroke="#bbb" stroke-width="0.3"/>
<rect x="376.2" y="263.65" width="2.9" height="2.9" fill="#4daf4a"/>
<text x="380.65" y="266.4" font-size="3.7" font-family="Liberation Serif, serif" fill="#e0242a" stroke="#e0242a" stroke-width="0.1">NEU1</text>
<line x1="374.65" y1="268.6" x2="376.65" y2="268.6" stroke="#bbb" stroke-width="0.3"/>
<path d="M377.65 267L379.25 269.8L376.05 269.8Z" fill="#7a2a8e"/>
<text x="380.65" y="269.9" font-size="3.7" font-family="Liberation Serif, serif" fill="#222" stroke="#222" stroke-width="0.1">BRPF3</text>
<line x1="374.65" y1="339.1" x2="376.65" y2="339.1" stroke="#bbb" stroke-width="0.3"/>
<rect x="376.2" y="337.65" width="2.9" height="2.9" fill="#4daf4a"/>
<text x="380.65" y="340.4" font-size="3.7" font-family="Liberation Serif, serif" fill="#e0242a" stroke="#e0242a" stroke-width="0.1">TBC1D32</text>
<line x1="374.65" y1="364.8" x2="376.65" y2="364.8" stroke="#bbb" stroke-width="0.3"/>
<rect x="376.2" y="363.35" width="2.9" height="2.9" fill="#4daf4a"/>
<text x="380.65" y="366.1" font-size="3.7" font-family="Liberation Serif, serif" fill="#222" stroke="#222" stroke-width="0.1">ULBP1</text>
<clipPath id="cp5"><path d="M402.2 262.7 A3.7 3.7 0 0 1 409.6 262.7 L409.6 297.8 A3.7 1.8 0 0 1 402.2 297.8 Z M402.2 300.2 A3.7 1.8 0 0 1 409.6 300.2 L409.6 379.6 A3.7 3.7 0 0 1 402.2 379.6 Z"/></clipPath>
<g clip-path="url(#cp5)">
<rect x="402.2" y="259" width="7.4" height="124.3" fill="#fff"/>
<rect x="402.2" y="259" width="7.4" height="1.23" fill="#d9d9d9"/>
<rect x="402.2" y="260.18" width="7.4" height="1.78" fill="#efefef"/>
<rect x="402.2" y="261.9" width="7.4" height="1.05" fill="#e7e7e7"/>
<rect x="402.2" y="262.9" width="7.4" height="1.35" fill="#ececec"/>
<rect x="402.2" y="264.21" width="7.4" height="1.68" fill="#e9e9e9"/>
<rect x="402.2" y="265.84" width="7.4" height="0.61" fill="#d6d6d6"/>
<rect x="402.2" y="266.4" width="7.4" height="0.68" fill="#f7f7f7"/>
<rect x="402.2" y="267.03" width="7.4" height="0.72" fill="#ededed"/>
<rect x="402.2" y="267.7" width="7.4" height="1.38" fill="#e5e5e5"/>
<rect x="402.2" y="269.04" width="7.4" height="1.73" fill="#e8e8e8"/>
<rect x="402.2" y="270.72" width="7.4" height="0.92" fill="#dbdbdb"/>
<rect x="402.2" y="271.59" width="7.4" height="1.74" fill="#e9e9e9"/>
<rect x="402.2" y="273.28" width="7.4" height="1.19" fill="#ededed"/>
<rect x="402.2" y="274.42" width="7.4" height="1.39" fill="#cdcdcd"/>
<rect x="402.2" y="275.75" width="7.4" height="0.58" fill="#e4e4e4"/>
<rect x="402.2" y="276.28" width="7.4" height="1.67" fill="#d4d4d4"/>
<rect x="402.2" y="277.9" width="7.4" height="1.85" fill="#ededed"/>
<rect x="402.2" y="279.69" width="7.4" height="1.43" fill="#f9f9f9"/>
<rect x="402.2" y="281.08" width="7.4" height="1.19" fill="#f5f5f5"/>
<rect x="402.2" y="282.22" width="7.4" height="0.64" fill="#d8d8d8"/>
<rect x="402.2" y="282.81" width="7.4" height="0.82" fill="#e3e3e3"/>
<rect x="402.2" y="283.58" width="7.4" height="0.96" fill="#e7e7e7"/>
<rect x="402.2" y="284.49" width="7.4" height="1.22" fill="#d2d2d2"/>
<rect x="402.2" y="285.66" width="7.4" height="1.16" fill="#fefefe"/>
<rect x="402.2" y="286.77" width="7.4" height="1.05" fill="#fdfdfd"/>
<rect x="402.2" y="287.77" width="7.4" height="0.84" fill="#eaeaea"/>
<rect x="402.2" y="288.55" width="7.4" height="1.86" fill="#b8b8b8"/>
<rect x="402.2" y="290.37" width="7.4" height="0.62" fill="#c5c5c5"/>
<rect x="402.2" y="290.93" width="7.4" height="0.71" fill="#afafaf"/>
<rect x="402.2" y="291.59" width="7.4" height="1.57" fill="#c7c7c7"/>
<rect x="402.2" y="293.11" width="7.4" height="1.08" fill="#bababa"/>
<rect x="402.2" y="294.14" width="7.4" height="1.15" fill="#c0c0c0"/>
<rect x="402.2" y="295.24" width="7.4" height="0.8" fill="#b6b6b6"/>
<rect x="402.2" y="295.99" width="7.4" height="1.56" fill="#b0b0b0"/>
<rect x="402.2" y="297.5" width="7.4" height="1.28" fill="#b2b2b2"/>
<rect x="402.2" y="298.73" width="7.4" height="1.45" fill="#b1b1b1"/>
<rect x="402.2" y="300.13" width="7.4" height="1.68" fill="#fcfcfc"/>
<rect x="402.2" y="301.76" width="7.4" height="1.5" fill="#fcfcfc"/>
<rect x="402.2" y="303.21" width="7.4" height="1.52" fill="#fcfcfc"/>
<rect x="402.2" y="304.68" width="7.4" height="1.11" fill="#fcfcfc"/>
<rect x="402.2" y="305.74" width="7.4" height="0.64" fill="#fcfcfc"/>
<rect x="402.2" y="306.33" width="7.4" height="1.45" fill="#fcfcfc"/>
<rect x="402.2" y="307.74" width="7.4" height="1.1" fill="#fcfcfc"/>
<rect x="402.2" y="308.78" width="7.4" height="1.02" fill="#fcfcfc"/>
<rect x="402.2" y="309.75" width="7.4" height="1.44" fill="#fcfcfc"/>
<rect x="402.2" y="311.14" width="7.4" height="1.79" fill="#fcfcfc"/>
<rect x="402.2" y="312.89" width="7.4" height="1.52" fill="#fcfcfc"/>
<rect x="402.2" y="314.35" width="7.4" height="1.94" fill="#e5e5e5"/>
<rect x="402.2" y="316.25" width="7.4" height="1.38" fill="#ededed"/>
<rect x="402.2" y="317.58" width="7.4" height="0.77" fill="#e6e6e6"/>
<rect x="402.2" y="318.29" width="7.4" height="0.82" fill="#e8e8e8"/>
<rect x="402.2" y="319.07" width="7.4" height="1.01" fill="#dbdbdb"/>
<rect x="402.2" y="320.03" width="7.4" height="1.95" fill="#d7d7d7"/>
<rect x="402.2" y="321.93" width="7.4" height="1.79" fill="#e5e5e5"/>
<rect x="402.2" y="323.67" width="7.4" height="1.48" fill="#f4f4f4"/>
<rect x="402.2" y="325.1" width="7.4" height="1.87" fill="#fafafa"/>
<rect x="402.2" y="326.93" width="7.4" height="1.19" fill="#ededed"/>
<rect x="402.2" y="328.07" width="7.4" height="1.75" fill="#f4f4f4"/>
<rect x="402.2" y="329.77" width="7.4" height="1.28" fill="#eaeaea"/>
<rect x="402.2" y="331" width="7.4" height="1.63" fill="#c6c6c6"/>
<rect x="402.2" y="332.59" width="7.4" height="1.12" fill="#fcfcfc"/>
<rect x="402.2" y="333.66" width="7.4" height="0.57" fill="#f9f9f9"/>
<rect x="402.2" y="334.18" width="7.4" height="0.69" fill="#fafafa"/>
<rect x="402.2" y="334.82" width="7.4" height="1.52" fill="#e8e8e8"/>
<rect x="402.2" y="336.29" width="7.4" height="1.88" fill="#f9f9f9"/>
<rect x="402.2" y="338.11" width="7.4" height="0.95" fill="#d5d5d5"/>
<rect x="402.2" y="339.01" width="7.4" height="1.04" fill="#e0e0e0"/>
<rect x="402.2" y="340" width="7.4" height="0.6" fill="#fbfbfb"/>
<rect x="402.2" y="340.55" width="7.4" height="1.44" fill="#e0e0e0"/>
<rect x="402.2" y="341.94" width="7.4" height="1.29" fill="#f9f9f9"/>
<rect x="402.2" y="343.18" width="7.4" height="1.74" fill="#efefef"/>
<rect x="402.2" y="344.88" width="7.4" height="1.72" fill="#dadada"/>
<rect x="402.2" y="346.55" width="7.4" height="1.92" fill="#ebebeb"/>
<rect x="402.2" y="348.42" width="7.4" height="0.91" fill="#d8d8d8"/>
<rect x="402.2" y="349.28" width="7.4" height="1.94" fill="#e7e7e7"/>
<rect x="402.2" y="351.18" width="7.4" height="1.27" fill="#e4e4e4"/>
<rect x="402.2" y="352.4" width="7.4" height="1.85" fill="#ededed"/>
<rect x="402.2" y="354.2" width="7.4" height="1" fill="#f4f4f4"/>
<rect x="402.2" y="355.15" width="7.4" height="1.47" fill="#dadada"/>
<rect x="402.2" y="356.57" width="7.4" height="0.92" fill="#e6e6e6"/>
<rect x="402.2" y="357.44" width="7.4" height="1.09" fill="#e1e1e1"/>
<rect x="402.2" y="358.48" width="7.4" height="1.3" fill="#e8e8e8"/>
<rect x="402.2" y="359.74" width="7.4" height="1.67" fill="#dadada"/>
<rect x="402.2" y="361.36" width="7.4" height="0.99" fill="#eaeaea"/>
<rect x="402.2" y="362.3" width="7.4" height="0.9" fill="#eaeaea"/>
<rect x="402.2" y="363.14" width="7.4" height="1.69" fill="#c1c1c1"/>
<rect x="402.2" y="364.78" width="7.4" height="0.9" fill="#e4e4e4"/>
<rect x="402.2" y="365.63" width="7.4" height="0.83" fill="#d4d4d4"/>
<rect x="402.2" y="366.41" width="7.4" height="0.65" fill="#e3e3e3"/>
<rect x="402.2" y="367.01" width="7.4" height="1.9" fill="#efefef"/>
<rect x="402.2" y="368.86" width="7.4" height="1.48" fill="#f4f4f4"/>
<rect x="402.2" y="370.3" width="7.4" height="1.01" fill="#d4d4d4"/>
<rect x="402.2" y="371.26" width="7.4" height="0.71" fill="#fefefe"/>
<rect x="402.2" y="371.92" width="7.4" height="1.73" fill="#dddddd"/>
<rect x="402.2" y="373.6" width="7.4" height="1.93" fill="#fafafa"/>
<rect x="402.2" y="375.48" width="7.4" height="0.86" fill="#e7e7e7"/>
<rect x="402.2" y="376.29" width="7.4" height="0.73" fill="#e5e5e5"/>
<rect x="402.2" y="376.96" width="7.4" height="0.65" fill="#dfdfdf"/>
<rect x="402.2" y="377.56" width="7.4" height="1.74" fill="#dddddd"/>
<rect x="402.2" y="379.25" width="7.4" height="1.39" fill="#e1e1e1"/>
<rect x="402.2" y="380.6" width="7.4" height="0.86" fill="#e7e7e7"/>
<rect x="402.2" y="381.4" width="7.4" height="1.28" fill="#fcfcfc"/>
<rect x="402.2" y="382.64" width="7.4" height="0.71" fill="#ebebeb"/>
</g>
<path d="M402.2 262.7 A3.7 3.7 0 0 1 409.6 262.7 L409.6 297.8 A3.7 1.8 0 0 1 402.2 297.8 Z M402.2 300.2 A3.7 1.8 0 0 1 409.6 300.2 L409.6 379.6 A3.7 3.7 0 0 1 402.2 379.6 Z" fill="none" stroke="#9a9a9a" stroke-width="0.5"/>
<text x="405.9" y="390" font-size="4.1" text-anchor="middle" font-family="Liberation Serif, serif" fill="#222" stroke="#222" stroke-width="0.15">9</text>
<line x1="409.6" y1="291.7" x2="411.6" y2="291.7" stroke="#bbb" stroke-width="0.3"/>
<path d="M412.6 290.1L414.2 292.9L411 292.9Z" fill="#7a2a8e"/>
<text x="415.6" y="293" font-size="3.7" font-family="Liberation Serif, serif" fill="#222" stroke="#222" stroke-width="0.1">TLN1</text>
<line x1="409.6" y1="347.2" x2="411.6" y2="347.2" stroke="#bbb" stroke-width="0.3"/>
<rect x="411.15" y="345.75" width="2.9" height="2.9" fill="#4daf4a"/>
<text x="415.6" y="348.5" font-size="3.7" font-family="Liberation Serif, serif" fill="#222" stroke="#222" stroke-width="0.1">PTCH1</text>
<clipPath id="cp6"><path d="M435.75 266.65 A3.65 3.65 0 0 1 443.05 266.65 L443.05 299 A3.65 1.8 0 0 1 435.75 299 Z M435.75 301.4 A3.65 1.8 0 0 1 443.05 301.4 L443.05 379.65 A3.65 3.65 0 0 1 435.75 379.65 Z"/></clipPath>
<g clip-path="url(#cp6)">
<rect x="435.75" y="263" width="7.3" height="120.3" fill="#fff"/>
<rect x="435.75" y="263" width="7.3" height="1.04" fill="#f4f4f4"/>
<rect x="435.75" y="263.99" width="7.3" height="1.85" fill="#e0e0e0"/>
<rect x="435.75" y="265.79" width="7.3" height="0.84" fill="#ececec"/>
<rect x="435.75" y="266.58" width="7.3" height="0.98" fill="#f4f4f4"/>
<rect x="435.75" y="267.51" width="7.3" height="1.77" fill="#e4e4e4"/>
<rect x="435.75" y="269.24" width="7.3" height="1.93" fill="#ececec"/>
<rect x="435.75" y="271.11" width="7.3" height="1.58" fill="#fcfcfc"/>
<rect x="435.75" y="272.64" width="7.3" height="1.93" fill="#c1c1c1"/>
<rect x="435.75" y="274.53" width="7.3" height="1.41" fill="#dddddd"/>
<rect x="435.75" y="275.89" width="7.3" height="1.08" fill="#e6e6e6"/>
<rect x="435.75" y="276.92" width="7.3" height="1.28" fill="#eaeaea"/>
<rect x="435.75" y="278.15" width="7.3" height="1.45" fill="#e7e7e7"/>
<rect x="435.75" y="279.56" width="7.3" height="1.88" fill="#e8e8e8"/>
<rect x="435.75" y="281.38" width="7.3" height="1.95" fill="#dadada"/>
<rect x="435.75" y="283.28" width="7.3" height="1.29" fill="#c6c6c6"/>
<rect x="435.75" y="284.52" width="7.3" height="0.78" fill="#e1e1e1"/>
<rect x="435.75" y="285.25" width="7.3" height="1.73" fill="#c1c1c1"/>
<rect x="435.75" y="286.93" width="7.3" height="0.64" fill="#ececec"/>
<rect x="435.75" y="287.51" width="7.3" height="1.34" fill="#fdfdfd"/>
<rect x="435.75" y="288.8" width="7.3" height="1.1" fill="#f9f9f9"/>
<rect x="435.75" y="289.85" width="7.3" height="1.17" fill="#f8f8f8"/>
<rect x="435.75" y="290.97" width="7.3" height="0.9" fill="#e6e6e6"/>
<rect x="435.75" y="291.82" width="7.3" height="0.79" fill="#ececec"/>
<rect x="435.75" y="292.56" width="7.3" height="0.86" fill="#e1e1e1"/>
<rect x="435.75" y="293.37" width="7.3" height="1.24" fill="#e5e5e5"/>
<rect x="435.75" y="294.56" width="7.3" height="0.57" fill="#e8e8e8"/>
<rect x="435.75" y="295.08" width="7.3" height="1.43" fill="#f6f6f6"/>
<rect x="435.75" y="296.46" width="7.3" height="0.67" fill="#e2e2e2"/>
<rect x="435.75" y="297.08" width="7.3" height="1.88" fill="#d5d5d5"/>
<rect x="435.75" y="298.91" width="7.3" height="1.64" fill="#f9f9f9"/>
<rect x="435.75" y="300.5" width="7.3" height="1.62" fill="#e2e2e2"/>
<rect x="435.75" y="302.07" width="7.3" height="1.54" fill="#e4e4e4"/>
<rect x="435.75" y="303.57" width="7.3" height="0.75" fill="#d2d2d2"/>
<rect x="435.75" y="304.27" width="7.3" height="1.59" fill="#fcfcfc"/>
<rect x="435.75" y="305.81" width="7.3" height="1.6" fill="#e5e5e5"/>
<rect x="435.75" y="307.36" width="7.3" height="0.82" fill="#ececec"/>
<rect x="435.75" y="308.13" width="7.3" height="1.2" fill="#dddddd"/>
<rect x="435.75" y="309.28" width="7.3" height="1.72" fill="#fefefe"/>
<rect x="435.75" y="310.95" width="7.3" height="1.16" fill="#fcfcfc"/>
<rect x="435.75" y="312.07" width="7.3" height="1.22" fill="#eeeeee"/>
<rect x="435.75" y="313.24" width="7.3" height="1.25" fill="#f7f7f7"/>
<rect x="435.75" y="314.43" width="7.3" height="0.82" fill="#d4d4d4"/>
<rect x="435.75" y="315.2" width="7.3" height="1.69" fill="#dadada"/>
<rect x="435.75" y="316.85" width="7.3" height="1.11" fill="#f8f8f8"/>
<rect x="435.75" y="317.91" width="7.3" height="0.84" fill="#fbfbfb"/>
<rect x="435.75" y="318.7" width="7.3" height="0.82" fill="#e3e3e3"/>
<rect x="435.75" y="319.46" width="7.3" height="1.2" fill="#d9d9d9"/>
<rect x="435.75" y="320.61" width="7.3" height="1.27" fill="#d3d3d3"/>
<rect x="435.75" y="321.83" width="7.3" height="1.15" fill="#e8e8e8"/>
<rect x="435.75" y="322.93" width="7.3" height="1.2" fill="#e0e0e0"/>
<rect x="435.75" y="324.08" width="7.3" height="1.53" fill="#e0e0e0"/>
<rect x="435.75" y="325.56" width="7.3" height="1.67" fill="#e8e8e8"/>
<rect x="435.75" y="327.18" width="7.3" height="1.54" fill="#d4d4d4"/>
<rect x="435.75" y="328.66" width="7.3" height="1.12" fill="#e7e7e7"/>
<rect x="435.75" y="329.74" width="7.3" height="1.75" fill="#e2e2e2"/>
<rect x="435.75" y="331.44" width="7.3" height="0.97" fill="#e3e3e3"/>
<rect x="435.75" y="332.35" width="7.3" height="0.64" fill="#fdfdfd"/>
<rect x="435.75" y="332.94" width="7.3" height="1.72" fill="#efefef"/>
<rect x="435.75" y="334.61" width="7.3" height="1.46" fill="#f5f5f5"/>
<rect x="435.75" y="336.02" width="7.3" height="0.68" fill="#eaeaea"/>
<rect x="435.75" y="336.65" width="7.3" height="0.57" fill="#fdfdfd"/>
<rect x="435.75" y="337.17" width="7.3" height="1.48" fill="#fdfdfd"/>
<rect x="435.75" y="338.6" width="7.3" height="0.55" fill="#f4f4f4"/>
<rect x="435.75" y="339.1" width="7.3" height="0.82" fill="#fcfcfc"/>
<rect x="435.75" y="339.87" width="7.3" height="1.09" fill="#ebebeb"/>
<rect x="435.75" y="340.91" width="7.3" height="1.65" fill="#c8c8c8"/>
<rect x="435.75" y="342.52" width="7.3" height="1.91" fill="#d9d9d9"/>
<rect x="435.75" y="344.38" width="7.3" height="0.68" fill="#e7e7e7"/>
<rect x="435.75" y="345.01" width="7.3" height="1.34" fill="#eeeeee"/>
<rect x="435.75" y="346.29" width="7.3" height="1.9" fill="#fbfbfb"/>
<rect x="435.75" y="348.14" width="7.3" height="0.68" fill="#eeeeee"/>
<rect x="435.75" y="348.77" width="7.3" height="0.78" fill="#e6e6e6"/>
<rect x="435.75" y="349.5" width="7.3" height="1.92" fill="#ededed"/>
<rect x="435.75" y="351.37" width="7.3" height="1.16" fill="#e8e8e8"/>
<rect x="435.75" y="352.48" width="7.3" height="1.94" fill="#e0e0e0"/>
<rect x="435.75" y="354.37" width="7.3" height="1.94" fill="#dddddd"/>
<rect x="435.75" y="356.27" width="7.3" height="1.8" fill="#e8e8e8"/>
<rect x="435.75" y="358.02" width="7.3" height="1.94" fill="#d7d7d7"/>
<rect x="435.75" y="359.9" width="7.3" height="0.73" fill="#ebebeb"/>
<rect x="435.75" y="360.59" width="7.3" height="1.34" fill="#e6e6e6"/>
<rect x="435.75" y="361.88" width="7.3" height="0.79" fill="#dcdcdc"/>
<rect x="435.75" y="362.62" width="7.3" height="1.21" fill="#eeeeee"/>
<rect x="435.75" y="363.78" width="7.3" height="1.13" fill="#fdfdfd"/>
<rect x="435.75" y="364.85" width="7.3" height="1.79" fill="#e9e9e9"/>
<rect x="435.75" y="366.59" width="7.3" height="1.27" fill="#dbdbdb"/>
<rect x="435.75" y="367.8" width="7.3" height="1.38" fill="#e9e9e9"/>
<rect x="435.75" y="369.13" width="7.3" height="1.32" fill="#ebebeb"/>
<rect x="435.75" y="370.4" width="7.3" height="0.78" fill="#f9f9f9"/>
<rect x="435.75" y="371.13" width="7.3" height="0.9" fill="#f6f6f6"/>
<rect x="435.75" y="371.99" width="7.3" height="1.25" fill="#f4f4f4"/>
<rect x="435.75" y="373.18" width="7.3" height="1.77" fill="#fafafa"/>
<rect x="435.75" y="374.9" width="7.3" height="1.02" fill="#ebebeb"/>
<rect x="435.75" y="375.87" width="7.3" height="1.49" fill="#e2e2e2"/>
<rect x="435.75" y="377.31" width="7.3" height="1.62" fill="#d6d6d6"/>
<rect x="435.75" y="378.88" width="7.3" height="1.12" fill="#c3c3c3"/>
<rect x="435.75" y="379.95" width="7.3" height="0.63" fill="#e0e0e0"/>
<rect x="435.75" y="380.54" width="7.3" height="1.38" fill="#e1e1e1"/>
<rect x="435.75" y="381.87" width="7.3" height="1.48" fill="#eaeaea"/>
</g>
<path d="M435.75 266.65 A3.65 3.65 0 0 1 443.05 266.65 L443.05 299 A3.65 1.8 0 0 1 435.75 299 Z M435.75 301.4 A3.65 1.8 0 0 1 443.05 301.4 L443.05 379.65 A3.65 3.65 0 0 1 435.75 379.65 Z" fill="none" stroke="#9a9a9a" stroke-width="0.5"/>
<text x="439.4" y="390" font-size="4.1" text-anchor="middle" font-family="Liberation Serif, serif" fill="#222" stroke="#222" stroke-width="0.15">10</text>
<line x1="443.05" y1="327.8" x2="445.05" y2="327.8" stroke="#bbb" stroke-width="0.3"/>
<path d="M446.05 326.2L447.65 329L444.45 329Z" fill="#7a2a8e"/>
<text x="449.05" y="329.1" font-size="3.7" font-family="Liberation Serif, serif" fill="#e0242a" stroke="#e0242a" stroke-width="0.1">DDIT4</text>
<line x1="443.05" y1="332.3" x2="445.05" y2="332.3" stroke="#bbb" stroke-width="0.3"/>
<rect x="444.6" y="330.85" width="2.9" height="2.9" fill="#4daf4a"/>
<text x="449.05" y="333.6" font-size="3.7" font-family="Liberation Serif, serif" fill="#222" stroke="#222" stroke-width="0.1">MICU1</text>
<clipPath id="cp7"><path d="M468.35 265.95 A3.65 3.65 0 0 1 475.65 265.95 L475.65 307.3 A3.65 1.8 0 0 1 468.35 307.3 Z M468.35 309.7 A3.65 1.8 0 0 1 475.65 309.7 L475.65 379.65 A3.65 3.65 0 0 1 468.35 379.65 Z"/></clipPath>
<g clip-path="url(#cp7)">
<rect x="468.35" y="262.3" width="7.3" height="121" fill="#fff"/>
<rect x="468.35" y="262.3" width="7.3" height="1.75" fill="#cacaca"/>
<rect x="468.35" y="264" width="7.3" height="1.59" fill="#fcfcfc"/>
<rect x="468.35" y="265.54" width="7.3" height="1.44" fill="#bbbbbb"/>
<rect x="468.35" y="266.92" width="7.3" height="1.81" fill="#b8b8b8"/>
<rect x="468.35" y="268.69" width="7.3" height="1.85" fill="#d3d3d3"/>
<rect x="468.35" y="270.48" width="7.3" height="1.83" fill="#eeeeee"/>
<rect x="468.35" y="272.27" width="7.3" height="1.87" fill="#e4e4e4"/>
<rect x="468.35" y="274.09" width="7.3" height="0.87" fill="#fafafa"/>
<rect x="468.35" y="274.9" width="7.3" height="0.68" fill="#c0c0c0"/>
<rect x="468.35" y="275.53" width="7.3" height="1.69" fill="#f8f8f8"/>
<rect x="468.35" y="277.18" width="7.3" height="1.62" fill="#e0e0e0"/>
<rect x="468.35" y="278.74" width="7.3" height="0.93" fill="#dedede"/>
<rect x="468.35" y="279.62" width="7.3" height="0.81" fill="#f9f9f9"/>
<rect x="468.35" y="280.38" width="7.3" height="1.24" fill="#eeeeee"/>
<rect x="468.35" y="281.57" width="7.3" height="1.65" fill="#e1e1e1"/>
<rect x="468.35" y="283.17" width="7.3" height="0.65" fill="#e0e0e0"/>
<rect x="468.35" y="283.77" width="7.3" height="1.28" fill="#e4e4e4"/>
<rect x="468.35" y="285" width="7.3" height="1.41" fill="#e3e3e3"/>
<rect x="468.35" y="286.36" width="7.3" height="1.77" fill="#e1e1e1"/>
<rect x="468.35" y="288.08" width="7.3" height="1.61" fill="#e0e0e0"/>
<rect x="468.35" y="289.64" width="7.3" height="0.8" fill="#e3e3e3"/>
<rect x="468.35" y="290.39" width="7.3" height="1.07" fill="#f5f5f5"/>
<rect x="468.35" y="291.4" width="7.3" height="1.19" fill="#e7e7e7"/>
<rect x="468.35" y="292.55" width="7.3" height="0.85" fill="#e4e4e4"/>
<rect x="468.35" y="293.35" width="7.3" height="1.44" fill="#dddddd"/>
<rect x="468.35" y="294.73" width="7.3" height="0.58" fill="#e4e4e4"/>
<rect x="468.35" y="295.26" width="7.3" height="1.18" fill="#e5e5e5"/>
<rect x="468.35" y="296.39" width="7.3" height="1.27" fill="#e2e2e2"/>
<rect x="468.35" y="297.61" width="7.3" height="0.58" fill="#e3e3e3"/>
<rect x="468.35" y="298.15" width="7.3" height="0.98" fill="#ebebeb"/>
<rect x="468.35" y="299.08" width="7.3" height="1.17" fill="#e0e0e0"/>
<rect x="468.35" y="300.2" width="7.3" height="1.1" fill="#ebebeb"/>
<rect x="468.35" y="301.25" width="7.3" height="0.8" fill="#e2e2e2"/>
<rect x="468.35" y="302" width="7.3" height="0.67" fill="#eeeeee"/>
<rect x="468.35" y="302.62" width="7.3" height="1.33" fill="#fafafa"/>
<rect x="468.35" y="303.89" width="7.3" height="1.34" fill="#ededed"/>
<rect x="468.35" y="305.18" width="7.3" height="0.83" fill="#e6e6e6"/>
<rect x="468.35" y="305.96" width="7.3" height="1.84" fill="#f6f6f6"/>
<rect x="468.35" y="307.75" width="7.3" height="1.03" fill="#fefefe"/>
<rect x="468.35" y="308.73" width="7.3" height="1.29" fill="#f6f6f6"/>
<rect x="468.35" y="309.96" width="7.3" height="0.71" fill="#f6f6f6"/>
<rect x="468.35" y="310.62" width="7.3" height="1.56" fill="#f6f6f6"/>
<rect x="468.35" y="312.13" width="7.3" height="0.63" fill="#b7b7b7"/>
<rect x="468.35" y="312.72" width="7.3" height="0.63" fill="#c7c7c7"/>
<rect x="468.35" y="313.3" width="7.3" height="1.83" fill="#bbbbbb"/>
<rect x="468.35" y="315.07" width="7.3" height="0.71" fill="#b5b5b5"/>
<rect x="468.35" y="315.74" width="7.3" height="1.18" fill="#bcbcbc"/>
<rect x="468.35" y="316.87" width="7.3" height="0.92" fill="#c7c7c7"/>
<rect x="468.35" y="317.74" width="7.3" height="0.79" fill="#c6c6c6"/>
<rect x="468.35" y="318.48" width="7.3" height="1.46" fill="#d4d4d4"/>
<rect x="468.35" y="319.89" width="7.3" height="1.59" fill="#e1e1e1"/>
<rect x="468.35" y="321.43" width="7.3" height="0.59" fill="#ebebeb"/>
<rect x="468.35" y="321.96" width="7.3" height="1.41" fill="#f4f4f4"/>
<rect x="468.35" y="323.32" width="7.3" height="1.67" fill="#eeeeee"/>
<rect x="468.35" y="324.94" width="7.3" height="1.11" fill="#ebebeb"/>
<rect x="468.35" y="325.99" width="7.3" height="0.58" fill="#e2e2e2"/>
<rect x="468.35" y="326.52" width="7.3" height="1.42" fill="#f6f6f6"/>
<rect x="468.35" y="327.89" width="7.3" height="1.42" fill="#d8d8d8"/>
<rect x="468.35" y="329.26" width="7.3" height="0.89" fill="#e4e4e4"/>
<rect x="468.35" y="330.09" width="7.3" height="1.55" fill="#e9e9e9"/>
<rect x="468.35" y="331.59" width="7.3" height="0.96" fill="#e9e9e9"/>
<rect x="468.35" y="332.5" width="7.3" height="1.72" fill="#d8d8d8"/>
<rect x="468.35" y="334.17" width="7.3" height="1.47" fill="#d5d5d5"/>
<rect x="468.35" y="335.59" width="7.3" height="1.55" fill="#d3d3d3"/>
<rect x="468.35" y="337.09" width="7.3" height="1.14" fill="#fdfdfd"/>
<rect x="468.35" y="338.18" width="7.3" height="1.02" fill="#e6e6e6"/>
<rect x="468.35" y="339.14" width="7.3" height="1.65" fill="#ededed"/>
<rect x="468.35" y="340.75" width="7.3" height="0.67" fill="#f7f7f7"/>
<rect x="468.35" y="341.37" width="7.3" height="0.61" fill="#fafafa"/>
<rect x="468.35" y="341.93" width="7.3" height="0.7" fill="#ededed"/>
<rect x="468.35" y="342.58" width="7.3" height="1.74" fill="#c7c7c7"/>
<rect x="468.35" y="344.26" width="7.3" height="0.78" fill="#fcfcfc"/>
<rect x="468.35" y="345" width="7.3" height="0.63" fill="#f7f7f7"/>
<rect x="468.35" y="345.58" width="7.3" height="1.25" fill="#e4e4e4"/>
<rect x="468.35" y="346.78" width="7.3" height="1.76" fill="#e0e0e0"/>
<rect x="468.35" y="348.49" width="7.3" height="0.56" fill="#e4e4e4"/>
<rect x="468.35" y="349" width="7.3" height="1.7" fill="#e5e5e5"/>
<rect x="468.35" y="350.65" width="7.3" height="0.65" fill="#e2e2e2"/>
<rect x="468.35" y="351.25" width="7.3" height="0.95" fill="#ebebeb"/>
<rect x="468.35" y="352.15" width="7.3" height="1.07" fill="#e5e5e5"/>
<rect x="468.35" y="353.18" width="7.3" height="1.15" fill="#fbfbfb"/>
<rect x="468.35" y="354.28" width="7.3" height="1.42" fill="#d7d7d7"/>
<rect x="468.35" y="355.65" width="7.3" height="0.73" fill="#fdfdfd"/>
<rect x="468.35" y="356.33" width="7.3" height="1.16" fill="#d5d5d5"/>
<rect x="468.35" y="357.44" width="7.3" height="1.13" fill="#ebebeb"/>
<rect x="468.35" y="358.52" width="7.3" height="1.37" fill="#eaeaea"/>
<rect x="468.35" y="359.84" width="7.3" height="0.81" fill="#cfcfcf"/>
<rect x="468.35" y="360.59" width="7.3" height="1.11" fill="#e5e5e5"/>
<rect x="468.35" y="361.65" width="7.3" height="1.27" fill="#fcfcfc"/>
<rect x="468.35" y="362.88" width="7.3" height="1.37" fill="#fbfbfb"/>
<rect x="468.35" y="364.19" width="7.3" height="1.29" fill="#eaeaea"/>
<rect x="468.35" y="365.43" width="7.3" height="1.37" fill="#fcfcfc"/>
<rect x="468.35" y="366.75" width="7.3" height="0.75" fill="#e3e3e3"/>
<rect x="468.35" y="367.45" width="7.3" height="1.66" fill="#ececec"/>
<rect x="468.35" y="369.06" width="7.3" height="1.95" fill="#e7e7e7"/>
<rect x="468.35" y="370.96" width="7.3" height="1.74" fill="#e0e0e0"/>
<rect x="468.35" y="372.65" width="7.3" height="1.77" fill="#fdfdfd"/>
<rect x="468.35" y="374.37" width="7.3" height="1.21" fill="#e7e7e7"/>
<rect x="468.35" y="375.52" width="7.3" height="0.76" fill="#eaeaea"/>
<rect x="468.35" y="376.24" width="7.3" height="0.68" fill="#e1e1e1"/>
<rect x="468.35" y="376.86" width="7.3" height="1.21" fill="#e6e6e6"/>
<rect x="468.35" y="378.02" width="7.3" height="1.57" fill="#f8f8f8"/>
<rect x="468.35" y="379.55" width="7.3" height="1.61" fill="#fdfdfd"/>
<rect x="468.35" y="381.11" width="7.3" height="1.37" fill="#f7f7f7"/>
<rect x="468.35" y="382.43" width="7.3" height="0.75" fill="#dddddd"/>
<rect x="468.35" y="383.13" width="7.3" height="0.22" fill="#e5e5e5"/>
</g>
<path d="M468.35 265.95 A3.65 3.65 0 0 1 475.65 265.95 L475.65 307.3 A3.65 1.8 0 0 1 468.35 307.3 Z M468.35 309.7 A3.65 1.8 0 0 1 475.65 309.7 L475.65 379.65 A3.65 3.65 0 0 1 468.35 379.65 Z" fill="none" stroke="#9a9a9a" stroke-width="0.5"/>
<text x="472" y="390" font-size="4.1" text-anchor="middle" font-family="Liberation Serif, serif" fill="#222" stroke="#222" stroke-width="0.15">11</text>
<line x1="475.65" y1="304.2" x2="477.65" y2="304.2" stroke="#bbb" stroke-width="0.3"/>
<rect x="477.2" y="302.75" width="2.9" height="2.9" fill="#4daf4a"/>
<text x="481.65" y="305.5" font-size="3.7" font-family="Liberation Serif, serif" fill="#e0242a" stroke="#e0242a" stroke-width="0.1">MDK</text>
<line x1="475.65" y1="369" x2="477.65" y2="369" stroke="#bbb" stroke-width="0.3"/>
<rect x="477.2" y="367.55" width="2.9" height="2.9" fill="#4daf4a"/>
<text x="481.65" y="370.3" font-size="3.7" font-family="Liberation Serif, serif" fill="#222" stroke="#222" stroke-width="0.1">HMBS</text>
<clipPath id="cp8"><path d="M501.2 268.4 A3.9 3.9 0 0 1 509 268.4 L509 294.9 A3.9 1.8 0 0 1 501.2 294.9 Z M501.2 297.3 A3.9 1.8 0 0 1 509 297.3 L509 379.4 A3.9 3.9 0 0 1 501.2 379.4 Z"/></clipPath>
<g clip-path="url(#cp8)">
<rect x="501.2" y="264.5" width="7.8" height="118.8" fill="#fff"/>
<rect x="501.2" y="264.5" width="7.8" height="1.28" fill="#d6d6d6"/>
<rect x="501.2" y="265.73" width="7.8" height="1.54" fill="#d2d2d2"/>
<rect x="501.2" y="267.22" width="7.8" height="1.48" fill="#dedede"/>
<rect x="501.2" y="268.65" width="7.8" height="1.38" fill="#f7f7f7"/>
<rect x="501.2" y="269.97" width="7.8" height="0.57" fill="#d6d6d6"/>
<rect x="501.2" y="270.49" width="7.8" height="0.86" fill="#f4f4f4"/>
<rect x="501.2" y="271.3" width="7.8" height="0.75" fill="#f6f6f6"/>
<rect x="501.2" y="272" width="7.8" height="1.04" fill="#d4d4d4"/>
<rect x="501.2" y="272.99" width="7.8" height="0.86" fill="#f6f6f6"/>
<rect x="501.2" y="273.8" width="7.8" height="1.71" fill="#e7e7e7"/>
<rect x="501.2" y="275.46" width="7.8" height="1.03" fill="#d8d8d8"/>
<rect x="501.2" y="276.44" width="7.8" height="1.19" fill="#eaeaea"/>
<rect x="501.2" y="277.58" width="7.8" height="1.47" fill="#dadada"/>
<rect x="501.2" y="279.01" width="7.8" height="1.13" fill="#e8e8e8"/>
<rect x="501.2" y="280.09" width="7.8" height="0.89" fill="#f4f4f4"/>
<rect x="501.2" y="280.93" width="7.8" height="1.25" fill="#ececec"/>
<rect x="501.2" y="282.13" width="7.8" height="1.23" fill="#e8e8e8"/>
<rect x="501.2" y="283.31" width="7.8" height="1.82" fill="#dcdcdc"/>
<rect x="501.2" y="285.08" width="7.8" height="0.69" fill="#d5d5d5"/>
<rect x="501.2" y="285.72" width="7.8" height="0.67" fill="#f5f5f5"/>
<rect x="501.2" y="286.34" width="7.8" height="1.15" fill="#e3e3e3"/>
<rect x="501.2" y="287.44" width="7.8" height="1.81" fill="#eaeaea"/>
<rect x="501.2" y="289.2" width="7.8" height="0.78" fill="#d6d6d6"/>
<rect x="501.2" y="289.93" width="7.8" height="1.13" fill="#fafafa"/>
<rect x="501.2" y="291.01" width="7.8" height="1.52" fill="#e2e2e2"/>
<rect x="501.2" y="292.48" width="7.8" height="1.09" fill="#fdfdfd"/>
<rect x="501.2" y="293.52" width="7.8" height="1.01" fill="#dcdcdc"/>
<rect x="501.2" y="294.48" width="7.8" height="1.58" fill="#e4e4e4"/>
<rect x="501.2" y="296.01" width="7.8" height="1.54" fill="#c5c5c5"/>
<rect x="501.2" y="297.49" width="7.8" height="1.57" fill="#fcfcfc"/>
<rect x="501.2" y="299.02" width="7.8" height="0.9" fill="#ededed"/>
<rect x="501.2" y="299.86" width="7.8" height="1.11" fill="#fafafa"/>
<rect x="501.2" y="300.92" width="7.8" height="0.78" fill="#e3e3e3"/>
<rect x="501.2" y="301.66" width="7.8" height="0.88" fill="#e7e7e7"/>
<rect x="501.2" y="302.49" width="7.8" height="0.77" fill="#fefefe"/>
<rect x="501.2" y="303.21" width="7.8" height="1.28" fill="#ececec"/>
<rect x="501.2" y="304.44" width="7.8" height="1.89" fill="#f5f5f5"/>
<rect x="501.2" y="306.28" width="7.8" height="1.56" fill="#dfdfdf"/>
<rect x="501.2" y="307.79" width="7.8" height="1.68" fill="#dadada"/>
<rect x="501.2" y="309.42" width="7.8" height="1.04" fill="#dbdbdb"/>
<rect x="501.2" y="310.4" width="7.8" height="0.95" fill="#bdbdbd"/>
<rect x="501.2" y="311.31" width="7.8" height="0.93" fill="#c7c7c7"/>
<rect x="501.2" y="312.19" width="7.8" height="1.17" fill="#bababa"/>
<rect x="501.2" y="313.32" width="7.8" height="1.12" fill="#c3c3c3"/>
<rect x="501.2" y="314.39" width="7.8" height="1.26" fill="#bcbcbc"/>
<rect x="501.2" y="315.6" width="7.8" height="0.62" fill="#c5c5c5"/>
<rect x="501.2" y="316.17" width="7.8" height="1.63" fill="#c0c0c0"/>
<rect x="501.2" y="317.75" width="7.8" height="0.73" fill="#cdcdcd"/>
<rect x="501.2" y="318.43" width="7.8" height="0.81" fill="#efefef"/>
<rect x="501.2" y="319.19" width="7.8" height="1.36" fill="#c0c0c0"/>
<rect x="501.2" y="320.49" width="7.8" height="1.55" fill="#e3e3e3"/>
<rect x="501.2" y="321.99" width="7.8" height="1.28" fill="#e3e3e3"/>
<rect x="501.2" y="323.22" width="7.8" height="1.81" fill="#f6f6f6"/>
<rect x="501.2" y="324.98" width="7.8" height="0.92" fill="#e6e6e6"/>
<rect x="501.2" y="325.85" width="7.8" height="1.24" fill="#f5f5f5"/>
<rect x="501.2" y="327.04" width="7.8" height="0.84" fill="#f9f9f9"/>
<rect x="501.2" y="327.83" width="7.8" height="1.5" fill="#ededed"/>
<rect x="501.2" y="329.28" width="7.8" height="1.38" fill="#e2e2e2"/>
<rect x="501.2" y="330.62" width="7.8" height="1.58" fill="#e0e0e0"/>
<rect x="501.2" y="332.14" width="7.8" height="1.16" fill="#f6f6f6"/>
<rect x="501.2" y="333.25" width="7.8" height="0.8" fill="#e0e0e0"/>
<rect x="501.2" y="334" width="7.8" height="0.79" fill="#f8f8f8"/>
<rect x="501.2" y="334.73" width="7.8" height="1.24" fill="#e8e8e8"/>
<rect x="501.2" y="335.92" width="7.8" height="0.99" fill="#eeeeee"/>
<rect x="501.2" y="336.86" width="7.8" height="1.48" fill="#f7f7f7"/>
<rect x="501.2" y="338.29" width="7.8" height="1.18" fill="#d9d9d9"/>
<rect x="501.2" y="339.42" width="7.8" height="0.68" fill="#efefef"/>
<rect x="501.2" y="340.05" width="7.8" height="0.78" fill="#e0e0e0"/>
<rect x="501.2" y="340.78" width="7.8" height="0.84" fill="#eeeeee"/>
<rect x="501.2" y="341.56" width="7.8" height="1.13" fill="#f5f5f5"/>
<rect x="501.2" y="342.64" width="7.8" height="1" fill="#f5f5f5"/>
<rect x="501.2" y="343.59" width="7.8" height="1.59" fill="#eaeaea"/>
<rect x="501.2" y="345.13" width="7.8" height="1.46" fill="#d2d2d2"/>
<rect x="501.2" y="346.53" width="7.8" height="1.58" fill="#e7e7e7"/>
<rect x="501.2" y="348.06" width="7.8" height="0.82" fill="#fdfdfd"/>
<rect x="501.2" y="348.83" width="7.8" height="1.16" fill="#dbdbdb"/>
<rect x="501.2" y="349.94" width="7.8" height="0.83" fill="#e9e9e9"/>
<rect x="501.2" y="350.72" width="7.8" height="1.59" fill="#e0e0e0"/>
<rect x="501.2" y="352.26" width="7.8" height="0.75" fill="#e5e5e5"/>
<rect x="501.2" y="352.96" width="7.8" height="1.43" fill="#ebebeb"/>
<rect x="501.2" y="354.34" width="7.8" height="0.77" fill="#ebebeb"/>
<rect x="501.2" y="355.06" width="7.8" height="1.63" fill="#fbfbfb"/>
<rect x="501.2" y="356.64" width="7.8" height="1.02" fill="#dadada"/>
<rect x="501.2" y="357.61" width="7.8" height="1.84" fill="#e6e6e6"/>
<rect x="501.2" y="359.4" width="7.8" height="1.2" fill="#d8d8d8"/>
<rect x="501.2" y="360.55" width="7.8" height="0.92" fill="#dfdfdf"/>
<rect x="501.2" y="361.42" width="7.8" height="1.73" fill="#eaeaea"/>
<rect x="501.2" y="363.1" width="7.8" height="1.79" fill="#d7d7d7"/>
<rect x="501.2" y="364.84" width="7.8" height="1.26" fill="#fbfbfb"/>
<rect x="501.2" y="366.05" width="7.8" height="0.94" fill="#e9e9e9"/>
<rect x="501.2" y="366.94" width="7.8" height="1.45" fill="#eeeeee"/>
<rect x="501.2" y="368.34" width="7.8" height="1.91" fill="#dadada"/>
<rect x="501.2" y="370.2" width="7.8" height="1.88" fill="#d4d4d4"/>
<rect x="501.2" y="372.03" width="7.8" height="1.61" fill="#dbdbdb"/>
<rect x="501.2" y="373.6" width="7.8" height="1.46" fill="#e2e2e2"/>
<rect x="501.2" y="375" width="7.8" height="0.8" fill="#f4f4f4"/>
<rect x="501.2" y="375.75" width="7.8" height="1.77" fill="#ececec"/>
<rect x="501.2" y="377.47" width="7.8" height="1.47" fill="#eaeaea"/>
<rect x="501.2" y="378.9" width="7.8" height="1.58" fill="#e3e3e3"/>
<rect x="501.2" y="380.43" width="7.8" height="0.65" fill="#e6e6e6"/>
<rect x="501.2" y="381.03" width="7.8" height="0.93" fill="#fafafa"/>
<rect x="501.2" y="381.91" width="7.8" height="1.44" fill="#e4e4e4"/>
</g>
<path d="M501.2 268.4 A3.9 3.9 0 0 1 509 268.4 L509 294.9 A3.9 1.8 0 0 1 501.2 294.9 Z M501.2 297.3 A3.9 1.8 0 0 1 509 297.3 L509 379.4 A3.9 3.9 0 0 1 501.2 379.4 Z" fill="none" stroke="#9a9a9a" stroke-width="0.5"/>
<text x="505.1" y="390" font-size="4.1" text-anchor="middle" font-family="Liberation Serif, serif" fill="#222" stroke="#222" stroke-width="0.15">12</text>
<line x1="509" y1="268.3" x2="511" y2="268.3" stroke="#bbb" stroke-width="0.3"/>
<path d="M512 266.7L513.6 269.5L510.4 269.5Z" fill="#7a2a8e"/>
<text x="515" y="269.6" font-size="3.7" font-family="Liberation Serif, serif" fill="#e0242a" stroke="#e0242a" stroke-width="0.1">CHD4</text>
<line x1="509" y1="272.8" x2="511" y2="272.8" stroke="#bbb" stroke-width="0.3"/>
<path d="M512 271.2L513.6 274L510.4 274Z" fill="#7a2a8e"/>
<text x="515" y="274.1" font-size="3.7" font-family="Liberation Serif, serif" fill="#222" stroke="#222" stroke-width="0.1">LPAR5</text>
<line x1="509" y1="293.5" x2="511" y2="293.5" stroke="#bbb" stroke-width="0.3"/>
<rect x="510.55" y="292.05" width="2.9" height="2.9" fill="#4daf4a"/>
<text x="515" y="294.8" font-size="3.7" font-family="Liberation Serif, serif" fill="#222" stroke="#222" stroke-width="0.1">CDK4</text>
<line x1="509" y1="316.2" x2="511" y2="316.2" stroke="#bbb" stroke-width="0.3"/>
<path d="M512 314.6L513.6 317.4L510.4 317.4Z" fill="#7a2a8e"/>
<text x="515" y="317.5" font-size="3.7" font-family="Liberation Serif, serif" fill="#e0242a" stroke="#e0242a" stroke-width="0.1">HVCN1</text>
<line x1="509" y1="364.1" x2="511" y2="364.1" stroke="#bbb" stroke-width="0.3"/>
<path d="M512 362.5L513.6 365.3L510.4 365.3Z" fill="#7a2a8e"/>
<text x="515" y="365.4" font-size="3.7" font-family="Liberation Serif, serif" fill="#222" stroke="#222" stroke-width="0.1">FGD4</text>
<clipPath id="cp9"><path d="M533.45 292.05 A3.65 3.65 0 0 1 540.75 292.05 L540.75 301.2 A3.65 1.8 0 0 1 533.45 301.2 Z M533.45 303.6 A3.65 1.8 0 0 1 540.75 303.6 L540.75 379.65 A3.65 3.65 0 0 1 533.45 379.65 Z"/></clipPath>
<g clip-path="url(#cp9)">
<rect x="533.45" y="288.4" width="7.3" height="94.9" fill="#fff"/>
<rect x="533.45" y="302.4" width="7.3" height="0.8" fill="#e1e1e1"/>
<rect x="533.45" y="303.15" width="7.3" height="1.28" fill="#b6b6b6"/>
<rect x="533.45" y="304.38" width="7.3" height="1.69" fill="#acacac"/>
<rect x="533.45" y="306.03" width="7.3" height="0.83" fill="#eaeaea"/>
<rect x="533.45" y="306.81" width="7.3" height="0.78" fill="#e9e9e9"/>
<rect x="533.45" y="307.54" width="7.3" height="1.2" fill="#e2e2e2"/>
<rect x="533.45" y="308.69" width="7.3" height="1.38" fill="#c2c2c2"/>
<rect x="533.45" y="310.02" width="7.3" height="1.52" fill="#ececec"/>
<rect x="533.45" y="311.49" width="7.3" height="1.15" fill="#d8d8d8"/>
<rect x="533.45" y="312.59" width="7.3" height="0.97" fill="#e6e6e6"/>
<rect x="533.45" y="313.51" width="7.3" height="1.8" fill="#e7e7e7"/>
<rect x="533.45" y="315.26" width="7.3" height="0.92" fill="#fdfdfd"/>
<rect x="533.45" y="316.13" width="7.3" height="0.73" fill="#ebebeb"/>
<rect x="533.45" y="316.82" width="7.3" height="0.99" fill="#dcdcdc"/>
<rect x="533.45" y="317.75" width="7.3" height="1.52" fill="#fcfcfc"/>
<rect x="533.45" y="319.23" width="7.3" height="1.72" fill="#d7d7d7"/>
<rect x="533.45" y="320.9" width="7.3" height="0.97" fill="#fbfbfb"/>
<rect x="533.45" y="321.81" width="7.3" height="1.74" fill="#f9f9f9"/>
<rect x="533.45" y="323.51" width="7.3" height="1.07" fill="#fefefe"/>
<rect x="533.45" y="324.52" width="7.3" height="1.31" fill="#ededed"/>
<rect x="533.45" y="325.78" width="7.3" height="1.75" fill="#dedede"/>
<rect x="533.45" y="327.49" width="7.3" height="0.75" fill="#e6e6e6"/>
<rect x="533.45" y="328.18" width="7.3" height="1" fill="#efefef"/>
<rect x="533.45" y="329.14" width="7.3" height="0.87" fill="#f7f7f7"/>
<rect x="533.45" y="329.95" width="7.3" height="1.88" fill="#f9f9f9"/>
<rect x="533.45" y="331.78" width="7.3" height="0.63" fill="#f4f4f4"/>
<rect x="533.45" y="332.36" width="7.3" height="0.66" fill="#e8e8e8"/>
<rect x="533.45" y="332.98" width="7.3" height="1.9" fill="#e7e7e7"/>
<rect x="533.45" y="334.82" width="7.3" height="0.97" fill="#f7f7f7"/>
<rect x="533.45" y="335.74" width="7.3" height="1.52" fill="#d2d2d2"/>
<rect x="533.45" y="337.21" width="7.3" height="1.84" fill="#e3e3e3"/>
<rect x="533.45" y="339.01" width="7.3" height="1.45" fill="#e0e0e0"/>
<rect x="533.45" y="340.4" width="7.3" height="1.71" fill="#ededed"/>
<rect x="533.45" y="342.06" width="7.3" height="1.71" fill="#e0e0e0"/>
<rect x="533.45" y="343.73" width="7.3" height="0.87" fill="#fcfcfc"/>
<rect x="533.45" y="344.55" width="7.3" height="0.73" fill="#dfdfdf"/>
<rect x="533.45" y="345.23" width="7.3" height="1.82" fill="#f6f6f6"/>
<rect x="533.45" y="347" width="7.3" height="0.87" fill="#e0e0e0"/>
<rect x="533.45" y="347.83" width="7.3" height="0.68" fill="#ececec"/>
<rect x="533.45" y="348.45" width="7.3" height="1.39" fill="#f8f8f8"/>
<rect x="533.45" y="349.79" width="7.3" height="1.33" fill="#f7f7f7"/>
<rect x="533.45" y="351.07" width="7.3" height="1.01" fill="#ececec"/>
<rect x="533.45" y="352.03" width="7.3" height="0.71" fill="#ebebeb"/>
<rect x="533.45" y="352.69" width="7.3" height="1.72" fill="#e4e4e4"/>
<rect x="533.45" y="354.36" width="7.3" height="0.6" fill="#f7f7f7"/>
<rect x="533.45" y="354.91" width="7.3" height="1.25" fill="#f8f8f8"/>
<rect x="533.45" y="356.11" width="7.3" height="0.98" fill="#ebebeb"/>
<rect x="533.45" y="357.03" width="7.3" height="1.78" fill="#eaeaea"/>
<rect x="533.45" y="358.76" width="7.3" height="0.57" fill="#e4e4e4"/>
<rect x="533.45" y="359.28" width="7.3" height="0.61" fill="#d7d7d7"/>
<rect x="533.45" y="359.84" width="7.3" height="1.07" fill="#f6f6f6"/>
<rect x="533.45" y="360.86" width="7.3" height="1" fill="#e9e9e9"/>
<rect x="533.45" y="361.81" width="7.3" height="1.38" fill="#ededed"/>
<rect x="533.45" y="363.14" width="7.3" height="1.67" fill="#e1e1e1"/>
<rect x="533.45" y="364.76" width="7.3" height="1.56" fill="#fcfcfc"/>
<rect x="533.45" y="366.27" width="7.3" height="0.75" fill="#e7e7e7"/>
<rect x="533.45" y="366.97" width="7.3" height="1.67" fill="#fbfbfb"/>
<rect x="533.45" y="368.59" width="7.3" height="0.88" fill="#f7f7f7"/>
<rect x="533.45" y="369.41" width="7.3" height="1.2" fill="#fdfdfd"/>
<rect x="533.45" y="370.56" width="7.3" height="1.11" fill="#f8f8f8"/>
<rect x="533.45" y="371.62" width="7.3" height="1.51" fill="#f7f7f7"/>
<rect x="533.45" y="373.08" width="7.3" height="0.96" fill="#d9d9d9"/>
<rect x="533.45" y="373.99" width="7.3" height="1.17" fill="#d3d3d3"/>
<rect x="533.45" y="375.11" width="7.3" height="1.07" fill="#d9d9d9"/>
<rect x="533.45" y="376.12" width="7.3" height="1.57" fill="#c3c3c3"/>
<rect x="533.45" y="377.65" width="7.3" height="1.56" fill="#c3c3c3"/>
<rect x="533.45" y="379.16" width="7.3" height="1.7" fill="#bababa"/>
<rect x="533.45" y="380.81" width="7.3" height="1.72" fill="#c6c6c6"/>
<rect x="533.45" y="382.48" width="7.3" height="0.87" fill="#c3c3c3"/>
</g>
<path d="M533.45 292.05 A3.65 3.65 0 0 1 540.75 292.05 L540.75 301.2 A3.65 1.8 0 0 1 533.45 301.2 Z M533.45 303.6 A3.65 1.8 0 0 1 540.75 303.6 L540.75 379.65 A3.65 3.65 0 0 1 533.45 379.65 Z" fill="none" stroke="#9a9a9a" stroke-width="0.5"/>
<text x="537.1" y="390" font-size="4.1" text-anchor="middle" font-family="Liberation Serif, serif" fill="#222" stroke="#222" stroke-width="0.15">14</text>
<line x1="540.75" y1="310.6" x2="542.75" y2="310.6" stroke="#bbb" stroke-width="0.3"/>
<path d="M543.75 309L545.35 311.8L542.15 311.8Z" fill="#7a2a8e"/>
<text x="546.75" y="311.9" font-size="3.7" font-family="Liberation Serif, serif" fill="#222" stroke="#222" stroke-width="0.1">LTB4R2</text>
<line x1="540.75" y1="356.1" x2="542.75" y2="356.1" stroke="#bbb" stroke-width="0.3"/>
<circle cx="543.75" cy="356.1" r="1.55" fill="#e41a1c"/>
<text x="546.75" y="357.4" font-size="3.7" font-family="Liberation Serif, serif" fill="#e0242a" stroke="#e0242a" stroke-width="0.1">TGFB3</text>
<clipPath id="cp10"><path d="M563.45 305.95 A3.55 3.55 0 0 1 570.55 305.95 L570.55 334 A3.55 1.8 0 0 1 563.45 334 Z M563.45 336.4 A3.55 1.8 0 0 1 570.55 336.4 L570.55 379.75 A3.55 3.55 0 0 1 563.45 379.75 Z"/></clipPath>
<g clip-path="url(#cp10)">
<rect x="563.45" y="302.4" width="7.1" height="80.9" fill="#fff"/>
<rect x="563.45" y="302.4" width="7.1" height="1.49" fill="#d5d5d5"/>
<rect x="563.45" y="303.84" width="7.1" height="0.67" fill="#e2e2e2"/>
<rect x="563.45" y="304.46" width="7.1" height="1.16" fill="#e3e3e3"/>
<rect x="563.45" y="305.57" width="7.1" height="1.72" fill="#e8e8e8"/>
<rect x="563.45" y="307.23" width="7.1" height="1.95" fill="#e2e2e2"/>
<rect x="563.45" y="309.13" width="7.1" height="1.22" fill="#d7d7d7"/>
<rect x="563.45" y="310.3" width="7.1" height="0.66" fill="#e8e8e8"/>
<rect x="563.45" y="310.91" width="7.1" height="0.95" fill="#e2e2e2"/>
<rect x="563.45" y="311.81" width="7.1" height="1.26" fill="#dfdfdf"/>
<rect x="563.45" y="313.01" width="7.1" height="1.65" fill="#cbcbcb"/>
<rect x="563.45" y="314.62" width="7.1" height="0.82" fill="#ebebeb"/>
<rect x="563.45" y="315.38" width="7.1" height="0.57" fill="#dedede"/>
<rect x="563.45" y="315.91" width="7.1" height="0.59" fill="#e9e9e9"/>
<rect x="563.45" y="316.44" width="7.1" height="1.35" fill="#fdfdfd"/>
<rect x="563.45" y="317.74" width="7.1" height="0.87" fill="#fbfbfb"/>
<rect x="563.45" y="318.56" width="7.1" height="1.35" fill="#c3c3c3"/>
<rect x="563.45" y="319.86" width="7.1" height="0.75" fill="#cacaca"/>
<rect x="563.45" y="320.55" width="7.1" height="1.9" fill="#cdcdcd"/>
<rect x="563.45" y="322.41" width="7.1" height="1.57" fill="#bebebe"/>
<rect x="563.45" y="323.93" width="7.1" height="0.61" fill="#d3d3d3"/>
<rect x="563.45" y="324.49" width="7.1" height="1.92" fill="#bfbfbf"/>
<rect x="563.45" y="326.36" width="7.1" height="1.87" fill="#d4d4d4"/>
<rect x="563.45" y="328.18" width="7.1" height="0.6" fill="#bebebe"/>
<rect x="563.45" y="328.73" width="7.1" height="1.49" fill="#cbcbcb"/>
<rect x="563.45" y="330.17" width="7.1" height="1.44" fill="#bebebe"/>
<rect x="563.45" y="331.56" width="7.1" height="0.89" fill="#d1d1d1"/>
<rect x="563.45" y="332.4" width="7.1" height="1.86" fill="#c4c4c4"/>
<rect x="563.45" y="334.21" width="7.1" height="1.24" fill="#f8f8f8"/>
<rect x="563.45" y="335.4" width="7.1" height="1.43" fill="#e6e6e6"/>
<rect x="563.45" y="336.78" width="7.1" height="0.79" fill="#fcfcfc"/>
<rect x="563.45" y="337.52" width="7.1" height="1.81" fill="#fcfcfc"/>
<rect x="563.45" y="339.28" width="7.1" height="0.89" fill="#fcfcfc"/>
<rect x="563.45" y="340.12" width="7.1" height="1.88" fill="#fcfcfc"/>
<rect x="563.45" y="341.95" width="7.1" height="1.27" fill="#fcfcfc"/>
<rect x="563.45" y="343.18" width="7.1" height="1.37" fill="#fcfcfc"/>
<rect x="563.45" y="344.5" width="7.1" height="1.08" fill="#fcfcfc"/>
<rect x="563.45" y="345.53" width="7.1" height="1.57" fill="#fcfcfc"/>
<rect x="563.45" y="347.05" width="7.1" height="1.75" fill="#fcfcfc"/>
<rect x="563.45" y="348.75" width="7.1" height="0.65" fill="#ededed"/>
<rect x="563.45" y="349.34" width="7.1" height="0.7" fill="#fdfdfd"/>
<rect x="563.45" y="349.99" width="7.1" height="1.66" fill="#e1e1e1"/>
<rect x="563.45" y="351.6" width="7.1" height="1.2" fill="#e1e1e1"/>
<rect x="563.45" y="352.74" width="7.1" height="0.97" fill="#e4e4e4"/>
<rect x="563.45" y="353.67" width="7.1" height="1.82" fill="#eaeaea"/>
<rect x="563.45" y="355.43" width="7.1" height="0.8" fill="#e4e4e4"/>
<rect x="563.45" y="356.18" width="7.1" height="0.67" fill="#f5f5f5"/>
<rect x="563.45" y="356.8" width="7.1" height="1.6" fill="#f8f8f8"/>
<rect x="563.45" y="358.35" width="7.1" height="1.37" fill="#e6e6e6"/>
<rect x="563.45" y="359.67" width="7.1" height="1.51" fill="#e2e2e2"/>
<rect x="563.45" y="361.13" width="7.1" height="1.77" fill="#fcfcfc"/>
<rect x="563.45" y="362.85" width="7.1" height="1.3" fill="#d8d8d8"/>
<rect x="563.45" y="364.1" width="7.1" height="0.99" fill="#fcfcfc"/>
<rect x="563.45" y="365.03" width="7.1" height="1.32" fill="#fefefe"/>
<rect x="563.45" y="366.3" width="7.1" height="0.98" fill="#e4e4e4"/>
<rect x="563.45" y="367.23" width="7.1" height="1.49" fill="#e0e0e0"/>
<rect x="563.45" y="368.67" width="7.1" height="0.87" fill="#d7d7d7"/>
<rect x="563.45" y="369.49" width="7.1" height="0.99" fill="#eaeaea"/>
<rect x="563.45" y="370.43" width="7.1" height="0.66" fill="#f6f6f6"/>
<rect x="563.45" y="371.04" width="7.1" height="0.92" fill="#e2e2e2"/>
<rect x="563.45" y="371.91" width="7.1" height="1.85" fill="#cfcfcf"/>
<rect x="563.45" y="373.72" width="7.1" height="0.58" fill="#fcfcfc"/>
<rect x="563.45" y="374.25" width="7.1" height="1.58" fill="#dfdfdf"/>
<rect x="563.45" y="375.78" width="7.1" height="0.86" fill="#e2e2e2"/>
<rect x="563.45" y="376.59" width="7.1" height="0.96" fill="#f6f6f6"/>
<rect x="563.45" y="377.5" width="7.1" height="1.45" fill="#d3d3d3"/>
<rect x="563.45" y="378.91" width="7.1" height="1.88" fill="#f5f5f5"/>
<rect x="563.45" y="380.74" width="7.1" height="1.94" fill="#f6f6f6"/>
<rect x="563.45" y="382.63" width="7.1" height="0.72" fill="#e9e9e9"/>
</g>
<path d="M563.45 305.95 A3.55 3.55 0 0 1 570.55 305.95 L570.55 334 A3.55 1.8 0 0 1 563.45 334 Z M563.45 336.4 A3.55 1.8 0 0 1 570.55 336.4 L570.55 379.75 A3.55 3.55 0 0 1 563.45 379.75 Z" fill="none" stroke="#9a9a9a" stroke-width="0.5"/>
<text x="567" y="390" font-size="4.1" text-anchor="middle" font-family="Liberation Serif, serif" fill="#222" stroke="#222" stroke-width="0.15">16</text>
<line x1="570.55" y1="306.4" x2="572.55" y2="306.4" stroke="#bbb" stroke-width="0.3"/>
<rect x="572.1" y="304.95" width="2.9" height="2.9" fill="#4daf4a"/>
<text x="576.55" y="307.7" font-size="3.7" font-family="Liberation Serif, serif" fill="#222" stroke="#222" stroke-width="0.1">CORO7</text>
<line x1="570.55" y1="369.5" x2="572.55" y2="369.5" stroke="#bbb" stroke-width="0.3"/>
<rect x="572.1" y="368.05" width="2.9" height="2.9" fill="#4daf4a"/>
<text x="576.55" y="370.8" font-size="3.7" font-family="Liberation Serif, serif" fill="#222" stroke="#222" stroke-width="0.1">CTRB1</text>
<clipPath id="cp11"><path d="M594.45 311.85 A3.25 3.25 0 0 1 600.95 311.85 L600.95 329.5 A3.25 1.8 0 0 1 594.45 329.5 Z M594.45 331.9 A3.25 1.8 0 0 1 600.95 331.9 L600.95 380.05 A3.25 3.25 0 0 1 594.45 380.05 Z"/></clipPath>
<g clip-path="url(#cp11)">
<rect x="594.45" y="308.6" width="6.5" height="74.7" fill="#fff"/>
<rect x="594.45" y="308.6" width="6.5" height="1.06" fill="#f5f5f5"/>
<rect x="594.45" y="309.61" width="6.5" height="1.17" fill="#d8d8d8"/>
<rect x="594.45" y="310.73" width="6.5" height="1.26" fill="#f9f9f9"/>
<rect x="594.45" y="311.94" width="6.5" height="0.97" fill="#d7d7d7"/>
<rect x="594.45" y="312.86" width="6.5" height="1.41" fill="#f6f6f6"/>
<rect x="594.45" y="314.22" width="6.5" height="1.15" fill="#e7e7e7"/>
<rect x="594.45" y="315.32" width="6.5" height="0.58" fill="#dddddd"/>
<rect x="594.45" y="315.85" width="6.5" height="1.3" fill="#e8e8e8"/>
<rect x="594.45" y="317.1" width="6.5" height="0.78" fill="#e1e1e1"/>
<rect x="594.45" y="317.83" width="6.5" height="1.86" fill="#fdfdfd"/>
<rect x="594.45" y="319.64" width="6.5" height="1.9" fill="#fbfbfb"/>
<rect x="594.45" y="321.49" width="6.5" height="0.68" fill="#e4e4e4"/>
<rect x="594.45" y="322.11" width="6.5" height="0.81" fill="#ededed"/>
<rect x="594.45" y="322.88" width="6.5" height="1.21" fill="#f5f5f5"/>
<rect x="594.45" y="324.03" width="6.5" height="0.74" fill="#f5f5f5"/>
<rect x="594.45" y="324.72" width="6.5" height="0.82" fill="#e4e4e4"/>
<rect x="594.45" y="325.49" width="6.5" height="0.82" fill="#d2d2d2"/>
<rect x="594.45" y="326.25" width="6.5" height="1.18" fill="#f6f6f6"/>
<rect x="594.45" y="327.38" width="6.5" height="0.98" fill="#f9f9f9"/>
<rect x="594.45" y="328.31" width="6.5" height="1.17" fill="#e5e5e5"/>
<rect x="594.45" y="329.43" width="6.5" height="1.02" fill="#ececec"/>
<rect x="594.45" y="330.4" width="6.5" height="0.69" fill="#cccccc"/>
<rect x="594.45" y="331.05" width="6.5" height="1.43" fill="#f5f5f5"/>
<rect x="594.45" y="332.43" width="6.5" height="0.83" fill="#d1d1d1"/>
<rect x="594.45" y="333.21" width="6.5" height="1.13" fill="#c8c8c8"/>
<rect x="594.45" y="334.29" width="6.5" height="0.99" fill="#c6c6c6"/>
<rect x="594.45" y="335.23" width="6.5" height="1.18" fill="#cfcfcf"/>
<rect x="594.45" y="336.35" width="6.5" height="0.78" fill="#cbcbcb"/>
<rect x="594.45" y="337.09" width="6.5" height="1.9" fill="#dadada"/>
<rect x="594.45" y="338.93" width="6.5" height="0.95" fill="#cccccc"/>
<rect x="594.45" y="339.83" width="6.5" height="1.36" fill="#d7d7d7"/>
<rect x="594.45" y="341.14" width="6.5" height="1.54" fill="#c3c3c3"/>
<rect x="594.45" y="342.64" width="6.5" height="1.38" fill="#d9d9d9"/>
<rect x="594.45" y="343.97" width="6.5" height="1.92" fill="#c9c9c9"/>
<rect x="594.45" y="345.84" width="6.5" height="1.58" fill="#e9e9e9"/>
<rect x="594.45" y="347.37" width="6.5" height="1" fill="#d5d5d5"/>
<rect x="594.45" y="348.32" width="6.5" height="0.73" fill="#ededed"/>
<rect x="594.45" y="349" width="6.5" height="1.58" fill="#fcfcfc"/>
<rect x="594.45" y="350.53" width="6.5" height="1.78" fill="#d8d8d8"/>
<rect x="594.45" y="352.25" width="6.5" height="1.31" fill="#dadada"/>
<rect x="594.45" y="353.51" width="6.5" height="1.38" fill="#e0e0e0"/>
<rect x="594.45" y="354.84" width="6.5" height="0.94" fill="#dbdbdb"/>
<rect x="594.45" y="355.73" width="6.5" height="1.79" fill="#e6e6e6"/>
<rect x="594.45" y="357.47" width="6.5" height="1.76" fill="#e8e8e8"/>
<rect x="594.45" y="359.18" width="6.5" height="1.58" fill="#d2d2d2"/>
<rect x="594.45" y="360.71" width="6.5" height="0.72" fill="#e3e3e3"/>
<rect x="594.45" y="361.38" width="6.5" height="0.6" fill="#d8d8d8"/>
<rect x="594.45" y="361.93" width="6.5" height="1.87" fill="#d5d5d5"/>
<rect x="594.45" y="363.75" width="6.5" height="1.91" fill="#f6f6f6"/>
<rect x="594.45" y="365.61" width="6.5" height="1" fill="#d8d8d8"/>
<rect x="594.45" y="366.56" width="6.5" height="1.7" fill="#f8f8f8"/>
<rect x="594.45" y="368.21" width="6.5" height="1.73" fill="#ebebeb"/>
<rect x="594.45" y="369.9" width="6.5" height="1.71" fill="#f7f7f7"/>
<rect x="594.45" y="371.55" width="6.5" height="1.51" fill="#fcfcfc"/>
<rect x="594.45" y="373.01" width="6.5" height="0.65" fill="#e9e9e9"/>
<rect x="594.45" y="373.61" width="6.5" height="1.79" fill="#e4e4e4"/>
<rect x="594.45" y="375.35" width="6.5" height="1.18" fill="#f4f4f4"/>
<rect x="594.45" y="376.48" width="6.5" height="1.75" fill="#c5c5c5"/>
<rect x="594.45" y="378.19" width="6.5" height="0.86" fill="#f5f5f5"/>
<rect x="594.45" y="378.99" width="6.5" height="0.85" fill="#f7f7f7"/>
<rect x="594.45" y="379.79" width="6.5" height="1.09" fill="#e2e2e2"/>
<rect x="594.45" y="380.83" width="6.5" height="0.79" fill="#e4e4e4"/>
<rect x="594.45" y="381.58" width="6.5" height="1.43" fill="#e8e8e8"/>
<rect x="594.45" y="382.96" width="6.5" height="0.39" fill="#e1e1e1"/>
</g>
<path d="M594.45 311.85 A3.25 3.25 0 0 1 600.95 311.85 L600.95 329.5 A3.25 1.8 0 0 1 594.45 329.5 Z M594.45 331.9 A3.25 1.8 0 0 1 600.95 331.9 L600.95 380.05 A3.25 3.25 0 0 1 594.45 380.05 Z" fill="none" stroke="#9a9a9a" stroke-width="0.5"/>
<text x="597.7" y="390" font-size="4.1" text-anchor="middle" font-family="Liberation Serif, serif" fill="#222" stroke="#222" stroke-width="0.15">17</text>
<line x1="600.95" y1="310.8" x2="602.95" y2="310.8" stroke="#bbb" stroke-width="0.3"/>
<rect x="602.5" y="309.35" width="2.9" height="2.9" fill="#4daf4a"/>
<text x="606.95" y="312.1" font-size="3.7" font-family="Liberation Serif, serif" fill="#222" stroke="#222" stroke-width="0.1">TNFSF13</text>
<line x1="600.95" y1="315.7" x2="602.95" y2="315.7" stroke="#bbb" stroke-width="0.3"/>
<path d="M603.95 314.1L605.55 316.9L602.35 316.9Z" fill="#7a2a8e"/>
<text x="606.95" y="317" font-size="3.7" font-family="Liberation Serif, serif" fill="#e0242a" stroke="#e0242a" stroke-width="0.1">THRA</text>
<line x1="600.95" y1="320.2" x2="602.95" y2="320.2" stroke="#bbb" stroke-width="0.3"/>
<rect x="602.5" y="318.75" width="2.9" height="2.9" fill="#4daf4a"/>
<text x="606.95" y="321.5" font-size="3.7" font-family="Liberation Serif, serif" fill="#e0242a" stroke="#e0242a" stroke-width="0.1">NR1D1</text>
<line x1="600.95" y1="337.9" x2="602.95" y2="337.9" stroke="#bbb" stroke-width="0.3"/>
<path d="M603.95 336.3L605.55 339.1L602.35 339.1Z" fill="#7a2a8e"/>
<text x="606.95" y="339.2" font-size="3.7" font-family="Liberation Serif, serif" fill="#e0242a" stroke="#e0242a" stroke-width="0.1">POLR2A</text>
<line x1="600.95" y1="341.2" x2="602.95" y2="341.2" stroke="#bbb" stroke-width="0.3"/>
<path d="M603.95 339.6L605.55 342.4L602.35 342.4Z" fill="#7a2a8e"/>
<text x="606.95" y="342.5" font-size="3.7" font-family="Liberation Serif, serif" fill="#222" stroke="#222" stroke-width="0.1">SHBG</text>
<line x1="600.95" y1="346.8" x2="602.95" y2="346.8" stroke="#bbb" stroke-width="0.3"/>
<rect x="602.5" y="345.35" width="2.9" height="2.9" fill="#4daf4a"/>
<text x="606.95" y="348.1" font-size="3.7" font-family="Liberation Serif, serif" fill="#222" stroke="#222" stroke-width="0.1">HSD17B1</text>
<line x1="600.95" y1="350.1" x2="602.95" y2="350.1" stroke="#bbb" stroke-width="0.3"/>
<rect x="602.5" y="348.65" width="2.9" height="2.9" fill="#4daf4a"/>
<text x="606.95" y="351.4" font-size="3.7" font-family="Liberation Serif, serif" fill="#222" stroke="#222" stroke-width="0.1">TUBG2</text>
<clipPath id="cp12"><path d="M626.8 334.1 A3.4 3.4 0 0 1 633.6 334.1 L633.6 352.3 A3.4 1.8 0 0 1 626.8 352.3 Z M626.8 354.7 A3.4 1.8 0 0 1 633.6 354.7 L633.6 379.9 A3.4 3.4 0 0 1 626.8 379.9 Z"/></clipPath>
<g clip-path="url(#cp12)">
<rect x="626.8" y="330.7" width="6.8" height="52.6" fill="#fff"/>
<rect x="626.8" y="330.7" width="6.8" height="1.02" fill="#bebebe"/>
<rect x="626.8" y="331.67" width="6.8" height="0.91" fill="#c2c2c2"/>
<rect x="626.8" y="332.53" width="6.8" height="0.76" fill="#d5d5d5"/>
<rect x="626.8" y="333.25" width="6.8" height="1.22" fill="#cacaca"/>
<rect x="626.8" y="334.41" width="6.8" height="1.05" fill="#d4d4d4"/>
<rect x="626.8" y="335.42" width="6.8" height="1.33" fill="#cbcbcb"/>
<rect x="626.8" y="336.7" width="6.8" height="0.87" fill="#d3d3d3"/>
<rect x="626.8" y="337.52" width="6.8" height="1.88" fill="#cacaca"/>
<rect x="626.8" y="339.35" width="6.8" height="0.87" fill="#c2c2c2"/>
<rect x="626.8" y="340.17" width="6.8" height="1.85" fill="#d1d1d1"/>
<rect x="626.8" y="341.97" width="6.8" height="1.25" fill="#cbcbcb"/>
<rect x="626.8" y="343.18" width="6.8" height="1.78" fill="#c6c6c6"/>
<rect x="626.8" y="344.91" width="6.8" height="1.27" fill="#d1d1d1"/>
<rect x="626.8" y="346.13" width="6.8" height="1.42" fill="#fcfcfc"/>
<rect x="626.8" y="347.5" width="6.8" height="1.53" fill="#fbfbfb"/>
<rect x="626.8" y="348.99" width="6.8" height="1.82" fill="#fbfbfb"/>
<rect x="626.8" y="350.76" width="6.8" height="1.73" fill="#fdfdfd"/>
<rect x="626.8" y="352.44" width="6.8" height="1.31" fill="#dadada"/>
<rect x="626.8" y="353.7" width="6.8" height="1.57" fill="#efefef"/>
<rect x="626.8" y="355.22" width="6.8" height="1.27" fill="#fcfcfc"/>
<rect x="626.8" y="356.44" width="6.8" height="1.45" fill="#fcfcfc"/>
<rect x="626.8" y="357.84" width="6.8" height="0.73" fill="#fcfcfc"/>
<rect x="626.8" y="358.51" width="6.8" height="0.97" fill="#fcfcfc"/>
<rect x="626.8" y="359.43" width="6.8" height="1.91" fill="#fcfcfc"/>
<rect x="626.8" y="361.3" width="6.8" height="0.86" fill="#d7d7d7"/>
<rect x="626.8" y="362.11" width="6.8" height="1.18" fill="#f7f7f7"/>
<rect x="626.8" y="363.24" width="6.8" height="1.94" fill="#d4d4d4"/>
<rect x="626.8" y="365.13" width="6.8" height="1.21" fill="#cbcbcb"/>
<rect x="626.8" y="366.29" width="6.8" height="1.36" fill="#bababa"/>
<rect x="626.8" y="367.6" width="6.8" height="1.01" fill="#b9b9b9"/>
<rect x="626.8" y="368.56" width="6.8" height="1.71" fill="#c1c1c1"/>
<rect x="626.8" y="370.22" width="6.8" height="0.69" fill="#bcbcbc"/>
<rect x="626.8" y="370.86" width="6.8" height="0.98" fill="#c2c2c2"/>
<rect x="626.8" y="371.78" width="6.8" height="1.78" fill="#c1c1c1"/>
<rect x="626.8" y="373.51" width="6.8" height="1.37" fill="#c1c1c1"/>
<rect x="626.8" y="374.83" width="6.8" height="1.29" fill="#b5b5b5"/>
<rect x="626.8" y="376.07" width="6.8" height="0.8" fill="#c5c5c5"/>
<rect x="626.8" y="376.82" width="6.8" height="0.9" fill="#c2c2c2"/>
<rect x="626.8" y="377.68" width="6.8" height="1.9" fill="#bababa"/>
<rect x="626.8" y="379.53" width="6.8" height="0.68" fill="#b5b5b5"/>
<rect x="626.8" y="380.16" width="6.8" height="0.58" fill="#b9b9b9"/>
<rect x="626.8" y="380.69" width="6.8" height="1.48" fill="#b1b1b1"/>
<rect x="626.8" y="382.12" width="6.8" height="0.81" fill="#bdbdbd"/>
<rect x="626.8" y="382.88" width="6.8" height="0.47" fill="#b4b4b4"/>
</g>
<path d="M626.8 334.1 A3.4 3.4 0 0 1 633.6 334.1 L633.6 352.3 A3.4 1.8 0 0 1 626.8 352.3 Z M626.8 354.7 A3.4 1.8 0 0 1 633.6 354.7 L633.6 379.9 A3.4 3.4 0 0 1 626.8 379.9 Z" fill="none" stroke="#9a9a9a" stroke-width="0.5"/>
<text x="630.2" y="390" font-size="4.1" text-anchor="middle" font-family="Liberation Serif, serif" fill="#222" stroke="#222" stroke-width="0.15">19</text>
<line x1="633.6" y1="347.9" x2="635.6" y2="347.9" stroke="#bbb" stroke-width="0.3"/>
<rect x="635.15" y="346.45" width="2.9" height="2.9" fill="#4daf4a"/>
<text x="639.6" y="349.2" font-size="3.7" font-family="Liberation Serif, serif" fill="#e0242a" stroke="#e0242a" stroke-width="0.1">TGFB1</text>
<line x1="633.6" y1="367.9" x2="635.6" y2="367.9" stroke="#bbb" stroke-width="0.3"/>
<path d="M636.6 366.3L638.2 369.1L635 369.1Z" fill="#7a2a8e"/>
<text x="639.6" y="369.2" font-size="3.7" font-family="Liberation Serif, serif" fill="#222" stroke="#222" stroke-width="0.1">TSHZ3</text>
<clipPath id="cp13"><path d="M655.7 340.7 A3.3 3.3 0 0 1 662.3 340.7 L662.3 348.9 A3.3 1.8 0 0 1 655.7 348.9 Z M655.7 351.3 A3.3 1.8 0 0 1 662.3 351.3 L662.3 380 A3.3 3.3 0 0 1 655.7 380 Z"/></clipPath>
<g clip-path="url(#cp13)">
<rect x="655.7" y="337.4" width="6.6" height="45.9" fill="#fff"/>
<rect x="655.7" y="350.1" width="6.6" height="1.82" fill="#dbdbdb"/>
<rect x="655.7" y="351.87" width="6.6" height="1.57" fill="#dbdbdb"/>
<rect x="655.7" y="353.38" width="6.6" height="1.35" fill="#ababab"/>
<rect x="655.7" y="354.68" width="6.6" height="0.89" fill="#ababab"/>
<rect x="655.7" y="355.52" width="6.6" height="1.17" fill="#b1b1b1"/>
<rect x="655.7" y="356.65" width="6.6" height="1.6" fill="#b2b2b2"/>
<rect x="655.7" y="358.2" width="6.6" height="1.87" fill="#e3e3e3"/>
<rect x="655.7" y="360.02" width="6.6" height="1.49" fill="#e6e6e6"/>
<rect x="655.7" y="361.46" width="6.6" height="1.85" fill="#ebebeb"/>
<rect x="655.7" y="363.26" width="6.6" height="0.65" fill="#eaeaea"/>
<rect x="655.7" y="363.86" width="6.6" height="1" fill="#eeeeee"/>
<rect x="655.7" y="364.81" width="6.6" height="0.95" fill="#e8e8e8"/>
<rect x="655.7" y="365.7" width="6.6" height="1.24" fill="#e8e8e8"/>
<rect x="655.7" y="366.89" width="6.6" height="1" fill="#e7e7e7"/>
<rect x="655.7" y="367.85" width="6.6" height="1.21" fill="#f7f7f7"/>
<rect x="655.7" y="369.01" width="6.6" height="0.78" fill="#ebebeb"/>
<rect x="655.7" y="369.74" width="6.6" height="0.59" fill="#e6e6e6"/>
<rect x="655.7" y="370.28" width="6.6" height="1.16" fill="#f5f5f5"/>
<rect x="655.7" y="371.39" width="6.6" height="1.85" fill="#eeeeee"/>
<rect x="655.7" y="373.19" width="6.6" height="0.96" fill="#fcfcfc"/>
<rect x="655.7" y="374.1" width="6.6" height="1.07" fill="#e4e4e4"/>
<rect x="655.7" y="375.12" width="6.6" height="0.71" fill="#ededed"/>
<rect x="655.7" y="375.78" width="6.6" height="0.93" fill="#dbdbdb"/>
<rect x="655.7" y="376.66" width="6.6" height="1.86" fill="#f8f8f8"/>
<rect x="655.7" y="378.46" width="6.6" height="0.78" fill="#e6e6e6"/>
<rect x="655.7" y="379.19" width="6.6" height="1.44" fill="#e0e0e0"/>
<rect x="655.7" y="380.59" width="6.6" height="1.43" fill="#f7f7f7"/>
<rect x="655.7" y="381.96" width="6.6" height="1.39" fill="#dddddd"/>
</g>
<path d="M655.7 340.7 A3.3 3.3 0 0 1 662.3 340.7 L662.3 348.9 A3.3 1.8 0 0 1 655.7 348.9 Z M655.7 351.3 A3.3 1.8 0 0 1 662.3 351.3 L662.3 380 A3.3 3.3 0 0 1 655.7 380 Z" fill="none" stroke="#9a9a9a" stroke-width="0.5"/>
<text x="659" y="390" font-size="4.1" text-anchor="middle" font-family="Liberation Serif, serif" fill="#222" stroke="#222" stroke-width="0.15">22</text>
<line x1="662.3" y1="383.1" x2="664.3" y2="383.1" stroke="#bbb" stroke-width="0.3"/>
<path d="M665.3 381.5L666.9 384.3L663.7 384.3Z" fill="#7a2a8e"/>
<text x="668.3" y="384.4" font-size="3.7" font-family="Liberation Serif, serif" fill="#222" stroke="#222" stroke-width="0.1">CELSR1</text>
<defs><linearGradient id="lh" x1="0" y1="0" x2="1" y2="0"><stop offset="0" stop-color="#fbfbfb"/><stop offset="1" stop-color="#8a8a8a"/></linearGradient></defs>
<rect x="620.8" y="160.7" width="43.3" height="8.7" fill="url(#lh)"/>
<text x="620.6" y="176.99" font-size="7.2" stroke="#111" stroke-width="0.15" fill="#111">Low</text>
<text x="666.9" y="176.99" font-size="7.2" stroke="#111" stroke-width="0.15" text-anchor="end" fill="#111">High</text>
<rect x="620.7" y="183.7" width="4.6" height="4.6" fill="#4daf4a"/>
<circle cx="623.0" cy="195.4" r="2.35" fill="#e41a1c"/>
<path d="M623 201.4L625.5 206.0L620.5 206.0Z" fill="#7a2a8e"/>
<text x="629.8" y="188.59" font-size="7.2" stroke="#111" stroke-width="0.15" fill="#111">Brain</text>
<text x="629.8" y="197.99" font-size="7.2" stroke="#111" stroke-width="0.15" fill="#111">Blood_Brain</text>
<text x="629.8" y="206.79" font-size="7.2" stroke="#111" stroke-width="0.15" fill="#111">Blood</text>
</svg></body></html>
